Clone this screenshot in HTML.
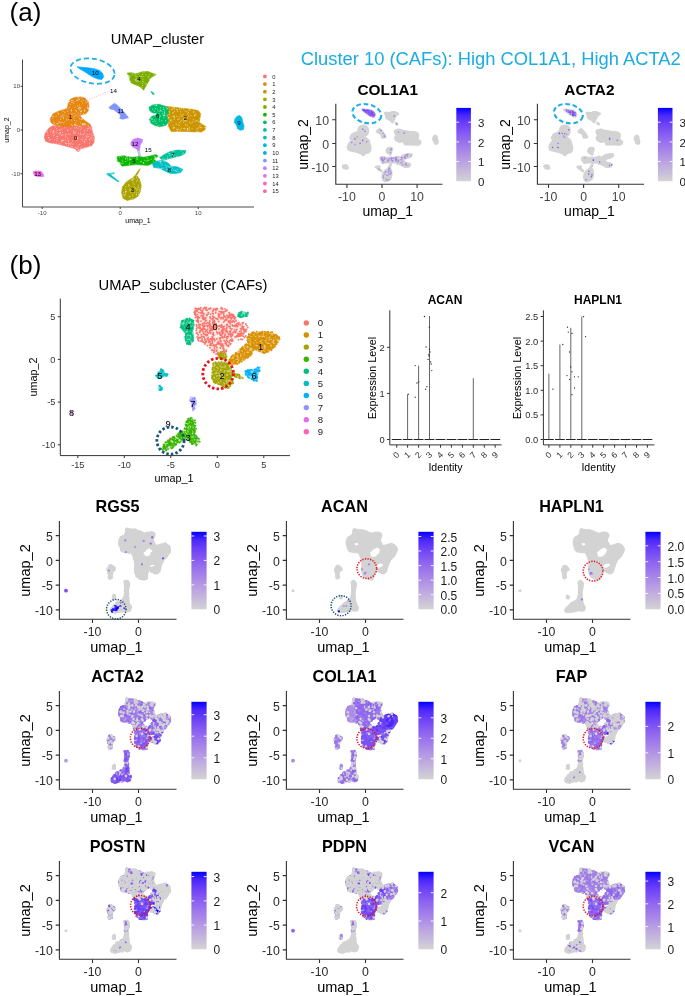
<!DOCTYPE html><html><head><meta charset="utf-8"><style>html,body{margin:0;padding:0;background:#fff;}svg{display:block;}</style></head><body>
<svg width="685" height="996" viewBox="0 0 685 996" style="font-family:'Liberation Sans',Arial,sans-serif">
<rect width="685" height="996" fill="#fff"/>
<defs><linearGradient id="cb" x1="0" y1="1" x2="0" y2="0"><stop offset="0" stop-color="#D3D3D3"/><stop offset="0.1" stop-color="#CAC0D9"/><stop offset="0.2" stop-color="#C1AEDE"/><stop offset="0.3" stop-color="#B69CE3"/><stop offset="0.4" stop-color="#AA89E7"/><stop offset="0.5" stop-color="#9D77EC"/><stop offset="0.6" stop-color="#8E65F0"/><stop offset="0.7" stop-color="#7C51F4"/><stop offset="0.8" stop-color="#673DF8"/><stop offset="0.9" stop-color="#4926FB"/><stop offset="1" stop-color="#0000FF"/></linearGradient></defs>
<text x="9.6" y="21.4" font-size="26">(a)</text>
<text x="9.6" y="274.1" font-size="26">(b)</text>
<text x="0.0" y="0.0" font-size="14.2" text-anchor="middle" transform="translate(157.4 43.6) scale(1.03 1)">UMAP_cluster</text>
<polygon points="77.0,66.7 82.6,67.3 88.4,67.8 94.2,68.7 99.3,70.2 102.6,73.2 103.7,76.9 101.8,79.5 97.9,79.1 93.5,77.3 89.1,74.7 84.3,71.5 79.9,69.0" fill="#00A9FF" stroke="#00A9FF" stroke-width="0.6" stroke-linejoin="round"/>
<polygon points="108.8,107.6 112.5,104.6 114.7,103.2 117.6,105.4 120.5,108.3 123.4,111.2 126.4,114.9 128.5,117.8 125.6,118.5 122.7,119.2 119.8,118.5 120.5,114.9 117.6,112.7 113.9,109.7 110.3,109.0" fill="#8494FF" stroke="#8494FF" stroke-width="0.6" stroke-linejoin="round"/>
<polygon points="46.8,130.9 49.0,128.0 52.6,125.8 59.2,126.2 68.0,125.8 78.2,123.6 85.5,123.6 89.6,123.6 91.3,126.5 92.5,132.4 94.5,136.8 93.9,142.6 91.6,145.8 86.2,147.3 81.1,148.7 78.9,151.6 76.7,150.9 75.3,148.7 68.0,146.7 59.2,144.3 50.4,142.9 45.8,141.4 44.3,137.5 45.0,133.8" fill="#F8766D" stroke="#F8766D" stroke-width="0.6" stroke-linejoin="round"/>
<polygon points="50.7,117.8 53.1,113.7 59.2,110.9 65.0,109.3 67.7,107.3 68.2,102.9 70.6,99.1 75.3,97.3 81.4,96.9 85.2,98.2 88.1,101.4 89.0,106.1 88.1,111.2 85.8,113.7 82.6,114.4 79.9,115.1 81.4,117.8 85.0,120.7 88.7,123.3 90.1,126.5 85.5,125.4 73.8,126.1 63.6,126.8 56.0,125.4 51.6,123.2 50.0,120.0" fill="#E68613" stroke="#E68613" stroke-width="0.6" stroke-linejoin="round"/>
<polygon points="127.0,73.0 131.7,72.8 136.1,73.7 141.9,71.8 148.0,71.4 150.9,72.8 156.2,74.4 153.3,76.3 150.4,78.1 148.2,82.3 146.0,85.9 143.6,90.3 141.6,88.1 138.7,85.9 134.3,84.5 130.5,82.3 129.6,78.4 128.5,75.4" fill="#7CAE00" stroke="#7CAE00" stroke-width="0.6" stroke-linejoin="round"/>
<polygon points="150.7,91.5 152.8,92.2 154.3,94.1 152.8,94.4" fill="#00C19A" stroke="#00C19A" stroke-width="0.6" stroke-linejoin="round"/>
<polygon points="166.0,106.4 172.6,107.1 181.3,108.3 193.0,109.3 198.4,110.8 200.6,113.4 199.9,119.2 199.1,122.2 202.0,124.3 205.8,126.5 205.1,129.7 201.3,131.9 194.5,131.9 185.7,131.4 178.4,131.4 171.1,131.4 168.6,126.5 167.9,120.7 167.2,114.9 166.4,110.5" fill="#CD9600" stroke="#CD9600" stroke-width="0.6" stroke-linejoin="round"/>
<polygon points="148.9,107.3 152.8,104.9 158.7,104.2 163.8,105.7 167.7,107.3 168.5,111.9 167.0,116.3 168.5,122.2 165.5,125.4 159.4,126.8 154.7,125.4 150.9,123.2 149.5,119.2 151.8,116.3 156.2,114.9 156.8,113.0 153.3,113.0 150.1,111.5" fill="#00BE67" stroke="#00BE67" stroke-width="0.6" stroke-linejoin="round"/>
<polygon points="130.9,142.4 133.3,139.2 138.0,138.0 142.6,139.6 141.9,142.4 140.4,144.6 139.7,149.0 139.0,150.7 135.8,148.5 132.6,147.1 130.7,144.6" fill="#C77CFF" stroke="#C77CFF" stroke-width="0.6" stroke-linejoin="round"/>
<polygon points="117.2,156.7 123.4,155.8 132.1,157.3 139.4,156.6 143.8,157.3 151.1,155.8 155.8,154.4 158.1,156.3 154.3,158.5 155.8,161.4 151.4,163.9 148.2,165.3 142.3,165.0 136.5,164.6 129.2,165.3 121.9,166.2 120.1,163.1 117.2,160.9" fill="#0CB702" stroke="#0CB702" stroke-width="0.6" stroke-linejoin="round"/>
<polygon points="159.6,157.7 164.2,154.5 170.1,151.6 177.4,150.1 185.8,150.4 185.1,153.4 180.6,155.8 174.5,157.3 168.6,158.8 162.8,160.4" fill="#00C19A" stroke="#00C19A" stroke-width="0.6" stroke-linejoin="round"/>
<polygon points="152.3,163.6 156.9,161.1 162.8,160.4 167.4,162.6 171.8,166.2 177.7,166.9 182.9,169.4 180.6,172.6 175.9,173.4 170.1,173.4 165.4,171.2 159.6,168.2 153.7,167.5" fill="#00BFC4" stroke="#00BFC4" stroke-width="0.6" stroke-linejoin="round"/>
<polygon points="140.1,168.7 138.7,172.3 136.8,175.3 139.7,179.6 141.2,185.5 140.4,191.3 138.2,196.0 133.9,198.9 127.0,200.4 123.1,198.2 121.6,192.8 122.3,186.9 126.7,181.5 132.6,177.9 135.5,175.0 137.7,171.6" fill="#ABA300" stroke="#ABA300" stroke-width="0.6" stroke-linejoin="round"/>
<polygon points="106.6,173.8 113.9,172.8 114.3,173.5 110.2,174.5 119.0,181.4 118.4,182.0 107.3,174.7" fill="#00BFC4" stroke="#00BFC4" stroke-width="0.6" stroke-linejoin="round"/>
<polygon points="234.9,119.0 237.0,116.2 239.8,115.5 241.9,117.6 242.7,121.8 244.1,126.1 243.4,129.6 240.5,130.3 237.7,128.9 236.3,124.7 234.2,122.6" fill="#00B8E7" stroke="#00B8E7" stroke-width="0.6" stroke-linejoin="round"/>
<polygon points="33.3,171.6 36.5,170.9 40.9,171.2 43.1,173.8 43.8,176.4 39.4,176.7 35.0,176.0 33.6,173.8" fill="#ED68ED" stroke="#ED68ED" stroke-width="0.6" stroke-linejoin="round"/>
<path d="M139.1,149.7L141.2,157.4M138.2,147.2L140.3,157.7" stroke="#C77CFF" stroke-width="0.5" fill="none"/>
<path d="M137.2,149.7L139.7,158.0" stroke="#0CB702" stroke-width="0.5" fill="none"/>
<path d="M56.3,138.9h0M62.9,140.5h0M75.7,125.4h0M57.3,130.2h0M94.3,136.8h0M86.3,137.0h0M76.4,127.8h0M76.2,147.9h0M70.6,144.4h0M78.0,125.4h0M82.4,140.2h0M87.8,136.9h0M80.4,148.2h0M80.2,149.4h0M88.4,126.3h0M51.1,129.7h0M92.8,135.8h0M75.8,132.1h0M69.8,134.4h0M61.9,140.0h0M78.6,149.7h0M78.0,128.2h0M89.7,139.6h0M80.2,129.5h0M86.1,139.7h0M64.9,127.8h0M88.1,124.9h0M75.2,124.9h0M80.4,132.9h0M74.4,124.5h0M54.2,135.0h0M75.0,128.0h0M89.3,134.2h0M67.4,138.2h0M76.6,140.3h0M72.4,141.0h0M91.5,137.8h0M66.0,143.8h0M56.2,132.1h0M93.4,138.2h0M65.2,139.9h0M76.1,125.3h0M75.8,136.7h0M78.4,133.5h0M79.8,144.3h0M78.3,150.6h0M56.9,136.4h0M74.1,132.6h0M62.6,132.4h0M62.8,140.3h0M59.4,134.2h0M83.1,124.4h0M72.9,144.2h0M59.9,129.9h0M84.7,130.3h0M53.7,135.8h0M79.4,126.5h0M60.5,133.0h0M86.2,135.9h0M87.3,128.4h0M61.2,141.8h0M88.7,136.3h0M55.6,127.0h0M70.9,129.0h0M84.8,147.1h0M53.5,131.4h0M84.8,141.6h0M84.8,133.3h0M50.8,131.8h0M84.2,131.2h0M61.7,135.3h0M65.4,135.1h0M90.5,128.0h0M90.9,129.8h0M81.7,147.1h0M77.6,138.2h0M58.8,133.2h0M73.9,131.7h0M85.0,124.9h0M89.7,143.1h0M89.5,139.8h0M52.9,132.0h0M77.6,138.3h0M75.0,133.2h0M68.3,145.5h0M62.0,129.1h0M71.2,146.5h0M85.7,123.8h0M75.9,147.8h0M46.8,131.2h0M57.8,138.4h0M65.5,136.9h0M83.3,123.7h0M48.6,137.7h0M60.2,132.4h0M61.9,141.7h0M73.8,133.7h0M53.9,132.8h0M50.5,139.2h0M80.3,134.3h0M63.1,140.6h0M83.6,134.3h0M84.5,141.1h0M66.0,134.1h0M69.2,143.3h0M65.4,143.1h0M67.4,130.5h0M71.2,143.1h0M47.9,135.5h0M91.3,134.1h0M89.4,145.8h0M57.5,136.6h0M77.6,148.5h0M84.1,142.3h0M81.2,139.4h0M49.5,140.1h0M83.2,124.9h0M88.5,128.6h0M78.1,147.1h0M92.1,139.8h0M84.4,124.6h0M82.8,137.9h0M80.2,126.6h0M47.4,132.7h0M72.6,146.8h0M56.5,128.7h0M56.9,140.9h0M82.1,134.6h0M62.8,134.7h0M61.9,135.3h0M48.5,137.6h0M93.2,135.2h0M81.8,128.1h0M79.0,144.8h0M78.1,138.1h0M68.6,141.6h0M89.4,127.8h0M90.3,138.1h0M66.6,143.8h0M53.7,131.1h0M54.3,140.0h0M60.1,130.1h0M79.0,150.3h0M59.2,143.4h0M73.7,131.1h0M68.4,134.3h0M53.0,133.7h0M68.4,140.4h0M85.6,139.2h0M68.5,143.8h0M87.3,134.8h0M67.8,130.0h0M56.1,143.7h0M78.2,150.5h0M87.2,130.4h0M53.8,130.9h0M53.7,143.4h0M84.5,123.8h0M60.2,122.8h0M79.3,99.5h0M53.7,121.9h0M73.3,117.1h0M67.5,111.4h0M58.4,114.4h0M88.4,108.6h0M71.9,100.5h0M61.0,116.8h0M54.5,123.4h0M86.5,99.8h0M87.8,108.1h0M81.0,119.6h0M61.9,117.1h0M76.3,121.0h0M60.7,119.5h0M71.5,100.3h0M69.8,107.4h0M78.8,117.2h0M72.7,102.3h0M75.9,115.8h0M57.2,123.5h0M76.3,100.6h0M87.4,101.1h0M63.3,118.5h0M74.0,113.5h0M76.0,110.6h0M52.8,118.3h0M80.3,113.2h0M79.7,107.6h0M70.3,104.3h0M80.9,107.5h0M71.7,120.0h0M64.2,122.2h0M81.3,118.7h0M66.7,119.1h0M82.7,119.3h0M73.8,101.3h0M71.2,113.9h0M81.4,97.8h0M82.2,123.6h0M88.1,108.4h0M72.2,114.3h0M77.6,105.9h0M84.5,111.4h0M74.1,118.6h0M50.1,120.0h0M76.6,111.6h0M71.0,110.7h0M57.8,112.7h0M75.9,110.2h0M72.7,125.6h0M85.8,101.0h0M71.6,124.7h0M63.0,122.9h0M77.9,100.9h0M79.7,107.2h0M82.4,124.8h0M84.6,110.0h0M80.4,111.4h0M78.1,113.0h0M66.9,116.3h0M62.2,110.8h0M80.4,108.9h0M57.2,123.8h0M78.9,107.9h0M64.9,112.7h0M73.9,103.6h0M81.4,101.2h0M68.5,102.7h0M68.0,109.1h0M78.2,98.4h0M66.2,108.8h0M69.1,101.8h0M75.0,107.3h0M79.2,105.1h0M81.6,110.8h0M87.5,105.9h0M52.2,116.5h0M86.1,102.9h0M82.3,124.4h0M62.2,115.1h0M61.8,122.3h0M63.4,117.2h0M87.3,102.1h0M79.7,118.9h0M83.5,113.5h0M87.1,107.8h0M81.3,111.3h0M78.9,115.0h0M78.5,108.5h0M69.6,101.5h0M78.5,97.6h0M68.7,119.6h0M77.2,99.8h0M59.5,122.1h0M75.8,123.2h0M85.0,110.4h0M72.8,100.2h0M53.2,116.3h0M56.1,116.2h0M59.2,125.8h0M58.8,113.7h0M66.8,120.3h0M74.3,120.5h0M71.5,102.5h0M83.1,100.3h0M58.0,123.6h0M58.9,121.7h0M74.7,116.1h0M80.6,123.0h0M63.9,114.9h0M82.7,103.1h0M71.6,110.8h0M79.2,99.2h0M63.9,111.4h0M79.5,109.6h0M76.0,115.0h0M74.6,124.8h0M71.5,109.4h0M149.6,79.1h0M132.4,73.2h0M148.1,76.9h0M142.2,83.5h0M135.1,79.6h0M148.8,76.8h0M130.0,77.0h0M139.0,72.8h0M137.9,74.4h0M136.1,80.1h0M142.4,81.6h0M135.3,80.1h0M135.7,76.0h0M130.8,81.4h0M142.7,74.5h0M128.5,75.2h0M139.6,77.8h0M129.7,77.3h0M139.2,76.3h0M145.3,84.2h0M134.2,73.9h0M141.9,87.1h0M143.1,76.7h0M139.1,81.2h0M132.0,74.8h0M143.0,79.1h0M137.3,80.0h0M155.0,74.3h0M136.2,81.3h0M144.9,71.9h0M143.8,81.8h0M141.2,76.7h0M137.8,81.1h0M145.8,75.1h0M153.9,74.8h0M136.2,76.5h0M136.3,78.8h0M135.2,73.8h0M129.3,75.7h0M142.4,85.5h0M129.0,76.4h0M141.1,76.4h0M143.0,72.2h0M146.7,83.6h0M149.2,74.7h0M173.5,127.4h0M181.2,109.1h0M177.2,109.7h0M171.8,109.6h0M180.0,129.8h0M169.1,111.3h0M180.1,130.7h0M185.3,124.4h0M179.7,125.5h0M197.1,120.9h0M184.5,120.1h0M183.6,120.0h0M189.7,130.2h0M204.4,127.8h0M172.7,113.2h0M174.1,107.7h0M197.6,131.7h0M193.3,119.8h0M187.5,117.7h0M171.8,121.7h0M178.9,119.3h0M180.9,114.5h0M180.3,121.7h0M200.3,127.7h0M177.4,131.3h0M176.7,109.5h0M185.9,125.1h0M179.6,122.9h0M177.2,131.1h0M184.0,118.6h0M187.2,128.7h0M183.6,122.2h0M168.7,117.3h0M199.8,126.2h0M180.6,111.9h0M187.9,129.0h0M183.2,128.5h0M194.3,115.6h0M178.0,119.3h0M181.9,115.9h0M192.0,128.7h0M189.3,110.1h0M174.7,115.9h0M190.5,110.0h0M169.2,114.6h0M187.5,129.9h0M187.3,125.2h0M199.0,127.8h0M193.2,109.5h0M184.9,129.1h0M177.4,111.2h0M198.8,121.7h0M169.4,107.1h0M176.9,116.3h0M186.4,117.4h0M191.0,123.2h0M183.4,108.9h0M169.3,117.7h0M196.0,131.7h0M185.1,117.2h0M201.6,127.5h0M179.2,117.1h0M189.2,129.0h0M174.0,116.4h0M169.5,122.8h0M186.9,121.0h0M169.4,112.3h0M184.7,128.3h0M187.5,113.7h0M187.0,111.6h0M177.9,129.4h0M171.3,120.0h0M190.7,115.5h0M196.6,129.6h0M200.2,125.2h0M174.1,107.9h0M183.2,114.4h0M173.7,128.6h0M174.6,127.4h0M174.4,111.2h0M181.3,128.1h0M182.0,116.3h0M173.1,112.8h0M176.5,124.1h0M179.5,109.2h0M174.8,117.7h0M188.5,112.7h0M193.9,111.9h0M192.7,122.0h0M173.0,125.6h0M181.7,120.2h0M189.8,122.4h0M197.3,128.3h0M185.5,121.2h0M176.7,129.3h0M193.3,112.1h0M198.6,131.6h0M185.2,111.0h0M194.6,115.0h0M195.2,121.3h0M170.3,119.9h0M199.9,118.6h0M187.5,128.4h0M183.8,119.0h0M189.2,127.4h0M174.1,108.8h0M196.3,120.5h0M178.1,129.2h0M205.4,127.7h0M195.8,113.8h0M195.3,115.3h0M185.1,120.9h0M175.9,124.2h0M188.4,116.2h0M170.4,120.5h0M178.7,124.9h0M172.9,116.5h0M173.8,116.8h0M189.0,109.1h0M168.2,118.7h0M174.0,119.3h0M172.6,109.0h0M187.4,130.0h0M165.9,115.9h0M156.7,105.7h0M154.3,111.3h0M167.4,115.0h0M157.4,110.1h0M167.7,108.4h0M160.1,115.8h0M152.8,109.2h0M168.2,122.1h0M163.3,124.6h0M150.8,120.1h0M163.6,109.3h0M157.8,126.2h0M155.3,121.4h0M152.1,119.3h0M154.2,115.7h0M156.2,123.9h0M163.5,115.6h0M162.3,113.9h0M164.6,110.0h0M159.5,117.4h0M156.5,105.3h0M152.2,118.7h0M153.0,121.4h0M158.8,125.8h0M165.5,120.7h0M156.2,105.2h0M159.8,121.1h0M166.9,108.8h0M163.4,115.2h0M163.4,107.6h0M159.5,119.3h0M160.7,107.8h0M151.6,118.3h0M166.2,107.3h0M164.3,113.0h0M160.9,110.2h0M154.4,120.0h0M159.0,111.6h0M164.6,113.0h0M164.7,114.3h0M162.0,111.6h0M164.6,112.0h0M150.8,111.3h0M160.1,116.5h0M160.6,110.8h0M155.5,108.6h0M160.0,110.2h0M163.8,117.8h0M161.9,120.8h0M159.1,113.8h0M154.9,105.6h0M164.4,115.5h0M141.0,161.8h0M122.2,160.3h0M136.8,157.3h0M117.7,160.0h0M119.2,162.4h0M129.7,160.0h0M129.5,158.0h0M122.7,161.8h0M147.7,160.7h0M148.7,160.4h0M144.8,160.4h0M120.0,162.4h0M146.3,161.0h0M133.2,159.9h0M129.7,163.1h0M127.8,160.0h0M127.7,158.6h0M143.8,163.2h0M125.5,158.4h0M119.6,157.2h0M141.1,161.6h0M127.1,156.5h0M121.2,156.5h0M137.7,157.4h0M153.3,161.1h0M131.1,159.5h0M147.9,158.7h0M146.9,157.6h0M126.2,157.1h0M125.3,161.5h0M143.5,163.0h0M121.5,163.4h0M136.8,158.9h0M137.8,159.5h0M125.4,159.1h0M143.6,162.8h0M154.6,156.7h0M122.9,163.6h0M154.0,155.8h0M129.2,164.5h0M154.3,159.5h0M123.2,156.9h0M151.1,159.4h0M130.1,159.6h0M155.2,157.4h0M130.2,158.9h0M127.2,157.0h0M155.6,157.1h0M154.1,158.3h0M129.6,156.9h0M173.8,155.9h0M170.0,155.3h0M167.4,158.7h0M181.1,150.9h0M163.6,160.0h0M174.2,151.3h0M183.3,152.9h0M164.8,159.6h0M167.7,156.9h0M162.4,159.3h0M170.0,153.7h0M176.8,156.2h0M182.5,153.7h0M173.8,154.3h0M168.3,153.1h0M171.1,158.0h0M172.2,151.4h0M164.0,158.8h0M172.2,154.1h0M169.4,153.8h0M173.9,155.0h0M172.6,154.8h0M166.7,169.7h0M160.2,161.4h0M168.8,171.3h0M178.2,171.8h0M163.9,161.8h0M175.1,170.7h0M173.9,170.0h0M171.3,170.3h0M158.1,167.3h0M168.3,169.1h0M176.8,171.5h0M160.9,163.4h0M165.7,165.4h0M168.2,169.4h0M162.0,164.7h0M175.8,170.5h0M161.3,161.3h0M180.7,169.8h0M170.5,165.6h0M158.9,161.7h0M163.0,168.2h0M172.2,166.3h0M172.5,168.2h0M171.2,166.8h0M168.3,166.7h0M167.1,166.1h0M160.3,162.1h0M169.5,167.9h0M166.2,167.7h0M161.1,168.9h0M177.2,169.1h0M161.3,168.5h0M170.2,166.8h0M138.4,185.1h0M132.4,180.2h0M132.1,179.7h0M138.3,187.1h0M126.3,191.2h0M136.3,175.9h0M138.5,194.6h0M130.0,190.9h0M135.3,188.3h0M125.1,194.0h0M123.5,192.3h0M129.4,196.5h0M136.5,190.4h0M130.0,189.9h0M138.8,192.1h0M139.8,190.7h0M128.6,184.8h0M136.2,194.5h0M134.3,184.1h0M125.4,186.7h0M130.9,199.2h0M138.9,187.3h0M124.8,194.9h0M136.5,181.1h0M125.6,189.4h0M125.7,192.7h0M132.8,194.8h0M139.3,189.7h0M129.0,186.4h0M130.1,189.1h0M136.4,177.5h0M125.4,191.8h0M137.7,189.4h0M125.8,191.5h0M131.8,180.5h0M133.1,182.9h0M134.3,192.5h0M132.8,198.6h0M134.5,187.0h0M137.1,188.4h0M133.0,178.5h0M130.9,192.6h0M129.1,185.3h0M124.8,195.9h0M136.6,192.8h0M123.2,194.6h0M129.9,196.8h0M133.8,178.6h0M137.5,179.9h0M139.2,181.4h0M132.3,195.9h0M133.1,179.7h0M136.4,194.8h0M132.9,188.5h0M127.9,181.6h0M109.1,174.3h0M112.1,173.6h0M111.0,173.4h0" stroke="#fff" stroke-width="0.9" stroke-linecap="round" fill="none" opacity="0.75"/>
<line x1="86.9" y1="100.3" x2="110.3" y2="90.8" stroke="#FF61CC" stroke-width="0.6" stroke-dasharray="0.8 1.2"/>
<text x="95.3" y="74.8" font-size="6.2" text-anchor="middle">10</text>
<text x="120.8" y="113.2" font-size="6.2" text-anchor="middle">11</text>
<text x="70.4" y="119.0" font-size="6.2" text-anchor="middle">1</text>
<text x="75.5" y="139.5" font-size="6.2" text-anchor="middle">0</text>
<text x="113.5" y="92.8" font-size="6.2" text-anchor="middle">14</text>
<text x="139.0" y="81.1" font-size="6.2" text-anchor="middle">4</text>
<text x="157.7" y="118.0" font-size="6.2" text-anchor="middle">6</text>
<text x="185.3" y="120.1" font-size="6.2" text-anchor="middle">2</text>
<text x="135.0" y="145.9" font-size="6.2" text-anchor="middle">12</text>
<text x="148.2" y="151.7" font-size="6.2" text-anchor="middle">15</text>
<text x="134.0" y="163.4" font-size="6.2" text-anchor="middle">5</text>
<text x="173.0" y="156.5" font-size="6.2" text-anchor="middle">7</text>
<text x="169.3" y="172.4" font-size="6.2" text-anchor="middle">8</text>
<text x="132.4" y="191.9" font-size="6.2" text-anchor="middle">3</text>
<text x="239.1" y="125.3" font-size="6.2" text-anchor="middle">9</text>
<text x="37.6" y="176.1" font-size="6.2" text-anchor="middle">13</text>
<ellipse cx="92.5" cy="71.1" rx="22.3" ry="12.3" transform="rotate(10 92.5 71.1)" fill="none" stroke="#1CAEE4" stroke-width="1.8" stroke-dasharray="5 3"/>
<path d="M22.5,59.5V207.0H254.0" fill="none" stroke="#333" stroke-width="0.9"/>
<path d="M42.2,207.0v2M120.2,207.0v2M198.2,207.0v2M22.5,86.3h-2M22.5,130.0h-2M22.5,173.7h-2" fill="none" stroke="#333" stroke-width="0.9"/>
<text x="20.0" y="88.3" font-size="6" text-anchor="end" fill="#444">10</text>
<text x="20.0" y="132.0" font-size="6" text-anchor="end" fill="#444">0</text>
<text x="20.0" y="175.7" font-size="6" text-anchor="end" fill="#444">-10</text>
<text x="42.2" y="215.0" font-size="6" text-anchor="middle" fill="#444">-10</text>
<text x="120.2" y="215.0" font-size="6" text-anchor="middle" fill="#444">0</text>
<text x="198.2" y="215.0" font-size="6" text-anchor="middle" fill="#444">10</text>
<text x="138.0" y="223.0" font-size="7" text-anchor="middle">umap_1</text>
<text x="9.0" y="130.0" font-size="7" text-anchor="middle" transform="rotate(-90 9.0 130.0)">umap_2</text>
<circle cx="264.9" cy="76.40" r="1.9" fill="#F8766D"/>
<text x="272.2" y="78.5" font-size="5.8" fill="#222">0</text>
<circle cx="264.9" cy="84.05" r="1.9" fill="#E68613"/>
<text x="272.2" y="86.2" font-size="5.8" fill="#222">1</text>
<circle cx="264.9" cy="91.70" r="1.9" fill="#CD9600"/>
<text x="272.2" y="93.8" font-size="5.8" fill="#222">2</text>
<circle cx="264.9" cy="99.35" r="1.9" fill="#ABA300"/>
<text x="272.2" y="101.5" font-size="5.8" fill="#222">3</text>
<circle cx="264.9" cy="107.00" r="1.9" fill="#7CAE00"/>
<text x="272.2" y="109.1" font-size="5.8" fill="#222">4</text>
<circle cx="264.9" cy="114.65" r="1.9" fill="#0CB702"/>
<text x="272.2" y="116.8" font-size="5.8" fill="#222">5</text>
<circle cx="264.9" cy="122.30" r="1.9" fill="#00BE67"/>
<text x="272.2" y="124.4" font-size="5.8" fill="#222">6</text>
<circle cx="264.9" cy="129.95" r="1.9" fill="#00C19A"/>
<text x="272.2" y="132.1" font-size="5.8" fill="#222">7</text>
<circle cx="264.9" cy="137.60" r="1.9" fill="#00BFC4"/>
<text x="272.2" y="139.7" font-size="5.8" fill="#222">8</text>
<circle cx="264.9" cy="145.25" r="1.9" fill="#00B8E7"/>
<text x="272.2" y="147.3" font-size="5.8" fill="#222">9</text>
<circle cx="264.9" cy="152.90" r="1.9" fill="#00A9FF"/>
<text x="272.2" y="155.0" font-size="5.8" fill="#222">10</text>
<circle cx="264.9" cy="160.55" r="1.9" fill="#8494FF"/>
<text x="272.2" y="162.7" font-size="5.8" fill="#222">11</text>
<circle cx="264.9" cy="168.20" r="1.9" fill="#C77CFF"/>
<text x="272.2" y="170.3" font-size="5.8" fill="#222">12</text>
<circle cx="264.9" cy="175.85" r="1.9" fill="#ED68ED"/>
<text x="272.2" y="178.0" font-size="5.8" fill="#222">13</text>
<circle cx="264.9" cy="183.50" r="1.9" fill="#FF61CC"/>
<text x="272.2" y="185.6" font-size="5.8" fill="#222">14</text>
<circle cx="264.9" cy="191.15" r="1.9" fill="#FF68A1"/>
<text x="272.2" y="193.2" font-size="5.8" fill="#222">15</text>
<text x="300.8" y="64.8" font-size="18.35" fill="#1AACE2">Cluster 10 (CAFs): High COL1A1, High ACTA2</text>
<text x="0.0" y="0.0" font-size="14.5" text-anchor="middle" font-weight="bold" transform="translate(387.8 94.6) scale(1.06 1)">COL1A1</text>
<g fill="#D3D3D3" stroke="#D3D3D3" stroke-width="2.4" stroke-linejoin="round"><polygon points="362.6,109.6 365.1,109.9 367.7,110.2 370.3,110.7 372.6,111.5 374.1,113.1 374.6,115.1 373.8,116.5 372.0,116.2 370.0,115.3 368.1,113.9 365.9,112.2 363.9,110.8"/><polygon points="376.9,131.5 378.5,129.9 379.5,129.1 380.8,130.3 382.1,131.9 383.4,133.4 384.8,135.4 385.7,137.0 384.4,137.3 383.1,137.7 381.8,137.3 382.1,135.4 380.8,134.2 379.2,132.7 377.6,132.3"/><polygon points="349.1,144.0 350.0,142.4 351.7,141.3 354.6,141.5 358.6,141.3 363.1,140.1 366.4,140.1 368.3,140.1 369.0,141.6 369.6,144.8 370.5,147.1 370.2,150.2 369.2,152.0 366.7,152.7 364.5,153.5 363.5,155.1 362.5,154.7 361.8,153.5 358.6,152.4 354.6,151.2 350.7,150.4 348.6,149.6 347.9,147.5 348.3,145.6"/><polygon points="350.8,137.0 351.9,134.8 354.6,133.3 357.2,132.4 358.4,131.3 358.7,129.0 359.7,126.9 361.8,126.0 364.6,125.8 366.3,126.5 367.6,128.2 368.0,130.7 367.6,133.4 366.5,134.8 365.1,135.2 363.9,135.5 364.6,137.0 366.2,138.5 367.9,139.9 368.5,141.6 366.4,141.0 361.2,141.4 356.6,141.8 353.2,141.0 351.2,139.8 350.5,138.1"/><polygon points="385.1,113.0 387.2,112.9 389.1,113.3 391.7,112.3 394.5,112.1 395.8,112.9 398.2,113.7 396.8,114.8 395.5,115.7 394.6,118.0 393.6,119.9 392.5,122.3 391.6,121.1 390.3,119.9 388.3,119.1 386.6,118.0 386.2,115.8 385.7,114.3"/><polygon points="395.7,122.9 396.6,123.3 397.3,124.3 396.6,124.4"/><polygon points="402.5,130.9 405.5,131.2 409.4,131.9 414.7,132.4 417.1,133.2 418.1,134.6 417.7,137.7 417.4,139.3 418.7,140.5 420.4,141.6 420.1,143.4 418.4,144.5 415.3,144.5 411.4,144.2 408.1,144.2 404.8,144.2 403.7,141.6 403.4,138.5 403.1,135.4 402.7,133.0"/><polygon points="394.9,131.3 396.6,130.1 399.3,129.7 401.6,130.5 403.3,131.3 403.7,133.8 403.0,136.2 403.7,139.3 402.3,141.0 399.6,141.8 397.5,141.0 395.8,139.8 395.1,137.7 396.2,136.2 398.2,135.4 398.4,134.4 396.8,134.4 395.4,133.6"/><polygon points="386.8,150.1 387.9,148.4 390.0,147.8 392.1,148.7 391.7,150.1 391.1,151.3 390.8,153.7 390.4,154.6 389.0,153.4 387.5,152.6 386.7,151.3"/><polygon points="380.7,157.8 383.4,157.3 387.3,158.1 390.6,157.7 392.6,158.1 395.9,157.3 398.0,156.6 399.0,157.6 397.3,158.7 398.0,160.3 396.0,161.6 394.6,162.4 391.9,162.3 389.3,162.0 386.0,162.4 382.8,162.9 382.0,161.2 380.7,160.1"/><polygon points="399.7,158.4 401.8,156.6 404.4,155.1 407.7,154.3 411.5,154.4 411.1,156.0 409.1,157.3 406.3,158.1 403.7,158.9 401.1,159.8"/><polygon points="396.4,161.5 398.5,160.2 401.1,159.8 403.2,160.9 405.2,162.9 407.8,163.3 410.1,164.6 409.1,166.3 407.0,166.7 404.4,166.7 402.3,165.5 399.7,164.0 397.0,163.6"/><polygon points="390.9,164.2 390.3,166.2 389.4,167.7 390.8,170.1 391.4,173.2 391.1,176.3 390.1,178.8 388.1,180.4 385.1,181.2 383.3,180.0 382.6,177.1 383.0,174.0 384.9,171.1 387.5,169.1 388.9,167.6 389.8,165.8"/><polygon points="375.9,167.0 379.2,166.4 379.4,166.8 377.5,167.3 381.5,171.0 381.2,171.3 376.2,167.4"/><polygon points="433.5,137.6 434.4,136.1 435.7,135.7 436.6,136.9 436.9,139.1 437.6,141.4 437.3,143.3 436.0,143.7 434.7,142.9 434.1,140.6 433.2,139.5"/><polygon points="343.0,165.8 344.4,165.4 346.4,165.5 347.4,167.0 347.7,168.4 345.8,168.5 343.8,168.1 343.1,167.0"/></g>
<polygon points="362.6,109.6 365.1,109.9 367.7,110.2 370.3,110.7 372.6,111.5 374.1,113.1 374.6,115.1 373.8,116.5 372.0,116.2 370.0,115.3 368.1,113.9 365.9,112.2 363.9,110.8" fill="#A480EA" stroke="#A480EA" stroke-width="2" stroke-linejoin="round"/>
<path d="M396.3,160.8h0M391.2,158.3h0M388.0,159.8h0M382.0,159.6h0M392.2,158.2h0M382.6,157.5h0M387.7,161.7h0M396.1,157.4h0M380.9,157.9h0M385.1,162.3h0M387.9,161.5h0M396.3,160.1h0M386.0,159.1h0M390.7,158.8h0M382.5,158.9h0M391.6,159.8h0M386.2,158.8h0M405.3,155.3h0M406.0,155.6h0M405.3,157.1h0M402.2,158.9h0M401.8,158.1h0M405.2,158.0h0M405.3,158.0h0M403.0,161.6h0M405.0,164.6h0M406.2,163.4h0M397.6,162.5h0M408.1,165.5h0M401.6,160.5h0M391.0,172.9h0M385.8,178.7h0M388.6,170.0h0M389.6,174.0h0M386.1,180.2h0M389.3,173.9h0M390.6,174.2h0M379.4,169.6h0" stroke="#BBA5E0" stroke-width="1.6" stroke-linecap="round" fill="none"/>
<path d="M384.3,135.2h0M382.9,133.3h0M354.9,144.6h0M357.3,136.7h0M398.4,132.1h0M390.5,152.5h0M391.4,148.9h0M395.7,160.7h0M384.6,158.0h0M382.4,160.8h0M388.8,160.1h0M389.0,158.7h0M383.9,158.8h0M391.4,159.0h0M396.9,159.6h0M384.3,159.4h0M381.6,158.1h0M392.0,160.3h0M384.5,159.3h0M382.7,162.7h0M383.4,160.4h0M389.0,159.1h0M391.9,160.7h0M396.8,157.7h0M406.2,154.7h0M401.0,159.5h0M405.1,158.3h0M407.5,156.3h0M405.2,158.3h0M405.5,157.6h0M407.3,155.1h0M407.7,154.4h0M411.0,156.0h0M405.0,156.5h0M404.0,157.2h0M400.8,162.7h0M398.6,160.4h0M398.6,161.3h0M406.2,165.1h0M401.5,162.9h0M398.1,161.4h0M402.8,164.7h0M406.4,165.0h0M405.7,164.3h0M383.2,177.7h0M386.7,175.1h0M391.2,172.5h0M384.4,174.3h0M383.3,176.1h0M385.7,171.4h0M390.2,173.9h0M385.5,172.4h0M387.3,180.0h0M388.2,172.3h0M389.0,179.7h0M390.2,170.8h0M388.0,175.6h0M389.0,171.2h0M388.7,169.6h0M378.7,169.2h0" stroke="#AD8EE6" stroke-width="1.6" stroke-linecap="round" fill="none"/>
<path d="M370.8,112.5h0M368.1,111.7h0M372.1,114.4h0M369.6,112.7h0M373.1,115.1h0M366.7,111.4h0M366.6,111.1h0M365.3,111.2h0M374.3,114.1h0M366.9,112.7h0M368.6,113.3h0M365.6,111.5h0M371.9,113.1h0M373.6,112.6h0M384.3,136.6h0M351.7,142.5h0M366.8,141.8h0M365.0,131.2h0M394.2,116.1h0M396.8,124.1h0M390.7,149.7h0M395.8,158.3h0M391.5,158.0h0M381.7,159.5h0M388.0,160.8h0M393.8,158.1h0M392.6,160.9h0M395.8,160.6h0M395.7,159.7h0M395.6,159.5h0M382.9,160.7h0M401.6,157.5h0M389.4,168.4h0" stroke="#9D77EC" stroke-width="1.6" stroke-linecap="round" fill="none"/>
<path d="M369.5,112.3h0M372.4,115.5h0M374.0,114.3h0M368.8,113.8h0M373.4,115.0h0M367.3,112.3h0M363.4,110.1h0M365.1,110.7h0M368.2,112.9h0M365.0,111.0h0M364.1,110.6h0M365.6,111.6h0M367.9,110.9h0M371.3,113.4h0M370.0,113.1h0M368.8,114.4h0M381.0,130.5h0M362.7,140.4h0M360.1,143.3h0M362.8,129.2h0M355.0,138.9h0M404.2,133.0h0" stroke="#8A60F1" stroke-width="1.6" stroke-linecap="round" fill="none"/>
<path d="M366.5,110.6h0M369.0,112.1h0M371.4,111.6h0M371.0,113.7h0M364.6,110.4h0M365.6,112.0h0M367.0,110.4h0M363.6,110.3h0M369.0,110.6h0M372.4,114.7h0M372.7,112.9h0M370.4,115.1h0M373.5,115.0h0M371.6,112.9h0M373.5,115.1h0" stroke="#7248F6" stroke-width="1.6" stroke-linecap="round" fill="none"/>
<path d="M335.8,103.8V184.3H442.5" fill="none" stroke="#333" stroke-width="1.1"/>
<path d="M346.9,184.3v3.6M382.0,184.3v3.6M417.1,184.3v3.6M335.8,119.8h-3.6M335.8,143.5h-3.6M335.8,166.5h-3.6" fill="none" stroke="#333" stroke-width="1.1"/>
<text x="329.0" y="125.3" font-size="12.3" text-anchor="end" fill="#444">10</text>
<text x="329.0" y="149.0" font-size="12.3" text-anchor="end" fill="#444">0</text>
<text x="329.0" y="172.0" font-size="12.3" text-anchor="end" fill="#444">-10</text>
<text x="346.9" y="200.6" font-size="12.3" text-anchor="middle" fill="#444">-10</text>
<text x="382.0" y="200.6" font-size="12.3" text-anchor="middle" fill="#444">0</text>
<text x="417.1" y="200.6" font-size="12.3" text-anchor="middle" fill="#444">10</text>
<text x="387.8" y="216.2" font-size="14" text-anchor="middle">umap_1</text>
<text x="308.0" y="144.5" font-size="14" text-anchor="middle" transform="rotate(-90 308.0 144.5)">umap_2</text>
<rect x="456.3" y="107.9" width="14.6" height="73.3" fill="url(#cb)"/>
<text x="477.9" y="186.0" font-size="11.5" fill="#1a1a1a">0</text>
<text x="477.9" y="166.4" font-size="11.5" fill="#1a1a1a">1</text>
<text x="477.9" y="146.7" font-size="11.5" fill="#1a1a1a">2</text>
<text x="477.9" y="127.1" font-size="11.5" fill="#1a1a1a">3</text>
<path d="M456.3,161.5h2.8M468.1,161.5h2.8M456.3,141.9h2.8M468.1,141.9h2.8M456.3,122.2h2.8M468.1,122.2h2.8" stroke="#fff" stroke-width="0.9"/>
<ellipse cx="366.8" cy="113.7" rx="14.6" ry="9.4" transform="rotate(12 366.8 113.7)" fill="none" stroke="#1CAEE4" stroke-width="2.1" stroke-dasharray="4.6 2.8"/>
<text x="0.0" y="0.0" font-size="14.5" text-anchor="middle" font-weight="bold" transform="translate(589.4 94.6) scale(1.06 1)">ACTA2</text>
<g fill="#D3D3D3" stroke="#D3D3D3" stroke-width="2.4" stroke-linejoin="round"><polygon points="564.2,109.6 566.7,109.9 569.3,110.2 571.9,110.7 574.2,111.5 575.7,113.1 576.2,115.1 575.4,116.5 573.6,116.2 571.6,115.3 569.7,113.9 567.5,112.2 565.5,110.8"/><polygon points="578.5,131.5 580.1,129.9 581.1,129.1 582.4,130.3 583.7,131.9 585.0,133.4 586.4,135.4 587.3,137.0 586.0,137.3 584.7,137.7 583.4,137.3 583.7,135.4 582.4,134.2 580.8,132.7 579.2,132.3"/><polygon points="550.7,144.0 551.6,142.4 553.3,141.3 556.2,141.5 560.2,141.3 564.7,140.1 568.0,140.1 569.9,140.1 570.6,141.6 571.2,144.8 572.1,147.1 571.8,150.2 570.8,152.0 568.3,152.7 566.1,153.5 565.1,155.1 564.1,154.7 563.4,153.5 560.2,152.4 556.2,151.2 552.3,150.4 550.2,149.6 549.5,147.5 549.9,145.6"/><polygon points="552.4,137.0 553.5,134.8 556.2,133.3 558.8,132.4 560.0,131.3 560.3,129.0 561.3,126.9 563.4,126.0 566.2,125.8 567.9,126.5 569.2,128.2 569.6,130.7 569.2,133.4 568.1,134.8 566.7,135.2 565.5,135.5 566.2,137.0 567.8,138.5 569.5,139.9 570.1,141.6 568.0,141.0 562.8,141.4 558.2,141.8 554.8,141.0 552.8,139.8 552.1,138.1"/><polygon points="586.7,113.0 588.8,112.9 590.7,113.3 593.3,112.3 596.1,112.1 597.4,112.9 599.8,113.7 598.4,114.8 597.1,115.7 596.2,118.0 595.2,119.9 594.1,122.3 593.2,121.1 591.9,119.9 589.9,119.1 588.2,118.0 587.8,115.8 587.3,114.3"/><polygon points="597.3,122.9 598.2,123.3 598.9,124.3 598.2,124.4"/><polygon points="604.1,130.9 607.1,131.2 611.0,131.9 616.3,132.4 618.7,133.2 619.7,134.6 619.3,137.7 619.0,139.3 620.3,140.5 622.0,141.6 621.7,143.4 620.0,144.5 616.9,144.5 613.0,144.2 609.7,144.2 606.4,144.2 605.3,141.6 605.0,138.5 604.7,135.4 604.3,133.0"/><polygon points="596.5,131.3 598.2,130.1 600.9,129.7 603.2,130.5 604.9,131.3 605.3,133.8 604.6,136.2 605.3,139.3 603.9,141.0 601.2,141.8 599.1,141.0 597.4,139.8 596.7,137.7 597.8,136.2 599.8,135.4 600.0,134.4 598.4,134.4 597.0,133.6"/><polygon points="588.4,150.1 589.5,148.4 591.6,147.8 593.7,148.7 593.3,150.1 592.7,151.3 592.4,153.7 592.0,154.6 590.6,153.4 589.1,152.6 588.3,151.3"/><polygon points="582.3,157.8 585.0,157.3 588.9,158.1 592.2,157.7 594.2,158.1 597.5,157.3 599.6,156.6 600.6,157.6 598.9,158.7 599.6,160.3 597.6,161.6 596.2,162.4 593.5,162.3 590.9,162.0 587.6,162.4 584.4,162.9 583.6,161.2 582.3,160.1"/><polygon points="601.3,158.4 603.4,156.6 606.0,155.1 609.3,154.3 613.1,154.4 612.7,156.0 610.7,157.3 607.9,158.1 605.3,158.9 602.7,159.8"/><polygon points="598.0,161.5 600.1,160.2 602.7,159.8 604.8,160.9 606.8,162.9 609.4,163.3 611.7,164.6 610.7,166.3 608.6,166.7 606.0,166.7 603.9,165.5 601.3,164.0 598.6,163.6"/><polygon points="592.5,164.2 591.9,166.2 591.0,167.7 592.4,170.1 593.0,173.2 592.7,176.3 591.7,178.8 589.7,180.4 586.7,181.2 584.9,180.0 584.2,177.1 584.6,174.0 586.5,171.1 589.1,169.1 590.5,167.6 591.4,165.8"/><polygon points="577.5,167.0 580.8,166.4 581.0,166.8 579.1,167.3 583.1,171.0 582.8,171.3 577.8,167.4"/><polygon points="635.1,137.6 636.0,136.1 637.3,135.7 638.2,136.9 638.5,139.1 639.2,141.4 638.9,143.3 637.6,143.7 636.3,142.9 635.7,140.6 634.8,139.5"/><polygon points="544.6,165.8 546.0,165.4 548.0,165.5 549.0,167.0 549.3,168.4 547.4,168.5 545.4,168.1 544.7,167.0"/></g>
<path d="M584.9,158.2h0" stroke="#BBA5E0" stroke-width="1.6" stroke-linecap="round" fill="none"/>
<path d="M569.9,112.3h0M572.8,115.1h0M575.3,113.1h0M568.7,111.6h0M575.8,115.1h0M563.3,136.0h0M566.6,134.3h0M609.5,138.2h0" stroke="#AD8EE6" stroke-width="1.6" stroke-linecap="round" fill="none"/>
<path d="M571.5,110.8h0M572.7,112.5h0M566.2,109.9h0M572.8,113.1h0M569.0,111.0h0M572.5,112.6h0M574.7,114.5h0M568.3,112.2h0M566.9,111.5h0M573.0,111.1h0M566.7,111.2h0M572.5,111.5h0M568.6,111.4h0M574.6,112.6h0M568.7,110.4h0M573.3,111.9h0M558.1,143.5h0M562.2,133.4h0M564.5,137.2h0M617.3,140.4h0M609.6,165.6h0M586.2,179.7h0" stroke="#9D77EC" stroke-width="1.6" stroke-linecap="round" fill="none"/>
<path d="M567.1,110.2h0M574.2,112.7h0M572.0,112.5h0M570.3,111.9h0M572.6,113.6h0M573.6,115.5h0M570.4,111.3h0M574.0,112.9h0M569.6,112.1h0M573.3,114.6h0M570.5,114.2h0M575.0,115.4h0M575.3,115.5h0M575.0,112.6h0M568.9,112.2h0M552.6,147.5h0M564.6,133.7h0M568.7,129.8h0M599.7,162.0h0M611.6,164.8h0M591.9,174.9h0M588.7,174.1h0M589.0,171.2h0M591.4,176.7h0" stroke="#8A60F1" stroke-width="1.6" stroke-linecap="round" fill="none"/>
<path d="M570.2,113.0h0M574.0,112.8h0M572.8,111.5h0M572.9,115.5h0M572.7,115.0h0M572.3,114.0h0M558.0,147.5h0M559.4,133.4h0M609.8,139.1h0" stroke="#7248F6" stroke-width="1.6" stroke-linecap="round" fill="none"/>
<path d="M593.3,160.1h0" stroke="#522DFB" stroke-width="1.6" stroke-linecap="round" fill="none"/>
<path d="M537.4,103.8V184.3H644.1" fill="none" stroke="#333" stroke-width="1.1"/>
<path d="M548.5,184.3v3.6M583.6,184.3v3.6M618.7,184.3v3.6M537.4,119.8h-3.6M537.4,143.5h-3.6M537.4,166.5h-3.6" fill="none" stroke="#333" stroke-width="1.1"/>
<text x="530.6" y="125.3" font-size="12.3" text-anchor="end" fill="#444">10</text>
<text x="530.6" y="149.0" font-size="12.3" text-anchor="end" fill="#444">0</text>
<text x="530.6" y="172.0" font-size="12.3" text-anchor="end" fill="#444">-10</text>
<text x="548.5" y="200.6" font-size="12.3" text-anchor="middle" fill="#444">-10</text>
<text x="583.6" y="200.6" font-size="12.3" text-anchor="middle" fill="#444">0</text>
<text x="618.7" y="200.6" font-size="12.3" text-anchor="middle" fill="#444">10</text>
<text x="589.4" y="216.2" font-size="14" text-anchor="middle">umap_1</text>
<text x="509.6" y="144.5" font-size="14" text-anchor="middle" transform="rotate(-90 509.6 144.5)">umap_2</text>
<rect x="657.9" y="107.9" width="14.6" height="73.3" fill="url(#cb)"/>
<text x="679.5" y="186.0" font-size="11.5" fill="#1a1a1a">0</text>
<text x="679.5" y="166.4" font-size="11.5" fill="#1a1a1a">1</text>
<text x="679.5" y="146.7" font-size="11.5" fill="#1a1a1a">2</text>
<text x="679.5" y="127.1" font-size="11.5" fill="#1a1a1a">3</text>
<path d="M657.9,161.5h2.8M669.7,161.5h2.8M657.9,141.9h2.8M669.7,141.9h2.8M657.9,122.2h2.8M669.7,122.2h2.8" stroke="#fff" stroke-width="0.9"/>
<ellipse cx="568.4" cy="113.7" rx="14.6" ry="9.4" transform="rotate(12 568.4 113.7)" fill="none" stroke="#1CAEE4" stroke-width="2.1" stroke-dasharray="4.6 2.8"/>
<text x="0.0" y="0.0" font-size="14.2" text-anchor="middle" transform="translate(182.9 289.9) scale(1.04 1)">UMAP_subcluster (CAFs)</text>
<polygon points="194.0,305.4 198.3,307.9 204.5,307.4 214.4,306.9 224.3,307.9 229.3,311.1 234.2,314.8 239.2,321.0 244.7,327.2 246.7,331.0 242.9,334.7 236.7,338.4 231.8,344.6 228.0,349.6 224.3,354.0 218.1,355.8 211.9,354.0 209.4,348.3 204.5,343.4 198.3,340.9 195.8,334.7 196.5,327.2 195.0,317.3 193.3,309.9" fill="#F8766D" opacity="0.15"/>
<polygon points="180.1,323.0 182.8,319.5 188.0,317.8 193.3,319.5 195.0,324.8 193.3,330.0 194.2,337.0 193.3,342.3 189.8,344.9 186.3,344.1 184.5,338.8 185.4,333.5 181.9,330.0 180.1,327.4" fill="#00BF7D" opacity="0.5"/>
<polygon points="237.1,313.4 242.3,311.1 248.5,312.5 247.6,316.0 242.3,317.8 238.0,316.9" fill="#00BF7D" opacity="0.5"/>
<polygon points="246.7,337.2 251.6,332.2 261.5,331.0 271.5,331.7 278.9,335.9 280.2,339.6 276.4,345.8 271.5,350.8 265.3,353.3 259.1,352.1 252.9,349.6 247.9,344.6" fill="#D89000" opacity="0.5"/>
<polygon points="228.0,362.0 231.8,355.8 239.2,349.6 246.7,343.4 254.1,349.6 251.6,355.0 244.2,360.7 236.7,364.5 230.5,365.7" fill="#D89000" opacity="0.5"/>
<polygon points="213.1,362.5 218.1,361.5 223.1,361.0 228.0,363.7 231.8,367.4 233.0,373.1 231.8,379.4 233.7,383.1 230.5,386.8 227.3,388.8 223.1,387.3 219.4,385.1 213.9,382.6 211.4,376.9 211.9,369.4" fill="#A3A500" opacity="0.5"/>
<polygon points="233.0,373.1 239.2,374.4 244.2,378.1 240.4,379.4 234.2,376.9" fill="#A3A500" opacity="0.5"/>
<polygon points="218.1,352.1 224.3,350.8 228.0,357.0 221.8,360.7 218.1,358.3" fill="#A3A500" opacity="0.5"/>
<polygon points="244.1,370.3 249.3,369.5 254.6,368.6 258.1,366.8 260.7,366.0 259.9,370.3 258.1,375.6 257.2,380.8 254.6,381.7 251.1,379.1 247.6,377.3 245.0,373.8" fill="#00B0F6" opacity="0.5"/>
<polygon points="155.5,375.8 157.7,372.8 160.7,368.5 162.8,369.9 165.0,372.8 169.4,374.3 166.5,376.5 162.1,378.0 158.5,378.7 156.3,378.0" fill="#00BFC4" opacity="0.5"/>
<polygon points="158.5,385.3 160.7,384.5 162.8,388.2 162.1,390.4 159.2,390.4 158.0,388.2" fill="#00BFC4" opacity="0.5"/>
<polygon points="189.9,396.2 194.2,396.9 197.2,401.3 195.7,405.7 194.2,410.1 192.8,412.3 192.0,408.6 191.3,404.2 189.9,399.9" fill="#9590FF" opacity="0.5"/>
<polygon points="187.1,418.2 191.7,416.6 195.4,420.3 196.3,428.9 194.7,433.5 199.3,438.1 200.3,442.7 196.3,445.8 191.7,444.2 188.6,440.6 184.0,439.6 179.4,443.3 173.3,447.9 166.5,451.0 161.0,449.4 163.5,443.6 171.1,437.5 180.3,432.0 184.9,427.4 185.5,421.2" fill="#39B600" opacity="0.3"/>
<polygon points="70.5,411.5 73.0,411.5 73.2,414.5 70.5,414.5" fill="#E76BF3" opacity="0.5"/>
<path d="M217.4,333.6h0M242.6,328.9h0M220.4,335.0h0M203.1,331.2h0M226.9,345.3h0M198.3,320.7h0M228.2,336.4h0M221.5,308.4h0M203.4,317.6h0M216.8,347.8h0M221.0,337.6h0M220.0,338.8h0M217.7,319.4h0M210.1,317.0h0M208.7,308.9h0M234.2,325.6h0M238.5,324.9h0M241.9,329.1h0M197.2,337.1h0M234.8,319.0h0M197.9,322.1h0M199.6,317.8h0M198.7,308.4h0M223.1,327.9h0M203.5,342.3h0M200.3,337.8h0M199.5,326.6h0M204.7,319.0h0M204.5,325.3h0M204.7,318.4h0M234.5,322.0h0M209.1,309.1h0M198.1,334.7h0M206.3,335.7h0M213.1,328.2h0M244.5,329.8h0M224.0,349.0h0M203.0,313.2h0M206.6,315.0h0M240.4,335.8h0M215.8,310.6h0M206.0,340.9h0M225.1,320.2h0M202.7,341.7h0M197.0,316.9h0M223.1,348.3h0M226.1,319.5h0M217.1,308.4h0M202.7,324.0h0M223.8,312.0h0M212.6,350.3h0M230.2,334.8h0M219.0,342.2h0M197.3,332.9h0M232.6,340.8h0M212.1,339.9h0M215.6,345.2h0M239.4,334.2h0M226.6,324.7h0M224.4,336.1h0M197.6,337.6h0M232.2,325.0h0M232.5,334.7h0M216.8,347.6h0M219.0,317.0h0M230.6,330.4h0M226.1,351.8h0M209.4,339.6h0M204.1,313.9h0M216.9,350.3h0M210.7,338.9h0M203.9,327.1h0M240.3,324.8h0M224.4,321.3h0M200.6,330.4h0M208.1,313.9h0M217.3,319.3h0M204.7,326.2h0M226.7,330.3h0M210.1,347.7h0M231.1,334.1h0M209.8,345.3h0M194.3,312.2h0M200.8,307.8h0M226.9,327.9h0M226.9,338.4h0M229.8,315.4h0M218.6,314.4h0M231.4,314.4h0M207.8,322.8h0M230.5,331.6h0M226.1,343.5h0M214.3,345.3h0M200.2,328.2h0M213.4,334.0h0M243.7,328.8h0M228.0,315.7h0M227.5,341.5h0M221.9,345.2h0M239.0,322.9h0M197.7,327.6h0M222.7,344.1h0M211.2,345.1h0M200.8,312.9h0M220.9,341.8h0M243.8,330.2h0M205.1,331.9h0M208.8,342.1h0M227.4,331.7h0M238.3,333.6h0M209.9,324.6h0M245.0,331.8h0M223.9,315.5h0M221.9,330.7h0M245.0,331.4h0M214.7,345.8h0M223.3,330.1h0M222.0,326.2h0M207.7,329.2h0M200.1,327.2h0M218.7,321.4h0M203.5,336.5h0M203.6,316.8h0M230.0,321.6h0M212.3,336.6h0M199.8,331.1h0M206.7,315.4h0M221.6,327.4h0M213.3,326.2h0M221.5,313.4h0M204.2,337.2h0M227.4,332.1h0M238.7,336.2h0M206.1,342.0h0M207.1,310.3h0M237.7,326.6h0M214.8,339.9h0M220.3,343.6h0M220.1,339.9h0M203.4,308.9h0M222.7,331.3h0M223.6,312.8h0M203.1,315.7h0M217.9,343.9h0M210.7,328.9h0M220.8,327.1h0M203.0,328.3h0M232.7,325.8h0M203.7,313.7h0M226.9,325.8h0M225.3,330.8h0M236.8,325.8h0M230.4,344.0h0M234.1,325.8h0M211.5,329.0h0M227.4,336.8h0M228.8,322.4h0M228.5,334.1h0M221.7,325.0h0M230.7,343.8h0M226.1,342.6h0M207.0,325.6h0M196.0,315.2h0M213.3,310.3h0M222.6,331.0h0M225.2,343.6h0M201.8,329.2h0M202.3,330.4h0M243.7,326.6h0M221.4,335.5h0M212.8,319.8h0M228.2,333.6h0M208.4,341.5h0M206.4,307.5h0M214.1,350.6h0M216.2,329.5h0M221.2,352.6h0M231.9,329.0h0M225.5,311.2h0M226.6,328.3h0M204.2,308.0h0M221.5,311.7h0M216.9,339.0h0M217.6,318.6h0M224.4,326.5h0M234.8,332.1h0M232.5,317.4h0M235.1,336.9h0M212.5,319.1h0M229.8,333.9h0M224.9,337.3h0M233.5,315.0h0M195.4,308.5h0M207.7,326.8h0M226.6,310.6h0M222.2,309.0h0M197.9,339.5h0M222.7,337.2h0M213.2,329.5h0M204.5,322.7h0M197.3,311.4h0M236.5,336.8h0M234.3,316.1h0M215.9,318.4h0M236.5,324.0h0M210.7,333.0h0M216.1,324.0h0M197.5,309.6h0M223.4,329.8h0M229.9,320.4h0M204.7,338.7h0M197.7,320.7h0M232.0,340.4h0M208.4,312.6h0M212.4,342.0h0M212.8,311.3h0M231.1,334.1h0M242.0,327.5h0M236.1,320.7h0M210.2,325.5h0M206.5,323.6h0M212.8,323.7h0M214.4,324.9h0M203.7,333.8h0M235.8,332.6h0M237.9,333.7h0M222.3,334.0h0M222.5,345.1h0M197.8,309.5h0M197.8,337.3h0M227.9,317.8h0M205.1,344.0h0M221.1,343.9h0M214.3,322.4h0M219.6,332.5h0M231.8,341.1h0M242.1,326.1h0M221.2,341.2h0M236.1,326.6h0M215.7,312.8h0M213.3,313.8h0M204.2,326.8h0M196.5,320.9h0M199.4,338.0h0M196.6,328.5h0M224.5,351.2h0M195.2,310.9h0M203.1,316.3h0M205.9,341.5h0M225.0,316.7h0M203.2,319.5h0M209.9,333.0h0M236.9,329.5h0M222.5,353.6h0M219.0,316.5h0M236.1,324.8h0M221.4,331.4h0M228.4,317.4h0M213.1,345.5h0M231.4,335.9h0M201.7,313.3h0M210.5,318.5h0M239.7,331.4h0M207.5,332.3h0M197.7,319.0h0M218.9,329.0h0M235.4,326.4h0M222.3,331.9h0M209.9,321.0h0M197.3,320.8h0M218.2,341.4h0M212.5,340.0h0M198.9,325.3h0M217.9,354.1h0M231.2,317.4h0M223.4,328.5h0M226.2,320.0h0M213.4,332.6h0M209.2,322.4h0M214.2,339.0h0M207.0,315.5h0M232.3,322.0h0M243.7,333.7h0M231.9,322.1h0M200.8,310.1h0M229.5,341.1h0M202.9,325.7h0M238.0,335.3h0M198.1,316.8h0M201.7,311.6h0M215.0,309.1h0M242.4,326.9h0M220.6,338.0h0M213.9,322.1h0M214.7,340.7h0M228.5,336.1h0M211.6,338.2h0M199.0,324.4h0M220.5,345.1h0M237.3,336.2h0M241.5,333.0h0M212.1,330.6h0M200.9,341.3h0M245.9,331.4h0M226.8,315.4h0M197.7,317.7h0M224.1,340.5h0M212.6,328.7h0M222.3,333.6h0M223.2,318.7h0M236.9,335.7h0M206.1,334.3h0M222.5,309.2h0M195.0,314.5h0M228.4,320.9h0M229.1,342.6h0M213.7,335.2h0M203.9,329.0h0M200.9,324.9h0M223.7,314.1h0M221.0,318.7h0M223.6,322.1h0M229.1,312.7h0M218.4,326.1h0M226.6,340.1h0M215.1,327.3h0M223.5,351.0h0M221.4,331.8h0M216.4,351.0h0M210.4,308.1h0M232.4,335.5h0M233.4,320.7h0M225.0,308.9h0M199.9,327.9h0M220.1,325.4h0M221.4,317.4h0M209.6,325.3h0M205.9,308.8h0M215.8,346.0h0M205.1,343.0h0M223.5,350.9h0M199.9,332.5h0M206.3,320.5h0M210.6,308.5h0M214.5,323.4h0M209.7,330.5h0M218.5,315.8h0M238.0,323.2h0M218.5,314.0h0M204.1,337.3h0M196.0,310.7h0M232.0,321.2h0M217.0,309.4h0M205.2,320.9h0M231.2,315.3h0M203.0,317.3h0M228.8,345.2h0M213.2,338.7h0M240.5,335.1h0M205.5,320.6h0M208.1,337.6h0M216.8,332.0h0M221.6,307.7h0M225.3,319.7h0M197.9,319.8h0M233.6,317.8h0M208.2,333.0h0M217.9,343.2h0M213.8,352.2h0M220.0,314.5h0M223.0,337.9h0M212.5,338.6h0M235.1,331.4h0M220.3,348.0h0M229.8,331.6h0M225.7,317.2h0M216.8,344.3h0M205.9,330.0h0M205.1,334.6h0M225.1,341.4h0M223.8,349.4h0M202.9,313.0h0M216.5,327.6h0M207.3,345.6h0M223.6,332.8h0M235.5,317.4h0M201.1,321.1h0M226.4,331.9h0M207.4,335.0h0M202.4,318.2h0M201.8,340.2h0M196.6,326.1h0M212.7,316.3h0M219.4,343.7h0M217.6,342.9h0M195.4,317.5h0M214.3,320.4h0M215.9,309.2h0M205.6,318.1h0M222.7,317.6h0M217.9,352.4h0M212.7,322.4h0M211.6,340.4h0M239.4,335.1h0M240.6,328.7h0M214.3,347.9h0M213.6,344.8h0M204.8,322.9h0M203.1,333.1h0M202.0,315.6h0M204.7,329.0h0M209.8,327.9h0M213.7,309.1h0M230.2,323.7h0M203.0,318.6h0M214.3,351.9h0M231.5,318.9h0M212.6,313.1h0M210.5,324.8h0M210.6,344.2h0M221.0,308.2h0M214.3,317.4h0M195.5,313.0h0M210.0,326.8h0M222.3,312.2h0M231.0,318.5h0M232.0,339.0h0M201.1,315.7h0M208.3,341.3h0M214.9,324.9h0M208.9,322.8h0M204.8,307.4h0M223.5,346.1h0M204.8,340.1h0M227.0,309.9h0M216.1,325.2h0M196.5,324.7h0M210.8,330.4h0M208.2,313.4h0M214.8,329.3h0M202.2,338.9h0M206.1,310.1h0M211.5,326.7h0M201.3,334.7h0M230.7,333.3h0M214.2,323.7h0M196.6,325.8h0M196.2,330.4h0M224.6,329.0h0M210.7,318.2h0M240.9,333.9h0M207.3,339.0h0M203.2,329.0h0M212.6,334.4h0M226.8,336.7h0M215.2,326.3h0M240.2,324.6h0M200.5,330.9h0M209.8,323.5h0M203.6,316.9h0M229.6,317.2h0M214.3,317.4h0M219.6,338.1h0M222.5,336.8h0M223.2,347.3h0M211.8,350.0h0M210.0,341.5h0M230.4,340.0h0M201.8,336.7h0M219.5,333.8h0M213.0,319.8h0M233.3,332.3h0M205.9,317.9h0M210.6,314.3h0M220.7,311.7h0M196.7,308.8h0M198.7,340.9h0M199.3,328.1h0M234.5,329.6h0M206.8,331.0h0M235.8,325.2h0M231.5,318.1h0M231.5,321.9h0M211.1,343.6h0M223.6,326.6h0M231.0,336.8h0M200.0,324.4h0M229.0,317.0h0M224.5,352.8h0M230.0,326.5h0M227.0,325.4h0M208.6,342.2h0M222.2,329.7h0M213.2,321.0h0M208.4,325.1h0M226.3,344.0h0M230.3,332.9h0M202.6,310.8h0M219.3,311.5h0M223.5,312.6h0M226.7,319.2h0M205.4,329.7h0M212.8,318.5h0M196.0,308.6h0M197.5,314.6h0M219.1,326.3h0M236.4,325.3h0M196.4,333.1h0M228.3,336.8h0M216.9,347.4h0M232.0,314.2h0M194.7,313.9h0M199.6,309.2h0M212.4,343.4h0M209.8,331.3h0M221.4,346.2h0M214.6,345.9h0M230.9,318.0h0M224.1,316.8h0M214.0,324.0h0M228.3,346.2h0M212.8,337.5h0M212.2,319.5h0M198.3,322.3h0M232.9,316.0h0M233.0,332.9h0M229.6,314.3h0M198.9,312.6h0M212.0,327.1h0M214.8,321.6h0M222.0,353.4h0M210.4,343.4h0M216.2,353.9h0M205.0,326.0h0M231.0,314.3h0M207.9,339.5h0M203.1,323.4h0M227.2,324.4h0M227.7,316.1h0M226.2,350.1h0M220.2,334.0h0M230.1,328.2h0M228.8,326.5h0M213.8,317.0h0M225.3,334.2h0M226.8,327.9h0M225.0,335.3h0M218.3,355.4h0M232.7,321.2h0M214.7,349.1h0M219.5,317.2h0M235.9,331.2h0M217.5,332.4h0M208.2,337.8h0M245.8,335.9h0M240.9,339.2h0M240.5,335.0h0M242.7,333.7h0M248.7,334.0h0M242.5,323.7h0M244.2,331.7h0M247.8,327.5h0M245.5,329.6h0M241.3,330.9h0M243.1,336.1h0M246.5,329.5h0M243.3,322.6h0M244.5,337.3h0M242.3,323.3h0M246.7,325.6h0M240.0,336.0h0M242.5,327.4h0M245.7,324.0h0M244.2,331.6h0M240.4,333.5h0M238.4,339.6h0M242.4,323.5h0M242.5,339.5h0M241.7,335.6h0" stroke="#F8766D" stroke-width="1.9" stroke-linecap="round" fill="none"/>
<path d="M254.1,332.7h0M257.0,347.9h0M277.6,342.2h0M252.0,338.3h0M265.7,337.5h0M262.1,344.4h0M275.0,341.3h0M272.2,339.9h0M252.5,347.4h0M254.0,348.8h0M263.4,345.5h0M262.2,335.0h0M247.2,337.8h0M248.0,336.8h0M267.4,339.2h0M262.5,344.9h0M257.3,338.9h0M276.3,343.9h0M260.6,343.0h0M262.1,338.4h0M277.3,336.2h0M276.2,334.6h0M263.7,352.9h0M256.3,334.8h0M270.9,336.2h0M266.2,334.5h0M278.4,337.3h0M249.9,346.3h0M258.3,343.4h0M263.3,351.6h0M263.9,339.4h0M255.7,343.8h0M267.8,341.3h0M249.7,342.1h0M262.8,345.3h0M279.2,337.2h0M261.5,332.8h0M273.5,336.2h0M263.5,340.5h0M265.3,352.1h0M263.1,341.7h0M256.4,349.7h0M263.5,338.6h0M253.2,335.8h0M269.6,348.8h0M270.5,349.0h0M273.5,334.9h0M274.0,337.7h0M258.2,348.6h0M267.1,351.3h0M275.9,337.9h0M252.9,346.5h0M267.5,333.8h0M271.0,332.3h0M265.7,352.0h0M268.1,341.9h0M259.5,338.8h0M273.3,336.1h0M268.6,348.3h0M269.9,342.5h0M257.2,337.0h0M252.9,345.4h0M277.2,337.4h0M257.8,337.2h0M264.2,341.9h0M264.6,341.5h0M271.6,336.5h0M253.3,343.9h0M254.7,338.3h0M258.6,342.7h0M260.5,340.0h0M254.5,341.5h0M261.2,346.3h0M272.2,343.4h0M268.1,351.9h0M276.9,336.6h0M264.3,335.2h0M272.3,332.2h0M251.7,343.3h0M255.8,347.0h0M271.0,338.1h0M272.4,345.4h0M270.3,341.2h0M261.1,333.3h0M262.6,352.3h0M249.0,337.0h0M269.9,340.7h0M250.9,340.5h0M265.9,347.6h0M260.2,345.5h0M269.5,344.7h0M262.5,331.3h0M249.1,339.7h0M262.4,333.3h0M263.0,344.1h0M250.7,337.7h0M263.7,340.1h0M260.0,350.8h0M255.3,348.6h0M270.4,341.0h0M258.9,340.7h0M261.8,338.0h0M267.6,340.1h0M256.8,348.2h0M261.9,341.5h0M276.1,341.1h0M259.3,351.0h0M260.1,345.9h0M271.5,337.6h0M268.6,345.9h0M261.2,345.5h0M254.2,348.2h0M264.7,352.8h0M258.1,346.9h0M247.2,340.2h0M272.3,336.7h0M267.2,335.9h0M248.7,344.0h0M259.8,344.1h0M270.5,348.0h0M271.7,343.9h0M255.1,346.7h0M265.5,343.1h0M272.8,338.2h0M255.8,343.6h0M264.4,342.0h0M252.3,344.9h0M256.3,349.0h0M260.7,334.2h0M267.0,341.2h0M264.4,353.1h0M265.7,352.3h0M258.5,347.9h0M249.2,337.7h0M269.8,346.4h0M274.4,339.4h0M255.8,339.0h0M264.7,331.5h0M259.2,345.6h0M251.6,337.9h0M255.0,334.9h0M273.3,347.5h0M255.5,341.9h0M253.7,346.7h0M270.1,338.5h0M276.1,335.8h0M262.5,338.0h0M261.5,349.1h0M265.8,344.6h0M254.1,344.8h0M258.1,340.8h0M261.1,349.4h0M252.4,338.9h0M270.3,335.8h0M254.2,339.1h0M254.3,347.0h0M264.9,344.0h0M266.8,350.2h0M252.6,337.0h0M269.0,346.5h0M257.5,341.4h0M256.3,343.5h0M258.6,339.0h0M255.0,337.5h0M257.1,344.2h0M255.7,333.5h0M275.0,341.4h0M263.8,337.9h0M267.5,345.7h0M269.9,342.1h0M260.5,339.7h0M263.5,341.4h0M264.4,342.9h0M256.7,331.7h0M273.3,344.8h0M256.2,335.2h0M269.6,346.4h0M271.6,341.1h0M260.0,343.3h0M249.1,336.5h0M263.9,337.9h0M275.5,342.5h0M251.6,339.7h0M268.1,333.4h0M265.5,351.9h0M261.2,348.0h0M266.5,344.0h0M252.5,341.3h0M253.9,340.9h0M264.9,338.5h0M266.0,345.1h0M268.7,335.7h0M265.4,333.2h0M268.0,336.8h0M273.9,347.1h0M272.1,332.2h0M251.4,335.5h0M262.5,352.4h0M257.4,336.7h0M274.4,335.1h0M267.9,344.7h0M265.5,339.5h0M274.3,336.6h0M270.6,335.1h0M263.2,352.6h0M254.7,337.2h0M248.9,335.1h0M254.6,337.4h0M275.0,346.6h0M267.7,339.5h0M270.7,342.0h0M248.6,341.9h0M259.5,342.8h0M279.6,339.2h0M257.7,334.3h0M266.5,351.4h0M252.7,342.1h0M263.4,348.1h0M265.6,336.3h0M253.0,347.1h0M262.3,349.8h0M267.4,347.6h0M272.2,347.1h0M251.6,334.6h0M276.0,339.5h0M275.0,344.4h0M250.4,337.4h0M253.1,333.5h0M253.4,345.3h0M252.3,334.7h0M264.6,339.3h0M251.7,343.6h0M263.7,339.6h0M262.5,331.8h0M267.3,335.3h0M276.4,344.1h0M259.8,343.1h0M259.5,346.8h0M259.1,346.7h0M256.2,337.5h0M271.8,348.5h0M252.9,339.7h0M271.5,350.3h0M258.8,344.5h0M266.0,350.8h0M251.5,340.0h0M265.6,333.9h0M267.7,337.2h0M257.5,344.5h0M253.1,340.9h0M255.5,339.1h0M269.9,335.2h0M275.1,335.4h0M265.3,338.5h0M268.0,332.4h0M270.6,336.1h0M262.8,347.1h0M260.8,338.1h0M260.0,337.9h0M271.5,341.3h0M269.6,334.3h0M253.5,344.7h0M260.5,335.0h0M271.1,343.7h0M247.9,341.2h0M274.3,346.2h0M265.0,350.1h0M259.1,333.5h0M268.2,331.5h0M252.1,332.4h0M264.5,333.8h0M266.9,349.4h0M258.2,333.6h0M269.1,347.2h0M276.3,343.3h0M266.2,350.2h0M256.3,348.3h0M267.9,341.4h0M255.5,344.4h0M263.7,342.4h0M267.0,346.2h0M256.4,341.1h0M263.6,348.9h0M259.9,351.5h0M262.9,339.8h0M262.7,338.9h0M260.0,332.7h0M269.4,334.3h0M251.7,340.4h0M266.8,348.0h0M261.5,337.5h0M259.0,350.8h0M276.3,341.7h0M251.1,334.0h0M253.8,340.9h0M266.9,332.1h0M278.0,338.4h0M268.5,341.5h0M253.6,332.0h0M266.9,341.5h0M253.6,345.3h0M257.4,347.1h0M248.0,342.2h0M251.3,343.2h0M255.0,343.3h0M257.3,334.7h0M271.6,347.9h0M257.9,340.3h0M270.0,347.2h0M262.2,333.6h0M249.9,334.7h0M274.3,342.0h0M268.2,339.1h0M259.0,334.9h0M251.0,346.6h0M266.7,344.7h0M272.5,344.5h0M260.3,345.4h0M259.2,340.1h0M258.9,345.4h0M258.5,338.8h0M269.3,349.8h0M259.6,345.3h0M255.1,338.0h0M277.5,337.7h0M259.3,333.6h0M251.4,345.2h0M255.2,347.9h0M258.5,341.5h0M253.4,337.4h0M260.9,337.2h0M268.1,348.9h0M248.7,356.8h0M243.6,350.5h0M237.4,364.0h0M231.3,361.4h0M247.8,357.8h0M240.4,360.7h0M245.5,346.9h0M241.9,352.6h0M241.5,359.3h0M246.0,356.1h0M253.0,350.3h0M239.5,353.8h0M242.7,349.6h0M248.3,350.8h0M230.5,363.1h0M248.1,356.6h0M245.4,352.6h0M241.6,347.9h0M240.1,349.1h0M245.6,345.7h0M241.9,356.4h0M249.8,351.8h0M232.2,361.8h0M234.1,363.5h0M251.8,353.9h0M234.3,357.8h0M239.4,353.6h0M240.2,351.6h0M239.9,358.7h0M246.6,350.7h0M242.8,346.6h0M231.6,356.6h0M249.9,351.9h0M234.1,359.5h0M248.6,345.2h0M235.9,353.5h0M237.3,353.9h0M248.7,349.2h0M249.0,346.1h0M235.9,353.2h0M233.4,363.4h0M250.6,354.8h0M235.7,352.7h0M234.4,359.7h0M238.8,355.6h0M238.5,356.0h0M245.6,350.9h0M240.8,351.8h0M250.9,351.4h0M239.6,355.1h0M248.5,355.8h0M240.9,351.0h0M247.6,354.6h0M245.6,353.7h0M241.9,356.3h0M241.7,361.7h0M247.6,357.1h0M232.3,355.9h0M231.8,360.2h0M240.8,359.8h0M236.0,363.1h0M248.3,349.5h0M230.1,359.2h0M247.1,344.7h0M235.2,358.4h0M238.7,353.9h0M239.4,356.7h0M240.0,357.7h0M243.8,351.2h0M233.5,359.7h0M246.7,353.9h0M241.3,349.4h0M241.7,358.2h0M236.5,357.6h0M231.9,365.0h0M229.6,359.7h0M245.6,358.2h0M246.1,351.6h0M249.0,353.7h0M245.8,355.6h0M238.9,358.9h0M228.6,362.7h0M243.9,359.7h0M244.0,351.3h0M245.3,344.6h0M245.4,356.9h0M244.0,357.6h0M251.4,352.2h0M246.0,345.5h0M231.3,356.7h0M239.1,361.3h0M233.1,355.2h0M235.9,363.4h0M235.6,354.3h0M241.7,349.3h0M246.3,356.7h0M232.2,356.0h0M244.3,356.9h0M231.5,365.0h0M241.3,349.4h0M235.9,356.9h0M236.4,358.2h0M234.6,361.8h0M246.7,355.1h0M229.6,363.2h0M249.4,354.4h0M246.3,344.2h0M245.7,346.0h0M236.6,360.6h0M243.1,352.6h0M241.7,349.5h0M235.5,363.2h0M237.1,360.6h0M244.0,357.3h0M252.9,350.0h0M240.9,352.7h0M236.2,361.8h0M246.3,348.6h0M247.0,348.8h0M232.1,365.0h0M237.7,363.7h0M229.1,363.0h0M239.3,357.1h0M245.2,345.5h0M239.5,361.4h0M234.9,361.7h0M242.5,355.3h0M246.1,348.4h0M235.4,355.7h0M230.4,358.9h0M231.2,364.3h0M232.5,359.6h0M230.2,361.3h0M243.8,354.0h0M231.0,357.7h0M243.5,357.7h0M228.8,362.7h0M249.0,348.2h0M248.0,353.9h0M253.7,349.8h0M239.3,362.7h0M235.1,357.1h0M231.8,356.1h0M250.3,353.6h0M248.6,356.1h0M250.6,355.7h0M244.9,357.5h0M239.3,362.2h0M242.6,352.5h0M228.8,361.4h0M250.7,346.8h0M234.5,357.1h0M235.3,356.9h0M235.6,360.3h0M234.8,362.8h0M243.2,349.1h0M244.9,350.3h0M243.9,348.8h0M230.6,360.7h0M231.7,360.2h0M244.3,356.4h0M242.9,348.9h0M246.8,348.4h0M239.4,362.3h0M242.3,354.9h0M243.8,355.7h0M245.7,355.8h0M242.4,348.6h0M235.7,356.2h0M241.5,353.5h0M232.7,361.0h0" stroke="#D89000" stroke-width="1.7" stroke-linecap="round" fill="none"/>
<path d="M213.3,367.3h0M217.6,366.6h0M215.7,363.2h0M223.1,365.8h0M225.8,377.7h0M225.4,374.3h0M225.1,369.2h0M221.8,380.1h0M216.2,381.4h0M225.2,376.2h0M228.6,369.0h0M219.7,373.0h0M227.8,381.0h0M220.0,363.4h0M211.8,377.4h0M227.5,378.1h0M228.9,373.1h0M228.0,377.8h0M225.6,376.2h0M226.3,376.6h0M213.4,379.7h0M227.1,372.9h0M215.1,375.2h0M219.4,365.6h0M227.3,365.7h0M231.7,373.4h0M225.7,373.8h0M215.1,370.9h0M221.3,385.2h0M214.0,376.0h0M221.9,376.4h0M229.1,377.6h0M224.8,368.5h0M223.6,385.1h0M212.4,379.0h0M222.3,369.0h0M215.0,367.4h0M221.2,372.7h0M224.8,368.5h0M225.3,374.1h0M229.2,383.3h0M223.6,370.3h0M217.1,380.8h0M221.2,380.0h0M221.2,372.1h0M224.3,375.5h0M223.6,376.6h0M232.6,381.6h0M229.7,368.6h0M222.5,384.4h0M218.4,374.6h0M230.5,377.4h0M231.7,379.7h0M216.8,371.3h0M222.1,364.0h0M232.1,374.4h0M215.9,374.7h0M229.4,368.6h0M224.5,363.5h0M216.8,366.2h0M222.7,380.1h0M216.5,380.1h0M224.5,381.9h0M222.8,365.9h0M213.3,378.9h0M213.3,376.1h0M215.8,368.3h0M228.5,373.4h0M214.7,379.9h0M221.4,375.9h0M227.1,384.3h0M229.0,367.9h0M214.3,375.1h0M215.5,376.6h0M221.1,383.7h0M232.5,373.6h0M228.6,374.7h0M220.3,364.4h0M226.1,386.6h0M226.8,369.8h0M223.1,370.9h0M220.2,382.5h0M222.8,365.1h0M227.8,368.0h0M220.4,367.9h0M224.8,373.0h0M226.7,372.8h0M228.9,376.3h0M213.8,374.7h0M217.1,369.3h0M232.6,374.3h0M227.9,365.3h0M225.5,364.3h0M216.4,364.5h0M216.6,382.6h0M228.5,367.5h0M222.8,383.2h0M224.9,375.6h0M215.5,362.9h0M215.6,375.6h0M224.7,373.8h0M225.6,376.7h0M225.8,372.4h0M230.2,375.8h0M229.9,382.4h0M226.8,376.3h0M216.9,363.8h0M226.2,367.9h0M225.1,376.3h0M225.0,372.9h0M216.8,369.4h0M227.0,385.6h0M218.5,369.7h0M221.4,372.9h0M225.5,382.0h0M228.6,383.5h0M227.6,388.0h0M221.4,373.4h0M226.0,369.7h0M229.9,372.6h0M223.8,375.4h0M217.6,374.2h0M229.1,368.8h0M212.9,369.3h0M229.8,384.2h0M215.4,375.0h0M213.5,371.5h0M222.5,383.7h0M217.9,379.5h0M214.6,368.1h0M212.7,377.1h0M224.5,380.8h0M227.5,376.8h0M217.9,376.3h0M224.8,387.5h0M232.5,374.0h0M216.0,382.2h0M225.4,384.7h0M223.7,368.1h0M221.9,373.9h0M219.3,377.1h0M214.7,368.0h0M223.1,381.5h0M225.0,379.3h0M219.2,384.5h0M226.7,365.9h0M227.8,365.3h0M220.0,371.5h0M218.9,371.0h0M215.0,372.1h0M219.3,380.8h0M231.1,380.6h0M230.2,386.4h0M232.2,372.5h0M224.7,362.9h0M219.5,370.1h0M220.9,374.5h0M230.2,378.6h0M214.7,379.5h0M216.7,378.1h0M221.4,368.5h0M219.2,367.7h0M223.4,379.6h0M218.8,381.1h0M222.5,380.2h0M226.5,363.6h0M218.2,366.1h0M217.8,364.2h0M212.0,375.6h0M228.3,365.4h0M213.5,381.2h0M213.2,364.9h0M222.4,369.2h0M228.9,375.1h0M223.1,371.4h0M220.1,384.0h0M213.8,373.0h0M223.5,365.3h0M223.6,381.4h0M224.8,374.3h0M215.2,378.8h0M221.3,379.9h0M212.3,369.2h0M213.9,382.2h0M222.1,368.9h0M228.9,375.5h0M217.9,371.9h0M231.0,376.1h0M232.4,376.0h0M226.6,363.9h0M221.2,378.0h0M220.5,379.1h0M219.1,379.2h0M216.1,374.6h0M221.0,375.6h0M212.6,367.7h0M227.4,365.6h0M225.0,381.4h0M228.6,387.9h0M220.1,372.0h0M221.9,368.5h0M223.8,381.4h0M230.6,375.1h0M226.9,363.2h0M226.1,386.8h0M225.2,374.6h0M222.8,372.4h0M215.4,366.5h0M229.2,375.3h0M212.3,378.1h0M230.0,379.1h0M215.5,375.1h0M221.7,365.6h0M217.4,366.2h0M215.2,362.1h0M225.8,379.5h0M220.9,373.7h0M221.8,381.8h0M227.9,369.6h0M228.1,377.7h0M214.0,381.7h0M215.3,383.2h0M225.3,378.7h0M213.1,371.1h0M227.8,364.1h0M212.3,372.5h0M230.5,378.5h0M216.5,363.3h0M230.1,384.4h0M227.1,366.7h0M215.3,369.9h0M215.0,381.4h0M228.4,368.4h0M224.1,363.3h0M227.9,379.0h0M230.0,382.1h0M221.7,373.4h0M225.6,382.9h0M224.5,387.1h0M231.0,370.6h0M212.0,377.7h0M225.3,387.7h0M223.9,381.1h0M228.4,365.7h0M226.3,373.2h0M216.2,368.6h0M219.5,381.4h0M223.7,369.9h0M228.2,384.2h0M217.7,373.8h0M218.0,383.9h0M221.5,362.4h0M212.0,377.8h0M224.9,376.1h0M213.0,376.6h0M223.1,369.4h0M216.4,365.3h0M222.2,371.2h0M224.5,379.7h0M217.6,377.9h0M217.2,381.7h0M216.0,377.5h0M227.9,383.2h0M223.3,386.3h0M233.4,383.0h0M219.4,368.4h0M225.4,364.6h0M215.4,363.6h0M225.9,371.7h0M232.0,383.4h0M223.3,370.5h0M218.6,362.4h0M228.7,373.6h0M222.0,379.0h0M219.0,379.8h0M213.2,363.2h0M223.3,363.5h0M228.8,375.1h0M228.9,378.6h0M224.1,365.7h0M234.6,373.7h0M237.8,374.9h0M235.5,376.8h0M239.5,375.6h0M236.9,374.0h0M239.7,378.2h0M234.5,376.3h0M239.0,374.5h0M239.5,375.1h0M234.9,375.0h0M235.1,374.3h0M239.1,377.1h0M234.6,374.5h0M242.7,378.1h0M236.5,376.9h0M239.9,377.0h0M239.2,374.6h0M237.0,375.1h0M233.8,374.7h0M238.4,374.6h0M223.1,358.8h0M221.6,358.3h0M225.8,354.3h0M225.5,354.3h0M219.8,355.0h0M219.2,357.9h0M220.6,355.7h0M226.1,356.7h0M225.0,358.2h0M224.0,357.4h0M223.6,356.1h0M220.0,355.8h0M221.2,357.9h0M220.2,357.0h0M222.0,357.6h0M222.8,351.9h0M219.0,356.9h0M224.2,356.9h0M223.1,355.8h0M222.4,358.9h0M224.7,358.8h0M220.2,353.1h0M220.4,355.6h0M224.2,358.3h0M221.0,353.9h0M224.3,358.2h0M220.9,351.8h0M219.8,353.4h0M223.8,354.0h0M219.3,355.9h0M223.4,358.9h0M225.8,358.1h0M221.5,355.7h0M218.9,357.2h0M220.0,355.4h0M225.9,356.4h0M220.1,356.6h0M219.0,353.9h0M222.2,354.1h0M219.4,356.9h0" stroke="#A3A500" stroke-width="1.7" stroke-linecap="round" fill="none"/>
<path d="M176.3,440.6h0M193.9,433.6h0M194.7,442.7h0M177.2,441.0h0M196.3,445.6h0M191.5,418.0h0M182.6,431.5h0M190.8,439.2h0M177.7,434.0h0M184.3,436.8h0M190.0,442.0h0M183.4,434.9h0M192.0,427.2h0M196.4,438.3h0M188.1,436.4h0M171.0,443.1h0M186.5,421.3h0M182.6,434.0h0M177.0,436.1h0M196.8,437.2h0M190.3,432.6h0M195.7,443.0h0M181.4,431.3h0M193.5,425.6h0M195.8,435.4h0M182.4,431.6h0M164.7,447.7h0M189.4,427.1h0M163.2,446.9h0M188.0,425.7h0M186.2,429.0h0M182.2,438.9h0M194.2,425.4h0M183.4,436.1h0M184.7,434.4h0M186.8,425.6h0M190.7,420.3h0M165.2,446.8h0M192.3,421.7h0M169.2,441.8h0M194.7,435.0h0M195.8,441.3h0M171.4,439.0h0M191.0,435.8h0M189.7,420.9h0M186.5,428.6h0M192.0,429.2h0M187.9,421.1h0M187.0,432.7h0M167.0,445.6h0M190.0,430.4h0M186.7,431.4h0M191.8,426.7h0M164.7,445.1h0M185.0,428.9h0M191.2,428.4h0M192.9,435.0h0M174.7,441.4h0M186.6,429.7h0M194.4,441.4h0M188.9,432.9h0M190.4,418.2h0M177.0,442.1h0M188.3,433.9h0M191.2,433.3h0M190.6,422.3h0M188.4,436.3h0M188.3,440.2h0M166.7,445.6h0M185.5,424.4h0M182.7,432.7h0M175.1,445.1h0M168.0,448.9h0M195.1,430.5h0M187.7,420.7h0M190.0,428.9h0M171.0,447.1h0M191.4,443.1h0M189.9,431.4h0M191.2,441.5h0M180.9,441.5h0M183.0,435.5h0M168.2,440.9h0M165.6,447.9h0M199.8,441.5h0M168.0,442.2h0M197.6,438.2h0M182.1,434.6h0M188.1,429.3h0M193.1,439.8h0M194.4,429.0h0M172.9,438.4h0M180.7,433.7h0M194.1,431.6h0M193.5,425.8h0M192.2,429.7h0M183.1,440.1h0M189.2,423.8h0M187.4,422.3h0M170.6,443.4h0M190.1,439.0h0M172.0,439.5h0M163.8,446.1h0M175.0,438.3h0M169.6,445.2h0M166.2,442.6h0M193.8,438.6h0M171.6,448.5h0M192.9,420.3h0M162.8,449.8h0M169.3,440.1h0M183.0,433.7h0M190.9,435.9h0M192.4,438.2h0M179.2,442.1h0M185.8,425.5h0M171.7,443.2h0M194.8,432.4h0M183.2,439.1h0M187.9,420.3h0M186.9,436.0h0M188.1,439.2h0M188.4,425.1h0M198.0,441.3h0M169.3,443.5h0M173.4,440.4h0M193.8,442.8h0M193.8,433.0h0M175.7,443.8h0M182.3,438.1h0M166.9,444.9h0M191.4,438.9h0M193.6,441.2h0M188.4,422.3h0M179.2,433.8h0M173.4,443.6h0M169.6,444.2h0M191.1,438.2h0M170.4,439.5h0M175.1,440.6h0M168.5,443.5h0M188.4,419.5h0M169.6,440.9h0M195.5,425.8h0M190.7,423.0h0M176.7,435.8h0M174.0,443.6h0M167.3,446.5h0M193.3,428.9h0M178.9,435.6h0M166.3,449.9h0M179.0,432.8h0M163.7,447.9h0M166.2,450.4h0M180.1,432.3h0M188.7,436.2h0M188.6,418.9h0M185.0,433.6h0M172.1,444.2h0M189.6,433.5h0M179.8,434.8h0M172.6,445.7h0M163.4,444.5h0M168.3,445.4h0M188.4,435.3h0M182.2,431.4h0M173.5,439.4h0M187.1,438.0h0M181.5,439.7h0M193.0,424.4h0M196.1,428.7h0M176.7,439.3h0M161.5,448.9h0M188.0,429.0h0M194.9,435.0h0M170.0,442.1h0M170.2,444.3h0M179.9,436.0h0M165.4,442.1h0M192.9,443.6h0M180.7,435.5h0M190.4,436.9h0M173.7,436.6h0M186.9,427.1h0M196.0,435.8h0M169.7,438.9h0M187.3,436.0h0M163.9,448.9h0M182.5,436.9h0M176.3,444.4h0M191.1,440.4h0M167.4,440.8h0M195.8,440.2h0M187.1,435.3h0M189.7,435.4h0M192.4,422.0h0M179.5,438.2h0M189.8,441.3h0M186.0,437.2h0M184.6,428.2h0M192.4,435.4h0M178.1,434.3h0M193.0,441.0h0M179.6,442.6h0M186.9,425.1h0M186.5,424.6h0M191.4,430.4h0M164.4,447.2h0M188.5,421.1h0M184.8,431.9h0M165.8,449.4h0M188.2,418.6h0M196.3,438.8h0M193.3,443.1h0M167.8,444.5h0M181.5,431.8h0M180.3,433.3h0M188.9,430.9h0M184.9,436.9h0M193.8,434.8h0M191.2,431.9h0M177.9,441.9h0M188.6,435.9h0M193.0,439.7h0M167.2,446.7h0M193.3,423.5h0M196.8,444.6h0M192.6,422.6h0M174.7,443.7h0M193.6,430.4h0M177.2,440.5h0M189.3,424.3h0M190.2,437.4h0M183.5,434.7h0M182.1,439.4h0M186.4,422.2h0M194.7,430.9h0M180.3,438.1h0M173.8,437.0h0M189.8,424.5h0M195.6,441.1h0M183.9,434.9h0M190.6,419.7h0M191.7,426.9h0M186.1,435.2h0M180.4,437.1h0M191.0,438.8h0M192.4,420.4h0M180.8,433.7h0M174.3,437.3h0M180.4,432.1h0M186.0,435.2h0M190.7,430.4h0M163.5,448.4h0M194.4,427.3h0M196.2,444.8h0M189.2,423.8h0M192.9,423.1h0M179.3,436.6h0M163.9,447.6h0M190.6,425.1h0M194.0,422.1h0M192.0,432.0h0M181.1,439.3h0M177.0,442.4h0M189.7,432.4h0M198.2,438.6h0M192.6,429.3h0M171.7,443.6h0M190.9,438.0h0M172.7,447.7h0M194.3,436.7h0M179.4,434.8h0M173.6,445.9h0M166.0,450.6h0M195.1,420.3h0M191.9,442.4h0M191.9,423.9h0M195.5,422.8h0M190.7,423.3h0M194.8,431.6h0M164.3,444.7h0M179.1,433.7h0M177.7,441.5h0M196.1,437.0h0M190.1,424.2h0M170.1,438.4h0M164.4,445.8h0M164.4,445.1h0M174.0,442.2h0M170.0,442.6h0M192.0,443.9h0M187.6,436.6h0M181.6,432.4h0M167.0,446.9h0M183.1,437.0h0M181.3,435.5h0M199.0,438.8h0M189.3,420.1h0M194.2,430.8h0M169.3,443.2h0M178.1,436.9h0M194.9,438.3h0M173.5,446.3h0M181.2,435.9h0M182.2,432.7h0M191.6,425.3h0M178.1,439.8h0M194.2,429.7h0M171.0,445.1h0M191.1,434.2h0M172.5,437.2h0M174.2,439.6h0M192.2,444.2h0M191.4,420.9h0M171.6,439.6h0" stroke="#39B600" stroke-width="1.7" stroke-linecap="round" fill="none"/>
<path d="M191.9,331.1h0M192.9,338.7h0M188.3,342.4h0M192.0,321.9h0M185.6,320.5h0M180.7,327.2h0M193.0,340.4h0M181.9,322.7h0M185.9,340.8h0M189.3,342.3h0M193.2,337.5h0M185.2,326.3h0M189.5,325.3h0M189.1,336.6h0M182.8,321.3h0M190.5,330.4h0M182.1,320.9h0M185.5,323.1h0M191.1,327.6h0M184.8,328.9h0M186.5,340.0h0M186.2,330.2h0M187.7,343.3h0M185.3,336.9h0M190.2,330.1h0M191.2,334.1h0M186.8,319.5h0M186.4,325.4h0M186.7,343.7h0M190.2,324.4h0M186.3,321.4h0M193.5,324.6h0M186.4,327.1h0M192.4,340.9h0M188.9,332.6h0M181.5,327.6h0M185.7,337.4h0M190.1,327.1h0M187.1,327.6h0M187.1,326.4h0M190.1,334.2h0M192.5,335.4h0M186.1,335.6h0M183.3,327.8h0M182.3,328.5h0M191.2,320.0h0M189.4,337.9h0M191.0,338.8h0M180.5,327.3h0M188.1,332.3h0M184.6,331.6h0M187.8,325.8h0M191.7,324.5h0M186.3,319.2h0M183.4,330.0h0M188.5,330.2h0M192.8,320.6h0M192.8,322.0h0M186.2,334.4h0M191.1,337.1h0M189.7,340.8h0M181.3,324.9h0M185.0,331.1h0M189.9,341.9h0M187.6,342.3h0M186.0,325.9h0M191.2,324.8h0M185.6,329.4h0M187.2,327.5h0M186.6,330.0h0M188.3,328.6h0M183.5,320.5h0M185.7,326.3h0M187.4,324.0h0M191.3,331.0h0M189.0,343.9h0M185.6,334.0h0M185.6,326.0h0M189.2,333.8h0M184.8,331.3h0M187.8,338.2h0M183.9,325.1h0M192.0,329.3h0M193.0,328.7h0M192.5,326.7h0M191.9,335.2h0M188.4,343.0h0M189.7,318.4h0M191.1,329.1h0M190.3,344.5h0M191.8,329.7h0M191.3,328.0h0M186.8,329.6h0M181.9,326.5h0M191.1,319.7h0M190.1,332.7h0M181.8,321.0h0M188.5,342.8h0M183.3,329.0h0M188.1,340.6h0M187.2,318.6h0M186.6,328.0h0M190.2,343.0h0M187.5,336.5h0M185.9,338.9h0M183.2,327.2h0M182.6,327.3h0M189.0,331.9h0M185.9,333.4h0M192.7,327.5h0M188.8,330.8h0M190.5,324.1h0M188.7,324.8h0M185.8,337.2h0M186.6,334.5h0M188.5,344.3h0M187.4,324.1h0M191.4,320.6h0M188.6,332.8h0M185.1,321.9h0M192.1,320.4h0M191.8,323.7h0M189.2,321.1h0M191.5,333.6h0M190.4,327.7h0M191.0,325.0h0M188.1,324.7h0M184.5,324.6h0M184.2,325.5h0M184.3,331.6h0M193.2,322.1h0M192.9,341.0h0M189.2,332.5h0M191.1,332.3h0M190.0,342.7h0M191.7,324.8h0M185.5,339.2h0M183.6,330.1h0M185.7,337.6h0M188.6,327.2h0M189.9,319.7h0M193.6,320.5h0M188.6,321.0h0M190.1,319.6h0M192.9,339.1h0M187.9,319.9h0M188.0,322.8h0M188.0,327.4h0M187.6,323.1h0M190.6,329.1h0M187.4,319.9h0M187.4,332.9h0M182.2,325.9h0M185.1,336.8h0M188.9,336.4h0M189.3,334.4h0M187.9,343.8h0M192.5,336.5h0M187.9,333.5h0M191.4,339.7h0M192.6,328.8h0M185.1,327.2h0M188.0,326.9h0M190.2,330.1h0M239.8,317.0h0M240.0,314.3h0M246.0,313.3h0M239.8,315.5h0M240.0,314.6h0M240.0,317.0h0M239.2,312.7h0M240.5,313.3h0M245.4,315.6h0M246.1,314.7h0M238.0,316.2h0M239.9,312.6h0M241.3,313.5h0M241.5,312.0h0M246.1,316.3h0M240.9,316.4h0M241.4,313.0h0M243.8,316.1h0M242.5,316.6h0M241.4,311.6h0M239.4,317.0h0M241.0,317.3h0M238.7,315.9h0M247.9,312.4h0M238.6,315.6h0M247.1,316.0h0M247.9,314.1h0M241.3,311.9h0M240.6,312.3h0M238.5,314.6h0M243.2,314.9h0M245.8,314.6h0" stroke="#00BF7D" stroke-width="1.7" stroke-linecap="round" fill="none"/>
<path d="M166.6,375.1h0M159.5,372.6h0M166.5,376.0h0M162.9,376.0h0M166.9,373.8h0M156.0,375.7h0M164.7,374.8h0M157.8,377.7h0M158.5,377.0h0M165.3,374.1h0M161.3,370.8h0M160.0,374.5h0M161.3,369.1h0M160.9,377.1h0M166.2,375.2h0M161.4,373.2h0M163.2,375.5h0M161.1,373.8h0M167.0,375.4h0M159.3,378.2h0M160.9,377.5h0M160.7,376.1h0M162.5,375.0h0M165.0,374.9h0M158.0,374.3h0M161.5,375.4h0M160.7,371.1h0M162.5,369.8h0M160.7,369.3h0M161.1,373.1h0M162.9,370.2h0M158.0,375.4h0M162.7,372.7h0M162.4,372.7h0M164.9,374.5h0M159.0,374.4h0M162.0,376.2h0M164.1,373.7h0M157.1,375.9h0M158.3,372.3h0M163.6,371.2h0M167.5,374.0h0M162.0,371.8h0M160.8,388.3h0M160.9,390.0h0M160.2,386.7h0M161.6,387.8h0M159.3,389.9h0M160.6,389.8h0M162.1,389.3h0M161.0,387.5h0M159.4,385.5h0M160.2,389.4h0M160.7,390.3h0M161.9,387.7h0" stroke="#00BFC4" stroke-width="1.7" stroke-linecap="round" fill="none"/>
<path d="M254.1,375.6h0M246.4,372.9h0M247.8,377.0h0M258.9,367.9h0M248.6,374.2h0M248.8,373.1h0M253.2,376.3h0M259.5,371.2h0M256.4,371.7h0M251.4,378.8h0M251.9,375.1h0M248.3,372.4h0M251.6,369.9h0M248.9,371.3h0M247.4,375.0h0M258.9,368.0h0M247.2,370.9h0M252.6,379.1h0M249.7,372.7h0M247.6,371.0h0M246.0,372.9h0M247.8,369.8h0M256.3,371.6h0M254.7,369.5h0M252.2,379.6h0M257.3,377.6h0M259.7,370.7h0M256.9,374.5h0M252.2,374.3h0M247.0,371.5h0M251.2,375.1h0M246.2,371.9h0M253.4,377.7h0M257.2,377.3h0M253.5,372.1h0M257.1,380.9h0M255.8,369.4h0M257.1,377.2h0M249.6,372.9h0M257.6,367.4h0M256.1,377.1h0M254.6,379.9h0M247.3,372.4h0M249.0,373.8h0M250.9,373.7h0M250.3,369.8h0M245.5,374.4h0M254.6,372.7h0M255.5,375.6h0M252.3,373.9h0M257.3,370.9h0M249.6,372.8h0M249.0,377.9h0M245.7,374.7h0M256.0,371.4h0M256.2,371.6h0M249.4,374.8h0M254.3,373.3h0M258.5,370.2h0M247.6,375.7h0M253.9,379.7h0M258.2,370.2h0M254.6,371.4h0M245.6,371.1h0M247.9,375.9h0M255.0,375.9h0M251.9,378.6h0M247.1,371.5h0M257.4,370.6h0M256.2,375.4h0M250.3,370.3h0M255.7,373.6h0M254.5,372.1h0M248.7,370.5h0M247.9,376.9h0M257.1,376.5h0M256.4,369.2h0M249.8,373.4h0M258.1,371.0h0M256.3,380.7h0M256.8,378.4h0M255.8,372.6h0M253.6,380.6h0M255.9,373.6h0M247.8,377.0h0M249.4,370.7h0M247.7,376.3h0" stroke="#00B0F6" stroke-width="1.7" stroke-linecap="round" fill="none"/>
<path d="M194.2,402.9h0M194.8,402.0h0M195.3,403.0h0M194.9,404.3h0M192.7,407.7h0M194.7,397.7h0M193.6,400.7h0M194.6,398.9h0M192.0,400.3h0M191.9,405.3h0M194.6,408.4h0M192.7,403.1h0M194.6,399.5h0M192.4,399.1h0M194.3,404.8h0M193.8,404.4h0M194.4,408.7h0M195.9,403.8h0M194.5,398.0h0M194.8,400.0h0M193.4,403.7h0M191.7,406.4h0M192.5,401.7h0M193.1,405.5h0M193.1,409.7h0M190.1,400.0h0M190.1,400.4h0M192.5,404.7h0M192.6,401.1h0M193.3,403.7h0M194.1,405.4h0M195.3,403.5h0M190.7,401.1h0M192.9,402.8h0M192.1,405.0h0M194.3,398.3h0M193.0,398.3h0M193.8,407.9h0M194.7,402.2h0" stroke="#9590FF" stroke-width="1.7" stroke-linecap="round" fill="none"/>
<path d="M72.2,414.2h0M71.7,411.7h0M70.7,411.6h0M72.0,412.5h0" stroke="#E76BF3" stroke-width="1.7" stroke-linecap="round" fill="none"/>
<path d="M167.5,421.5h0M169.0,424.5h0M166.0,426.0h0M168.5,427.5h0M169.5,439.0h0M168.0,440.0h0" stroke="#FF62BC" stroke-width="1.6" stroke-linecap="round" fill="none"/>
<text x="215.2" y="329.8" font-size="9.3" text-anchor="middle">0</text>
<text x="188.0" y="330.4" font-size="9.3" text-anchor="middle">4</text>
<text x="260.7" y="350.3" font-size="9.3" text-anchor="middle">1</text>
<text x="222.2" y="379.2" font-size="9.3" text-anchor="middle">2</text>
<text x="254.1" y="378.9" font-size="9.3" text-anchor="middle">6</text>
<text x="159.9" y="379.1" font-size="9.3" text-anchor="middle">5</text>
<text x="192.8" y="406.8" font-size="9.3" text-anchor="middle">7</text>
<text x="188.1" y="440.8" font-size="9.3" text-anchor="middle">3</text>
<text x="168.2" y="427.2" font-size="9.3" text-anchor="middle">9</text>
<text x="71.7" y="416.3" font-size="9.3" text-anchor="middle">8</text>
<path d="M60.3,298.6V455.6H289.9" fill="none" stroke="#333" stroke-width="1"/>
<path d="M77.8,455.6v2.5M124.3,455.6v2.5M170.8,455.6v2.5M217.3,455.6v2.5M263.8,455.6v2.5M60.3,316.7h-2.5M60.3,359.4h-2.5M60.3,402.1h-2.5M60.3,444.8h-2.5" fill="none" stroke="#333" stroke-width="1"/>
<text x="55.3" y="320.0" font-size="9.2" text-anchor="end" fill="#333">5</text>
<text x="55.3" y="362.7" font-size="9.2" text-anchor="end" fill="#333">0</text>
<text x="55.3" y="405.4" font-size="9.2" text-anchor="end" fill="#333">-5</text>
<text x="55.3" y="448.1" font-size="9.2" text-anchor="end" fill="#333">-10</text>
<text x="77.8" y="467.9" font-size="9.2" text-anchor="middle" fill="#333">-15</text>
<text x="124.3" y="467.9" font-size="9.2" text-anchor="middle" fill="#333">-10</text>
<text x="170.8" y="467.9" font-size="9.2" text-anchor="middle" fill="#333">-5</text>
<text x="217.3" y="467.9" font-size="9.2" text-anchor="middle" fill="#333">0</text>
<text x="263.8" y="467.9" font-size="9.2" text-anchor="middle" fill="#333">5</text>
<text x="174.0" y="481.5" font-size="10.8" text-anchor="middle">umap_1</text>
<text x="37.2" y="377.0" font-size="10.8" text-anchor="middle" transform="rotate(-90 37.2 377.0)">umap_2</text>
<circle cx="306.3" cy="322.9" r="2.7" fill="#F8766D"/>
<text x="317.8" y="326.3" font-size="9.5" fill="#1a1a1a">0</text>
<circle cx="306.3" cy="335.0" r="2.7" fill="#D89000"/>
<text x="317.8" y="338.4" font-size="9.5" fill="#1a1a1a">1</text>
<circle cx="306.3" cy="347.1" r="2.7" fill="#A3A500"/>
<text x="317.8" y="350.5" font-size="9.5" fill="#1a1a1a">2</text>
<circle cx="306.3" cy="359.2" r="2.7" fill="#39B600"/>
<text x="317.8" y="362.6" font-size="9.5" fill="#1a1a1a">3</text>
<circle cx="306.3" cy="371.3" r="2.7" fill="#00BF7D"/>
<text x="317.8" y="374.7" font-size="9.5" fill="#1a1a1a">4</text>
<circle cx="306.3" cy="383.4" r="2.7" fill="#00BFC4"/>
<text x="317.8" y="386.8" font-size="9.5" fill="#1a1a1a">5</text>
<circle cx="306.3" cy="395.5" r="2.7" fill="#00B0F6"/>
<text x="317.8" y="398.9" font-size="9.5" fill="#1a1a1a">6</text>
<circle cx="306.3" cy="407.6" r="2.7" fill="#9590FF"/>
<text x="317.8" y="411.0" font-size="9.5" fill="#1a1a1a">7</text>
<circle cx="306.3" cy="419.7" r="2.7" fill="#E76BF3"/>
<text x="317.8" y="423.1" font-size="9.5" fill="#1a1a1a">8</text>
<circle cx="306.3" cy="431.8" r="2.7" fill="#FF62BC"/>
<text x="317.8" y="435.2" font-size="9.5" fill="#1a1a1a">9</text>
<circle cx="218.1" cy="373.6" r="15.3" fill="none" stroke="#E8101A" stroke-width="2.8" stroke-dasharray="2.5 2.1"/>
<circle cx="170.5" cy="440.6" r="13.6" fill="none" stroke="#1A5578" stroke-width="2.8" stroke-dasharray="2.5 2.1"/>
<text x="445.0" y="303.6" font-size="12" text-anchor="middle" font-weight="bold">ACAN</text>
<path d="M389.8,310.3V444.9H501.6" fill="none" stroke="#333" stroke-width="1"/>
<path d="M396.7,444.9v2.8M407.6,444.9v2.8M418.6,444.9v2.8M429.5,444.9v2.8M440.5,444.9v2.8M451.4,444.9v2.8M462.4,444.9v2.8M473.3,444.9v2.8M484.3,444.9v2.8M495.2,444.9v2.8M389.8,439.5h-2.8M389.8,393.4h-2.8M389.8,347.3h-2.8" fill="none" stroke="#333" stroke-width="1"/>
<text x="0.0" y="0.0" font-size="8.7" text-anchor="end" fill="#2a2a2a" transform="translate(384.6 443.0) scale(1.07 1)">0</text>
<text x="0.0" y="0.0" font-size="8.7" text-anchor="end" fill="#2a2a2a" transform="translate(384.6 396.9) scale(1.07 1)">1</text>
<text x="0.0" y="0.0" font-size="8.7" text-anchor="end" fill="#2a2a2a" transform="translate(384.6 350.8) scale(1.07 1)">2</text>
<path d="M391.8,439.5h9.8M402.8,439.5h9.8M413.7,439.5h9.8M424.6,439.5h9.8M435.6,439.5h9.8M446.6,439.5h9.8M457.5,439.5h9.8M468.4,439.5h9.8M479.4,439.5h9.8M490.4,439.5h9.8" stroke="#222" stroke-width="1"/>
<path d="M407.6,439.5V394.3M418.6,439.5V365.7M429.5,439.5V316.0M473.3,439.5V378.2" stroke="#555" stroke-width="0.9"/>
<path d="M424.4,316.5h0M426.1,347.0h0M429.4,327.2h0M429.4,349.5h0M428.9,354.5h0M428.1,359.4h0M430.6,361.9h0M431.8,370.6h0M426.9,386.7h0M425.6,389.2h0M415.2,365.6h0M417.0,383.0h0M418.9,381.8h0M415.2,397.2h0M408.3,394.2h0M429.0,356.0h0M430.0,352.0h0M431.2,364.0h0" stroke="#222" stroke-width="1.3" stroke-linecap="round" fill="none"/>
<text x="0.0" y="0.0" font-size="8.4" text-anchor="end" fill="#2a2a2a" transform="translate(400.0 455.3) rotate(-45) scale(1.05 1)">0</text>
<text x="0.0" y="0.0" font-size="8.4" text-anchor="end" fill="#2a2a2a" transform="translate(410.9 455.3) rotate(-45) scale(1.05 1)">1</text>
<text x="0.0" y="0.0" font-size="8.4" text-anchor="end" fill="#2a2a2a" transform="translate(421.9 455.3) rotate(-45) scale(1.05 1)">2</text>
<text x="0.0" y="0.0" font-size="8.4" text-anchor="end" fill="#2a2a2a" transform="translate(432.8 455.3) rotate(-45) scale(1.05 1)">3</text>
<text x="0.0" y="0.0" font-size="8.4" text-anchor="end" fill="#2a2a2a" transform="translate(443.8 455.3) rotate(-45) scale(1.05 1)">4</text>
<text x="0.0" y="0.0" font-size="8.4" text-anchor="end" fill="#2a2a2a" transform="translate(454.8 455.3) rotate(-45) scale(1.05 1)">5</text>
<text x="0.0" y="0.0" font-size="8.4" text-anchor="end" fill="#2a2a2a" transform="translate(465.7 455.3) rotate(-45) scale(1.05 1)">6</text>
<text x="0.0" y="0.0" font-size="8.4" text-anchor="end" fill="#2a2a2a" transform="translate(476.6 455.3) rotate(-45) scale(1.05 1)">7</text>
<text x="0.0" y="0.0" font-size="8.4" text-anchor="end" fill="#2a2a2a" transform="translate(487.6 455.3) rotate(-45) scale(1.05 1)">8</text>
<text x="0.0" y="0.0" font-size="8.4" text-anchor="end" fill="#2a2a2a" transform="translate(498.6 455.3) rotate(-45) scale(1.05 1)">9</text>
<text x="445.5" y="470.9" font-size="10.6" text-anchor="middle">Identity</text>
<text x="376.0" y="378.0" font-size="10.8" text-anchor="middle" transform="rotate(-90 376.0 378.0)">Expression Level</text>
<text x="598.0" y="303.6" font-size="12" text-anchor="middle" font-weight="bold">HAPLN1</text>
<path d="M543.4,310.3V444.9H654.4" fill="none" stroke="#333" stroke-width="1"/>
<path d="M548.9,444.9v2.8M559.9,444.9v2.8M570.8,444.9v2.8M581.8,444.9v2.8M592.7,444.9v2.8M603.6,444.9v2.8M614.6,444.9v2.8M625.5,444.9v2.8M636.5,444.9v2.8M647.4,444.9v2.8M543.4,439.5h-2.8M543.4,414.9h-2.8M543.4,390.3h-2.8M543.4,365.7h-2.8M543.4,341.1h-2.8M543.4,316.5h-2.8" fill="none" stroke="#333" stroke-width="1"/>
<text x="0.0" y="0.0" font-size="8.7" text-anchor="end" fill="#2a2a2a" transform="translate(538.2 443.0) scale(1.07 1)">0.0</text>
<text x="0.0" y="0.0" font-size="8.7" text-anchor="end" fill="#2a2a2a" transform="translate(538.2 418.4) scale(1.07 1)">0.5</text>
<text x="0.0" y="0.0" font-size="8.7" text-anchor="end" fill="#2a2a2a" transform="translate(538.2 393.8) scale(1.07 1)">1.0</text>
<text x="0.0" y="0.0" font-size="8.7" text-anchor="end" fill="#2a2a2a" transform="translate(538.2 369.2) scale(1.07 1)">1.5</text>
<text x="0.0" y="0.0" font-size="8.7" text-anchor="end" fill="#2a2a2a" transform="translate(538.2 344.6) scale(1.07 1)">2.0</text>
<text x="0.0" y="0.0" font-size="8.7" text-anchor="end" fill="#2a2a2a" transform="translate(538.2 320.0) scale(1.07 1)">2.5</text>
<path d="M544.0,439.5h9.8M555.0,439.5h9.8M565.9,439.5h9.8M576.9,439.5h9.8M587.8,439.5h9.8M598.8,439.5h9.8M609.7,439.5h9.8M620.6,439.5h9.8M631.6,439.5h9.8M642.5,439.5h9.8" stroke="#222" stroke-width="1"/>
<path d="M548.9,439.5V373.6M559.9,439.5V344.5M570.8,439.5V327.8M581.8,439.5V316.5" stroke="#555" stroke-width="0.9"/>
<path d="M552.9,389.2h0M562.8,344.5h0M567.5,327.2h0M568.3,332.1h0M572.0,333.4h0M569.5,352.0h0M570.7,366.9h0M567.0,375.6h0M569.5,379.3h0M572.0,371.8h0M574.5,376.8h0M578.2,376.8h0M574.5,388.0h0M572.0,394.7h0M583.6,316.7h0M585.6,336.6h0" stroke="#222" stroke-width="1.3" stroke-linecap="round" fill="none"/>
<text x="0.0" y="0.0" font-size="8.4" text-anchor="end" fill="#2a2a2a" transform="translate(552.2 455.3) rotate(-45) scale(1.05 1)">0</text>
<text x="0.0" y="0.0" font-size="8.4" text-anchor="end" fill="#2a2a2a" transform="translate(563.1 455.3) rotate(-45) scale(1.05 1)">1</text>
<text x="0.0" y="0.0" font-size="8.4" text-anchor="end" fill="#2a2a2a" transform="translate(574.1 455.3) rotate(-45) scale(1.05 1)">2</text>
<text x="0.0" y="0.0" font-size="8.4" text-anchor="end" fill="#2a2a2a" transform="translate(585.0 455.3) rotate(-45) scale(1.05 1)">3</text>
<text x="0.0" y="0.0" font-size="8.4" text-anchor="end" fill="#2a2a2a" transform="translate(596.0 455.3) rotate(-45) scale(1.05 1)">4</text>
<text x="0.0" y="0.0" font-size="8.4" text-anchor="end" fill="#2a2a2a" transform="translate(606.9 455.3) rotate(-45) scale(1.05 1)">5</text>
<text x="0.0" y="0.0" font-size="8.4" text-anchor="end" fill="#2a2a2a" transform="translate(617.9 455.3) rotate(-45) scale(1.05 1)">6</text>
<text x="0.0" y="0.0" font-size="8.4" text-anchor="end" fill="#2a2a2a" transform="translate(628.8 455.3) rotate(-45) scale(1.05 1)">7</text>
<text x="0.0" y="0.0" font-size="8.4" text-anchor="end" fill="#2a2a2a" transform="translate(639.8 455.3) rotate(-45) scale(1.05 1)">8</text>
<text x="0.0" y="0.0" font-size="8.4" text-anchor="end" fill="#2a2a2a" transform="translate(650.7 455.3) rotate(-45) scale(1.05 1)">9</text>
<text x="598.5" y="470.9" font-size="10.6" text-anchor="middle">Identity</text>
<text x="521.0" y="378.0" font-size="10.8" text-anchor="middle" transform="rotate(-90 521.0 378.0)">Expression Level</text>
<text x="0.0" y="0.0" font-size="15.8" text-anchor="middle" font-weight="bold" transform="translate(117.5 511.8) scale(1.025 1)">RGS5</text>
<g transform="translate(0,0)">
<g fill="#D3D3D3" stroke="#D3D3D3" stroke-width="1" stroke-linejoin="round"><polygon points="126.6,528.5 129.2,529.2 132.5,529.5 136.5,529.9 140.4,531.2 142.4,532.5 145.7,533.1 148.3,532.1 151.6,532.1 154.2,533.1 155.1,535.8 153.8,538.4 153.2,541.0 154.9,543.0 155.5,545.6 158.8,545.0 162.8,543.6 165.4,543.4 168.0,545.0 170.0,547.6 170.6,550.2 169.3,552.8 168.0,555.5 166.7,557.4 164.1,559.4 162.8,562.0 161.4,565.3 160.4,568.6 159.1,572.6 156.2,574.1 153.6,573.2 151.6,571.9 149.6,570.6 148.3,571.9 147.6,574.5 147.0,577.8 145.7,580.0 143.0,580.0 139.8,578.7 136.5,576.8 134.9,572.6 134.5,568.6 134.9,564.7 134.5,560.7 133.6,558.1 132.5,554.8 131.2,552.8 127.3,552.6 124.6,552.2 122.0,551.5 120.7,549.6 119.8,546.3 119.1,543.0 119.4,539.7 120.7,537.1 124.0,535.5 125.7,533.1 125.7,530.5"/><polygon points="107.6,568.6 109.5,565.3 112.2,565.3 114.8,568.0 115.5,569.9 113.5,571.2 112.2,571.9 112.2,575.2 112.8,577.8 110.9,579.1 108.9,578.5 108.6,575.2 108.2,572.6 107.3,570.6"/><polygon points="124.4,581.1 126.6,580.2 128.9,581.8 129.6,584.4 128.9,588.3 128.2,592.3 128.2,596.2 128.6,600.1 129.6,604.1 131.5,607.4 130.6,610.7 127.9,611.3 125.3,610.7 122.7,611.3 119.4,612.0 115.5,612.6 111.5,612.6 110.5,610.7 111.5,608.0 114.1,605.4 116.8,602.8 119.4,601.5 122.0,600.1 123.6,597.5 124.4,593.6 124.6,589.6 124.4,585.7 124.0,583.1"/><polygon points="112.2,595.5 114.1,594.9 115.7,597.1 114.8,599.1 112.8,598.8"/></g>
<g fill="#fff"><polygon points="143.0,552.8 146.3,549.6 150.3,547.6 152.9,549.6 152.2,552.8 148.3,556.8 144.4,556.8"/><polygon points="148.3,566.0 151.6,564.0 154.9,563.4 156.2,565.3 153.6,567.3 150.3,568.0"/><polygon points="127.3,543.4 130.6,543.0 131.5,545.0 128.6,545.6"/></g>
<circle cx="66" cy="590.7" r="1.9" fill="#784EF5"/>
<path d="M118.1,607.3h0M115.2,611.2h0M118.9,607.6h0" stroke="#4926FB" stroke-width="2.6" stroke-linecap="round" fill="none"/>
<path d="M117.0,608.2h0M115.3,610.8h0M111.9,610.0h0M117.1,607.3h0M113.0,608.4h0M117.3,609.8h0" stroke="#0000FF" stroke-width="2.6" stroke-linecap="round" fill="none"/>
<path d="M143.3,541.2h0M146.9,563.5h0M136.5,544.5h0M136.9,546.8h0M135.4,537.7h0M151.6,569.1h0M143.8,543.5h0M159.0,564.3h0M152.6,558.4h0M137.2,572.0h0M141.8,562.0h0M150.6,558.9h0M161.0,561.6h0M138.5,550.8h0M142.0,543.6h0M134.4,555.8h0M164.9,556.6h0M154.9,550.8h0M124.7,548.1h0M147.7,560.5h0M164.3,553.3h0M150.7,546.5h0M149.7,558.1h0M143.1,533.7h0M138.1,576.8h0M139.8,578.7h0M145.9,546.6h0M134.9,531.2h0M135.0,551.7h0M141.2,558.3h0M158.3,558.1h0M133.8,531.8h0M146.4,537.4h0M146.6,578.5h0M133.4,538.9h0M162.0,553.8h0M145.5,558.8h0M154.8,563.1h0M123.6,546.9h0M139.2,537.7h0M156.6,550.0h0M149.8,561.8h0M157.1,570.6h0M147.1,547.9h0M143.8,546.8h0M162.8,555.3h0M158.6,547.1h0M139.4,568.6h0M143.3,543.3h0M150.0,535.6h0M143.9,564.9h0M138.2,555.8h0M126.2,546.6h0M139.1,560.9h0M161.6,554.0h0M158.2,555.1h0M141.0,560.6h0M153.2,550.2h0M162.6,558.5h0M165.3,554.6h0M146.8,532.9h0M166.5,545.3h0M132.3,552.8h0M132.1,546.9h0M152.9,567.5h0M159.9,568.3h0M157.4,554.5h0M122.3,542.0h0M163.0,560.3h0M139.9,551.8h0M153.1,562.4h0M137.8,536.0h0M160.5,551.8h0M135.6,572.7h0M123.8,544.1h0M142.5,573.4h0M162.7,557.9h0M150.2,559.0h0M138.2,568.9h0M167.1,549.2h0M145.1,574.9h0M135.2,541.3h0M156.7,566.2h0M131.9,547.5h0M149.2,540.3h0M144.2,573.4h0M134.7,557.4h0M142.1,557.4h0M137.2,564.3h0M143.7,556.2h0M156.3,568.0h0M136.3,568.2h0M143.7,545.5h0M146.1,542.4h0M119.3,541.9h0M141.1,555.4h0M124.5,540.8h0M144.5,539.3h0M129.9,540.6h0M122.9,542.9h0M124.0,538.6h0M144.5,537.3h0M151.2,558.9h0M132.3,529.9h0M152.9,542.0h0M146.2,567.1h0M159.8,558.8h0M154.3,548.5h0M137.2,567.2h0M153.4,561.6h0M132.4,554.0h0M158.5,565.1h0M156.7,548.5h0M128.6,550.8h0M126.5,534.4h0M147.0,541.9h0M144.7,576.9h0M161.7,557.3h0M162.1,562.0h0M132.0,548.0h0M138.9,557.4h0M151.6,557.0h0M132.5,553.8h0M156.0,551.2h0M156.5,550.7h0M136.9,574.3h0M165.2,553.9h0M138.1,563.1h0M140.6,540.9h0M150.3,544.0h0M155.3,567.3h0M142.5,561.8h0M129.5,535.7h0M162.5,553.8h0M157.8,555.9h0M156.5,565.6h0M159.4,557.5h0M157.5,557.3h0M136.2,535.0h0M128.3,549.5h0M143.8,560.2h0M145.4,547.5h0M155.5,546.5h0M149.7,564.8h0M157.6,571.5h0M146.5,538.7h0M141.7,546.1h0M141.2,554.6h0M127.0,534.4h0M142.4,555.9h0M122.3,549.3h0M134.4,532.5h0M169.0,549.5h0M164.2,556.0h0M122.7,544.0h0M154.3,571.7h0M164.3,544.8h0M151.2,557.8h0M140.4,536.1h0M155.8,546.1h0M136.7,540.9h0M122.4,545.2h0M164.2,554.5h0M160.0,551.4h0M159.6,557.0h0M126.8,539.8h0M169.6,549.3h0M166.8,552.2h0M154.8,569.2h0M153.1,553.0h0M120.6,538.6h0M123.6,538.3h0M123.0,543.8h0M154.4,560.6h0M127.3,530.5h0M142.1,577.6h0M126.1,538.9h0M148.6,539.6h0M128.3,546.9h0M141.9,573.8h0M152.2,536.6h0M140.5,534.5h0M128.1,534.1h0M126.3,536.0h0M146.7,540.5h0M136.2,557.1h0M131.5,551.1h0M136.6,564.5h0M142.7,577.8h0M169.9,551.2h0M140.3,550.1h0M131.4,534.3h0M129.2,547.7h0M162.2,546.3h0M151.3,547.9h0M147.2,559.7h0M127.3,532.8h0M129.0,532.5h0M130.0,550.1h0M167.3,555.0h0M123.9,542.6h0M167.4,549.1h0M135.3,539.1h0M155.9,564.0h0M164.9,549.5h0M137.3,564.2h0M135.5,572.6h0M125.5,544.5h0M144.7,567.9h0M133.7,530.0h0M141.1,543.3h0M140.3,565.5h0M145.5,534.3h0M142.4,540.6h0M128.2,543.3h0M149.4,537.0h0M143.8,569.7h0M144.4,539.0h0M167.1,554.6h0M163.8,544.6h0M154.0,563.3h0M127.7,530.2h0M151.8,537.5h0M120.0,541.3h0M136.5,563.1h0M140.2,535.7h0M141.2,536.5h0M142.8,552.3h0M162.2,558.6h0M153.0,541.2h0M126.6,535.8h0M129.4,539.1h0M143.1,578.0h0M134.9,556.5h0M162.4,552.6h0M127.6,543.2h0M140.6,539.2h0M155.6,566.0h0M136.9,559.1h0M144.7,549.7h0M142.7,561.4h0M151.8,559.5h0M145.4,543.7h0M155.0,572.9h0M165.0,550.1h0M157.3,571.7h0M142.6,562.3h0M153.0,569.1h0M156.6,554.1h0M130.7,547.0h0M141.8,537.4h0M162.6,554.0h0M131.0,545.9h0M144.2,546.4h0M110.2,574.6h0M109.1,578.2h0M113.4,567.3h0M111.4,568.9h0M111.8,572.5h0M108.3,571.7h0M112.0,569.5h0M112.7,568.9h0M109.7,567.7h0M108.8,577.0h0M111.9,569.7h0M110.0,578.1h0M128.5,602.9h0M122.4,602.1h0M125.9,590.8h0M123.0,600.8h0M120.7,606.4h0M119.9,605.2h0M121.2,606.1h0M127.0,592.5h0M126.5,596.9h0M119.2,603.8h0M115.3,605.2h0M128.5,609.1h0M126.2,610.3h0M113.8,612.1h0M127.0,589.1h0M120.2,604.4h0M114.8,605.7h0M115.9,605.3h0M121.6,601.2h0M113.5,606.5h0M118.5,610.4h0M127.8,593.4h0M127.8,599.4h0M126.9,602.3h0M116.5,603.1h0M120.6,609.2h0M126.1,589.6h0M129.3,607.7h0M124.7,590.4h0M124.8,581.6h0M122.4,609.2h0M125.7,582.9h0M122.9,606.9h0M126.6,602.6h0M127.4,601.0h0M121.7,601.1h0M124.0,605.6h0M125.8,587.2h0M125.4,610.2h0M117.5,605.1h0M114.3,597.9h0" stroke="#D3D3D3" stroke-width="2.6" stroke-linecap="round" fill="none"/>
<path d="M117.1,606.1h0M112.0,610.0h0M119.3,606.8h0M113.5,611.4h0M119.2,607.3h0" stroke="#4926FB" stroke-width="2.6" stroke-linecap="round" fill="none"/>
<path d="M116.3,610.3h0M114.4,610.3h0" stroke="#0000FF" stroke-width="2.6" stroke-linecap="round" fill="none"/>
<path d="M147.1,558.1h0M165.2,543.9h0M161.3,553.3h0M146.2,568.5h0M123.2,536.2h0M124.6,550.9h0M139.9,536.1h0M153.3,567.7h0M143.0,570.6h0M167.4,553.1h0M143.4,540.2h0M133.5,549.7h0M138.2,535.9h0M169.2,548.1h0M159.4,571.1h0M143.0,547.1h0M141.2,558.2h0M143.8,556.8h0M148.8,566.8h0M145.8,535.4h0M135.8,569.6h0M139.0,535.6h0M157.3,548.9h0M127.1,536.7h0M154.6,563.2h0M137.9,544.6h0M165.4,553.8h0M139.9,555.9h0M125.1,544.6h0M131.8,531.7h0M141.9,570.6h0M158.5,557.2h0M155.7,551.5h0M149.8,533.9h0M148.1,546.9h0M121.1,537.3h0M128.6,548.6h0M146.8,569.7h0M149.0,567.7h0M139.0,534.1h0M141.0,555.8h0M135.5,572.3h0M160.5,565.3h0M138.4,563.8h0M138.8,543.5h0M121.7,550.2h0M120.0,541.5h0M141.5,559.1h0M153.5,534.9h0M128.6,550.6h0M140.7,554.5h0M134.7,537.1h0M144.6,557.7h0M131.8,542.1h0M149.5,534.6h0M165.6,552.5h0M152.6,537.5h0M134.3,534.1h0M138.9,561.3h0M124.5,550.0h0M141.7,542.6h0M160.9,555.8h0M158.2,559.7h0M136.5,559.0h0M140.8,571.7h0M125.3,539.0h0M141.5,544.3h0M142.7,551.1h0M122.5,546.0h0M142.6,568.1h0M142.0,538.4h0M126.8,550.4h0M146.8,537.3h0M154.0,534.9h0M124.1,546.3h0M122.1,540.3h0M142.4,562.4h0M128.2,551.5h0M139.2,572.7h0M141.7,560.1h0M136.6,560.0h0M127.8,542.4h0M166.1,557.2h0M168.4,553.6h0M119.4,544.1h0M123.2,538.2h0M150.3,562.3h0M129.2,533.8h0M130.9,543.0h0M145.1,562.6h0M143.2,576.9h0M146.5,562.9h0M132.5,547.3h0M124.6,551.2h0M157.1,570.3h0M142.5,544.5h0M146.1,563.2h0M163.0,553.4h0M128.5,551.5h0M137.0,546.3h0M157.2,567.3h0M137.6,543.9h0M159.8,565.2h0M137.6,551.0h0M149.1,559.4h0M147.3,558.9h0M156.8,551.0h0M121.1,537.3h0M154.1,550.5h0M139.2,535.0h0M153.9,544.9h0M143.4,542.5h0M143.5,563.8h0M127.7,541.4h0M141.7,532.4h0M158.1,547.5h0M147.5,559.4h0M132.4,533.7h0M140.9,548.1h0M142.8,550.2h0M147.7,537.6h0M134.5,552.8h0M142.4,540.9h0M126.8,534.0h0M144.4,548.9h0M151.3,548.1h0M136.0,556.5h0M138.5,568.8h0M131.7,544.3h0M153.6,542.7h0M136.8,536.4h0M145.5,547.1h0M157.6,570.5h0M144.8,577.8h0M130.4,545.3h0M132.9,539.1h0M132.9,549.5h0M147.3,546.3h0M140.8,534.8h0M125.2,541.3h0M145.3,570.3h0M142.7,564.5h0M152.0,538.6h0M146.4,557.1h0M156.9,564.3h0M161.9,552.9h0M129.1,548.1h0M139.7,538.3h0M140.4,570.8h0M134.0,556.3h0M161.6,548.5h0M121.9,546.3h0M122.7,546.1h0M144.6,540.9h0M147.0,540.3h0M152.5,570.0h0M143.7,538.9h0M140.7,574.8h0M168.2,552.1h0M148.0,538.2h0M135.2,566.5h0M161.4,551.5h0M126.1,545.8h0M126.3,546.6h0M146.8,541.8h0M129.2,534.0h0M148.7,545.5h0M149.1,559.6h0M126.4,545.7h0M144.8,538.9h0M154.6,549.9h0M159.5,548.3h0M145.7,569.9h0M134.4,533.2h0M169.4,547.1h0M125.3,543.8h0M141.0,560.3h0M162.3,553.6h0M145.6,562.5h0M157.1,547.8h0M135.4,555.5h0M151.4,559.4h0M144.4,557.5h0M124.5,548.6h0M147.0,542.1h0M144.6,536.5h0M147.0,538.6h0M167.2,551.2h0M159.4,546.4h0M157.6,557.1h0M155.1,561.4h0M143.3,564.6h0M146.0,542.5h0M150.5,533.5h0M125.1,544.0h0M167.6,551.1h0M143.2,565.3h0M135.3,537.3h0M142.9,551.7h0M154.1,562.6h0M143.9,534.2h0M145.5,539.9h0M151.7,532.4h0M139.2,546.5h0M142.4,573.8h0M160.3,559.1h0M141.6,541.2h0M147.0,569.3h0M122.9,538.3h0M142.3,540.4h0M131.5,535.0h0M159.3,561.3h0M158.5,559.0h0M138.7,537.1h0M135.1,544.6h0M138.4,541.2h0M165.4,555.7h0M143.1,551.1h0M139.3,557.2h0M145.4,544.3h0M126.4,529.6h0M121.7,550.3h0M145.3,559.8h0M135.3,530.0h0M131.4,535.3h0M149.3,542.1h0M152.0,571.5h0M136.2,538.7h0M158.2,566.8h0M165.4,550.1h0M134.5,541.9h0M137.2,572.5h0M133.7,548.8h0M146.6,558.7h0M157.4,566.8h0M139.2,547.8h0M137.5,574.2h0M158.9,565.2h0M134.1,533.9h0M135.4,569.7h0M129.0,543.0h0M150.3,569.6h0M148.2,544.4h0M151.9,553.8h0M139.4,543.2h0M137.4,567.9h0M134.7,540.6h0M140.0,541.3h0M133.0,549.0h0M138.6,543.8h0M135.8,541.4h0M122.1,546.5h0M137.9,564.7h0M167.4,548.4h0M113.3,568.0h0M113.6,570.0h0M111.3,577.1h0M112.4,566.4h0M111.9,567.9h0M107.8,570.1h0M109.7,565.9h0M107.6,569.0h0M111.8,576.6h0M114.0,570.4h0M113.9,569.7h0M127.5,594.2h0M127.5,611.2h0M124.7,607.0h0M119.3,610.7h0M118.2,610.6h0M127.8,603.5h0M122.4,610.5h0M122.4,608.1h0M123.4,607.2h0M125.5,594.9h0M126.1,586.5h0M128.1,608.2h0M117.1,611.4h0M126.6,605.1h0M124.9,609.3h0M127.6,596.7h0M125.3,607.4h0M129.7,609.9h0M122.4,603.1h0M126.4,594.9h0M121.9,606.7h0M124.1,600.7h0M127.8,586.4h0M123.9,606.7h0M117.9,611.6h0M122.0,601.4h0M121.6,603.4h0M118.6,610.8h0M125.4,588.6h0M117.1,603.9h0M127.1,590.0h0M128.2,603.5h0M116.6,612.3h0M117.5,602.8h0M128.5,600.5h0M118.4,603.5h0M127.4,601.0h0M123.7,598.4h0M125.1,586.8h0M120.4,603.0h0M122.4,610.1h0M128.2,598.6h0M112.9,598.4h0M113.1,598.3h0" stroke="#D3D3D3" stroke-width="2.6" stroke-linecap="round" fill="none"/>
<path d="M113.9,610.9h0M120.5,606.2h0" stroke="#4926FB" stroke-width="2.6" stroke-linecap="round" fill="none"/>
<path d="M114.9,606.8h0M112.5,610.2h0M116.9,607.3h0M114.4,611.7h0M112.3,611.4h0M117.3,609.7h0" stroke="#0000FF" stroke-width="2.6" stroke-linecap="round" fill="none"/>
<path d="M119.8,539.7h0M137.7,537.1h0M135.4,553.3h0M123.8,546.1h0M127.5,531.0h0M134.3,551.9h0M144.8,546.0h0M137.8,564.8h0M152.5,569.6h0M159.3,558.5h0M135.5,537.9h0M150.7,533.4h0M149.8,557.6h0M149.8,541.9h0M132.9,536.5h0M157.5,559.0h0M155.6,561.1h0M144.8,545.6h0M141.4,544.7h0M131.2,547.7h0M130.6,534.5h0M161.9,561.9h0M129.6,530.6h0M138.4,548.4h0M143.4,577.2h0M143.2,543.1h0M131.7,531.1h0M123.5,544.7h0M161.3,544.7h0M138.4,533.6h0M156.6,564.7h0M125.8,546.9h0M125.2,544.9h0M161.1,550.1h0M137.2,541.3h0M160.2,545.2h0M135.5,529.9h0M137.8,559.1h0M157.9,563.0h0M154.6,557.0h0M165.7,544.1h0M162.4,553.1h0M122.5,539.2h0M144.7,578.1h0M144.8,564.4h0M122.9,542.5h0M142.7,548.3h0M140.4,573.6h0M127.8,552.1h0M138.3,568.5h0M150.6,569.4h0M142.2,566.5h0M129.8,551.9h0M164.3,551.1h0M156.3,560.0h0M127.1,539.7h0M154.5,551.6h0M132.5,547.0h0M140.2,545.5h0M130.8,529.9h0M141.2,539.3h0M126.3,531.3h0M126.0,539.0h0M152.0,553.7h0M153.9,546.0h0M152.7,548.4h0M157.0,547.7h0M160.5,553.1h0M124.3,547.6h0M154.8,572.8h0M136.0,541.4h0M162.1,545.3h0M141.1,551.2h0M142.0,536.3h0M136.8,539.3h0M133.8,542.2h0M141.1,535.3h0M127.5,545.6h0M157.6,566.0h0M142.5,543.3h0M133.2,555.6h0M122.5,537.6h0M138.9,558.1h0M149.6,545.1h0M130.9,539.1h0M143.1,556.6h0M135.2,542.9h0M144.8,543.7h0M165.2,551.3h0M136.2,563.8h0M141.9,557.7h0M153.0,557.5h0M126.8,544.7h0M158.6,556.5h0M119.5,544.3h0M167.9,553.0h0M153.8,555.4h0M165.0,558.3h0M144.5,568.9h0M127.9,540.1h0M156.3,550.6h0M134.7,559.8h0M129.1,550.0h0M149.0,561.7h0M144.7,550.3h0M148.8,534.4h0M149.0,544.1h0M137.6,563.9h0M146.8,572.7h0M144.8,567.4h0M159.8,558.2h0M137.9,576.7h0M129.6,539.9h0M136.4,537.1h0M146.0,541.7h0M133.0,550.0h0M135.0,562.8h0M132.0,535.1h0M139.3,575.5h0M133.5,546.3h0M129.3,551.3h0M140.1,560.8h0M157.2,547.7h0M154.3,550.6h0M143.1,545.3h0M143.2,556.8h0M147.3,543.2h0M139.1,571.0h0M144.8,535.3h0M158.3,546.0h0M121.0,543.1h0M124.2,539.0h0M134.7,548.4h0M125.6,540.2h0M166.8,555.7h0M155.7,546.8h0M148.1,564.0h0M143.4,543.5h0M141.2,554.7h0M163.7,546.3h0M145.2,538.5h0M145.0,549.4h0M142.8,568.0h0M145.7,569.6h0M136.3,565.9h0M157.4,571.9h0M150.9,568.3h0M132.8,541.5h0M134.9,542.1h0M124.0,547.7h0M143.1,537.2h0M164.8,554.8h0M138.0,531.5h0M144.4,550.7h0M135.1,539.7h0M134.1,557.5h0M125.6,536.9h0M154.2,570.3h0M132.0,531.0h0M139.6,567.1h0M143.3,566.9h0M155.0,567.2h0M152.3,570.8h0M158.3,561.6h0M129.1,552.6h0M162.0,558.4h0M142.0,557.9h0M128.1,546.6h0M150.8,544.8h0M121.9,550.2h0M142.4,572.1h0M146.8,542.3h0M128.9,548.1h0M146.6,570.4h0M158.1,550.3h0M162.2,558.7h0M164.3,545.6h0M143.7,537.0h0M148.5,559.1h0M152.0,539.6h0M143.5,549.8h0M144.0,578.5h0M157.0,550.5h0M150.4,539.3h0M136.2,562.7h0M128.5,537.3h0M134.0,548.9h0M143.4,555.2h0M133.9,537.6h0M162.8,556.3h0M137.3,540.3h0M159.8,569.7h0M123.4,543.3h0M167.4,550.6h0M143.6,573.2h0M130.0,540.6h0M155.7,572.4h0M148.3,547.4h0M136.8,560.9h0M158.6,562.0h0M141.8,552.6h0M134.9,538.4h0M148.8,544.4h0M164.7,554.3h0M137.8,546.0h0M157.9,564.2h0M144.9,549.0h0M138.4,574.2h0M122.4,550.1h0M141.4,539.9h0M158.1,557.1h0M138.2,562.8h0M156.9,553.0h0M153.2,563.5h0M154.4,548.0h0M145.2,574.3h0M145.6,545.3h0M152.8,548.0h0M156.6,549.2h0M155.3,571.2h0M157.6,551.5h0M156.5,558.1h0M135.2,536.4h0M151.7,546.1h0M165.2,548.9h0M130.2,539.4h0M127.8,551.2h0M158.3,552.6h0M133.8,544.3h0M166.4,553.0h0M137.2,567.1h0M165.6,552.1h0M121.2,541.4h0M128.1,542.0h0M145.6,559.9h0M149.7,556.6h0M128.8,540.4h0M141.0,575.0h0M152.6,553.1h0M168.8,547.4h0M131.8,551.0h0M148.2,563.0h0M142.4,573.5h0M130.9,542.7h0M139.2,531.4h0M144.0,543.3h0M153.0,546.0h0M128.0,534.6h0M150.3,556.3h0M153.9,545.9h0M155.1,559.8h0M137.8,534.2h0M140.7,576.7h0M109.5,578.0h0M108.4,568.0h0M111.7,577.4h0M108.9,571.1h0M108.4,573.1h0M109.3,566.1h0M109.6,574.0h0M111.7,569.6h0M114.6,567.9h0M108.9,573.1h0M109.4,571.9h0M113.1,570.7h0M129.2,610.4h0M122.7,605.5h0M122.1,611.0h0M122.0,602.5h0M121.7,608.9h0M127.6,609.2h0M124.9,605.2h0M125.4,590.5h0M130.3,606.4h0M128.1,593.7h0M126.7,590.9h0M127.5,602.9h0M126.8,587.2h0M126.7,601.3h0M120.5,600.9h0M122.2,611.4h0M127.5,589.6h0M129.0,608.4h0M127.6,605.0h0M111.9,608.3h0M120.4,609.0h0M123.0,607.5h0M121.3,600.9h0M122.3,605.0h0M129.8,607.2h0M114.5,605.1h0M126.4,609.8h0M126.5,608.5h0M122.5,608.3h0M125.8,597.9h0M123.2,601.3h0M125.7,601.6h0M127.0,585.8h0M125.3,590.6h0M125.0,603.8h0M126.5,590.0h0M118.7,611.4h0M130.7,606.7h0M126.6,610.5h0M125.6,586.1h0M124.8,581.3h0M114.1,598.5h0M114.4,595.4h0" stroke="#D3D3D3" stroke-width="2.6" stroke-linecap="round" fill="none"/>
<path d="M113.4,608.9h0M115.1,610.5h0M114.0,607.0h0M112.2,610.4h0M117.9,609.6h0" stroke="#4926FB" stroke-width="2.6" stroke-linecap="round" fill="none"/>
<path d="M115.0,606.4h0M116.0,608.8h0M113.5,609.4h0M114.8,609.4h0M118.1,606.4h0" stroke="#0000FF" stroke-width="2.6" stroke-linecap="round" fill="none"/>
<path d="M150.9,535.1h0M126.6,531.9h0M157.7,572.1h0M136.6,576.1h0M140.0,540.8h0M169.4,551.9h0M123.7,542.6h0M133.6,553.6h0M137.0,561.7h0M153.4,550.2h0M129.1,530.4h0M147.2,546.0h0M150.5,546.6h0M140.5,545.0h0M152.3,559.6h0M121.0,541.5h0M144.0,575.5h0M159.9,562.7h0M167.5,547.8h0M155.9,562.3h0M151.3,546.8h0M160.6,550.9h0M164.9,553.3h0M132.2,542.8h0M129.5,529.8h0M156.9,565.5h0M139.6,531.6h0M144.2,558.0h0M125.8,532.8h0M140.8,544.7h0M138.8,535.2h0M150.7,540.4h0M166.3,552.3h0M144.0,574.0h0M162.9,560.4h0M154.3,573.0h0M135.2,548.3h0M154.1,555.4h0M154.5,571.7h0M156.0,547.8h0M148.1,559.6h0M124.3,538.5h0M138.4,552.2h0M158.3,565.7h0M159.8,558.2h0M139.0,576.6h0M141.9,552.8h0M140.9,578.6h0M122.9,548.2h0M152.3,547.9h0M121.1,548.4h0M146.4,548.6h0M136.8,535.9h0M126.2,531.2h0M150.7,539.9h0M129.7,533.1h0M126.6,542.3h0M151.5,561.5h0M156.1,549.7h0M148.2,543.5h0M145.6,575.8h0M167.5,552.5h0M126.0,537.2h0M133.7,545.7h0M156.8,554.6h0M152.3,540.3h0M149.9,567.6h0M160.1,568.1h0M123.7,539.9h0M154.3,567.8h0M154.3,568.2h0M126.9,528.9h0M149.7,533.4h0M133.5,551.7h0M154.2,552.3h0M161.5,554.4h0M141.7,573.8h0M154.9,554.8h0M142.7,542.9h0M153.1,541.1h0M121.5,540.1h0M156.2,553.8h0M133.7,530.4h0M139.4,544.9h0M153.4,558.6h0M137.0,553.0h0M143.4,559.5h0M120.7,542.4h0M132.4,553.3h0M138.1,560.3h0M152.7,556.3h0M135.5,554.3h0M137.4,541.4h0M164.1,544.9h0M143.1,575.4h0M135.0,568.6h0M138.0,536.1h0M121.7,550.5h0M163.7,553.4h0M145.7,547.7h0M129.1,539.8h0M154.2,552.9h0M127.2,529.6h0M132.8,545.6h0M143.4,547.7h0M137.1,535.2h0M152.7,560.9h0M152.9,553.8h0M160.7,556.0h0M136.9,541.0h0M152.0,557.6h0M143.0,539.4h0M136.8,534.0h0M154.1,555.5h0M167.0,552.8h0M138.2,558.6h0M144.3,577.1h0M129.1,537.1h0M141.6,569.7h0M145.3,536.8h0M162.2,561.6h0M164.4,547.7h0M155.5,549.0h0M143.0,540.5h0M143.3,578.1h0M160.2,548.7h0M146.6,578.3h0M134.4,537.4h0M130.0,549.0h0M163.9,550.4h0M135.1,551.2h0M159.5,554.7h0M131.8,538.8h0M163.2,558.9h0M151.6,560.2h0M150.0,536.9h0M141.1,548.8h0M122.8,551.0h0M119.5,543.9h0M151.1,538.7h0M153.7,542.5h0M149.0,542.7h0M129.2,536.3h0M136.2,530.7h0M152.1,539.8h0M145.9,558.7h0M141.2,538.1h0M154.5,561.8h0M132.7,530.0h0M155.4,557.7h0M155.8,550.0h0M140.1,535.2h0M130.8,539.3h0M146.5,564.6h0M139.7,571.9h0M145.5,537.6h0M148.3,569.8h0M142.2,558.8h0M152.2,544.8h0M148.9,565.1h0M123.9,548.3h0M159.8,555.4h0M137.1,567.5h0M138.8,567.0h0M132.5,553.4h0M131.3,536.2h0M146.7,548.6h0M139.7,548.2h0M166.3,549.9h0M150.8,561.6h0M139.0,566.0h0M142.0,561.5h0M148.7,559.0h0M134.8,530.7h0M145.5,541.5h0M137.8,540.9h0M150.4,545.6h0M153.5,548.8h0M127.8,529.4h0M166.1,556.2h0M152.4,546.8h0M138.0,555.5h0M145.8,547.6h0M123.3,545.9h0M134.0,537.2h0M165.6,552.9h0M153.2,535.0h0M155.8,553.0h0M125.4,534.4h0M138.9,570.5h0M159.6,561.2h0M154.3,533.7h0M140.5,568.4h0M142.7,540.0h0M150.2,560.7h0M144.0,550.3h0M167.9,550.2h0M147.0,542.3h0M142.2,579.0h0M151.7,546.3h0M122.9,536.8h0M157.2,573.2h0M153.5,534.0h0M136.0,536.8h0M136.7,559.2h0M130.3,546.2h0M153.5,533.1h0M144.7,577.8h0M147.0,575.3h0M137.7,560.0h0M123.9,546.2h0M148.5,534.0h0M151.0,569.5h0M151.1,569.1h0M141.3,534.6h0M149.5,567.4h0M135.4,550.0h0M140.1,572.6h0M135.0,532.3h0M159.8,551.7h0M138.1,544.0h0M165.2,556.3h0M159.5,545.6h0M127.2,536.5h0M157.2,571.0h0M131.3,535.7h0M141.7,578.1h0M143.4,550.5h0M134.0,556.5h0M120.1,540.1h0M137.9,566.9h0M137.3,545.4h0M135.6,542.2h0M127.8,532.9h0M149.8,541.9h0M132.2,542.2h0M154.4,567.5h0M153.6,553.4h0M143.7,546.9h0M140.8,563.7h0M135.3,543.9h0M137.4,548.1h0M120.5,545.6h0M148.2,544.1h0M137.7,559.3h0M167.8,550.5h0M120.4,543.5h0M159.5,556.9h0M151.5,534.1h0M139.7,569.0h0M140.5,537.6h0M152.0,544.1h0M149.1,563.3h0M112.3,571.5h0M113.6,568.3h0M110.8,570.0h0M113.0,570.2h0M112.0,566.4h0M113.7,569.0h0M113.7,567.4h0M110.5,578.1h0M109.2,577.9h0M111.6,573.8h0M111.6,571.4h0M108.3,572.5h0M123.3,610.2h0M128.3,597.9h0M128.5,605.4h0M114.4,612.5h0M120.2,607.7h0M117.2,602.9h0M122.5,604.6h0M122.8,609.0h0M127.1,609.1h0M128.7,585.7h0M129.5,604.8h0M127.7,593.9h0M125.9,590.1h0M127.0,592.3h0M127.7,606.4h0M121.9,608.5h0M116.6,603.1h0M126.1,600.1h0M127.2,608.3h0M128.3,609.7h0M124.6,601.5h0M125.8,583.0h0M113.3,607.2h0M125.2,603.3h0M115.3,612.6h0M127.7,603.2h0M126.0,600.0h0M114.1,612.0h0M126.6,610.5h0M127.6,595.2h0M122.4,608.1h0M117.3,603.4h0M126.5,582.4h0M121.2,609.2h0M126.1,584.9h0M128.7,586.2h0M125.7,584.4h0M118.6,610.5h0M119.1,604.2h0M114.7,598.4h0M114.5,596.1h0" stroke="#D3D3D3" stroke-width="2.6" stroke-linecap="round" fill="none"/>
<path d="M114.7,609.1h0M115.7,606.3h0M114.7,607.9h0" stroke="#4926FB" stroke-width="2.6" stroke-linecap="round" fill="none"/>
<path d="M116.8,609.5h0" stroke="#0000FF" stroke-width="2.6" stroke-linecap="round" fill="none"/>
<path d="M129.9,539.6h0M134.7,559.6h0M138.0,558.3h0M147.2,544.6h0M142.6,550.3h0M144.3,566.1h0M137.7,569.0h0M158.8,564.1h0M157.1,571.2h0M151.3,568.4h0M143.1,548.1h0M161.3,550.1h0M150.8,535.8h0M133.9,553.1h0M146.6,545.9h0M142.6,575.7h0M139.0,548.7h0M140.5,536.8h0M145.2,575.4h0M149.7,540.8h0M131.2,545.7h0M163.0,555.2h0M143.3,574.4h0M127.5,543.3h0M131.0,532.6h0M127.5,540.9h0M132.3,549.5h0M138.5,560.7h0M131.7,532.9h0M157.9,557.2h0M122.5,537.3h0M141.2,547.2h0M141.5,551.3h0M139.4,539.6h0M139.8,535.9h0M151.2,569.8h0M143.7,564.8h0M133.8,532.5h0M157.2,560.0h0M134.9,542.3h0M128.6,538.3h0M127.2,533.3h0M123.4,549.3h0M134.4,534.6h0M134.4,545.9h0M123.9,546.9h0M123.5,542.9h0M140.8,542.5h0M129.3,529.5h0M138.1,553.1h0M134.5,551.7h0M147.5,571.3h0M161.8,560.8h0M157.2,557.4h0M142.8,562.0h0M137.3,532.6h0M165.5,557.1h0M158.8,545.9h0M134.7,537.8h0M143.1,533.8h0M138.8,561.2h0M142.0,575.8h0M123.8,551.5h0M140.8,549.9h0M155.8,560.2h0M153.0,558.5h0M142.0,563.9h0M151.2,571.5h0M139.2,537.1h0M160.0,550.0h0M162.4,547.4h0M158.1,553.1h0M156.7,549.5h0M131.7,543.5h0M136.0,563.9h0M137.0,554.6h0M134.9,547.4h0M135.6,560.7h0M128.1,549.7h0M144.8,558.5h0M130.5,552.0h0M119.7,544.2h0M132.5,552.1h0M126.8,529.0h0M155.4,566.3h0M146.0,571.7h0M152.3,535.4h0M127.4,549.2h0M144.1,536.2h0M150.8,563.0h0M141.1,575.6h0M121.3,538.3h0M143.8,534.6h0M165.2,550.4h0M134.8,532.8h0M131.7,550.3h0M153.9,545.9h0M162.2,559.1h0M164.8,543.9h0M132.9,549.8h0M137.1,549.8h0M167.9,551.1h0M154.5,545.5h0M143.4,557.5h0M158.3,558.2h0M158.5,548.5h0M140.1,542.3h0M161.2,545.4h0M167.3,545.4h0M126.8,539.0h0M138.5,534.4h0M128.2,538.7h0M137.8,571.6h0M134.1,541.7h0M164.7,552.4h0M159.8,552.2h0M122.9,546.0h0M151.1,535.3h0M151.6,532.8h0M139.3,531.9h0M136.1,540.8h0M146.8,557.5h0M125.9,551.3h0M158.4,568.8h0M153.7,570.8h0M148.9,540.2h0M154.3,560.2h0M136.1,535.0h0M125.3,536.0h0M154.8,567.2h0M136.6,566.0h0M157.7,567.3h0M141.7,537.3h0M158.9,560.0h0M144.3,575.1h0M153.0,568.8h0M152.2,546.2h0M131.4,537.6h0M155.8,572.0h0M143.9,545.3h0M130.1,548.6h0M154.3,550.4h0M129.9,540.7h0M151.9,553.3h0M163.9,552.9h0M143.0,540.8h0M139.0,557.8h0M144.0,574.1h0M132.3,546.0h0M133.6,549.0h0M139.0,568.4h0M134.0,558.8h0M144.4,535.4h0M136.6,560.2h0M147.2,545.8h0M151.4,560.6h0M136.1,547.5h0M135.1,572.0h0M128.4,551.1h0M142.0,549.1h0M158.8,567.8h0M145.2,574.5h0M135.4,560.3h0M153.5,558.3h0M150.9,538.7h0M151.6,543.7h0M132.4,551.9h0M156.1,564.6h0M168.8,546.1h0M156.8,560.9h0M143.2,558.8h0M150.2,559.7h0M155.0,554.6h0M128.8,534.2h0M149.0,557.8h0M141.3,534.8h0M136.6,566.8h0M155.8,548.1h0M139.6,559.5h0M132.5,535.4h0M124.9,547.5h0M129.1,538.2h0M146.8,577.6h0M142.7,573.8h0M126.1,545.0h0M125.3,537.5h0M124.4,545.7h0M151.2,564.0h0M146.8,572.8h0M148.1,539.8h0M141.1,577.8h0M148.7,562.9h0M145.5,560.4h0M140.4,555.5h0M158.7,559.2h0M133.0,551.2h0M151.2,541.9h0M145.0,577.8h0M138.1,554.6h0M130.0,547.0h0M145.7,576.5h0M141.8,545.6h0M127.7,545.3h0M142.0,546.0h0M141.1,565.5h0M154.1,560.7h0M134.2,533.3h0M136.4,545.2h0M141.0,567.0h0M157.2,553.4h0M164.1,554.3h0M133.1,536.1h0M155.2,567.1h0M160.2,561.0h0M121.1,546.1h0M144.5,550.0h0M134.8,529.9h0M151.6,548.5h0M130.0,547.1h0M121.3,537.1h0M155.7,549.0h0M145.7,564.3h0M133.8,538.6h0M149.1,533.1h0M147.6,559.3h0M153.4,563.4h0M143.9,566.5h0M151.7,543.0h0M130.4,541.5h0M149.9,568.9h0M138.4,556.7h0M137.7,557.6h0M151.8,534.8h0M139.9,578.1h0M137.2,560.6h0M135.7,554.3h0M156.5,551.6h0M161.6,546.2h0M138.0,558.4h0M144.7,568.8h0M135.4,533.5h0M157.5,556.4h0M119.6,545.4h0M151.2,539.4h0M157.8,551.4h0M167.1,548.8h0M150.0,537.5h0M137.7,543.0h0M145.5,573.5h0M144.7,549.7h0M157.5,549.3h0M121.2,538.6h0M156.0,547.2h0M110.2,570.1h0M111.6,572.0h0M111.6,576.6h0M111.3,565.4h0M110.7,571.3h0M109.3,576.5h0M108.7,572.6h0M110.2,574.3h0M111.5,573.7h0M109.8,575.3h0M111.8,576.6h0M112.1,573.3h0M125.6,590.2h0M122.2,600.7h0M127.6,593.4h0M118.3,603.4h0M128.6,607.0h0M125.6,585.3h0M126.1,600.3h0M128.8,582.9h0M126.4,588.0h0M125.3,605.6h0M127.3,588.9h0M128.0,600.7h0M113.4,606.8h0M127.7,606.0h0M126.4,590.5h0M128.3,587.1h0M117.8,605.2h0M127.4,593.1h0M127.6,581.1h0M125.1,590.7h0M123.3,606.5h0M119.9,609.8h0M124.6,605.5h0M130.7,606.4h0M125.8,589.0h0M118.8,610.2h0M122.4,609.0h0M117.7,602.5h0M127.4,605.9h0M126.0,584.4h0M120.3,610.0h0M120.2,602.5h0M127.0,601.3h0M124.0,602.5h0M126.1,606.1h0M128.0,610.0h0M127.0,605.9h0M126.8,589.8h0M126.6,598.7h0M123.0,605.6h0M126.0,602.0h0M126.4,586.3h0M126.6,606.1h0M126.8,587.6h0M126.0,582.0h0M114.6,595.9h0M114.1,595.1h0" stroke="#D3D3D3" stroke-width="2.6" stroke-linecap="round" fill="none"/>
<path d="M135.2,546.9h0M108.9,570.6h0" stroke="#B093E5" stroke-width="2.3" stroke-linecap="round" fill="none"/>
<path d="M143.7,541.0h0M126.0,552.2h0M120.7,602.8h0" stroke="#AA89E7" stroke-width="2.3" stroke-linecap="round" fill="none"/>
<path d="M125.3,540.4h0" stroke="#A480EA" stroke-width="2.3" stroke-linecap="round" fill="none"/>
<path d="M142.0,564.3h0" stroke="#9D77EC" stroke-width="2.3" stroke-linecap="round" fill="none"/>
<path d="M150.7,543.6h0" stroke="#8E65F0" stroke-width="2.3" stroke-linecap="round" fill="none"/>
<path d="M152.2,537.3h0M163.0,558.4h0" stroke="#7C51F4" stroke-width="2.3" stroke-linecap="round" fill="none"/>
<path d="M124.4,608.3h0" stroke="#673DF8" stroke-width="2.3" stroke-linecap="round" fill="none"/>
<circle cx="116.3" cy="609.2" r="9.7" fill="none" stroke="#1A5578" stroke-width="1.5" stroke-dasharray="1.3 1.3"/>
</g>
<path d="M59.4,521.0V619.2H176.5" fill="none" stroke="#333" stroke-width="1.1"/>
<path d="M92.5,619.2v3.7M138.5,619.2v3.7M59.4,535.6h-3.7M59.4,560.4h-3.7M59.4,585.1h-3.7M59.4,609.9h-3.7" fill="none" stroke="#333" stroke-width="1.1"/>
<text x="0.0" y="0.0" font-size="13" text-anchor="end" fill="#2a2a2a" transform="translate(52.8 540.9) scale(0.95 1)">5</text>
<text x="0.0" y="0.0" font-size="13" text-anchor="end" fill="#2a2a2a" transform="translate(52.8 565.7) scale(0.95 1)">0</text>
<text x="0.0" y="0.0" font-size="13" text-anchor="end" fill="#2a2a2a" transform="translate(52.8 590.4) scale(0.95 1)">-5</text>
<text x="0.0" y="0.0" font-size="13" text-anchor="end" fill="#2a2a2a" transform="translate(52.8 615.2) scale(0.95 1)">-10</text>
<text x="0.0" y="0.0" font-size="13" text-anchor="middle" fill="#2a2a2a" transform="translate(92.5 636.4) scale(0.95 1)">-10</text>
<text x="0.0" y="0.0" font-size="13" text-anchor="middle" fill="#2a2a2a" transform="translate(138.5 636.4) scale(0.95 1)">0</text>
<text x="116.4" y="652.3" font-size="14.5" text-anchor="middle">umap_1</text>
<text x="30.3" y="570.5" font-size="14.5" text-anchor="middle" transform="rotate(-90 30.3 570.5)">umap_2</text>
<rect x="191.4" y="531.8" width="15.2" height="77.5" fill="url(#cb)"/>
<text x="213.6" y="614.3" font-size="12" fill="#1a1a1a">0</text>
<text x="213.6" y="589.9" font-size="12" fill="#1a1a1a">1</text>
<text x="213.6" y="565.4" font-size="12" fill="#1a1a1a">2</text>
<text x="213.6" y="541.0" font-size="12" fill="#1a1a1a">3</text>
<path d="M191.4,584.9h2.8M203.8,584.9h2.8M191.4,560.4h2.8M203.8,560.4h2.8M191.4,536.0h2.8M203.8,536.0h2.8" stroke="#fff" stroke-width="0.9"/>
<text x="0.0" y="0.0" font-size="15.8" text-anchor="middle" font-weight="bold" transform="translate(344.5 511.8) scale(1.025 1)">ACAN</text>
<g transform="translate(227,0)">
<g fill="#D3D3D3" stroke="#D3D3D3" stroke-width="1" stroke-linejoin="round"><polygon points="126.6,528.5 129.2,529.2 132.5,529.5 136.5,529.9 140.4,531.2 142.4,532.5 145.7,533.1 148.3,532.1 151.6,532.1 154.2,533.1 155.1,535.8 153.8,538.4 153.2,541.0 154.9,543.0 155.5,545.6 158.8,545.0 162.8,543.6 165.4,543.4 168.0,545.0 170.0,547.6 170.6,550.2 169.3,552.8 168.0,555.5 166.7,557.4 164.1,559.4 162.8,562.0 161.4,565.3 160.4,568.6 159.1,572.6 156.2,574.1 153.6,573.2 151.6,571.9 149.6,570.6 148.3,571.9 147.6,574.5 147.0,577.8 145.7,580.0 143.0,580.0 139.8,578.7 136.5,576.8 134.9,572.6 134.5,568.6 134.9,564.7 134.5,560.7 133.6,558.1 132.5,554.8 131.2,552.8 127.3,552.6 124.6,552.2 122.0,551.5 120.7,549.6 119.8,546.3 119.1,543.0 119.4,539.7 120.7,537.1 124.0,535.5 125.7,533.1 125.7,530.5"/><polygon points="107.6,568.6 109.5,565.3 112.2,565.3 114.8,568.0 115.5,569.9 113.5,571.2 112.2,571.9 112.2,575.2 112.8,577.8 110.9,579.1 108.9,578.5 108.6,575.2 108.2,572.6 107.3,570.6"/><polygon points="124.4,581.1 126.6,580.2 128.9,581.8 129.6,584.4 128.9,588.3 128.2,592.3 128.2,596.2 128.6,600.1 129.6,604.1 131.5,607.4 130.6,610.7 127.9,611.3 125.3,610.7 122.7,611.3 119.4,612.0 115.5,612.6 111.5,612.6 110.5,610.7 111.5,608.0 114.1,605.4 116.8,602.8 119.4,601.5 122.0,600.1 123.6,597.5 124.4,593.6 124.6,589.6 124.4,585.7 124.0,583.1"/><polygon points="112.2,595.5 114.1,594.9 115.7,597.1 114.8,599.1 112.8,598.8"/></g>
<g fill="#fff"><polygon points="143.0,552.8 146.3,549.6 150.3,547.6 152.9,549.6 152.2,552.8 148.3,556.8 144.4,556.8"/><polygon points="148.3,566.0 151.6,564.0 154.9,563.4 156.2,565.3 153.6,567.3 150.3,568.0"/><polygon points="127.3,543.4 130.6,543.0 131.5,545.0 128.6,545.6"/></g>
<circle cx="66" cy="590.7" r="1.5" fill="#D3D3D3"/>
<path d="M116.8,606.1h0M119.4,606.1h0M121.4,600.8h0" stroke="#B69CE3" stroke-width="2.3" stroke-linecap="round" fill="none"/>
<path d="M138.1,573.2h0M138.6,572.6h0M137.7,573.7h0M134.9,569.3h0M142.0,564.4h0" stroke="#AA89E7" stroke-width="2.3" stroke-linecap="round" fill="none"/>
<path d="M111.8,611.3h0" stroke="#0000FF" stroke-width="2.3" stroke-linecap="round" fill="none"/>
<circle cx="139.8" cy="568.6" r="9.85" fill="none" stroke="#E8101A" stroke-width="1.5" stroke-dasharray="1.3 1.3"/>
<circle cx="114.1" cy="605.7" r="10" fill="none" stroke="#1A5578" stroke-width="1.5" stroke-dasharray="1.3 1.3"/>
</g>
<path d="M286.4,521.0V619.2H403.5" fill="none" stroke="#333" stroke-width="1.1"/>
<path d="M319.5,619.2v3.7M365.5,619.2v3.7M286.4,535.6h-3.7M286.4,560.4h-3.7M286.4,585.1h-3.7M286.4,609.9h-3.7" fill="none" stroke="#333" stroke-width="1.1"/>
<text x="0.0" y="0.0" font-size="13" text-anchor="end" fill="#2a2a2a" transform="translate(279.8 540.9) scale(0.95 1)">5</text>
<text x="0.0" y="0.0" font-size="13" text-anchor="end" fill="#2a2a2a" transform="translate(279.8 565.7) scale(0.95 1)">0</text>
<text x="0.0" y="0.0" font-size="13" text-anchor="end" fill="#2a2a2a" transform="translate(279.8 590.4) scale(0.95 1)">-5</text>
<text x="0.0" y="0.0" font-size="13" text-anchor="end" fill="#2a2a2a" transform="translate(279.8 615.2) scale(0.95 1)">-10</text>
<text x="0.0" y="0.0" font-size="13" text-anchor="middle" fill="#2a2a2a" transform="translate(319.5 636.4) scale(0.95 1)">-10</text>
<text x="0.0" y="0.0" font-size="13" text-anchor="middle" fill="#2a2a2a" transform="translate(365.5 636.4) scale(0.95 1)">0</text>
<text x="343.4" y="652.3" font-size="14.5" text-anchor="middle">umap_1</text>
<text x="257.3" y="570.5" font-size="14.5" text-anchor="middle" transform="rotate(-90 257.3 570.5)">umap_2</text>
<rect x="418.4" y="531.8" width="15.2" height="77.5" fill="url(#cb)"/>
<text x="440.6" y="614.3" font-size="12" fill="#1a1a1a">0.0</text>
<text x="440.6" y="599.8" font-size="12" fill="#1a1a1a">0.5</text>
<text x="440.6" y="585.2" font-size="12" fill="#1a1a1a">1.0</text>
<text x="440.6" y="570.6" font-size="12" fill="#1a1a1a">1.5</text>
<text x="440.6" y="556.0" font-size="12" fill="#1a1a1a">2.0</text>
<text x="440.6" y="541.5" font-size="12" fill="#1a1a1a">2.5</text>
<path d="M418.4,594.7h2.8M430.8,594.7h2.8M418.4,580.2h2.8M430.8,580.2h2.8M418.4,565.6h2.8M430.8,565.6h2.8M418.4,551.0h2.8M430.8,551.0h2.8M418.4,536.5h2.8M430.8,536.5h2.8" stroke="#fff" stroke-width="0.9"/>
<text x="0.0" y="0.0" font-size="15.8" text-anchor="middle" font-weight="bold" transform="translate(571.5 511.8) scale(1.025 1)">HAPLN1</text>
<g transform="translate(454,0)">
<g fill="#D3D3D3" stroke="#D3D3D3" stroke-width="1" stroke-linejoin="round"><polygon points="126.6,528.5 129.2,529.2 132.5,529.5 136.5,529.9 140.4,531.2 142.4,532.5 145.7,533.1 148.3,532.1 151.6,532.1 154.2,533.1 155.1,535.8 153.8,538.4 153.2,541.0 154.9,543.0 155.5,545.6 158.8,545.0 162.8,543.6 165.4,543.4 168.0,545.0 170.0,547.6 170.6,550.2 169.3,552.8 168.0,555.5 166.7,557.4 164.1,559.4 162.8,562.0 161.4,565.3 160.4,568.6 159.1,572.6 156.2,574.1 153.6,573.2 151.6,571.9 149.6,570.6 148.3,571.9 147.6,574.5 147.0,577.8 145.7,580.0 143.0,580.0 139.8,578.7 136.5,576.8 134.9,572.6 134.5,568.6 134.9,564.7 134.5,560.7 133.6,558.1 132.5,554.8 131.2,552.8 127.3,552.6 124.6,552.2 122.0,551.5 120.7,549.6 119.8,546.3 119.1,543.0 119.4,539.7 120.7,537.1 124.0,535.5 125.7,533.1 125.7,530.5"/><polygon points="107.6,568.6 109.5,565.3 112.2,565.3 114.8,568.0 115.5,569.9 113.5,571.2 112.2,571.9 112.2,575.2 112.8,577.8 110.9,579.1 108.9,578.5 108.6,575.2 108.2,572.6 107.3,570.6"/><polygon points="124.4,581.1 126.6,580.2 128.9,581.8 129.6,584.4 128.9,588.3 128.2,592.3 128.2,596.2 128.6,600.1 129.6,604.1 131.5,607.4 130.6,610.7 127.9,611.3 125.3,610.7 122.7,611.3 119.4,612.0 115.5,612.6 111.5,612.6 110.5,610.7 111.5,608.0 114.1,605.4 116.8,602.8 119.4,601.5 122.0,600.1 123.6,597.5 124.4,593.6 124.6,589.6 124.4,585.7 124.0,583.1"/><polygon points="112.2,595.5 114.1,594.9 115.7,597.1 114.8,599.1 112.8,598.8"/></g>
<g fill="#fff"><polygon points="143.0,552.8 146.3,549.6 150.3,547.6 152.9,549.6 152.2,552.8 148.3,556.8 144.4,556.8"/><polygon points="148.3,566.0 151.6,564.0 154.9,563.4 156.2,565.3 153.6,567.3 150.3,568.0"/><polygon points="127.3,543.4 130.6,543.0 131.5,545.0 128.6,545.6"/></g>
<circle cx="66" cy="590.7" r="1.5" fill="#D3D3D3"/>
<path d="M134.9,569.3h0" stroke="#B69CE3" stroke-width="2.3" stroke-linecap="round" fill="none"/>
<path d="M136.7,572.8h0M137.7,573.5h0M136.5,573.9h0" stroke="#A480EA" stroke-width="2.3" stroke-linecap="round" fill="none"/>
<path d="M127.9,599.5h0" stroke="#9D77EC" stroke-width="2.3" stroke-linecap="round" fill="none"/>
<circle cx="139.1" cy="571.2" r="9.85" fill="none" stroke="#E8101A" stroke-width="1.5" stroke-dasharray="1.3 1.3"/>
</g>
<path d="M513.4,521.0V619.2H630.5" fill="none" stroke="#333" stroke-width="1.1"/>
<path d="M546.5,619.2v3.7M592.5,619.2v3.7M513.4,535.6h-3.7M513.4,560.4h-3.7M513.4,585.1h-3.7M513.4,609.9h-3.7" fill="none" stroke="#333" stroke-width="1.1"/>
<text x="0.0" y="0.0" font-size="13" text-anchor="end" fill="#2a2a2a" transform="translate(506.8 540.9) scale(0.95 1)">5</text>
<text x="0.0" y="0.0" font-size="13" text-anchor="end" fill="#2a2a2a" transform="translate(506.8 565.7) scale(0.95 1)">0</text>
<text x="0.0" y="0.0" font-size="13" text-anchor="end" fill="#2a2a2a" transform="translate(506.8 590.4) scale(0.95 1)">-5</text>
<text x="0.0" y="0.0" font-size="13" text-anchor="end" fill="#2a2a2a" transform="translate(506.8 615.2) scale(0.95 1)">-10</text>
<text x="0.0" y="0.0" font-size="13" text-anchor="middle" fill="#2a2a2a" transform="translate(546.5 636.4) scale(0.95 1)">-10</text>
<text x="0.0" y="0.0" font-size="13" text-anchor="middle" fill="#2a2a2a" transform="translate(592.5 636.4) scale(0.95 1)">0</text>
<text x="570.4" y="652.3" font-size="14.5" text-anchor="middle">umap_1</text>
<text x="484.3" y="570.5" font-size="14.5" text-anchor="middle" transform="rotate(-90 484.3 570.5)">umap_2</text>
<rect x="645.4" y="531.8" width="15.2" height="77.5" fill="url(#cb)"/>
<text x="667.6" y="614.3" font-size="12" fill="#1a1a1a">0.0</text>
<text x="667.6" y="598.4" font-size="12" fill="#1a1a1a">0.5</text>
<text x="667.6" y="582.6" font-size="12" fill="#1a1a1a">1.0</text>
<text x="667.6" y="566.7" font-size="12" fill="#1a1a1a">1.5</text>
<text x="667.6" y="550.8" font-size="12" fill="#1a1a1a">2.0</text>
<path d="M645.4,593.4h2.8M657.8,593.4h2.8M645.4,577.5h2.8M657.8,577.5h2.8M645.4,561.7h2.8M657.8,561.7h2.8M645.4,545.8h2.8M657.8,545.8h2.8" stroke="#fff" stroke-width="0.9"/>
<text x="0.0" y="0.0" font-size="15.8" text-anchor="middle" font-weight="bold" transform="translate(117.5 681.8) scale(1.025 1)">ACTA2</text>
<g transform="translate(0,170)">
<g fill="#D3D3D3" stroke="#D3D3D3" stroke-width="1" stroke-linejoin="round"><polygon points="126.6,528.5 129.2,529.2 132.5,529.5 136.5,529.9 140.4,531.2 142.4,532.5 145.7,533.1 148.3,532.1 151.6,532.1 154.2,533.1 155.1,535.8 153.8,538.4 153.2,541.0 154.9,543.0 155.5,545.6 158.8,545.0 162.8,543.6 165.4,543.4 168.0,545.0 170.0,547.6 170.6,550.2 169.3,552.8 168.0,555.5 166.7,557.4 164.1,559.4 162.8,562.0 161.4,565.3 160.4,568.6 159.1,572.6 156.2,574.1 153.6,573.2 151.6,571.9 149.6,570.6 148.3,571.9 147.6,574.5 147.0,577.8 145.7,580.0 143.0,580.0 139.8,578.7 136.5,576.8 134.9,572.6 134.5,568.6 134.9,564.7 134.5,560.7 133.6,558.1 132.5,554.8 131.2,552.8 127.3,552.6 124.6,552.2 122.0,551.5 120.7,549.6 119.8,546.3 119.1,543.0 119.4,539.7 120.7,537.1 124.0,535.5 125.7,533.1 125.7,530.5"/><polygon points="107.6,568.6 109.5,565.3 112.2,565.3 114.8,568.0 115.5,569.9 113.5,571.2 112.2,571.9 112.2,575.2 112.8,577.8 110.9,579.1 108.9,578.5 108.6,575.2 108.2,572.6 107.3,570.6"/><polygon points="124.4,581.1 126.6,580.2 128.9,581.8 129.6,584.4 128.9,588.3 128.2,592.3 128.2,596.2 128.6,600.1 129.6,604.1 131.5,607.4 130.6,610.7 127.9,611.3 125.3,610.7 122.7,611.3 119.4,612.0 115.5,612.6 111.5,612.6 110.5,610.7 111.5,608.0 114.1,605.4 116.8,602.8 119.4,601.5 122.0,600.1 123.6,597.5 124.4,593.6 124.6,589.6 124.4,585.7 124.0,583.1"/><polygon points="112.2,595.5 114.1,594.9 115.7,597.1 114.8,599.1 112.8,598.8"/></g>
<g fill="#fff"><polygon points="143.0,552.8 146.3,549.6 150.3,547.6 152.9,549.6 152.2,552.8 148.3,556.8 144.4,556.8"/><polygon points="148.3,566.0 151.6,564.0 154.9,563.4 156.2,565.3 153.6,567.3 150.3,568.0"/><polygon points="127.3,543.4 130.6,543.0 131.5,545.0 128.6,545.6"/></g>
<circle cx="66" cy="590.7" r="1.9" fill="#B69CE3"/>
<path d="M164.9,556.6h0M161.6,554.0h0M167.1,549.2h0M169.0,549.5h0M162.4,552.6h0M165.0,550.1h0M113.4,567.3h0" stroke="#B69CE3" stroke-width="2.6" stroke-linecap="round" fill="none"/>
<path d="M143.3,541.2h0M136.9,546.8h0M142.0,543.6h0M150.7,546.5h0M133.8,531.8h0M133.4,538.9h0M123.6,546.9h0M147.1,547.9h0M143.8,546.8h0M143.3,543.3h0M165.3,554.6h0M137.8,536.0h0M149.2,540.3h0M134.7,557.4h0M151.2,558.9h0M152.9,542.0h0M156.7,548.5h0M128.6,550.8h0M161.7,557.3h0M156.0,551.2h0M165.2,553.9h0M150.3,544.0h0M129.5,535.7h0M162.5,553.8h0M128.3,549.5h0M122.4,545.2h0M164.2,554.5h0M123.6,538.3h0M123.0,543.8h0M154.4,560.6h0M127.3,530.5h0M126.1,538.9h0M148.6,539.6h0M140.5,534.5h0M151.3,547.9h0M127.3,532.8h0M129.0,532.5h0M130.0,550.1h0M123.9,542.6h0M141.1,543.3h0M142.4,540.6h0M128.2,543.3h0M144.4,539.0h0M127.7,530.2h0M142.8,552.3h0M134.9,556.5h0M131.0,545.9h0M108.8,577.0h0" stroke="#AA89E7" stroke-width="2.6" stroke-linecap="round" fill="none"/>
<path d="M146.9,563.5h0M136.5,544.5h0M138.5,550.8h0M134.4,555.8h0M138.1,576.8h0M134.9,531.2h0M135.0,551.7h0M141.2,558.3h0M158.3,558.1h0M145.5,558.8h0M139.2,537.7h0M162.8,555.3h0M138.2,555.8h0M126.2,546.6h0M141.0,560.6h0M132.1,546.9h0M139.9,551.8h0M123.8,544.1h0M142.5,573.4h0M138.2,568.9h0M145.1,574.9h0M131.9,547.5h0M137.2,564.3h0M136.3,568.2h0M144.5,539.3h0M132.3,529.9h0M146.2,567.1h0M153.4,561.6h0M147.0,541.9h0M144.7,576.9h0M132.5,553.8h0M136.9,574.3h0M138.1,563.1h0M143.8,560.2h0M164.2,556.0h0M164.3,544.8h0M140.4,536.1h0M160.0,551.4h0M159.6,557.0h0M126.8,539.8h0M169.6,549.3h0M166.8,552.2h0M120.6,538.6h0M128.3,546.9h0M147.2,559.7h0M135.3,539.1h0M135.5,572.6h0M133.7,530.0h0M143.8,569.7h0M120.0,541.3h0M141.2,536.5h0M127.6,543.2h0M142.7,561.4h0M151.8,559.5h0M142.6,562.3h0M162.6,554.0h0M144.2,546.4h0M110.2,574.6h0M109.1,578.2h0M112.0,569.5h0M109.7,567.7h0M110.0,578.1h0M118.1,607.3h0M128.5,609.1h0M126.2,610.3h0M114.8,605.7h0M113.5,606.5h0M127.8,599.4h0M122.9,606.9h0M125.8,587.2h0" stroke="#9D77EC" stroke-width="2.6" stroke-linecap="round" fill="none"/>
<path d="M135.4,537.7h0M137.2,572.0h0M150.6,558.9h0M154.9,550.8h0M145.9,546.6h0M146.4,537.4h0M149.8,561.8h0M157.1,570.6h0M150.0,535.6h0M158.2,555.1h0M132.3,552.8h0M152.9,567.5h0M157.4,554.5h0M122.3,542.0h0M135.6,572.7h0M144.2,573.4h0M119.3,541.9h0M141.1,555.4h0M124.5,540.8h0M122.9,542.9h0M137.2,567.2h0M132.4,554.0h0M162.1,562.0h0M151.6,557.0h0M140.6,540.9h0M142.5,561.8h0M122.3,549.3h0M151.2,557.8h0M142.1,577.6h0M141.9,573.8h0M136.2,557.1h0M136.6,564.5h0M169.9,551.2h0M131.4,534.3h0M137.3,564.2h0M144.7,567.9h0M140.3,565.5h0M154.0,563.3h0M126.6,535.8h0M143.1,578.0h0M140.6,539.2h0M155.6,566.0h0M153.0,569.1h0M141.8,537.4h0M125.9,590.8h0M120.7,606.4h0M126.5,596.9h0M115.3,605.2h0M113.8,612.1h0M127.0,589.1h0M120.2,604.4h0M115.9,605.3h0M121.6,601.2h0M126.9,602.3h0M116.5,603.1h0M120.6,609.2h0M126.1,589.6h0M129.3,607.7h0M124.7,590.4h0M124.8,581.6h0M125.7,582.9h0M126.6,602.6h0M121.7,601.1h0M118.9,607.6h0M125.4,610.2h0" stroke="#8E65F0" stroke-width="2.6" stroke-linecap="round" fill="none"/>
<path d="M159.0,564.3h0M141.8,562.0h0M149.7,558.1h0M139.8,578.7h0M146.6,578.5h0M139.4,568.6h0M143.9,564.9h0M153.2,550.2h0M150.2,559.0h0M156.7,566.2h0M156.3,568.0h0M156.5,550.7h0M155.3,567.3h0M154.8,569.2h0M142.7,577.8h0M136.9,559.1h0M155.0,572.9h0M157.3,571.7h0M128.5,602.9h0M122.4,602.1h0M117.0,608.2h0M123.0,600.8h0M119.9,605.2h0M127.0,592.5h0M119.2,603.8h0M115.2,611.2h0M111.9,610.0h0M127.8,593.4h0M127.4,601.0h0M124.0,605.6h0M117.3,609.8h0" stroke="#7C51F4" stroke-width="2.6" stroke-linecap="round" fill="none"/>
<path d="M159.9,568.3h0M157.6,571.5h0M155.9,564.0h0M115.3,610.8h0M121.2,606.1h0M117.1,607.3h0M122.4,609.2h0M113.0,608.4h0M117.5,605.1h0" stroke="#673DF8" stroke-width="2.6" stroke-linecap="round" fill="none"/>
<path d="M151.6,569.1h0M143.8,543.5h0M152.6,558.4h0M161.0,561.6h0M124.7,548.1h0M147.7,560.5h0M164.3,553.3h0M143.1,533.7h0M162.0,553.8h0M154.8,563.1h0M156.6,550.0h0M158.6,547.1h0M139.1,560.9h0M162.6,558.5h0M146.8,532.9h0M166.5,545.3h0M163.0,560.3h0M153.1,562.4h0M160.5,551.8h0M162.7,557.9h0M135.2,541.3h0M142.1,557.4h0M143.7,556.2h0M143.7,545.5h0M146.1,542.4h0M129.9,540.6h0M124.0,538.6h0M144.5,537.3h0M159.8,558.8h0M154.3,548.5h0M158.5,565.1h0M126.5,534.4h0M132.0,548.0h0M138.9,557.4h0M157.8,555.9h0M156.5,565.6h0M159.4,557.5h0M157.5,557.3h0M136.2,535.0h0M145.4,547.5h0M155.5,546.5h0M149.7,564.8h0M146.5,538.7h0M141.7,546.1h0M141.2,554.6h0M127.0,534.4h0M142.4,555.9h0M134.4,532.5h0M122.7,544.0h0M154.3,571.7h0M155.8,546.1h0M136.7,540.9h0M153.1,553.0h0M152.2,536.6h0M128.1,534.1h0M126.3,536.0h0M146.7,540.5h0M131.5,551.1h0M140.3,550.1h0M129.2,547.7h0M162.2,546.3h0M167.3,555.0h0M167.4,549.1h0M164.9,549.5h0M125.5,544.5h0M145.5,534.3h0M149.4,537.0h0M167.1,554.6h0M163.8,544.6h0M151.8,537.5h0M136.5,563.1h0M140.2,535.7h0M162.2,558.6h0M153.0,541.2h0M129.4,539.1h0M144.7,549.7h0M145.4,543.7h0M156.6,554.1h0M130.7,547.0h0M111.4,568.9h0M111.8,572.5h0M108.3,571.7h0M112.7,568.9h0M111.9,569.7h0M118.5,610.4h0M114.3,597.9h0" stroke="#D3D3D3" stroke-width="2.6" stroke-linecap="round" fill="none"/>
<path d="M165.4,553.8h0M157.1,547.8h0" stroke="#B69CE3" stroke-width="2.6" stroke-linecap="round" fill="none"/>
<path d="M139.9,536.1h0M167.4,553.1h0M139.9,555.9h0M125.1,544.6h0M131.8,531.7h0M121.7,550.2h0M153.5,534.9h0M131.8,542.1h0M124.5,550.0h0M142.7,551.1h0M122.1,540.3h0M127.8,542.4h0M119.4,544.1h0M130.9,543.0h0M132.5,547.3h0M128.5,551.5h0M137.0,546.3h0M153.9,544.9h0M140.9,548.1h0M131.7,544.3h0M136.8,536.4h0M152.0,538.6h0M161.9,552.9h0M139.7,538.3h0M134.0,556.3h0M147.0,540.3h0M126.3,546.6h0M146.8,541.8h0M129.2,534.0h0M148.7,545.5h0M144.8,538.9h0M151.4,559.4h0M124.5,548.6h0M125.1,544.0h0M143.9,534.2h0M142.3,540.4h0M158.5,559.0h0M135.1,544.6h0M136.2,538.7h0M134.5,541.9h0M139.2,547.8h0M134.1,533.9h0M122.1,546.5h0M113.3,568.0h0M113.6,570.0h0M107.8,570.1h0M111.8,576.6h0" stroke="#AA89E7" stroke-width="2.6" stroke-linecap="round" fill="none"/>
<path d="M147.1,558.1h0M161.3,553.3h0M123.2,536.2h0M138.2,535.9h0M169.2,548.1h0M143.0,547.1h0M148.8,566.8h0M145.8,535.4h0M157.3,548.9h0M121.1,537.3h0M128.6,548.6h0M144.6,557.7h0M149.5,534.6h0M152.6,537.5h0M134.3,534.1h0M126.8,550.4h0M124.1,546.3h0M128.2,551.5h0M168.4,553.6h0M123.2,538.2h0M129.2,533.8h0M145.1,562.6h0M124.6,551.2h0M137.6,543.9h0M147.3,558.9h0M156.8,551.0h0M139.2,535.0h0M143.5,563.8h0M132.4,533.7h0M134.5,552.8h0M138.5,568.8h0M145.5,547.1h0M144.8,577.8h0M132.9,549.5h0M147.3,546.3h0M125.2,541.3h0M145.3,570.3h0M142.7,564.5h0M146.4,557.1h0M144.6,540.9h0M143.7,538.9h0M126.1,545.8h0M145.7,569.9h0M125.3,543.8h0M141.0,560.3h0M145.6,562.5h0M147.0,542.1h0M167.2,551.2h0M157.6,557.1h0M143.3,564.6h0M135.3,537.3h0M154.1,562.6h0M139.2,546.5h0M141.6,541.2h0M131.5,535.0h0M138.4,541.2h0M143.1,551.1h0M139.3,557.2h0M131.4,535.3h0M129.0,543.0h0M151.9,553.8h0M137.4,567.9h0M111.9,567.9h0M109.7,565.9h0M113.9,569.7h0M125.5,594.9h0M126.1,586.5h0M126.6,605.1h0M112.0,610.0h0M119.3,606.8h0M123.7,598.4h0M125.1,586.8h0" stroke="#9D77EC" stroke-width="2.6" stroke-linecap="round" fill="none"/>
<path d="M146.2,568.5h0M143.0,570.6h0M141.2,558.2h0M135.8,569.6h0M127.1,536.7h0M141.9,570.6h0M155.7,551.5h0M149.0,567.7h0M141.0,555.8h0M135.5,572.3h0M138.4,563.8h0M138.8,543.5h0M140.7,554.5h0M138.9,561.3h0M136.5,559.0h0M140.8,571.7h0M142.6,568.1h0M154.0,534.9h0M139.2,572.7h0M141.7,560.1h0M143.2,576.9h0M146.5,562.9h0M142.5,544.5h0M159.8,565.2h0M149.1,559.4h0M121.1,537.3h0M143.4,542.5h0M141.7,532.4h0M157.6,570.5h0M132.9,539.1h0M140.8,534.8h0M135.2,566.5h0M161.4,551.5h0M126.4,545.7h0M134.4,533.2h0M169.4,547.1h0M143.2,565.3h0M142.4,573.8h0M160.3,559.1h0M138.7,537.1h0M165.4,555.7h0M121.7,550.3h0M145.3,559.8h0M135.3,530.0h0M137.2,572.5h0M146.6,558.7h0M137.5,574.2h0M139.4,543.2h0M135.8,541.4h0M137.9,564.7h0M127.5,594.2h0M127.5,611.2h0M118.2,610.6h0M117.1,606.1h0M127.8,603.5h0M122.4,608.1h0M128.1,608.2h0M124.9,609.3h0M127.6,596.7h0M125.3,607.4h0M113.5,611.4h0M129.7,609.9h0M118.6,610.8h0M125.4,588.6h0M117.1,603.9h0M127.1,590.0h0M128.2,603.5h0M117.5,602.8h0M128.5,600.5h0M119.2,607.3h0M128.2,598.6h0" stroke="#8E65F0" stroke-width="2.6" stroke-linecap="round" fill="none"/>
<path d="M159.4,571.1h0M146.8,569.7h0M160.5,565.3h0M142.4,562.4h0M136.6,560.0h0M150.3,562.3h0M157.1,570.3h0M154.1,550.5h0M156.9,564.3h0M140.4,570.8h0M157.4,566.8h0M158.9,565.2h0M124.7,607.0h0M119.3,610.7h0M122.4,610.5h0M123.4,607.2h0M117.1,611.4h0M122.4,603.1h0M126.4,594.9h0M121.9,606.7h0M124.1,600.7h0M123.9,606.7h0M116.3,610.3h0M122.0,601.4h0M121.6,603.4h0M116.6,612.3h0M118.4,603.5h0M114.4,610.3h0M127.4,601.0h0M120.4,603.0h0M122.4,610.1h0" stroke="#7C51F4" stroke-width="2.6" stroke-linecap="round" fill="none"/>
<path d="M157.2,567.3h0M152.0,571.5h0M117.9,611.6h0" stroke="#673DF8" stroke-width="2.6" stroke-linecap="round" fill="none"/>
<path d="M165.2,543.9h0M124.6,550.9h0M153.3,567.7h0M143.4,540.2h0M133.5,549.7h0M143.8,556.8h0M139.0,535.6h0M154.6,563.2h0M137.9,544.6h0M158.5,557.2h0M149.8,533.9h0M148.1,546.9h0M139.0,534.1h0M120.0,541.5h0M141.5,559.1h0M128.6,550.6h0M134.7,537.1h0M165.6,552.5h0M141.7,542.6h0M160.9,555.8h0M158.2,559.7h0M125.3,539.0h0M141.5,544.3h0M122.5,546.0h0M142.0,538.4h0M146.8,537.3h0M166.1,557.2h0M146.1,563.2h0M163.0,553.4h0M137.6,551.0h0M127.7,541.4h0M158.1,547.5h0M147.5,559.4h0M142.8,550.2h0M147.7,537.6h0M142.4,540.9h0M126.8,534.0h0M144.4,548.9h0M151.3,548.1h0M136.0,556.5h0M153.6,542.7h0M130.4,545.3h0M129.1,548.1h0M161.6,548.5h0M121.9,546.3h0M122.7,546.1h0M152.5,570.0h0M140.7,574.8h0M168.2,552.1h0M148.0,538.2h0M149.1,559.6h0M154.6,549.9h0M159.5,548.3h0M162.3,553.6h0M135.4,555.5h0M144.4,557.5h0M144.6,536.5h0M147.0,538.6h0M159.4,546.4h0M155.1,561.4h0M146.0,542.5h0M150.5,533.5h0M167.6,551.1h0M142.9,551.7h0M145.5,539.9h0M151.7,532.4h0M147.0,569.3h0M122.9,538.3h0M159.3,561.3h0M145.4,544.3h0M126.4,529.6h0M149.3,542.1h0M158.2,566.8h0M165.4,550.1h0M133.7,548.8h0M135.4,569.7h0M150.3,569.6h0M148.2,544.4h0M134.7,540.6h0M140.0,541.3h0M133.0,549.0h0M138.6,543.8h0M167.4,548.4h0M111.3,577.1h0M112.4,566.4h0M107.6,569.0h0M114.0,570.4h0M127.8,586.4h0M112.9,598.4h0M113.1,598.3h0" stroke="#D3D3D3" stroke-width="2.6" stroke-linecap="round" fill="none"/>
<path d="M162.1,545.3h0M162.0,558.4h0M167.4,550.6h0M111.7,577.4h0M108.9,573.1h0M109.4,571.9h0" stroke="#B69CE3" stroke-width="2.6" stroke-linecap="round" fill="none"/>
<path d="M150.7,533.4h0M132.9,536.5h0M157.5,559.0h0M155.6,561.1h0M130.6,534.5h0M161.3,544.7h0M165.7,544.1h0M122.9,542.5h0M132.5,547.0h0M157.0,547.7h0M160.5,553.1h0M136.8,539.3h0M130.9,539.1h0M144.8,543.7h0M129.1,550.0h0M129.6,539.9h0M136.4,537.1h0M132.0,535.1h0M133.5,546.3h0M158.3,546.0h0M121.0,543.1h0M132.8,541.5h0M125.6,536.9h0M146.8,542.3h0M143.7,537.0h0M148.5,559.1h0M152.0,539.6h0M143.5,549.8h0M134.0,548.9h0M143.4,555.2h0M133.9,537.6h0M123.4,543.3h0M141.4,539.9h0M156.9,553.0h0M145.6,545.3h0M121.2,541.4h0M128.1,542.0h0M131.8,551.0h0M108.4,573.1h0M111.7,569.6h0" stroke="#AA89E7" stroke-width="2.6" stroke-linecap="round" fill="none"/>
<path d="M127.5,531.0h0M149.8,557.6h0M149.8,541.9h0M123.5,544.7h0M138.4,533.6h0M125.8,546.9h0M161.1,550.1h0M144.7,578.1h0M142.7,548.3h0M138.3,568.5h0M150.6,569.4h0M142.2,566.5h0M154.5,551.6h0M140.2,545.5h0M126.0,539.0h0M153.9,546.0h0M152.7,548.4h0M136.0,541.4h0M149.6,545.1h0M165.2,551.3h0M153.0,557.5h0M165.0,558.3h0M134.7,559.8h0M148.8,534.4h0M144.8,567.4h0M137.9,576.7h0M135.0,562.8h0M139.3,575.5h0M157.2,547.7h0M147.3,543.2h0M125.6,540.2h0M143.4,543.5h0M141.2,554.7h0M145.2,538.5h0M145.7,569.6h0M144.4,550.7h0M158.3,561.6h0M128.1,546.6h0M142.4,572.1h0M162.2,558.7h0M137.3,540.3h0M130.0,540.6h0M141.8,552.6h0M164.7,554.3h0M122.4,550.1h0M158.1,557.1h0M138.2,562.8h0M154.4,548.0h0M145.2,574.3h0M157.6,551.5h0M165.2,548.9h0M130.2,539.4h0M127.8,551.2h0M149.7,556.6h0M128.8,540.4h0M141.0,575.0h0M148.2,563.0h0M130.9,542.7h0M153.0,546.0h0M108.9,571.1h0M109.3,566.1h0M127.6,609.2h0M128.1,593.7h0M127.5,602.9h0M129.0,608.4h0M123.0,607.5h0M122.3,605.0h0M126.5,608.5h0M122.5,608.3h0M125.8,597.9h0M113.9,610.9h0M125.0,603.8h0M125.6,586.1h0" stroke="#9D77EC" stroke-width="2.6" stroke-linecap="round" fill="none"/>
<path d="M119.8,539.7h0M135.4,553.3h0M134.3,551.9h0M144.8,546.0h0M137.8,564.8h0M152.5,569.6h0M135.5,537.9h0M161.9,561.9h0M138.4,548.4h0M143.4,577.2h0M125.2,544.9h0M137.2,541.3h0M160.2,545.2h0M154.6,557.0h0M122.5,539.2h0M140.4,573.6h0M164.3,551.1h0M127.1,539.7h0M130.8,529.9h0M152.0,553.7h0M127.5,545.6h0M122.5,537.6h0M135.2,542.9h0M158.6,556.5h0M156.3,550.6h0M149.0,561.7h0M144.7,550.3h0M149.0,544.1h0M137.6,563.9h0M159.8,558.2h0M133.0,550.0h0M140.1,560.8h0M148.1,564.0h0M163.7,546.3h0M157.4,571.9h0M134.9,542.1h0M143.1,537.2h0M138.0,531.5h0M154.2,570.3h0M139.6,567.1h0M129.1,552.6h0M128.9,548.1h0M146.6,570.4h0M158.1,550.3h0M144.0,578.5h0M136.2,562.7h0M143.6,573.2h0M148.3,547.4h0M137.8,546.0h0M138.4,574.2h0M155.3,571.2h0M135.2,536.4h0M151.7,546.1h0M158.3,552.6h0M133.8,544.3h0M137.2,567.1h0M152.6,553.1h0M142.4,573.5h0M150.3,556.3h0M153.9,545.9h0M137.8,534.2h0M124.9,605.2h0M125.4,590.5h0M130.3,606.4h0M126.7,590.9h0M126.8,587.2h0M126.7,601.3h0M120.5,600.9h0M122.2,611.4h0M127.5,589.6h0M127.6,605.0h0M120.4,609.0h0M129.8,607.2h0M123.2,601.3h0M125.7,601.6h0M127.0,585.8h0M118.7,611.4h0M130.7,606.7h0M124.8,581.3h0" stroke="#8E65F0" stroke-width="2.6" stroke-linecap="round" fill="none"/>
<path d="M137.8,559.1h0M144.8,564.4h0M153.8,555.4h0M144.5,568.9h0M142.8,568.0h0M136.3,565.9h0M150.9,568.3h0M143.3,566.9h0M159.8,569.7h0M136.8,560.9h0M158.6,562.0h0M145.6,559.9h0M140.7,576.7h0M129.2,610.4h0M122.7,605.5h0M122.0,602.5h0M121.7,608.9h0M116.9,607.3h0M114.4,611.7h0M111.9,608.3h0M114.5,605.1h0M126.4,609.8h0M125.3,590.6h0M126.5,590.0h0M117.3,609.7h0M120.5,606.2h0M126.6,610.5h0" stroke="#7C51F4" stroke-width="2.6" stroke-linecap="round" fill="none"/>
<path d="M154.8,572.8h0M157.9,564.2h0M153.2,563.5h0M114.9,606.8h0M112.5,610.2h0M112.3,611.4h0M121.3,600.9h0" stroke="#673DF8" stroke-width="2.6" stroke-linecap="round" fill="none"/>
<path d="M137.7,537.1h0M123.8,546.1h0M159.3,558.5h0M144.8,545.6h0M141.4,544.7h0M131.2,547.7h0M129.6,530.6h0M143.2,543.1h0M131.7,531.1h0M156.6,564.7h0M135.5,529.9h0M157.9,563.0h0M162.4,553.1h0M127.8,552.1h0M129.8,551.9h0M156.3,560.0h0M141.2,539.3h0M126.3,531.3h0M124.3,547.6h0M141.1,551.2h0M142.0,536.3h0M133.8,542.2h0M141.1,535.3h0M157.6,566.0h0M142.5,543.3h0M133.2,555.6h0M138.9,558.1h0M143.1,556.6h0M136.2,563.8h0M141.9,557.7h0M126.8,544.7h0M119.5,544.3h0M167.9,553.0h0M127.9,540.1h0M146.8,572.7h0M146.0,541.7h0M129.3,551.3h0M154.3,550.6h0M143.1,545.3h0M143.2,556.8h0M139.1,571.0h0M144.8,535.3h0M124.2,539.0h0M134.7,548.4h0M166.8,555.7h0M155.7,546.8h0M145.0,549.4h0M124.0,547.7h0M164.8,554.8h0M135.1,539.7h0M134.1,557.5h0M132.0,531.0h0M155.0,567.2h0M152.3,570.8h0M142.0,557.9h0M150.8,544.8h0M121.9,550.2h0M164.3,545.6h0M157.0,550.5h0M150.4,539.3h0M128.5,537.3h0M162.8,556.3h0M155.7,572.4h0M134.9,538.4h0M148.8,544.4h0M144.9,549.0h0M152.8,548.0h0M156.6,549.2h0M156.5,558.1h0M166.4,553.0h0M165.6,552.1h0M168.8,547.4h0M139.2,531.4h0M144.0,543.3h0M128.0,534.6h0M155.1,559.8h0M109.5,578.0h0M108.4,568.0h0M109.6,574.0h0M114.6,567.9h0M113.1,570.7h0M122.1,611.0h0M114.1,598.5h0M114.4,595.4h0" stroke="#D3D3D3" stroke-width="2.6" stroke-linecap="round" fill="none"/>
<path d="M169.4,551.9h0" stroke="#B69CE3" stroke-width="2.6" stroke-linecap="round" fill="none"/>
<path d="M123.7,542.6h0M133.6,553.6h0M129.1,530.4h0M164.9,553.3h0M132.2,542.8h0M139.6,531.6h0M138.8,535.2h0M138.4,552.2h0M146.4,548.6h0M136.8,535.9h0M167.5,552.5h0M133.7,545.7h0M152.3,540.3h0M126.9,528.9h0M153.1,541.1h0M129.1,539.8h0M154.2,552.9h0M143.4,547.7h0M152.0,557.6h0M143.0,539.4h0M155.5,549.0h0M151.1,538.7h0M149.0,542.7h0M130.8,539.3h0M152.2,544.8h0M132.5,553.4h0M150.8,561.6h0M137.8,540.9h0M138.0,555.5h0M123.3,545.9h0M134.0,537.2h0M142.7,540.0h0M151.7,546.3h0M153.5,534.0h0M130.3,546.2h0M123.9,546.2h0M141.3,534.6h0M135.0,532.3h0M159.5,545.6h0M127.2,536.5h0M131.3,535.7h0M135.6,542.2h0M127.8,532.9h0M132.2,542.2h0M143.7,546.9h0M120.5,545.6h0M167.8,550.5h0M159.5,556.9h0M140.5,537.6h0M152.0,544.1h0M113.7,567.4h0M110.5,578.1h0" stroke="#AA89E7" stroke-width="2.6" stroke-linecap="round" fill="none"/>
<path d="M150.9,535.1h0M136.6,576.1h0M153.4,550.2h0M147.2,546.0h0M152.3,559.6h0M167.5,547.8h0M160.6,550.9h0M129.5,529.8h0M140.8,544.7h0M135.2,548.3h0M159.8,558.2h0M121.1,548.4h0M150.7,539.9h0M126.6,542.3h0M156.8,554.6h0M149.9,567.6h0M123.7,539.9h0M142.7,542.9h0M156.2,553.8h0M133.7,530.4h0M139.4,544.9h0M153.4,558.6h0M143.4,559.5h0M138.1,560.3h0M121.7,550.5h0M132.8,545.6h0M137.1,535.2h0M152.7,560.9h0M154.1,555.5h0M129.1,537.1h0M141.6,569.7h0M143.3,578.1h0M146.6,578.3h0M152.1,539.8h0M154.5,561.8h0M132.7,530.0h0M139.7,571.9h0M145.5,537.6h0M159.8,555.4h0M139.7,548.2h0M145.5,541.5h0M166.1,556.2h0M145.8,547.6h0M153.2,535.0h0M155.8,553.0h0M154.3,533.7h0M142.2,579.0h0M136.0,536.8h0M137.7,560.0h0M148.5,534.0h0M165.2,556.3h0M141.7,578.1h0M143.4,550.5h0M137.3,545.4h0M140.8,563.7h0M135.3,543.9h0M148.2,544.1h0M112.3,571.5h0M110.8,570.0h0M113.0,570.2h0M113.7,569.0h0M108.3,572.5h0M128.5,605.4h0M114.4,612.5h0M117.2,602.9h0M115.1,610.5h0M127.7,603.2h0M127.6,595.2h0M114.0,607.0h0M126.5,582.4h0M128.7,586.2h0M125.7,584.4h0M118.6,610.5h0" stroke="#9D77EC" stroke-width="2.6" stroke-linecap="round" fill="none"/>
<path d="M157.7,572.1h0M140.0,540.8h0M137.0,561.7h0M151.3,546.8h0M144.0,574.0h0M154.5,571.7h0M156.0,547.8h0M148.1,559.6h0M158.3,565.7h0M141.9,552.8h0M122.9,548.2h0M151.5,561.5h0M148.2,543.5h0M121.5,540.1h0M137.0,553.0h0M152.7,556.3h0M137.4,541.4h0M163.7,553.4h0M145.7,547.7h0M152.9,553.8h0M160.7,556.0h0M136.8,534.0h0M138.2,558.6h0M144.3,577.1h0M160.2,548.7h0M130.0,549.0h0M122.8,551.0h0M119.5,543.9h0M145.9,558.7h0M146.5,564.6h0M123.9,548.3h0M137.1,567.5h0M138.8,567.0h0M139.0,566.0h0M142.0,561.5h0M153.5,548.8h0M138.9,570.5h0M140.5,568.4h0M167.9,550.2h0M122.9,536.8h0M136.7,559.2h0M151.0,569.5h0M149.5,567.4h0M135.4,550.0h0M140.1,572.6h0M157.2,571.0h0M120.1,540.1h0M120.4,543.5h0M139.7,569.0h0M128.7,585.7h0M113.4,608.9h0M125.9,590.1h0M127.0,592.3h0M121.9,608.5h0M116.6,603.1h0M124.6,601.5h0M114.1,612.0h0M126.6,610.5h0M122.4,608.1h0M112.2,610.4h0M117.9,609.6h0" stroke="#8E65F0" stroke-width="2.6" stroke-linecap="round" fill="none"/>
<path d="M144.0,575.5h0M156.9,565.5h0M145.6,575.8h0M154.3,568.2h0M154.2,552.3h0M135.0,568.6h0M148.3,569.8h0M142.2,558.8h0M159.6,561.2h0M144.7,577.8h0M147.0,575.3h0M151.1,569.1h0M137.9,566.9h0M137.7,559.3h0M123.3,610.2h0M128.3,597.9h0M115.0,606.4h0M120.2,607.7h0M122.8,609.0h0M116.0,608.8h0M127.1,609.1h0M113.5,609.4h0M114.8,609.4h0M127.7,593.9h0M127.2,608.3h0M128.3,609.7h0M125.8,583.0h0M125.2,603.3h0M115.3,612.6h0M126.0,600.0h0M118.1,606.4h0M121.2,609.2h0" stroke="#7C51F4" stroke-width="2.6" stroke-linecap="round" fill="none"/>
<path d="M154.3,567.8h0M162.2,561.6h0M157.2,573.2h0M127.7,606.4h0M113.3,607.2h0" stroke="#673DF8" stroke-width="2.6" stroke-linecap="round" fill="none"/>
<path d="M126.6,531.9h0M150.5,546.6h0M140.5,545.0h0M121.0,541.5h0M159.9,562.7h0M155.9,562.3h0M144.2,558.0h0M125.8,532.8h0M150.7,540.4h0M166.3,552.3h0M162.9,560.4h0M154.3,573.0h0M154.1,555.4h0M124.3,538.5h0M139.0,576.6h0M140.9,578.6h0M152.3,547.9h0M126.2,531.2h0M129.7,533.1h0M156.1,549.7h0M126.0,537.2h0M160.1,568.1h0M149.7,533.4h0M133.5,551.7h0M161.5,554.4h0M141.7,573.8h0M154.9,554.8h0M120.7,542.4h0M132.4,553.3h0M135.5,554.3h0M164.1,544.9h0M143.1,575.4h0M138.0,536.1h0M127.2,529.6h0M136.9,541.0h0M167.0,552.8h0M145.3,536.8h0M164.4,547.7h0M143.0,540.5h0M134.4,537.4h0M163.9,550.4h0M135.1,551.2h0M159.5,554.7h0M131.8,538.8h0M163.2,558.9h0M151.6,560.2h0M150.0,536.9h0M141.1,548.8h0M153.7,542.5h0M129.2,536.3h0M136.2,530.7h0M141.2,538.1h0M155.4,557.7h0M155.8,550.0h0M140.1,535.2h0M148.9,565.1h0M131.3,536.2h0M146.7,548.6h0M166.3,549.9h0M148.7,559.0h0M134.8,530.7h0M150.4,545.6h0M127.8,529.4h0M152.4,546.8h0M165.6,552.9h0M125.4,534.4h0M150.2,560.7h0M144.0,550.3h0M147.0,542.3h0M153.5,533.1h0M159.8,551.7h0M138.1,544.0h0M134.0,556.5h0M149.8,541.9h0M154.4,567.5h0M153.6,553.4h0M137.4,548.1h0M151.5,534.1h0M149.1,563.3h0M113.6,568.3h0M112.0,566.4h0M109.2,577.9h0M111.6,573.8h0M111.6,571.4h0M122.5,604.6h0M129.5,604.8h0M126.1,600.1h0M117.3,603.4h0M126.1,584.9h0M119.1,604.2h0M114.7,598.4h0M114.5,596.1h0" stroke="#D3D3D3" stroke-width="2.6" stroke-linecap="round" fill="none"/>
<path d="M165.5,557.1h0M158.5,548.5h0M167.1,548.8h0M111.6,576.6h0M110.2,574.3h0" stroke="#B69CE3" stroke-width="2.6" stroke-linecap="round" fill="none"/>
<path d="M147.2,544.6h0M146.6,545.9h0M149.7,540.8h0M131.2,545.7h0M131.7,532.9h0M139.8,535.9h0M133.8,532.5h0M123.4,549.3h0M134.4,545.9h0M123.9,546.9h0M129.3,529.5h0M134.7,537.8h0M123.8,551.5h0M140.8,549.9h0M155.8,560.2h0M128.1,549.7h0M121.3,538.3h0M131.7,550.3h0M162.2,559.1h0M132.9,549.8h0M139.3,531.9h0M148.9,540.2h0M125.3,536.0h0M129.9,540.7h0M144.4,535.4h0M136.1,547.5h0M153.5,558.3h0M151.6,543.7h0M156.8,560.9h0M124.9,547.5h0M140.4,555.5h0M133.0,551.2h0M151.2,541.9h0M127.7,545.3h0M144.5,550.0h0M151.6,548.5h0M155.7,549.0h0M149.1,533.1h0M151.7,543.0h0M138.4,556.7h0M135.7,554.3h0M135.4,533.5h0M151.2,539.4h0M137.7,543.0h0M110.2,570.1h0M111.6,572.0h0" stroke="#AA89E7" stroke-width="2.6" stroke-linecap="round" fill="none"/>
<path d="M129.9,539.6h0M138.0,558.3h0M144.3,566.1h0M143.1,548.1h0M161.3,550.1h0M150.8,535.8h0M140.5,536.8h0M145.2,575.4h0M131.0,532.6h0M132.3,549.5h0M141.5,551.3h0M143.7,564.8h0M127.2,533.3h0M134.4,534.6h0M140.8,542.5h0M142.8,562.0h0M143.1,533.8h0M142.0,575.8h0M153.0,558.5h0M160.0,550.0h0M158.1,553.1h0M136.0,563.9h0M134.9,547.4h0M135.6,560.7h0M119.7,544.2h0M127.4,549.2h0M153.9,545.9h0M138.5,534.4h0M136.1,540.8h0M125.9,551.3h0M144.3,575.1h0M131.4,537.6h0M130.1,548.6h0M151.9,553.3h0M144.0,574.1h0M151.4,560.6h0M150.9,538.7h0M132.4,551.9h0M155.0,554.6h0M146.8,572.8h0M141.1,577.8h0M130.0,547.0h0M141.8,545.6h0M154.1,560.7h0M134.2,533.3h0M136.4,545.2h0M141.0,567.0h0M133.1,536.1h0M130.0,547.1h0M133.8,538.6h0M143.9,566.5h0M151.8,534.8h0M139.9,578.1h0M138.0,558.4h0M119.6,545.4h0M121.2,538.6h0M111.5,573.7h0M109.8,575.3h0M122.2,600.7h0M128.8,582.9h0M125.3,605.6h0M117.8,605.2h0M124.6,605.5h0M124.0,602.5h0M114.7,607.9h0M126.4,586.3h0" stroke="#9D77EC" stroke-width="2.6" stroke-linecap="round" fill="none"/>
<path d="M137.7,569.0h0M158.8,564.1h0M142.6,575.7h0M139.0,548.7h0M138.5,560.7h0M122.5,537.3h0M141.2,547.2h0M134.9,542.3h0M134.5,551.7h0M147.5,571.3h0M157.2,557.4h0M138.8,561.2h0M131.7,543.5h0M144.8,558.5h0M130.5,552.0h0M150.8,563.0h0M158.3,558.2h0M140.1,542.3h0M167.3,545.4h0M126.8,539.0h0M128.2,538.7h0M164.7,552.4h0M143.9,545.3h0M163.9,552.9h0M134.0,558.8h0M136.6,560.2h0M135.1,572.0h0M128.4,551.1h0M158.8,567.8h0M145.2,574.5h0M135.4,560.3h0M156.1,564.6h0M141.3,534.8h0M136.6,566.8h0M142.7,573.8h0M126.1,545.0h0M125.3,537.5h0M124.4,545.7h0M151.2,564.0h0M148.7,562.9h0M145.0,577.8h0M138.1,554.6h0M145.7,576.5h0M141.1,565.5h0M157.2,553.4h0M155.2,567.1h0M121.3,537.1h0M149.9,568.9h0M137.7,557.6h0M137.2,560.6h0M144.7,568.8h0M150.0,537.5h0M144.7,549.7h0M125.6,590.2h0M118.3,603.4h0M128.6,607.0h0M125.6,585.3h0M126.4,588.0h0M127.3,588.9h0M113.4,606.8h0M126.4,590.5h0M128.3,587.1h0M127.6,581.1h0M125.1,590.7h0M122.4,609.0h0M117.7,602.5h0M127.4,605.9h0M127.0,605.9h0M126.8,589.8h0M123.0,605.6h0M126.8,587.6h0M126.0,582.0h0" stroke="#8E65F0" stroke-width="2.6" stroke-linecap="round" fill="none"/>
<path d="M151.3,568.4h0M143.3,574.4h0M151.2,569.8h0M156.7,549.5h0M155.4,566.3h0M146.0,571.7h0M141.1,575.6h0M137.8,571.6h0M154.3,550.4h0M139.0,568.4h0M143.2,558.8h0M149.0,557.8h0M145.5,560.4h0M145.7,564.3h0M147.6,559.3h0M153.4,563.4h0M156.5,551.6h0M157.5,556.4h0M145.5,573.5h0M127.6,593.4h0M126.1,600.3h0M128.0,600.7h0M123.3,606.5h0M115.7,606.3h0M130.7,606.4h0M125.8,589.0h0M118.8,610.2h0M126.0,584.4h0M120.3,610.0h0M127.0,601.3h0M128.0,610.0h0M126.0,602.0h0M126.6,606.1h0" stroke="#7C51F4" stroke-width="2.6" stroke-linecap="round" fill="none"/>
<path d="M157.1,571.2h0M154.8,567.2h0M157.7,567.3h0M127.7,606.0h0M116.8,609.5h0M119.9,609.8h0M126.6,598.7h0" stroke="#673DF8" stroke-width="2.6" stroke-linecap="round" fill="none"/>
<path d="M134.7,559.6h0M142.6,550.3h0M133.9,553.1h0M163.0,555.2h0M127.5,543.3h0M127.5,540.9h0M157.9,557.2h0M139.4,539.6h0M157.2,560.0h0M128.6,538.3h0M123.5,542.9h0M138.1,553.1h0M161.8,560.8h0M137.3,532.6h0M158.8,545.9h0M142.0,563.9h0M151.2,571.5h0M139.2,537.1h0M162.4,547.4h0M137.0,554.6h0M132.5,552.1h0M126.8,529.0h0M152.3,535.4h0M144.1,536.2h0M143.8,534.6h0M165.2,550.4h0M134.8,532.8h0M164.8,543.9h0M137.1,549.8h0M167.9,551.1h0M154.5,545.5h0M143.4,557.5h0M161.2,545.4h0M134.1,541.7h0M159.8,552.2h0M122.9,546.0h0M151.1,535.3h0M151.6,532.8h0M146.8,557.5h0M158.4,568.8h0M153.7,570.8h0M154.3,560.2h0M136.1,535.0h0M136.6,566.0h0M141.7,537.3h0M158.9,560.0h0M153.0,568.8h0M152.2,546.2h0M155.8,572.0h0M143.0,540.8h0M139.0,557.8h0M132.3,546.0h0M133.6,549.0h0M147.2,545.8h0M142.0,549.1h0M168.8,546.1h0M150.2,559.7h0M128.8,534.2h0M155.8,548.1h0M139.6,559.5h0M132.5,535.4h0M129.1,538.2h0M146.8,577.6h0M148.1,539.8h0M158.7,559.2h0M142.0,546.0h0M164.1,554.3h0M160.2,561.0h0M121.1,546.1h0M134.8,529.9h0M130.4,541.5h0M161.6,546.2h0M157.8,551.4h0M157.5,549.3h0M156.0,547.2h0M111.3,565.4h0M110.7,571.3h0M109.3,576.5h0M108.7,572.6h0M111.8,576.6h0M112.1,573.3h0M114.7,609.1h0M127.4,593.1h0M120.2,602.5h0M126.1,606.1h0M114.6,595.9h0M114.1,595.1h0" stroke="#D3D3D3" stroke-width="2.6" stroke-linecap="round" fill="none"/>
<circle cx="140.2" cy="568.0" r="9.85" fill="none" stroke="#E8101A" stroke-width="1.5" stroke-dasharray="1.3 1.3"/>
</g>
<path d="M59.4,691.0V789.2H176.5" fill="none" stroke="#333" stroke-width="1.1"/>
<path d="M92.5,789.2v3.7M138.5,789.2v3.7M59.4,705.6h-3.7M59.4,730.4h-3.7M59.4,755.1h-3.7M59.4,779.9h-3.7" fill="none" stroke="#333" stroke-width="1.1"/>
<text x="0.0" y="0.0" font-size="13" text-anchor="end" fill="#2a2a2a" transform="translate(52.8 710.9) scale(0.95 1)">5</text>
<text x="0.0" y="0.0" font-size="13" text-anchor="end" fill="#2a2a2a" transform="translate(52.8 735.7) scale(0.95 1)">0</text>
<text x="0.0" y="0.0" font-size="13" text-anchor="end" fill="#2a2a2a" transform="translate(52.8 760.4) scale(0.95 1)">-5</text>
<text x="0.0" y="0.0" font-size="13" text-anchor="end" fill="#2a2a2a" transform="translate(52.8 785.2) scale(0.95 1)">-10</text>
<text x="0.0" y="0.0" font-size="13" text-anchor="middle" fill="#2a2a2a" transform="translate(92.5 806.4) scale(0.95 1)">-10</text>
<text x="0.0" y="0.0" font-size="13" text-anchor="middle" fill="#2a2a2a" transform="translate(138.5 806.4) scale(0.95 1)">0</text>
<text x="116.4" y="822.3" font-size="14.5" text-anchor="middle">umap_1</text>
<text x="30.3" y="740.5" font-size="14.5" text-anchor="middle" transform="rotate(-90 30.3 740.5)">umap_2</text>
<rect x="191.4" y="701.8" width="15.2" height="77.5" fill="url(#cb)"/>
<text x="213.6" y="784.3" font-size="12" fill="#1a1a1a">0</text>
<text x="213.6" y="762.8" font-size="12" fill="#1a1a1a">1</text>
<text x="213.6" y="741.3" font-size="12" fill="#1a1a1a">2</text>
<text x="213.6" y="719.7" font-size="12" fill="#1a1a1a">3</text>
<path d="M191.4,757.8h2.8M203.8,757.8h2.8M191.4,736.2h2.8M203.8,736.2h2.8M191.4,714.7h2.8M203.8,714.7h2.8" stroke="#fff" stroke-width="0.9"/>
<text x="0.0" y="0.0" font-size="15.8" text-anchor="middle" font-weight="bold" transform="translate(344.5 681.8) scale(1.025 1)">COL1A1</text>
<g transform="translate(227,170)">
<g fill="#D3D3D3" stroke="#D3D3D3" stroke-width="1" stroke-linejoin="round"><polygon points="126.6,528.5 129.2,529.2 132.5,529.5 136.5,529.9 140.4,531.2 142.4,532.5 145.7,533.1 148.3,532.1 151.6,532.1 154.2,533.1 155.1,535.8 153.8,538.4 153.2,541.0 154.9,543.0 155.5,545.6 158.8,545.0 162.8,543.6 165.4,543.4 168.0,545.0 170.0,547.6 170.6,550.2 169.3,552.8 168.0,555.5 166.7,557.4 164.1,559.4 162.8,562.0 161.4,565.3 160.4,568.6 159.1,572.6 156.2,574.1 153.6,573.2 151.6,571.9 149.6,570.6 148.3,571.9 147.6,574.5 147.0,577.8 145.7,580.0 143.0,580.0 139.8,578.7 136.5,576.8 134.9,572.6 134.5,568.6 134.9,564.7 134.5,560.7 133.6,558.1 132.5,554.8 131.2,552.8 127.3,552.6 124.6,552.2 122.0,551.5 120.7,549.6 119.8,546.3 119.1,543.0 119.4,539.7 120.7,537.1 124.0,535.5 125.7,533.1 125.7,530.5"/><polygon points="107.6,568.6 109.5,565.3 112.2,565.3 114.8,568.0 115.5,569.9 113.5,571.2 112.2,571.9 112.2,575.2 112.8,577.8 110.9,579.1 108.9,578.5 108.6,575.2 108.2,572.6 107.3,570.6"/><polygon points="124.4,581.1 126.6,580.2 128.9,581.8 129.6,584.4 128.9,588.3 128.2,592.3 128.2,596.2 128.6,600.1 129.6,604.1 131.5,607.4 130.6,610.7 127.9,611.3 125.3,610.7 122.7,611.3 119.4,612.0 115.5,612.6 111.5,612.6 110.5,610.7 111.5,608.0 114.1,605.4 116.8,602.8 119.4,601.5 122.0,600.1 123.6,597.5 124.4,593.6 124.6,589.6 124.4,585.7 124.0,583.1"/><polygon points="112.2,595.5 114.1,594.9 115.7,597.1 114.8,599.1 112.8,598.8"/></g>
<g fill="#fff"><polygon points="143.0,552.8 146.3,549.6 150.3,547.6 152.9,549.6 152.2,552.8 148.3,556.8 144.4,556.8"/><polygon points="148.3,566.0 151.6,564.0 154.9,563.4 156.2,565.3 153.6,567.3 150.3,568.0"/><polygon points="127.3,543.4 130.6,543.0 131.5,545.0 128.6,545.6"/></g>
<circle cx="66" cy="590.7" r="1.9" fill="#AA89E7"/>
<path d="M123.6,546.9h0M128.6,550.8h0M128.3,549.5h0M122.4,545.2h0M123.6,538.3h0M123.0,543.8h0M126.1,538.9h0M123.9,542.6h0M128.2,543.3h0" stroke="#B69CE3" stroke-width="2.6" stroke-linecap="round" fill="none"/>
<path d="M126.2,546.6h0M122.3,542.0h0M123.8,544.1h0M119.3,541.9h0M124.5,540.8h0M122.9,542.9h0M122.3,549.3h0M122.7,544.0h0M126.8,539.8h0M120.6,538.6h0M128.3,546.9h0M120.0,541.3h0M126.6,535.8h0M127.6,543.2h0M113.4,567.3h0M108.8,577.0h0" stroke="#AA89E7" stroke-width="2.6" stroke-linecap="round" fill="none"/>
<path d="M143.3,541.2h0M136.9,546.8h0M138.5,550.8h0M142.0,543.6h0M150.7,546.5h0M133.8,531.8h0M133.4,538.9h0M147.1,547.9h0M143.8,546.8h0M143.3,543.3h0M138.2,555.8h0M132.1,546.9h0M137.8,536.0h0M135.2,541.3h0M149.2,540.3h0M134.7,557.4h0M144.5,537.3h0M152.9,542.0h0M147.0,541.9h0M138.9,557.4h0M132.5,553.8h0M150.3,544.0h0M129.5,535.7h0M141.2,554.6h0M134.4,532.5h0M127.3,530.5h0M148.6,539.6h0M152.2,536.6h0M140.5,534.5h0M151.3,547.9h0M127.3,532.8h0M129.0,532.5h0M130.0,550.1h0M141.1,543.3h0M142.4,540.6h0M144.4,539.0h0M127.7,530.2h0M141.2,536.5h0M142.8,552.3h0M129.4,539.1h0M134.9,556.5h0M144.7,549.7h0M131.0,545.9h0M110.2,574.6h0M109.1,578.2h0M111.8,572.5h0M112.0,569.5h0M109.7,567.7h0M111.9,569.7h0M110.0,578.1h0M125.9,590.8h0M118.1,607.3h0M120.7,606.4h0M126.5,596.9h0M115.3,605.2h0M128.5,609.1h0M126.2,610.3h0M127.0,589.1h0M114.8,605.7h0M121.6,601.2h0M126.9,602.3h0M116.5,603.1h0M126.1,589.6h0M129.3,607.7h0M124.7,590.4h0M124.8,581.6h0M125.7,582.9h0M126.6,602.6h0M121.7,601.1h0M118.9,607.6h0M125.4,610.2h0M114.3,597.9h0" stroke="#9D77EC" stroke-width="2.6" stroke-linecap="round" fill="none"/>
<path d="M146.9,563.5h0M136.5,544.5h0M135.4,537.7h0M143.8,543.5h0M134.4,555.8h0M147.7,560.5h0M143.1,533.7h0M138.1,576.8h0M145.9,546.6h0M134.9,531.2h0M135.0,551.7h0M141.2,558.3h0M146.4,537.4h0M145.5,558.8h0M139.2,537.7h0M150.0,535.6h0M141.0,560.6h0M132.3,552.8h0M139.9,551.8h0M142.5,573.4h0M138.2,568.9h0M145.1,574.9h0M131.9,547.5h0M137.2,564.3h0M136.3,568.2h0M146.1,542.4h0M141.1,555.4h0M144.5,539.3h0M132.3,529.9h0M146.2,567.1h0M132.4,554.0h0M144.7,576.9h0M132.0,548.0h0M136.9,574.3h0M138.1,563.1h0M140.6,540.9h0M143.8,560.2h0M140.4,536.1h0M128.1,534.1h0M136.2,557.1h0M140.3,550.1h0M131.4,534.3h0M147.2,559.7h0M135.3,539.1h0M135.5,572.6h0M133.7,530.0h0M145.5,534.3h0M149.4,537.0h0M154.0,563.3h0M140.6,539.2h0M155.6,566.0h0M142.7,561.4h0M142.6,562.3h0M130.7,547.0h0M141.8,537.4h0M144.2,546.4h0M122.4,602.1h0M117.0,608.2h0M115.3,610.8h0M119.9,605.2h0M121.2,606.1h0M119.2,603.8h0M120.2,604.4h0M127.8,593.4h0M117.1,607.3h0M122.4,609.2h0M127.4,601.0h0M117.5,605.1h0" stroke="#8E65F0" stroke-width="2.6" stroke-linecap="round" fill="none"/>
<path d="M159.0,564.3h0M137.2,572.0h0M141.8,562.0h0M164.9,556.6h0M139.8,578.7h0M158.3,558.1h0M146.6,578.5h0M149.8,561.8h0M139.4,568.6h0M143.9,564.9h0M161.6,554.0h0M166.5,545.3h0M152.9,567.5h0M160.5,551.8h0M135.6,572.7h0M167.1,549.2h0M156.7,566.2h0M144.2,573.4h0M156.3,568.0h0M151.2,558.9h0M159.8,558.8h0M137.2,567.2h0M153.4,561.6h0M156.7,548.5h0M161.7,557.3h0M162.1,562.0h0M156.0,551.2h0M165.2,553.9h0M155.3,567.3h0M142.5,561.8h0M162.5,553.8h0M159.4,557.5h0M157.5,557.3h0M169.0,549.5h0M164.2,554.5h0M159.6,557.0h0M154.8,569.2h0M153.1,553.0h0M154.4,560.6h0M142.1,577.6h0M141.9,573.8h0M136.6,564.5h0M142.7,577.8h0M137.3,564.2h0M144.7,567.9h0M140.3,565.5h0M143.8,569.7h0M167.1,554.6h0M136.5,563.1h0M162.2,558.6h0M143.1,578.0h0M162.4,552.6h0M136.9,559.1h0M151.8,559.5h0M155.0,572.9h0M165.0,550.1h0M157.3,571.7h0M156.6,554.1h0" stroke="#7C51F4" stroke-width="2.6" stroke-linecap="round" fill="none"/>
<path d="M152.6,558.4h0M150.6,558.9h0M154.9,550.8h0M164.3,553.3h0M149.7,558.1h0M162.0,553.8h0M156.6,550.0h0M162.8,555.3h0M158.2,555.1h0M153.2,550.2h0M165.3,554.6h0M157.4,554.5h0M153.1,562.4h0M150.2,559.0h0M154.3,548.5h0M151.6,557.0h0M156.5,550.7h0M157.8,555.9h0M157.6,571.5h0M151.2,557.8h0M160.0,551.4h0M169.6,549.3h0M166.8,552.2h0M167.3,555.0h0M155.9,564.0h0M164.9,549.5h0M162.6,554.0h0" stroke="#673DF8" stroke-width="2.6" stroke-linecap="round" fill="none"/>
<path d="M158.6,547.1h0M162.6,558.5h0M164.2,556.0h0M164.3,544.8h0M169.9,551.2h0M162.2,546.3h0" stroke="#4926FB" stroke-width="2.6" stroke-linecap="round" fill="none"/>
<path d="M151.6,569.1h0M161.0,561.6h0M124.7,548.1h0M154.8,563.1h0M157.1,570.6h0M139.1,560.9h0M146.8,532.9h0M159.9,568.3h0M163.0,560.3h0M162.7,557.9h0M142.1,557.4h0M143.7,556.2h0M143.7,545.5h0M129.9,540.6h0M124.0,538.6h0M158.5,565.1h0M126.5,534.4h0M156.5,565.6h0M136.2,535.0h0M145.4,547.5h0M155.5,546.5h0M149.7,564.8h0M146.5,538.7h0M141.7,546.1h0M127.0,534.4h0M142.4,555.9h0M154.3,571.7h0M155.8,546.1h0M136.7,540.9h0M126.3,536.0h0M146.7,540.5h0M131.5,551.1h0M129.2,547.7h0M167.4,549.1h0M125.5,544.5h0M163.8,544.6h0M151.8,537.5h0M140.2,535.7h0M153.0,541.2h0M145.4,543.7h0M153.0,569.1h0M111.4,568.9h0M108.3,571.7h0M112.7,568.9h0M128.5,602.9h0M123.0,600.8h0M127.0,592.5h0M113.8,612.1h0M115.2,611.2h0M115.9,605.3h0M111.9,610.0h0M113.5,606.5h0M118.5,610.4h0M127.8,599.4h0M120.6,609.2h0M122.9,606.9h0M113.0,608.4h0M124.0,605.6h0M125.8,587.2h0M117.3,609.8h0" stroke="#D3D3D3" stroke-width="2.6" stroke-linecap="round" fill="none"/>
<path d="M125.1,544.6h0M121.7,550.2h0M120.0,541.5h0M124.5,550.0h0M122.1,540.3h0M127.8,542.4h0M119.4,544.1h0M128.5,551.5h0M121.9,546.3h0M126.3,546.6h0M124.5,548.6h0M125.1,544.0h0M122.1,546.5h0" stroke="#B69CE3" stroke-width="2.6" stroke-linecap="round" fill="none"/>
<path d="M123.2,536.2h0M127.1,536.7h0M121.1,537.3h0M128.6,548.6h0M122.5,546.0h0M126.8,550.4h0M124.1,546.3h0M128.2,551.5h0M123.2,538.2h0M124.6,551.2h0M121.1,537.3h0M125.2,541.3h0M126.1,545.8h0M126.4,545.7h0M125.3,543.8h0M122.9,538.3h0M121.7,550.3h0M113.3,568.0h0M111.3,577.1h0M112.4,566.4h0M107.8,570.1h0M111.8,576.6h0M126.1,586.5h0M125.1,586.8h0" stroke="#AA89E7" stroke-width="2.6" stroke-linecap="round" fill="none"/>
<path d="M139.9,536.1h0M133.5,549.7h0M138.2,535.9h0M139.0,535.6h0M139.9,555.9h0M131.8,531.7h0M153.5,534.9h0M134.7,537.1h0M131.8,542.1h0M149.5,534.6h0M142.7,551.1h0M146.8,537.3h0M130.9,543.0h0M132.5,547.3h0M137.0,546.3h0M137.6,551.0h0M153.9,544.9h0M140.9,548.1h0M144.4,548.9h0M131.7,544.3h0M136.8,536.4h0M132.9,549.5h0M147.3,546.3h0M152.0,538.6h0M139.7,538.3h0M134.0,556.3h0M147.0,540.3h0M146.8,541.8h0M129.2,534.0h0M148.7,545.5h0M144.8,538.9h0M143.9,534.2h0M142.3,540.4h0M135.1,544.6h0M139.3,557.2h0M131.4,535.3h0M149.3,542.1h0M136.2,538.7h0M134.5,541.9h0M139.2,547.8h0M134.1,533.9h0M113.6,570.0h0M111.9,567.9h0M109.7,565.9h0M113.9,569.7h0M127.5,611.2h0M117.1,606.1h0M126.6,605.1h0M124.9,609.3h0M119.3,606.8h0M113.5,611.4h0M129.7,609.9h0M118.6,610.8h0M125.4,588.6h0M117.1,603.9h0M127.1,590.0h0M128.2,603.5h0M117.5,602.8h0M119.2,607.3h0M123.7,598.4h0M113.1,598.3h0" stroke="#9D77EC" stroke-width="2.6" stroke-linecap="round" fill="none"/>
<path d="M143.4,540.2h0M143.0,547.1h0M148.8,566.8h0M145.8,535.4h0M139.0,534.1h0M141.0,555.8h0M138.8,543.5h0M140.7,554.5h0M152.6,537.5h0M134.3,534.1h0M141.5,544.3h0M154.0,534.9h0M129.2,533.8h0M145.1,562.6h0M142.5,544.5h0M137.6,543.9h0M159.8,565.2h0M139.2,535.0h0M143.4,542.5h0M143.5,563.8h0M141.7,532.4h0M132.4,533.7h0M134.5,552.8h0M151.3,548.1h0M138.5,568.8h0M145.5,547.1h0M157.6,570.5h0M144.8,577.8h0M132.9,539.1h0M140.8,534.8h0M145.3,570.3h0M142.7,564.5h0M129.1,548.1h0M144.6,540.9h0M143.7,538.9h0M134.4,533.2h0M141.0,560.3h0M145.6,562.5h0M147.0,542.1h0M143.3,564.6h0M135.3,537.3h0M139.2,546.5h0M141.6,541.2h0M131.5,535.0h0M138.7,537.1h0M138.4,541.2h0M143.1,551.1h0M135.3,530.0h0M129.0,543.0h0M150.3,569.6h0M139.4,543.2h0M137.4,567.9h0M140.0,541.3h0M133.0,549.0h0M135.8,541.4h0M127.5,594.2h0M119.3,610.7h0M122.4,610.5h0M122.4,608.1h0M117.1,611.4h0M127.6,596.7h0M122.4,603.1h0M126.4,594.9h0M121.9,606.7h0M123.9,606.7h0M116.3,610.3h0M122.0,601.4h0M121.6,603.4h0M116.6,612.3h0M118.4,603.5h0M114.4,610.3h0M127.4,601.0h0M120.4,603.0h0M122.4,610.1h0" stroke="#8E65F0" stroke-width="2.6" stroke-linecap="round" fill="none"/>
<path d="M147.1,558.1h0M146.2,568.5h0M143.0,570.6h0M167.4,553.1h0M159.4,571.1h0M141.2,558.2h0M135.8,569.6h0M165.4,553.8h0M141.9,570.6h0M146.8,569.7h0M149.0,567.7h0M135.5,572.3h0M160.5,565.3h0M138.4,563.8h0M144.6,557.7h0M138.9,561.3h0M158.2,559.7h0M136.5,559.0h0M140.8,571.7h0M142.6,568.1h0M142.4,562.4h0M139.2,572.7h0M141.7,560.1h0M136.6,560.0h0M166.1,557.2h0M150.3,562.3h0M143.2,576.9h0M146.5,562.9h0M157.1,570.3h0M146.1,563.2h0M157.2,567.3h0M147.3,558.9h0M156.8,551.0h0M147.5,559.4h0M146.4,557.1h0M156.9,564.3h0M161.9,552.9h0M140.4,570.8h0M135.2,566.5h0M145.7,569.9h0M157.1,547.8h0M151.4,559.4h0M159.4,546.4h0M157.6,557.1h0M143.2,565.3h0M154.1,562.6h0M142.4,573.8h0M158.5,559.0h0M145.3,559.8h0M137.2,572.5h0M157.4,566.8h0M137.5,574.2h0M158.9,565.2h0M151.9,553.8h0M137.9,564.7h0" stroke="#7C51F4" stroke-width="2.6" stroke-linecap="round" fill="none"/>
<path d="M169.2,548.1h0M157.3,548.9h0M155.7,551.5h0M165.6,552.5h0M168.4,553.6h0M163.0,553.4h0M149.1,559.4h0M154.1,550.5h0M168.2,552.1h0M154.6,549.9h0M159.5,548.3h0M162.3,553.6h0M167.2,551.2h0M155.1,561.4h0M167.6,551.1h0M160.3,559.1h0M165.4,550.1h0M146.6,558.7h0" stroke="#673DF8" stroke-width="2.6" stroke-linecap="round" fill="none"/>
<path d="M161.3,553.3h0M160.9,555.8h0M158.1,547.5h0M161.6,548.5h0M161.4,551.5h0M169.4,547.1h0M165.4,555.7h0M167.4,548.4h0" stroke="#4926FB" stroke-width="2.6" stroke-linecap="round" fill="none"/>
<path d="M165.2,543.9h0M124.6,550.9h0M153.3,567.7h0M143.8,556.8h0M154.6,563.2h0M137.9,544.6h0M158.5,557.2h0M149.8,533.9h0M148.1,546.9h0M141.5,559.1h0M128.6,550.6h0M141.7,542.6h0M125.3,539.0h0M142.0,538.4h0M127.7,541.4h0M142.8,550.2h0M147.7,537.6h0M142.4,540.9h0M126.8,534.0h0M136.0,556.5h0M153.6,542.7h0M130.4,545.3h0M122.7,546.1h0M152.5,570.0h0M140.7,574.8h0M148.0,538.2h0M149.1,559.6h0M135.4,555.5h0M144.4,557.5h0M144.6,536.5h0M147.0,538.6h0M146.0,542.5h0M150.5,533.5h0M142.9,551.7h0M145.5,539.9h0M151.7,532.4h0M147.0,569.3h0M159.3,561.3h0M145.4,544.3h0M126.4,529.6h0M152.0,571.5h0M158.2,566.8h0M133.7,548.8h0M135.4,569.7h0M148.2,544.4h0M134.7,540.6h0M138.6,543.8h0M107.6,569.0h0M114.0,570.4h0M124.7,607.0h0M118.2,610.6h0M127.8,603.5h0M123.4,607.2h0M125.5,594.9h0M128.1,608.2h0M112.0,610.0h0M125.3,607.4h0M124.1,600.7h0M127.8,586.4h0M117.9,611.6h0M128.5,600.5h0M128.2,598.6h0M112.9,598.4h0" stroke="#D3D3D3" stroke-width="2.6" stroke-linecap="round" fill="none"/>
<path d="M122.9,542.5h0M119.5,544.3h0M129.1,550.0h0M121.0,543.1h0M125.6,536.9h0M123.4,543.3h0M121.2,541.4h0M128.1,542.0h0" stroke="#B69CE3" stroke-width="2.6" stroke-linecap="round" fill="none"/>
<path d="M119.8,539.7h0M123.8,546.1h0M123.5,544.7h0M125.8,546.9h0M125.2,544.9h0M122.5,539.2h0M127.1,539.7h0M126.0,539.0h0M127.5,545.6h0M122.5,537.6h0M129.3,551.3h0M125.6,540.2h0M124.0,547.7h0M129.1,552.6h0M128.1,546.6h0M122.4,550.1h0M127.8,551.2h0M128.8,540.4h0M108.4,568.0h0M111.7,577.4h0M108.4,573.1h0M111.7,569.6h0M108.9,573.1h0M109.4,571.9h0M125.6,586.1h0" stroke="#AA89E7" stroke-width="2.6" stroke-linecap="round" fill="none"/>
<path d="M127.5,531.0h0M150.7,533.4h0M132.9,536.5h0M131.2,547.7h0M130.6,534.5h0M129.6,530.6h0M132.5,547.0h0M136.0,541.4h0M141.1,551.2h0M136.8,539.3h0M141.1,535.3h0M138.9,558.1h0M149.6,545.1h0M130.9,539.1h0M144.8,543.7h0M129.6,539.9h0M136.4,537.1h0M146.0,541.7h0M132.0,535.1h0M133.5,546.3h0M143.1,545.3h0M132.8,541.5h0M135.1,539.7h0M146.8,542.3h0M143.7,537.0h0M152.0,539.6h0M143.5,549.8h0M134.0,548.9h0M143.4,555.2h0M133.9,537.6h0M141.4,539.9h0M145.6,545.3h0M130.2,539.4h0M131.8,551.0h0M139.2,531.4h0M144.0,543.3h0M108.9,571.1h0M109.3,566.1h0M109.6,574.0h0M114.6,567.9h0M125.4,590.5h0M130.3,606.4h0M126.7,590.9h0M127.5,602.9h0M126.7,601.3h0M120.5,600.9h0M122.2,611.4h0M127.5,589.6h0M127.6,605.0h0M120.4,609.0h0M123.0,607.5h0M129.8,607.2h0M126.5,608.5h0M113.9,610.9h0M125.7,601.6h0M127.0,585.8h0M125.0,603.8h0M124.8,581.3h0M114.4,595.4h0" stroke="#9D77EC" stroke-width="2.6" stroke-linecap="round" fill="none"/>
<path d="M135.4,553.3h0M134.3,551.9h0M144.8,546.0h0M152.5,569.6h0M135.5,537.9h0M149.8,541.9h0M144.8,545.6h0M141.4,544.7h0M138.4,548.4h0M143.2,543.1h0M131.7,531.1h0M138.4,533.6h0M137.2,541.3h0M135.5,529.9h0M144.7,578.1h0M142.7,548.3h0M138.3,568.5h0M150.6,569.4h0M140.2,545.5h0M130.8,529.9h0M153.9,546.0h0M133.8,542.2h0M135.2,542.9h0M144.7,550.3h0M148.8,534.4h0M149.0,544.1h0M144.8,567.4h0M137.9,576.7h0M133.0,550.0h0M135.0,562.8h0M139.3,575.5h0M147.3,543.2h0M143.4,543.5h0M141.2,554.7h0M145.2,538.5h0M145.7,569.6h0M157.4,571.9h0M134.9,542.1h0M143.1,537.2h0M138.0,531.5h0M144.4,550.7h0M154.2,570.3h0M128.9,548.1h0M150.4,539.3h0M128.5,537.3h0M137.3,540.3h0M130.0,540.6h0M148.3,547.4h0M141.8,552.6h0M134.9,538.4h0M137.8,546.0h0M138.2,562.8h0M145.2,574.3h0M155.3,571.2h0M135.2,536.4h0M151.7,546.1h0M133.8,544.3h0M141.0,575.0h0M148.2,563.0h0M130.9,542.7h0M153.0,546.0h0M153.9,545.9h0M137.8,534.2h0M129.2,610.4h0M121.7,608.9h0M112.5,610.2h0M116.9,607.3h0M112.3,611.4h0M111.9,608.3h0M121.3,600.9h0M114.5,605.1h0M126.4,609.8h0M125.3,590.6h0M126.5,590.0h0M117.3,609.7h0M114.1,598.5h0" stroke="#8E65F0" stroke-width="2.6" stroke-linecap="round" fill="none"/>
<path d="M137.8,564.8h0M149.8,557.6h0M157.5,559.0h0M155.6,561.1h0M161.9,561.9h0M143.4,577.2h0M137.8,559.1h0M144.8,564.4h0M140.4,573.6h0M142.2,566.5h0M154.5,551.6h0M152.7,548.4h0M160.5,553.1h0M162.1,545.3h0M136.2,563.8h0M153.0,557.5h0M144.5,568.9h0M134.7,559.8h0M149.0,561.7h0M137.6,563.9h0M146.8,572.7h0M140.1,560.8h0M158.3,546.0h0M166.8,555.7h0M155.7,546.8h0M148.1,564.0h0M142.8,568.0h0M136.3,565.9h0M150.9,568.3h0M139.6,567.1h0M143.3,566.9h0M158.3,561.6h0M162.0,558.4h0M142.4,572.1h0M146.6,570.4h0M164.3,545.6h0M148.5,559.1h0M144.0,578.5h0M136.2,562.7h0M167.4,550.6h0M143.6,573.2h0M136.8,560.9h0M158.6,562.0h0M138.4,574.2h0M158.1,557.1h0M156.9,553.0h0M154.4,548.0h0M157.6,551.5h0M156.5,558.1h0M166.4,553.0h0M137.2,567.1h0M145.6,559.9h0M149.7,556.6h0M142.4,573.5h0M155.1,559.8h0M140.7,576.7h0" stroke="#7C51F4" stroke-width="2.6" stroke-linecap="round" fill="none"/>
<path d="M159.3,558.5h0M161.3,544.7h0M161.1,550.1h0M154.6,557.0h0M165.7,544.1h0M162.4,553.1h0M156.3,560.0h0M152.0,553.7h0M157.0,547.7h0M154.8,572.8h0M165.2,551.3h0M158.6,556.5h0M167.9,553.0h0M153.8,555.4h0M165.0,558.3h0M156.3,550.6h0M159.8,558.2h0M164.8,554.8h0M162.2,558.7h0M157.0,550.5h0M164.7,554.3h0M156.6,549.2h0M165.2,548.9h0M158.3,552.6h0M152.6,553.1h0M168.8,547.4h0M150.3,556.3h0" stroke="#673DF8" stroke-width="2.6" stroke-linecap="round" fill="none"/>
<path d="M160.2,545.2h0M164.3,551.1h0M157.2,547.7h0M163.7,546.3h0M158.1,550.3h0M162.8,556.3h0M165.6,552.1h0" stroke="#4926FB" stroke-width="2.6" stroke-linecap="round" fill="none"/>
<path d="M137.7,537.1h0M156.6,564.7h0M157.9,563.0h0M127.8,552.1h0M129.8,551.9h0M141.2,539.3h0M126.3,531.3h0M124.3,547.6h0M142.0,536.3h0M157.6,566.0h0M142.5,543.3h0M133.2,555.6h0M143.1,556.6h0M141.9,557.7h0M126.8,544.7h0M127.9,540.1h0M154.3,550.6h0M143.2,556.8h0M139.1,571.0h0M144.8,535.3h0M124.2,539.0h0M134.7,548.4h0M145.0,549.4h0M134.1,557.5h0M132.0,531.0h0M155.0,567.2h0M152.3,570.8h0M142.0,557.9h0M150.8,544.8h0M121.9,550.2h0M159.8,569.7h0M155.7,572.4h0M148.8,544.4h0M157.9,564.2h0M144.9,549.0h0M153.2,563.5h0M152.8,548.0h0M128.0,534.6h0M109.5,578.0h0M113.1,570.7h0M122.7,605.5h0M122.1,611.0h0M122.0,602.5h0M127.6,609.2h0M124.9,605.2h0M128.1,593.7h0M114.9,606.8h0M114.4,611.7h0M126.8,587.2h0M129.0,608.4h0M122.3,605.0h0M122.5,608.3h0M125.8,597.9h0M123.2,601.3h0M118.7,611.4h0M130.7,606.7h0M120.5,606.2h0M126.6,610.5h0" stroke="#D3D3D3" stroke-width="2.6" stroke-linecap="round" fill="none"/>
<path d="M123.7,542.6h0M124.3,538.5h0M123.3,545.9h0M123.9,546.2h0M127.2,536.5h0M120.5,545.6h0" stroke="#B69CE3" stroke-width="2.6" stroke-linecap="round" fill="none"/>
<path d="M121.0,541.5h0M122.9,548.2h0M121.1,548.4h0M126.6,542.3h0M123.7,539.9h0M121.5,540.1h0M121.7,550.5h0M122.8,551.0h0M119.5,543.9h0M123.9,548.3h0M122.9,536.8h0M120.1,540.1h0M120.4,543.5h0M113.7,567.4h0M110.5,578.1h0M128.7,586.2h0M114.5,596.1h0" stroke="#AA89E7" stroke-width="2.6" stroke-linecap="round" fill="none"/>
<path d="M133.6,553.6h0M129.1,530.4h0M140.5,545.0h0M132.2,542.8h0M139.6,531.6h0M138.8,535.2h0M135.2,548.3h0M138.4,552.2h0M146.4,548.6h0M136.8,535.9h0M129.7,533.1h0M133.7,545.7h0M152.3,540.3h0M126.9,528.9h0M153.1,541.1h0M139.4,544.9h0M132.4,553.3h0M129.1,539.8h0M143.4,547.7h0M143.0,539.4h0M129.1,537.1h0M131.8,538.8h0M151.1,538.7h0M149.0,542.7h0M152.1,539.8h0M141.2,538.1h0M140.1,535.2h0M130.8,539.3h0M152.2,544.8h0M132.5,553.4h0M139.7,548.2h0M137.8,540.9h0M127.8,529.4h0M152.4,546.8h0M138.0,555.5h0M145.8,547.6h0M134.0,537.2h0M142.7,540.0h0M144.0,550.3h0M151.7,546.3h0M153.5,534.0h0M130.3,546.2h0M148.5,534.0h0M141.3,534.6h0M135.0,532.3h0M138.1,544.0h0M131.3,535.7h0M135.6,542.2h0M127.8,532.9h0M149.8,541.9h0M132.2,542.2h0M143.7,546.9h0M137.4,548.1h0M140.5,537.6h0M152.0,544.1h0M112.3,571.5h0M110.8,570.0h0M113.0,570.2h0M113.7,569.0h0M111.6,571.4h0M108.3,572.5h0M114.4,612.5h0M117.2,602.9h0M128.7,585.7h0M125.9,590.1h0M127.0,592.3h0M115.1,610.5h0M121.9,608.5h0M116.6,603.1h0M114.1,612.0h0M126.6,610.5h0M127.6,595.2h0M114.0,607.0h0M118.6,610.5h0" stroke="#9D77EC" stroke-width="2.6" stroke-linecap="round" fill="none"/>
<path d="M150.9,535.1h0M136.6,576.1h0M140.0,540.8h0M147.2,546.0h0M151.3,546.8h0M129.5,529.8h0M140.8,544.7h0M154.5,571.7h0M141.9,552.8h0M152.3,547.9h0M150.7,539.9h0M148.2,543.5h0M149.9,567.6h0M133.5,551.7h0M142.7,542.9h0M133.7,530.4h0M137.0,553.0h0M143.4,559.5h0M138.1,560.3h0M137.4,541.4h0M145.7,547.7h0M127.2,529.6h0M132.8,545.6h0M137.1,535.2h0M136.9,541.0h0M136.8,534.0h0M143.3,578.1h0M146.6,578.3h0M134.4,537.4h0M130.0,549.0h0M150.0,536.9h0M129.2,536.3h0M132.7,530.0h0M139.7,571.9h0M145.5,537.6h0M148.9,565.1h0M131.3,536.2h0M146.7,548.6h0M145.5,541.5h0M153.2,535.0h0M154.3,533.7h0M142.2,579.0h0M136.0,536.8h0M137.7,560.0h0M135.4,550.0h0M141.7,578.1h0M143.4,550.5h0M137.3,545.4h0M140.8,563.7h0M135.3,543.9h0M148.2,544.1h0M151.5,534.1h0M115.0,606.4h0M120.2,607.7h0M122.8,609.0h0M116.0,608.8h0M127.1,609.1h0M113.5,609.4h0M114.8,609.4h0M127.7,606.4h0M127.2,608.3h0M128.3,609.7h0M113.3,607.2h0M125.2,603.3h0M115.3,612.6h0M121.2,609.2h0M117.9,609.6h0" stroke="#8E65F0" stroke-width="2.6" stroke-linecap="round" fill="none"/>
<path d="M157.7,572.1h0M169.4,551.9h0M137.0,561.7h0M153.4,550.2h0M152.3,559.6h0M144.0,575.5h0M155.9,562.3h0M156.9,565.5h0M144.0,574.0h0M154.1,555.4h0M148.1,559.6h0M158.3,565.7h0M159.8,558.2h0M140.9,578.6h0M145.6,575.8h0M156.8,554.6h0M154.3,568.2h0M141.7,573.8h0M156.2,553.8h0M153.4,558.6h0M135.0,568.6h0M154.2,552.9h0M152.7,560.9h0M152.0,557.6h0M154.1,555.5h0M167.0,552.8h0M138.2,558.6h0M144.3,577.1h0M141.6,569.7h0M155.5,549.0h0M163.9,550.4h0M145.9,558.7h0M154.5,561.8h0M146.5,564.6h0M148.3,569.8h0M142.2,558.8h0M137.1,567.5h0M138.8,567.0h0M150.8,561.6h0M139.0,566.0h0M142.0,561.5h0M148.7,559.0h0M155.8,553.0h0M138.9,570.5h0M159.6,561.2h0M140.5,568.4h0M157.2,573.2h0M136.7,559.2h0M144.7,577.8h0M147.0,575.3h0M151.0,569.5h0M151.1,569.1h0M149.5,567.4h0M140.1,572.6h0M159.8,551.7h0M157.2,571.0h0M137.9,566.9h0M137.7,559.3h0M159.5,556.9h0M139.7,569.0h0M149.1,563.3h0" stroke="#7C51F4" stroke-width="2.6" stroke-linecap="round" fill="none"/>
<path d="M167.5,547.8h0M160.6,550.9h0M164.9,553.3h0M166.3,552.3h0M156.0,547.8h0M151.5,561.5h0M156.1,549.7h0M167.5,552.5h0M154.3,567.8h0M154.2,552.3h0M161.5,554.4h0M154.9,554.8h0M152.7,556.3h0M164.1,544.9h0M152.9,553.8h0M162.2,561.6h0M159.5,554.7h0M151.6,560.2h0M155.4,557.7h0M159.8,555.4h0M153.5,548.8h0M166.1,556.2h0M150.2,560.7h0M159.5,545.6h0M167.8,550.5h0" stroke="#673DF8" stroke-width="2.6" stroke-linecap="round" fill="none"/>
<path d="M163.7,553.4h0M160.7,556.0h0M164.4,547.7h0M160.2,548.7h0M163.2,558.9h0M166.3,549.9h0M165.6,552.9h0M167.9,550.2h0M165.2,556.3h0" stroke="#4926FB" stroke-width="2.6" stroke-linecap="round" fill="none"/>
<path d="M126.6,531.9h0M150.5,546.6h0M159.9,562.7h0M144.2,558.0h0M125.8,532.8h0M150.7,540.4h0M162.9,560.4h0M154.3,573.0h0M139.0,576.6h0M126.2,531.2h0M126.0,537.2h0M160.1,568.1h0M149.7,533.4h0M120.7,542.4h0M135.5,554.3h0M143.1,575.4h0M138.0,536.1h0M145.3,536.8h0M143.0,540.5h0M135.1,551.2h0M141.1,548.8h0M153.7,542.5h0M136.2,530.7h0M155.8,550.0h0M134.8,530.7h0M150.4,545.6h0M125.4,534.4h0M147.0,542.3h0M153.5,533.1h0M134.0,556.5h0M154.4,567.5h0M153.6,553.4h0M113.6,568.3h0M112.0,566.4h0M109.2,577.9h0M111.6,573.8h0M123.3,610.2h0M128.3,597.9h0M128.5,605.4h0M122.5,604.6h0M129.5,604.8h0M127.7,593.9h0M113.4,608.9h0M126.1,600.1h0M124.6,601.5h0M125.8,583.0h0M127.7,603.2h0M126.0,600.0h0M122.4,608.1h0M118.1,606.4h0M117.3,603.4h0M126.5,582.4h0M112.2,610.4h0M126.1,584.9h0M125.7,584.4h0M119.1,604.2h0M114.7,598.4h0" stroke="#D3D3D3" stroke-width="2.6" stroke-linecap="round" fill="none"/>
<path d="M127.5,543.3h0M127.5,540.9h0M123.4,549.3h0M123.9,546.9h0M123.8,551.5h0M128.1,549.7h0M121.3,538.3h0M122.9,546.0h0M125.3,536.0h0M124.9,547.5h0M127.7,545.3h0" stroke="#B69CE3" stroke-width="2.6" stroke-linecap="round" fill="none"/>
<path d="M122.5,537.3h0M123.5,542.9h0M119.7,544.2h0M127.4,549.2h0M126.8,539.0h0M128.2,538.7h0M125.9,551.3h0M128.4,551.1h0M126.1,545.0h0M125.3,537.5h0M124.4,545.7h0M121.3,537.1h0M119.6,545.4h0M121.2,538.6h0M110.2,570.1h0M111.6,572.0h0M111.6,576.6h0M110.2,574.3h0M111.8,576.6h0M126.4,586.3h0M114.6,595.9h0M114.1,595.1h0" stroke="#AA89E7" stroke-width="2.6" stroke-linecap="round" fill="none"/>
<path d="M147.2,544.6h0M146.6,545.9h0M149.7,540.8h0M131.2,545.7h0M131.7,532.9h0M139.8,535.9h0M133.8,532.5h0M134.4,545.9h0M129.3,529.5h0M134.7,537.8h0M140.8,549.9h0M139.2,537.1h0M134.9,547.4h0M144.1,536.2h0M131.7,550.3h0M132.9,549.8h0M137.1,549.8h0M139.3,531.9h0M148.9,540.2h0M130.1,548.6h0M129.9,540.7h0M132.3,546.0h0M144.4,535.4h0M136.1,547.5h0M151.6,543.7h0M132.4,551.9h0M128.8,534.2h0M132.5,535.4h0M140.4,555.5h0M133.0,551.2h0M151.2,541.9h0M134.2,533.3h0M144.5,550.0h0M151.6,548.5h0M149.1,533.1h0M151.7,543.0h0M138.4,556.7h0M135.7,554.3h0M135.4,533.5h0M151.2,539.4h0M137.7,543.0h0M110.7,571.3h0M109.3,576.5h0M108.7,572.6h0M111.5,573.7h0M109.8,575.3h0M125.6,590.2h0M122.2,600.7h0M118.3,603.4h0M125.6,585.3h0M126.4,588.0h0M125.3,605.6h0M126.4,590.5h0M117.8,605.2h0M127.6,581.1h0M125.1,590.7h0M124.6,605.5h0M122.4,609.0h0M117.7,602.5h0M127.4,605.9h0M124.0,602.5h0M127.0,605.9h0M126.8,589.8h0M123.0,605.6h0M126.8,587.6h0M126.0,582.0h0" stroke="#9D77EC" stroke-width="2.6" stroke-linecap="round" fill="none"/>
<path d="M129.9,539.6h0M138.0,558.3h0M144.3,566.1h0M143.1,548.1h0M150.8,535.8h0M139.0,548.7h0M140.5,536.8h0M131.0,532.6h0M132.3,549.5h0M141.2,547.2h0M141.5,551.3h0M143.7,564.8h0M134.9,542.3h0M128.6,538.3h0M127.2,533.3h0M134.4,534.6h0M140.8,542.5h0M138.1,553.1h0M134.5,551.7h0M142.8,562.0h0M143.1,533.8h0M142.0,575.8h0M131.7,543.5h0M136.0,563.9h0M137.0,554.6h0M135.6,560.7h0M130.5,552.0h0M143.8,534.6h0M153.9,545.9h0M140.1,542.3h0M138.5,534.4h0M134.1,541.7h0M151.1,535.3h0M136.1,540.8h0M136.1,535.0h0M144.3,575.1h0M131.4,537.6h0M143.9,545.3h0M139.0,557.8h0M158.8,567.8h0M150.9,538.7h0M156.1,564.6h0M141.3,534.8h0M148.1,539.8h0M141.1,577.8h0M138.1,554.6h0M130.0,547.0h0M141.8,545.6h0M136.4,545.2h0M141.0,567.0h0M133.1,536.1h0M130.0,547.1h0M133.8,538.6h0M143.9,566.5h0M130.4,541.5h0M137.7,557.6h0M151.8,534.8h0M139.9,578.1h0M150.0,537.5h0M144.7,549.7h0M127.6,593.4h0M126.1,600.3h0M128.0,600.7h0M127.7,606.0h0M116.8,609.5h0M123.3,606.5h0M115.7,606.3h0M125.8,589.0h0M118.8,610.2h0M126.0,584.4h0M120.3,610.0h0M127.0,601.3h0M128.0,610.0h0M126.0,602.0h0M126.6,606.1h0" stroke="#8E65F0" stroke-width="2.6" stroke-linecap="round" fill="none"/>
<path d="M134.7,559.6h0M137.7,569.0h0M158.8,564.1h0M151.3,568.4h0M142.6,575.7h0M145.2,575.4h0M143.3,574.4h0M138.5,560.7h0M157.9,557.2h0M151.2,569.8h0M157.2,560.0h0M147.5,571.3h0M165.5,557.1h0M138.8,561.2h0M155.8,560.2h0M153.0,558.5h0M158.1,553.1h0M144.8,558.5h0M155.4,566.3h0M146.0,571.7h0M150.8,563.0h0M141.1,575.6h0M162.2,559.1h0M158.5,548.5h0M137.8,571.6h0M154.3,560.2h0M136.6,566.0h0M157.7,567.3h0M158.9,560.0h0M151.9,553.3h0M144.0,574.1h0M139.0,568.4h0M134.0,558.8h0M136.6,560.2h0M151.4,560.6h0M135.1,572.0h0M145.2,574.5h0M135.4,560.3h0M153.5,558.3h0M156.8,560.9h0M143.2,558.8h0M155.0,554.6h0M136.6,566.8h0M155.8,548.1h0M142.7,573.8h0M151.2,564.0h0M146.8,572.8h0M148.7,562.9h0M145.5,560.4h0M158.7,559.2h0M145.0,577.8h0M145.7,576.5h0M141.1,565.5h0M154.1,560.7h0M155.2,567.1h0M155.7,549.0h0M145.7,564.3h0M147.6,559.3h0M153.4,563.4h0M149.9,568.9h0M137.2,560.6h0M138.0,558.4h0M144.7,568.8h0M167.1,548.8h0M145.5,573.5h0" stroke="#7C51F4" stroke-width="2.6" stroke-linecap="round" fill="none"/>
<path d="M157.1,571.2h0M161.3,550.1h0M157.2,557.4h0M158.8,545.9h0M156.7,549.5h0M167.9,551.1h0M158.3,558.2h0M159.8,552.2h0M146.8,557.5h0M154.8,567.2h0M154.3,550.4h0M168.8,546.1h0M150.2,559.7h0M149.0,557.8h0M157.2,553.4h0M156.5,551.6h0M157.5,556.4h0M157.8,551.4h0M157.5,549.3h0" stroke="#673DF8" stroke-width="2.6" stroke-linecap="round" fill="none"/>
<path d="M163.0,555.2h0M160.0,550.0h0M162.4,547.4h0M165.2,550.4h0M161.2,545.4h0M167.3,545.4h0M164.7,552.4h0M163.9,552.9h0M164.1,554.3h0" stroke="#4926FB" stroke-width="2.6" stroke-linecap="round" fill="none"/>
<path d="M142.6,550.3h0M133.9,553.1h0M139.4,539.6h0M161.8,560.8h0M137.3,532.6h0M142.0,563.9h0M151.2,571.5h0M132.5,552.1h0M126.8,529.0h0M152.3,535.4h0M134.8,532.8h0M164.8,543.9h0M154.5,545.5h0M143.4,557.5h0M151.6,532.8h0M158.4,568.8h0M153.7,570.8h0M141.7,537.3h0M153.0,568.8h0M152.2,546.2h0M155.8,572.0h0M143.0,540.8h0M133.6,549.0h0M147.2,545.8h0M142.0,549.1h0M139.6,559.5h0M129.1,538.2h0M146.8,577.6h0M142.0,546.0h0M160.2,561.0h0M121.1,546.1h0M134.8,529.9h0M161.6,546.2h0M156.0,547.2h0M111.3,565.4h0M112.1,573.3h0M128.6,607.0h0M128.8,582.9h0M127.3,588.9h0M113.4,606.8h0M128.3,587.1h0M114.7,609.1h0M127.4,593.1h0M119.9,609.8h0M130.7,606.4h0M120.2,602.5h0M126.1,606.1h0M114.7,607.9h0M126.6,598.7h0" stroke="#D3D3D3" stroke-width="2.6" stroke-linecap="round" fill="none"/>
<circle cx="139.8" cy="568.4" r="9.85" fill="none" stroke="#E8101A" stroke-width="1.5" stroke-dasharray="1.3 1.3"/>
</g>
<path d="M286.4,691.0V789.2H403.5" fill="none" stroke="#333" stroke-width="1.1"/>
<path d="M319.5,789.2v3.7M365.5,789.2v3.7M286.4,705.6h-3.7M286.4,730.4h-3.7M286.4,755.1h-3.7M286.4,779.9h-3.7" fill="none" stroke="#333" stroke-width="1.1"/>
<text x="0.0" y="0.0" font-size="13" text-anchor="end" fill="#2a2a2a" transform="translate(279.8 710.9) scale(0.95 1)">5</text>
<text x="0.0" y="0.0" font-size="13" text-anchor="end" fill="#2a2a2a" transform="translate(279.8 735.7) scale(0.95 1)">0</text>
<text x="0.0" y="0.0" font-size="13" text-anchor="end" fill="#2a2a2a" transform="translate(279.8 760.4) scale(0.95 1)">-5</text>
<text x="0.0" y="0.0" font-size="13" text-anchor="end" fill="#2a2a2a" transform="translate(279.8 785.2) scale(0.95 1)">-10</text>
<text x="0.0" y="0.0" font-size="13" text-anchor="middle" fill="#2a2a2a" transform="translate(319.5 806.4) scale(0.95 1)">-10</text>
<text x="0.0" y="0.0" font-size="13" text-anchor="middle" fill="#2a2a2a" transform="translate(365.5 806.4) scale(0.95 1)">0</text>
<text x="343.4" y="822.3" font-size="14.5" text-anchor="middle">umap_1</text>
<text x="257.3" y="740.5" font-size="14.5" text-anchor="middle" transform="rotate(-90 257.3 740.5)">umap_2</text>
<rect x="418.4" y="701.8" width="15.2" height="77.5" fill="url(#cb)"/>
<text x="440.6" y="784.3" font-size="12" fill="#1a1a1a">0</text>
<text x="440.6" y="763.8" font-size="12" fill="#1a1a1a">1</text>
<text x="440.6" y="743.3" font-size="12" fill="#1a1a1a">2</text>
<text x="440.6" y="722.8" font-size="12" fill="#1a1a1a">3</text>
<path d="M418.4,758.8h2.8M430.8,758.8h2.8M418.4,738.3h2.8M430.8,738.3h2.8M418.4,717.8h2.8M430.8,717.8h2.8" stroke="#fff" stroke-width="0.9"/>
<text x="0.0" y="0.0" font-size="15.8" text-anchor="middle" font-weight="bold" transform="translate(571.5 681.8) scale(1.025 1)">FAP</text>
<g transform="translate(454,170)">
<g fill="#D3D3D3" stroke="#D3D3D3" stroke-width="1" stroke-linejoin="round"><polygon points="126.6,528.5 129.2,529.2 132.5,529.5 136.5,529.9 140.4,531.2 142.4,532.5 145.7,533.1 148.3,532.1 151.6,532.1 154.2,533.1 155.1,535.8 153.8,538.4 153.2,541.0 154.9,543.0 155.5,545.6 158.8,545.0 162.8,543.6 165.4,543.4 168.0,545.0 170.0,547.6 170.6,550.2 169.3,552.8 168.0,555.5 166.7,557.4 164.1,559.4 162.8,562.0 161.4,565.3 160.4,568.6 159.1,572.6 156.2,574.1 153.6,573.2 151.6,571.9 149.6,570.6 148.3,571.9 147.6,574.5 147.0,577.8 145.7,580.0 143.0,580.0 139.8,578.7 136.5,576.8 134.9,572.6 134.5,568.6 134.9,564.7 134.5,560.7 133.6,558.1 132.5,554.8 131.2,552.8 127.3,552.6 124.6,552.2 122.0,551.5 120.7,549.6 119.8,546.3 119.1,543.0 119.4,539.7 120.7,537.1 124.0,535.5 125.7,533.1 125.7,530.5"/><polygon points="107.6,568.6 109.5,565.3 112.2,565.3 114.8,568.0 115.5,569.9 113.5,571.2 112.2,571.9 112.2,575.2 112.8,577.8 110.9,579.1 108.9,578.5 108.6,575.2 108.2,572.6 107.3,570.6"/><polygon points="124.4,581.1 126.6,580.2 128.9,581.8 129.6,584.4 128.9,588.3 128.2,592.3 128.2,596.2 128.6,600.1 129.6,604.1 131.5,607.4 130.6,610.7 127.9,611.3 125.3,610.7 122.7,611.3 119.4,612.0 115.5,612.6 111.5,612.6 110.5,610.7 111.5,608.0 114.1,605.4 116.8,602.8 119.4,601.5 122.0,600.1 123.6,597.5 124.4,593.6 124.6,589.6 124.4,585.7 124.0,583.1"/><polygon points="112.2,595.5 114.1,594.9 115.7,597.1 114.8,599.1 112.8,598.8"/></g>
<g fill="#fff"><polygon points="143.0,552.8 146.3,549.6 150.3,547.6 152.9,549.6 152.2,552.8 148.3,556.8 144.4,556.8"/><polygon points="148.3,566.0 151.6,564.0 154.9,563.4 156.2,565.3 153.6,567.3 150.3,568.0"/><polygon points="127.3,543.4 130.6,543.0 131.5,545.0 128.6,545.6"/></g>
<circle cx="66" cy="590.7" r="1.5" fill="#D3D3D3"/>
<path d="M161.6,554.0h0M161.7,557.3h0M165.2,553.9h0M162.5,553.8h0M164.2,554.5h0M162.4,552.6h0M165.0,550.1h0" stroke="#B69CE3" stroke-width="2.6" stroke-linecap="round" fill="none"/>
<path d="M143.3,541.2h0M136.9,546.8h0M138.5,550.8h0M142.0,543.6h0M138.1,576.8h0M141.2,558.3h0M133.4,538.9h0M145.5,558.8h0M123.6,546.9h0M147.1,547.9h0M143.8,546.8h0M162.8,555.3h0M138.2,555.8h0M126.2,546.6h0M165.3,554.6h0M132.1,546.9h0M137.8,536.0h0M138.2,568.9h0M149.2,540.3h0M134.7,557.4h0M137.2,564.3h0M136.3,568.2h0M151.2,558.9h0M152.9,542.0h0M146.2,567.1h0M153.4,561.6h0M156.7,548.5h0M128.6,550.8h0M147.0,541.9h0M132.5,553.8h0M156.0,551.2h0M129.5,535.7h0M128.3,549.5h0M143.8,560.2h0M122.4,545.2h0M160.0,551.4h0M166.8,552.2h0M123.6,538.3h0M123.0,543.8h0M154.4,560.6h0M127.3,530.5h0M126.1,538.9h0M148.6,539.6h0M128.3,546.9h0M127.3,532.8h0M129.0,532.5h0M130.0,550.1h0M123.9,542.6h0M135.5,572.6h0M141.1,543.3h0M142.4,540.6h0M128.2,543.3h0M127.7,530.2h0M120.0,541.3h0M142.8,552.3h0M134.9,556.5h0M142.6,562.3h0M162.6,554.0h0M113.4,567.3h0M112.0,569.5h0M109.7,567.7h0M108.8,577.0h0M125.9,590.8h0M124.7,590.4h0M124.8,581.6h0" stroke="#AA89E7" stroke-width="2.6" stroke-linecap="round" fill="none"/>
<path d="M146.9,563.5h0M136.5,544.5h0M135.4,537.7h0M134.4,555.8h0M145.9,546.6h0M158.3,558.1h0M139.2,537.7h0M150.0,535.6h0M141.0,560.6h0M122.3,542.0h0M139.9,551.8h0M123.8,544.1h0M142.5,573.4h0M145.1,574.9h0M131.9,547.5h0M119.3,541.9h0M124.5,540.8h0M144.5,539.3h0M122.9,542.9h0M132.3,529.9h0M137.2,567.2h0M144.7,576.9h0M136.9,574.3h0M138.1,563.1h0M140.6,540.9h0M142.5,561.8h0M164.2,556.0h0M164.3,544.8h0M140.4,536.1h0M159.6,557.0h0M126.8,539.8h0M120.6,538.6h0M142.1,577.6h0M141.9,573.8h0M169.9,551.2h0M147.2,559.7h0M144.7,567.9h0M133.7,530.0h0M140.3,565.5h0M143.8,569.7h0M126.6,535.8h0M143.1,578.0h0M127.6,543.2h0M140.6,539.2h0M142.7,561.4h0M151.8,559.5h0M141.8,537.4h0M144.2,546.4h0M110.2,574.6h0M109.1,578.2h0M111.8,572.5h0M111.9,569.7h0M110.0,578.1h0M121.6,601.2h0" stroke="#9D77EC" stroke-width="2.6" stroke-linecap="round" fill="none"/>
<path d="M137.2,572.0h0M141.8,562.0h0M154.9,550.8h0M149.7,558.1h0M139.8,578.7h0M146.6,578.5h0M149.8,561.8h0M139.4,568.6h0M143.9,564.9h0M153.2,550.2h0M157.4,554.5h0M135.6,572.7h0M150.2,559.0h0M144.2,573.4h0M151.6,557.0h0M156.5,550.7h0M151.2,557.8h0M136.6,564.5h0M142.7,577.8h0M137.3,564.2h0M136.9,559.1h0" stroke="#8E65F0" stroke-width="2.6" stroke-linecap="round" fill="none"/>
<path d="M151.6,569.1h0M143.8,543.5h0M159.0,564.3h0M152.6,558.4h0M150.6,558.9h0M161.0,561.6h0M164.9,556.6h0M124.7,548.1h0M147.7,560.5h0M164.3,553.3h0M150.7,546.5h0M143.1,533.7h0M134.9,531.2h0M135.0,551.7h0M133.8,531.8h0M146.4,537.4h0M162.0,553.8h0M154.8,563.1h0M156.6,550.0h0M157.1,570.6h0M158.6,547.1h0M143.3,543.3h0M139.1,560.9h0M158.2,555.1h0M162.6,558.5h0M146.8,532.9h0M166.5,545.3h0M132.3,552.8h0M152.9,567.5h0M159.9,568.3h0M163.0,560.3h0M153.1,562.4h0M160.5,551.8h0M162.7,557.9h0M167.1,549.2h0M135.2,541.3h0M156.7,566.2h0M142.1,557.4h0M143.7,556.2h0M156.3,568.0h0M143.7,545.5h0M146.1,542.4h0M141.1,555.4h0M129.9,540.6h0M124.0,538.6h0M144.5,537.3h0M159.8,558.8h0M154.3,548.5h0M132.4,554.0h0M158.5,565.1h0M126.5,534.4h0M162.1,562.0h0M132.0,548.0h0M138.9,557.4h0M150.3,544.0h0M155.3,567.3h0M157.8,555.9h0M156.5,565.6h0M159.4,557.5h0M157.5,557.3h0M136.2,535.0h0M145.4,547.5h0M155.5,546.5h0M149.7,564.8h0M157.6,571.5h0M146.5,538.7h0M141.7,546.1h0M141.2,554.6h0M127.0,534.4h0M142.4,555.9h0M122.3,549.3h0M134.4,532.5h0M169.0,549.5h0M122.7,544.0h0M154.3,571.7h0M155.8,546.1h0M136.7,540.9h0M169.6,549.3h0M154.8,569.2h0M153.1,553.0h0M152.2,536.6h0M140.5,534.5h0M128.1,534.1h0M126.3,536.0h0M146.7,540.5h0M136.2,557.1h0M131.5,551.1h0M140.3,550.1h0M131.4,534.3h0M129.2,547.7h0M162.2,546.3h0M151.3,547.9h0M167.3,555.0h0M167.4,549.1h0M135.3,539.1h0M155.9,564.0h0M164.9,549.5h0M125.5,544.5h0M145.5,534.3h0M149.4,537.0h0M144.4,539.0h0M167.1,554.6h0M163.8,544.6h0M154.0,563.3h0M151.8,537.5h0M136.5,563.1h0M140.2,535.7h0M141.2,536.5h0M162.2,558.6h0M153.0,541.2h0M129.4,539.1h0M155.6,566.0h0M144.7,549.7h0M145.4,543.7h0M155.0,572.9h0M157.3,571.7h0M153.0,569.1h0M156.6,554.1h0M130.7,547.0h0M131.0,545.9h0M111.4,568.9h0M108.3,571.7h0M112.7,568.9h0M128.5,602.9h0M122.4,602.1h0M117.0,608.2h0M115.3,610.8h0M123.0,600.8h0M118.1,607.3h0M120.7,606.4h0M119.9,605.2h0M121.2,606.1h0M127.0,592.5h0M126.5,596.9h0M119.2,603.8h0M115.3,605.2h0M128.5,609.1h0M126.2,610.3h0M113.8,612.1h0M115.2,611.2h0M127.0,589.1h0M120.2,604.4h0M114.8,605.7h0M115.9,605.3h0M111.9,610.0h0M113.5,606.5h0M118.5,610.4h0M127.8,593.4h0M127.8,599.4h0M126.9,602.3h0M116.5,603.1h0M117.1,607.3h0M120.6,609.2h0M126.1,589.6h0M129.3,607.7h0M122.4,609.2h0M125.7,582.9h0M122.9,606.9h0M113.0,608.4h0M126.6,602.6h0M127.4,601.0h0M121.7,601.1h0M124.0,605.6h0M125.8,587.2h0M118.9,607.6h0M117.3,609.8h0M125.4,610.2h0M117.5,605.1h0M114.3,597.9h0" stroke="#D3D3D3" stroke-width="2.6" stroke-linecap="round" fill="none"/>
<path d="M167.4,553.1h0M165.4,553.8h0M157.1,547.8h0M125.1,586.8h0" stroke="#B69CE3" stroke-width="2.6" stroke-linecap="round" fill="none"/>
<path d="M139.9,536.1h0M138.2,535.9h0M169.2,548.1h0M148.8,566.8h0M139.9,555.9h0M125.1,544.6h0M131.8,531.7h0M121.7,550.2h0M144.6,557.7h0M131.8,542.1h0M124.5,550.0h0M142.7,551.1h0M126.8,550.4h0M124.1,546.3h0M122.1,540.3h0M127.8,542.4h0M119.4,544.1h0M123.2,538.2h0M124.6,551.2h0M128.5,551.5h0M137.0,546.3h0M153.9,544.9h0M140.9,548.1h0M138.5,568.8h0M131.7,544.3h0M136.8,536.4h0M144.8,577.8h0M132.9,549.5h0M147.3,546.3h0M152.0,538.6h0M134.0,556.3h0M147.0,540.3h0M126.3,546.6h0M146.8,541.8h0M129.2,534.0h0M148.7,545.5h0M144.8,538.9h0M151.4,559.4h0M124.5,548.6h0M157.6,557.1h0M143.3,564.6h0M125.1,544.0h0M143.9,534.2h0M158.5,559.0h0M135.1,544.6h0M139.3,557.2h0M131.4,535.3h0M134.5,541.9h0M139.2,547.8h0M134.1,533.9h0M137.4,567.9h0M122.1,546.5h0M113.3,568.0h0M113.6,570.0h0M111.3,577.1h0M107.8,570.1h0M111.8,576.6h0M119.3,606.8h0" stroke="#AA89E7" stroke-width="2.6" stroke-linecap="round" fill="none"/>
<path d="M147.1,558.1h0M161.3,553.3h0M146.2,568.5h0M123.2,536.2h0M143.0,547.1h0M141.2,558.2h0M145.8,535.4h0M135.8,569.6h0M127.1,536.7h0M141.9,570.6h0M121.1,537.3h0M128.6,548.6h0M138.8,543.5h0M140.7,554.5h0M152.6,537.5h0M134.3,534.1h0M138.9,561.3h0M140.8,571.7h0M154.0,534.9h0M139.2,572.7h0M141.7,560.1h0M129.2,533.8h0M145.1,562.6h0M142.5,544.5h0M137.6,543.9h0M147.3,558.9h0M156.8,551.0h0M121.1,537.3h0M139.2,535.0h0M143.4,542.5h0M143.5,563.8h0M141.7,532.4h0M132.4,533.7h0M145.5,547.1h0M132.9,539.1h0M140.8,534.8h0M125.2,541.3h0M145.3,570.3h0M142.7,564.5h0M146.4,557.1h0M143.7,538.9h0M135.2,566.5h0M126.1,545.8h0M126.4,545.7h0M145.7,569.9h0M134.4,533.2h0M169.4,547.1h0M125.3,543.8h0M141.0,560.3h0M145.6,562.5h0M143.2,565.3h0M135.3,537.3h0M154.1,562.6h0M139.2,546.5h0M142.4,573.8h0M141.6,541.2h0M131.5,535.0h0M138.7,537.1h0M138.4,541.2h0M165.4,555.7h0M143.1,551.1h0M121.7,550.3h0M145.3,559.8h0M135.3,530.0h0M137.2,572.5h0M146.6,558.7h0M137.5,574.2h0M129.0,543.0h0M151.9,553.8h0M135.8,541.4h0M111.9,567.9h0M109.7,565.9h0M113.9,569.7h0" stroke="#9D77EC" stroke-width="2.6" stroke-linecap="round" fill="none"/>
<path d="M143.0,570.6h0M155.7,551.5h0M146.8,569.7h0M149.0,567.7h0M135.5,572.3h0M138.4,563.8h0M136.5,559.0h0M142.6,568.1h0M142.4,562.4h0M136.6,560.0h0M150.3,562.3h0M143.2,576.9h0M146.5,562.9h0M154.1,550.5h0M140.4,570.8h0M160.3,559.1h0M137.9,564.7h0" stroke="#8E65F0" stroke-width="2.6" stroke-linecap="round" fill="none"/>
<path d="M157.6,570.5h0" stroke="#673DF8" stroke-width="2.6" stroke-linecap="round" fill="none"/>
<path d="M159.4,571.1h0M158.9,565.2h0" stroke="#4926FB" stroke-width="2.6" stroke-linecap="round" fill="none"/>
<path d="M165.2,543.9h0M124.6,550.9h0M153.3,567.7h0M143.4,540.2h0M133.5,549.7h0M143.8,556.8h0M139.0,535.6h0M157.3,548.9h0M154.6,563.2h0M137.9,544.6h0M158.5,557.2h0M149.8,533.9h0M148.1,546.9h0M139.0,534.1h0M141.0,555.8h0M160.5,565.3h0M120.0,541.5h0M141.5,559.1h0M153.5,534.9h0M128.6,550.6h0M134.7,537.1h0M149.5,534.6h0M165.6,552.5h0M141.7,542.6h0M160.9,555.8h0M158.2,559.7h0M125.3,539.0h0M141.5,544.3h0M122.5,546.0h0M142.0,538.4h0M146.8,537.3h0M128.2,551.5h0M166.1,557.2h0M168.4,553.6h0M130.9,543.0h0M132.5,547.3h0M157.1,570.3h0M146.1,563.2h0M163.0,553.4h0M157.2,567.3h0M159.8,565.2h0M137.6,551.0h0M149.1,559.4h0M127.7,541.4h0M158.1,547.5h0M147.5,559.4h0M142.8,550.2h0M147.7,537.6h0M134.5,552.8h0M142.4,540.9h0M126.8,534.0h0M144.4,548.9h0M151.3,548.1h0M136.0,556.5h0M153.6,542.7h0M130.4,545.3h0M156.9,564.3h0M161.9,552.9h0M129.1,548.1h0M139.7,538.3h0M161.6,548.5h0M121.9,546.3h0M122.7,546.1h0M144.6,540.9h0M152.5,570.0h0M140.7,574.8h0M168.2,552.1h0M148.0,538.2h0M161.4,551.5h0M149.1,559.6h0M154.6,549.9h0M159.5,548.3h0M162.3,553.6h0M135.4,555.5h0M144.4,557.5h0M147.0,542.1h0M144.6,536.5h0M147.0,538.6h0M167.2,551.2h0M159.4,546.4h0M155.1,561.4h0M146.0,542.5h0M150.5,533.5h0M167.6,551.1h0M142.9,551.7h0M145.5,539.9h0M151.7,532.4h0M147.0,569.3h0M122.9,538.3h0M142.3,540.4h0M159.3,561.3h0M145.4,544.3h0M126.4,529.6h0M149.3,542.1h0M152.0,571.5h0M136.2,538.7h0M158.2,566.8h0M165.4,550.1h0M133.7,548.8h0M157.4,566.8h0M135.4,569.7h0M150.3,569.6h0M148.2,544.4h0M139.4,543.2h0M134.7,540.6h0M140.0,541.3h0M133.0,549.0h0M138.6,543.8h0M167.4,548.4h0M112.4,566.4h0M107.6,569.0h0M114.0,570.4h0M127.5,594.2h0M127.5,611.2h0M124.7,607.0h0M119.3,610.7h0M118.2,610.6h0M117.1,606.1h0M127.8,603.5h0M122.4,610.5h0M122.4,608.1h0M123.4,607.2h0M125.5,594.9h0M126.1,586.5h0M128.1,608.2h0M117.1,611.4h0M126.6,605.1h0M112.0,610.0h0M124.9,609.3h0M127.6,596.7h0M125.3,607.4h0M113.5,611.4h0M129.7,609.9h0M122.4,603.1h0M126.4,594.9h0M121.9,606.7h0M124.1,600.7h0M127.8,586.4h0M123.9,606.7h0M116.3,610.3h0M117.9,611.6h0M122.0,601.4h0M121.6,603.4h0M118.6,610.8h0M125.4,588.6h0M117.1,603.9h0M127.1,590.0h0M128.2,603.5h0M116.6,612.3h0M117.5,602.8h0M128.5,600.5h0M118.4,603.5h0M114.4,610.3h0M127.4,601.0h0M119.2,607.3h0M123.7,598.4h0M120.4,603.0h0M122.4,610.1h0M128.2,598.6h0M112.9,598.4h0M113.1,598.3h0" stroke="#D3D3D3" stroke-width="2.6" stroke-linecap="round" fill="none"/>
<path d="M162.0,558.4h0M167.4,550.6h0" stroke="#B69CE3" stroke-width="2.6" stroke-linecap="round" fill="none"/>
<path d="M127.5,531.0h0M150.7,533.4h0M157.5,559.0h0M123.5,544.7h0M161.3,544.7h0M161.1,550.1h0M165.7,544.1h0M144.7,578.1h0M138.3,568.5h0M150.6,569.4h0M132.5,547.0h0M126.0,539.0h0M136.0,541.4h0M136.8,539.3h0M149.6,545.1h0M130.9,539.1h0M165.0,558.3h0M129.1,550.0h0M144.8,567.4h0M137.9,576.7h0M129.6,539.9h0M136.4,537.1h0M135.0,562.8h0M132.0,535.1h0M139.3,575.5h0M133.5,546.3h0M121.0,543.1h0M125.6,540.2h0M145.7,569.6h0M132.8,541.5h0M125.6,536.9h0M146.8,542.3h0M162.2,558.7h0M143.7,537.0h0M148.5,559.1h0M152.0,539.6h0M143.5,549.8h0M134.0,548.9h0M133.9,537.6h0M123.4,543.3h0M164.7,554.3h0M122.4,550.1h0M141.4,539.9h0M138.2,562.8h0M156.9,553.0h0M165.2,548.9h0M130.2,539.4h0M121.2,541.4h0M128.1,542.0h0M149.7,556.6h0M128.8,540.4h0M131.8,551.0h0M111.7,577.4h0M108.4,573.1h0M111.7,569.6h0M108.9,573.1h0M109.4,571.9h0M126.7,590.9h0M127.0,585.8h0M124.8,581.3h0" stroke="#AA89E7" stroke-width="2.6" stroke-linecap="round" fill="none"/>
<path d="M119.8,539.7h0M135.4,553.3h0M134.3,551.9h0M144.8,546.0h0M135.5,537.9h0M149.8,557.6h0M149.8,541.9h0M138.4,548.4h0M138.4,533.6h0M125.8,546.9h0M142.7,548.3h0M142.2,566.5h0M154.5,551.6h0M140.2,545.5h0M130.8,529.9h0M152.0,553.7h0M153.9,546.0h0M152.7,548.4h0M127.5,545.6h0M122.5,537.6h0M135.2,542.9h0M153.0,557.5h0M158.6,556.5h0M134.7,559.8h0M144.7,550.3h0M148.8,534.4h0M140.1,560.8h0M157.2,547.7h0M147.3,543.2h0M148.1,564.0h0M143.4,543.5h0M141.2,554.7h0M163.7,546.3h0M134.9,542.1h0M143.1,537.2h0M144.4,550.7h0M158.3,561.6h0M129.1,552.6h0M128.1,546.6h0M142.4,572.1h0M128.9,548.1h0M158.1,550.3h0M136.2,562.7h0M137.3,540.3h0M148.3,547.4h0M141.8,552.6h0M137.8,546.0h0M138.4,574.2h0M158.1,557.1h0M154.4,548.0h0M145.2,574.3h0M151.7,546.1h0M127.8,551.2h0M137.2,567.1h0M141.0,575.0h0M148.2,563.0h0M142.4,573.5h0M153.0,546.0h0M153.9,545.9h0M137.8,534.2h0M108.9,571.1h0M109.3,566.1h0M109.6,574.0h0M114.6,567.9h0M125.3,590.6h0" stroke="#9D77EC" stroke-width="2.6" stroke-linecap="round" fill="none"/>
<path d="M137.8,564.8h0M143.4,577.2h0M137.8,559.1h0M154.6,557.0h0M144.8,564.4h0M140.4,573.6h0M153.8,555.4h0M144.5,568.9h0M149.0,561.7h0M137.6,563.9h0M159.8,558.2h0M142.8,568.0h0M136.3,565.9h0M139.6,567.1h0M143.3,566.9h0M146.6,570.4h0M144.0,578.5h0M143.6,573.2h0M136.8,560.9h0M158.3,552.6h0M145.6,559.9h0M152.6,553.1h0M150.3,556.3h0M140.7,576.7h0M121.3,600.9h0" stroke="#8E65F0" stroke-width="2.6" stroke-linecap="round" fill="none"/>
<path d="M137.7,537.1h0M123.8,546.1h0M152.5,569.6h0M159.3,558.5h0M132.9,536.5h0M155.6,561.1h0M144.8,545.6h0M141.4,544.7h0M131.2,547.7h0M130.6,534.5h0M161.9,561.9h0M129.6,530.6h0M143.2,543.1h0M131.7,531.1h0M156.6,564.7h0M125.2,544.9h0M137.2,541.3h0M160.2,545.2h0M135.5,529.9h0M157.9,563.0h0M162.4,553.1h0M122.5,539.2h0M122.9,542.5h0M127.8,552.1h0M129.8,551.9h0M164.3,551.1h0M156.3,560.0h0M127.1,539.7h0M141.2,539.3h0M126.3,531.3h0M157.0,547.7h0M160.5,553.1h0M124.3,547.6h0M154.8,572.8h0M162.1,545.3h0M141.1,551.2h0M142.0,536.3h0M133.8,542.2h0M141.1,535.3h0M157.6,566.0h0M142.5,543.3h0M133.2,555.6h0M138.9,558.1h0M143.1,556.6h0M144.8,543.7h0M165.2,551.3h0M136.2,563.8h0M141.9,557.7h0M126.8,544.7h0M119.5,544.3h0M167.9,553.0h0M127.9,540.1h0M156.3,550.6h0M149.0,544.1h0M146.8,572.7h0M146.0,541.7h0M133.0,550.0h0M129.3,551.3h0M154.3,550.6h0M143.1,545.3h0M143.2,556.8h0M139.1,571.0h0M144.8,535.3h0M158.3,546.0h0M124.2,539.0h0M134.7,548.4h0M166.8,555.7h0M155.7,546.8h0M145.2,538.5h0M145.0,549.4h0M157.4,571.9h0M150.9,568.3h0M124.0,547.7h0M164.8,554.8h0M138.0,531.5h0M135.1,539.7h0M134.1,557.5h0M154.2,570.3h0M132.0,531.0h0M155.0,567.2h0M152.3,570.8h0M142.0,557.9h0M150.8,544.8h0M121.9,550.2h0M164.3,545.6h0M157.0,550.5h0M150.4,539.3h0M128.5,537.3h0M143.4,555.2h0M162.8,556.3h0M159.8,569.7h0M130.0,540.6h0M155.7,572.4h0M158.6,562.0h0M134.9,538.4h0M148.8,544.4h0M157.9,564.2h0M144.9,549.0h0M153.2,563.5h0M145.6,545.3h0M152.8,548.0h0M156.6,549.2h0M155.3,571.2h0M157.6,551.5h0M156.5,558.1h0M135.2,536.4h0M133.8,544.3h0M166.4,553.0h0M165.6,552.1h0M168.8,547.4h0M130.9,542.7h0M139.2,531.4h0M144.0,543.3h0M128.0,534.6h0M155.1,559.8h0M109.5,578.0h0M108.4,568.0h0M113.1,570.7h0M129.2,610.4h0M122.7,605.5h0M122.1,611.0h0M122.0,602.5h0M121.7,608.9h0M127.6,609.2h0M124.9,605.2h0M125.4,590.5h0M130.3,606.4h0M128.1,593.7h0M114.9,606.8h0M112.5,610.2h0M116.9,607.3h0M127.5,602.9h0M114.4,611.7h0M126.8,587.2h0M126.7,601.3h0M120.5,600.9h0M122.2,611.4h0M127.5,589.6h0M112.3,611.4h0M129.0,608.4h0M127.6,605.0h0M111.9,608.3h0M120.4,609.0h0M123.0,607.5h0M122.3,605.0h0M129.8,607.2h0M114.5,605.1h0M126.4,609.8h0M126.5,608.5h0M122.5,608.3h0M125.8,597.9h0M113.9,610.9h0M123.2,601.3h0M125.7,601.6h0M125.0,603.8h0M126.5,590.0h0M117.3,609.7h0M118.7,611.4h0M130.7,606.7h0M120.5,606.2h0M126.6,610.5h0M125.6,586.1h0M114.1,598.5h0M114.4,595.4h0" stroke="#D3D3D3" stroke-width="2.6" stroke-linecap="round" fill="none"/>
<path d="M128.7,586.2h0" stroke="#B69CE3" stroke-width="2.6" stroke-linecap="round" fill="none"/>
<path d="M136.6,576.1h0M123.7,542.6h0M129.1,530.4h0M167.5,547.8h0M160.6,550.9h0M132.2,542.8h0M139.6,531.6h0M138.8,535.2h0M135.2,548.3h0M138.4,552.2h0M159.8,558.2h0M121.1,548.4h0M146.4,548.6h0M133.7,545.7h0M152.3,540.3h0M126.9,528.9h0M153.1,541.1h0M139.4,544.9h0M143.4,559.5h0M138.1,560.3h0M121.7,550.5h0M154.2,552.9h0M143.4,547.7h0M152.0,557.6h0M143.0,539.4h0M129.1,537.1h0M143.3,578.1h0M146.6,578.3h0M151.1,538.7h0M149.0,542.7h0M152.1,539.8h0M139.7,571.9h0M152.2,544.8h0M159.8,555.4h0M139.7,548.2h0M150.8,561.6h0M166.1,556.2h0M138.0,555.5h0M145.8,547.6h0M123.3,545.9h0M134.0,537.2h0M155.8,553.0h0M142.7,540.0h0M142.2,579.0h0M151.7,546.3h0M153.5,534.0h0M123.9,546.2h0M141.3,534.6h0M135.0,532.3h0M159.5,545.6h0M127.2,536.5h0M131.3,535.7h0M135.6,542.2h0M127.8,532.9h0M132.2,542.2h0M120.5,545.6h0M159.5,556.9h0M140.5,537.6h0M152.0,544.1h0M113.7,567.4h0M110.5,578.1h0M125.9,590.1h0M115.1,610.5h0" stroke="#AA89E7" stroke-width="2.6" stroke-linecap="round" fill="none"/>
<path d="M150.9,535.1h0M140.0,540.8h0M137.0,561.7h0M153.4,550.2h0M152.3,559.6h0M151.3,546.8h0M148.1,559.6h0M122.9,548.2h0M126.6,542.3h0M156.8,554.6h0M149.9,567.6h0M123.7,539.9h0M142.7,542.9h0M121.5,540.1h0M156.2,553.8h0M153.4,558.6h0M137.0,553.0h0M152.7,556.3h0M145.7,547.7h0M152.7,560.9h0M152.9,553.8h0M136.8,534.0h0M154.1,555.5h0M141.6,569.7h0M130.0,549.0h0M119.5,543.9h0M154.5,561.8h0M132.7,530.0h0M145.5,537.6h0M123.9,548.3h0M137.1,567.5h0M139.0,566.0h0M142.0,561.5h0M145.5,541.5h0M153.2,535.0h0M138.9,570.5h0M167.9,550.2h0M122.9,536.8h0M136.0,536.8h0M136.7,559.2h0M137.7,560.0h0M135.4,550.0h0M140.1,572.6h0M165.2,556.3h0M141.7,578.1h0M143.4,550.5h0M120.1,540.1h0M137.3,545.4h0M140.8,563.7h0M135.3,543.9h0M148.2,544.1h0M120.4,543.5h0M112.3,571.5h0M110.8,570.0h0M113.0,570.2h0M113.7,569.0h0M108.3,572.5h0M120.2,607.7h0M113.5,609.4h0" stroke="#9D77EC" stroke-width="2.6" stroke-linecap="round" fill="none"/>
<path d="M144.0,575.5h0M144.0,574.0h0M156.0,547.8h0M151.5,561.5h0M145.6,575.8h0M154.2,552.3h0M135.0,568.6h0M138.2,558.6h0M144.3,577.1h0M145.9,558.7h0M146.5,564.6h0M148.3,569.8h0M142.2,558.8h0M138.8,567.0h0M153.5,548.8h0M140.5,568.4h0M144.7,577.8h0M147.0,575.3h0M149.5,567.4h0M137.9,566.9h0M137.7,559.3h0M139.7,569.0h0" stroke="#8E65F0" stroke-width="2.6" stroke-linecap="round" fill="none"/>
<path d="M157.2,573.2h0M151.1,569.1h0" stroke="#4926FB" stroke-width="2.6" stroke-linecap="round" fill="none"/>
<path d="M126.6,531.9h0M157.7,572.1h0M169.4,551.9h0M133.6,553.6h0M147.2,546.0h0M150.5,546.6h0M140.5,545.0h0M121.0,541.5h0M159.9,562.7h0M155.9,562.3h0M164.9,553.3h0M129.5,529.8h0M156.9,565.5h0M144.2,558.0h0M125.8,532.8h0M140.8,544.7h0M150.7,540.4h0M166.3,552.3h0M162.9,560.4h0M154.3,573.0h0M154.1,555.4h0M154.5,571.7h0M124.3,538.5h0M158.3,565.7h0M139.0,576.6h0M141.9,552.8h0M140.9,578.6h0M152.3,547.9h0M136.8,535.9h0M126.2,531.2h0M150.7,539.9h0M129.7,533.1h0M156.1,549.7h0M148.2,543.5h0M167.5,552.5h0M126.0,537.2h0M160.1,568.1h0M154.3,567.8h0M154.3,568.2h0M149.7,533.4h0M133.5,551.7h0M161.5,554.4h0M141.7,573.8h0M154.9,554.8h0M133.7,530.4h0M120.7,542.4h0M132.4,553.3h0M135.5,554.3h0M137.4,541.4h0M164.1,544.9h0M143.1,575.4h0M138.0,536.1h0M163.7,553.4h0M129.1,539.8h0M127.2,529.6h0M132.8,545.6h0M137.1,535.2h0M160.7,556.0h0M136.9,541.0h0M167.0,552.8h0M145.3,536.8h0M162.2,561.6h0M164.4,547.7h0M155.5,549.0h0M143.0,540.5h0M160.2,548.7h0M134.4,537.4h0M163.9,550.4h0M135.1,551.2h0M159.5,554.7h0M131.8,538.8h0M163.2,558.9h0M151.6,560.2h0M150.0,536.9h0M141.1,548.8h0M122.8,551.0h0M153.7,542.5h0M129.2,536.3h0M136.2,530.7h0M141.2,538.1h0M155.4,557.7h0M155.8,550.0h0M140.1,535.2h0M130.8,539.3h0M148.9,565.1h0M132.5,553.4h0M131.3,536.2h0M146.7,548.6h0M166.3,549.9h0M148.7,559.0h0M134.8,530.7h0M137.8,540.9h0M150.4,545.6h0M127.8,529.4h0M152.4,546.8h0M165.6,552.9h0M125.4,534.4h0M159.6,561.2h0M154.3,533.7h0M150.2,560.7h0M144.0,550.3h0M147.0,542.3h0M130.3,546.2h0M153.5,533.1h0M148.5,534.0h0M151.0,569.5h0M159.8,551.7h0M138.1,544.0h0M157.2,571.0h0M134.0,556.5h0M149.8,541.9h0M154.4,567.5h0M153.6,553.4h0M143.7,546.9h0M137.4,548.1h0M167.8,550.5h0M151.5,534.1h0M149.1,563.3h0M113.6,568.3h0M112.0,566.4h0M109.2,577.9h0M111.6,573.8h0M111.6,571.4h0M123.3,610.2h0M128.3,597.9h0M115.0,606.4h0M128.5,605.4h0M114.4,612.5h0M117.2,602.9h0M122.5,604.6h0M122.8,609.0h0M116.0,608.8h0M127.1,609.1h0M128.7,585.7h0M129.5,604.8h0M114.8,609.4h0M127.7,593.9h0M113.4,608.9h0M127.0,592.3h0M127.7,606.4h0M121.9,608.5h0M116.6,603.1h0M126.1,600.1h0M127.2,608.3h0M128.3,609.7h0M124.6,601.5h0M125.8,583.0h0M113.3,607.2h0M125.2,603.3h0M115.3,612.6h0M127.7,603.2h0M126.0,600.0h0M114.1,612.0h0M126.6,610.5h0M127.6,595.2h0M122.4,608.1h0M118.1,606.4h0M117.3,603.4h0M114.0,607.0h0M126.5,582.4h0M121.2,609.2h0M112.2,610.4h0M126.1,584.9h0M117.9,609.6h0M125.7,584.4h0M118.6,610.5h0M119.1,604.2h0M114.7,598.4h0M114.5,596.1h0" stroke="#D3D3D3" stroke-width="2.6" stroke-linecap="round" fill="none"/>
<path d="M165.5,557.1h0M162.2,559.1h0M158.5,548.5h0M167.1,548.8h0" stroke="#B69CE3" stroke-width="2.6" stroke-linecap="round" fill="none"/>
<path d="M138.0,558.3h0M147.2,544.6h0M146.6,545.9h0M149.7,540.8h0M131.2,545.7h0M131.7,532.9h0M133.8,532.5h0M123.9,546.9h0M129.3,529.5h0M142.8,562.0h0M142.0,575.8h0M123.8,551.5h0M140.8,549.9h0M136.0,563.9h0M134.9,547.4h0M135.6,560.7h0M128.1,549.7h0M119.7,544.2h0M121.3,538.3h0M131.7,550.3h0M132.9,549.8h0M139.3,531.9h0M148.9,540.2h0M144.3,575.1h0M130.1,548.6h0M129.9,540.7h0M144.4,535.4h0M136.1,547.5h0M153.5,558.3h0M132.4,551.9h0M156.8,560.9h0M124.9,547.5h0M141.1,577.8h0M133.0,551.2h0M151.2,541.9h0M127.7,545.3h0M134.2,533.3h0M141.0,567.0h0M144.5,550.0h0M151.6,548.5h0M155.7,549.0h0M149.1,533.1h0M143.9,566.5h0M151.7,543.0h0M138.4,556.7h0M139.9,578.1h0M151.2,539.4h0M137.7,543.0h0M110.2,570.1h0M111.6,572.0h0M111.6,576.6h0M108.7,572.6h0M110.2,574.3h0M111.5,573.7h0M125.6,590.2h0M125.6,585.3h0M126.4,588.0h0M126.4,590.5h0M127.6,581.1h0M125.1,590.7h0M126.8,589.8h0M126.8,587.6h0M126.0,582.0h0" stroke="#AA89E7" stroke-width="2.6" stroke-linecap="round" fill="none"/>
<path d="M144.3,566.1h0M137.7,569.0h0M150.8,535.8h0M140.5,536.8h0M145.2,575.4h0M131.0,532.6h0M132.3,549.5h0M122.5,537.3h0M141.2,547.2h0M141.5,551.3h0M143.7,564.8h0M134.9,542.3h0M134.4,534.6h0M134.5,551.7h0M143.1,533.8h0M158.1,553.1h0M131.7,543.5h0M130.5,552.0h0M127.4,549.2h0M153.9,545.9h0M140.1,542.3h0M167.3,545.4h0M126.8,539.0h0M164.7,552.4h0M136.1,540.8h0M125.9,551.3h0M131.4,537.6h0M143.9,545.3h0M163.9,552.9h0M144.0,574.1h0M134.0,558.8h0M151.4,560.6h0M128.4,551.1h0M135.4,560.3h0M150.9,538.7h0M155.0,554.6h0M141.3,534.8h0M136.6,566.8h0M126.1,545.0h0M125.3,537.5h0M124.4,545.7h0M151.2,564.0h0M146.8,572.8h0M148.7,562.9h0M138.1,554.6h0M130.0,547.0h0M141.8,545.6h0M133.1,536.1h0M130.0,547.1h0M121.3,537.1h0M133.8,538.6h0M137.7,557.6h0M151.8,534.8h0M138.0,558.4h0M144.7,568.8h0M119.6,545.4h0M150.0,537.5h0M144.7,549.7h0M109.3,576.5h0M109.8,575.3h0M126.0,584.4h0" stroke="#9D77EC" stroke-width="2.6" stroke-linecap="round" fill="none"/>
<path d="M142.6,575.7h0M143.3,574.4h0M138.5,560.7h0M147.5,571.3h0M157.2,557.4h0M138.8,561.2h0M156.7,549.5h0M144.8,558.5h0M146.0,571.7h0M150.8,563.0h0M141.1,575.6h0M137.8,571.6h0M154.3,550.4h0M139.0,568.4h0M136.6,560.2h0M135.1,572.0h0M145.2,574.5h0M143.2,558.8h0M149.0,557.8h0M142.7,573.8h0M145.5,560.4h0M145.0,577.8h0M145.7,576.5h0M141.1,565.5h0M145.7,564.3h0M147.6,559.3h0M149.9,568.9h0M137.2,560.6h0M156.5,551.6h0M157.5,556.4h0M145.5,573.5h0M126.0,602.0h0" stroke="#8E65F0" stroke-width="2.6" stroke-linecap="round" fill="none"/>
<path d="M153.4,563.4h0" stroke="#4926FB" stroke-width="2.6" stroke-linecap="round" fill="none"/>
<path d="M129.9,539.6h0M134.7,559.6h0M142.6,550.3h0M158.8,564.1h0M157.1,571.2h0M151.3,568.4h0M143.1,548.1h0M161.3,550.1h0M133.9,553.1h0M139.0,548.7h0M163.0,555.2h0M127.5,543.3h0M127.5,540.9h0M157.9,557.2h0M139.4,539.6h0M139.8,535.9h0M151.2,569.8h0M157.2,560.0h0M128.6,538.3h0M127.2,533.3h0M123.4,549.3h0M134.4,545.9h0M123.5,542.9h0M140.8,542.5h0M138.1,553.1h0M161.8,560.8h0M137.3,532.6h0M158.8,545.9h0M134.7,537.8h0M155.8,560.2h0M153.0,558.5h0M142.0,563.9h0M151.2,571.5h0M139.2,537.1h0M160.0,550.0h0M162.4,547.4h0M137.0,554.6h0M132.5,552.1h0M126.8,529.0h0M155.4,566.3h0M152.3,535.4h0M144.1,536.2h0M143.8,534.6h0M165.2,550.4h0M134.8,532.8h0M164.8,543.9h0M137.1,549.8h0M167.9,551.1h0M154.5,545.5h0M143.4,557.5h0M158.3,558.2h0M161.2,545.4h0M138.5,534.4h0M128.2,538.7h0M134.1,541.7h0M159.8,552.2h0M122.9,546.0h0M151.1,535.3h0M151.6,532.8h0M146.8,557.5h0M158.4,568.8h0M153.7,570.8h0M154.3,560.2h0M136.1,535.0h0M125.3,536.0h0M154.8,567.2h0M136.6,566.0h0M157.7,567.3h0M141.7,537.3h0M158.9,560.0h0M153.0,568.8h0M152.2,546.2h0M155.8,572.0h0M151.9,553.3h0M143.0,540.8h0M139.0,557.8h0M132.3,546.0h0M133.6,549.0h0M147.2,545.8h0M142.0,549.1h0M158.8,567.8h0M151.6,543.7h0M156.1,564.6h0M168.8,546.1h0M150.2,559.7h0M128.8,534.2h0M155.8,548.1h0M139.6,559.5h0M132.5,535.4h0M129.1,538.2h0M146.8,577.6h0M148.1,539.8h0M140.4,555.5h0M158.7,559.2h0M142.0,546.0h0M154.1,560.7h0M136.4,545.2h0M157.2,553.4h0M164.1,554.3h0M155.2,567.1h0M160.2,561.0h0M121.1,546.1h0M134.8,529.9h0M130.4,541.5h0M135.7,554.3h0M161.6,546.2h0M135.4,533.5h0M157.8,551.4h0M157.5,549.3h0M121.2,538.6h0M156.0,547.2h0M111.3,565.4h0M110.7,571.3h0M111.8,576.6h0M112.1,573.3h0M122.2,600.7h0M127.6,593.4h0M118.3,603.4h0M128.6,607.0h0M126.1,600.3h0M128.8,582.9h0M125.3,605.6h0M127.3,588.9h0M128.0,600.7h0M113.4,606.8h0M127.7,606.0h0M128.3,587.1h0M114.7,609.1h0M117.8,605.2h0M127.4,593.1h0M116.8,609.5h0M123.3,606.5h0M119.9,609.8h0M124.6,605.5h0M115.7,606.3h0M130.7,606.4h0M125.8,589.0h0M118.8,610.2h0M122.4,609.0h0M117.7,602.5h0M127.4,605.9h0M120.3,610.0h0M120.2,602.5h0M127.0,601.3h0M124.0,602.5h0M126.1,606.1h0M128.0,610.0h0M127.0,605.9h0M114.7,607.9h0M126.6,598.7h0M123.0,605.6h0M126.4,586.3h0M126.6,606.1h0M114.6,595.9h0M114.1,595.1h0" stroke="#D3D3D3" stroke-width="2.6" stroke-linecap="round" fill="none"/>
<circle cx="139.1" cy="568.4" r="9.85" fill="none" stroke="#E8101A" stroke-width="1.5" stroke-dasharray="1.3 1.3"/>
</g>
<path d="M513.4,691.0V789.2H630.5" fill="none" stroke="#333" stroke-width="1.1"/>
<path d="M546.5,789.2v3.7M592.5,789.2v3.7M513.4,705.6h-3.7M513.4,730.4h-3.7M513.4,755.1h-3.7M513.4,779.9h-3.7" fill="none" stroke="#333" stroke-width="1.1"/>
<text x="0.0" y="0.0" font-size="13" text-anchor="end" fill="#2a2a2a" transform="translate(506.8 710.9) scale(0.95 1)">5</text>
<text x="0.0" y="0.0" font-size="13" text-anchor="end" fill="#2a2a2a" transform="translate(506.8 735.7) scale(0.95 1)">0</text>
<text x="0.0" y="0.0" font-size="13" text-anchor="end" fill="#2a2a2a" transform="translate(506.8 760.4) scale(0.95 1)">-5</text>
<text x="0.0" y="0.0" font-size="13" text-anchor="end" fill="#2a2a2a" transform="translate(506.8 785.2) scale(0.95 1)">-10</text>
<text x="0.0" y="0.0" font-size="13" text-anchor="middle" fill="#2a2a2a" transform="translate(546.5 806.4) scale(0.95 1)">-10</text>
<text x="0.0" y="0.0" font-size="13" text-anchor="middle" fill="#2a2a2a" transform="translate(592.5 806.4) scale(0.95 1)">0</text>
<text x="570.4" y="822.3" font-size="14.5" text-anchor="middle">umap_1</text>
<text x="484.3" y="740.5" font-size="14.5" text-anchor="middle" transform="rotate(-90 484.3 740.5)">umap_2</text>
<rect x="645.4" y="701.8" width="15.2" height="77.5" fill="url(#cb)"/>
<text x="667.6" y="784.3" font-size="12" fill="#1a1a1a">0</text>
<text x="667.6" y="757.9" font-size="12" fill="#1a1a1a">1</text>
<text x="667.6" y="731.4" font-size="12" fill="#1a1a1a">2</text>
<path d="M645.4,752.8h2.8M657.8,752.8h2.8M645.4,726.4h2.8M657.8,726.4h2.8" stroke="#fff" stroke-width="0.9"/>
<text x="0.0" y="0.0" font-size="15.8" text-anchor="middle" font-weight="bold" transform="translate(117.5 851.8) scale(1.025 1)">POSTN</text>
<g transform="translate(0,340)">
<g fill="#D3D3D3" stroke="#D3D3D3" stroke-width="1" stroke-linejoin="round"><polygon points="126.6,528.5 129.2,529.2 132.5,529.5 136.5,529.9 140.4,531.2 142.4,532.5 145.7,533.1 148.3,532.1 151.6,532.1 154.2,533.1 155.1,535.8 153.8,538.4 153.2,541.0 154.9,543.0 155.5,545.6 158.8,545.0 162.8,543.6 165.4,543.4 168.0,545.0 170.0,547.6 170.6,550.2 169.3,552.8 168.0,555.5 166.7,557.4 164.1,559.4 162.8,562.0 161.4,565.3 160.4,568.6 159.1,572.6 156.2,574.1 153.6,573.2 151.6,571.9 149.6,570.6 148.3,571.9 147.6,574.5 147.0,577.8 145.7,580.0 143.0,580.0 139.8,578.7 136.5,576.8 134.9,572.6 134.5,568.6 134.9,564.7 134.5,560.7 133.6,558.1 132.5,554.8 131.2,552.8 127.3,552.6 124.6,552.2 122.0,551.5 120.7,549.6 119.8,546.3 119.1,543.0 119.4,539.7 120.7,537.1 124.0,535.5 125.7,533.1 125.7,530.5"/><polygon points="107.6,568.6 109.5,565.3 112.2,565.3 114.8,568.0 115.5,569.9 113.5,571.2 112.2,571.9 112.2,575.2 112.8,577.8 110.9,579.1 108.9,578.5 108.6,575.2 108.2,572.6 107.3,570.6"/><polygon points="124.4,581.1 126.6,580.2 128.9,581.8 129.6,584.4 128.9,588.3 128.2,592.3 128.2,596.2 128.6,600.1 129.6,604.1 131.5,607.4 130.6,610.7 127.9,611.3 125.3,610.7 122.7,611.3 119.4,612.0 115.5,612.6 111.5,612.6 110.5,610.7 111.5,608.0 114.1,605.4 116.8,602.8 119.4,601.5 122.0,600.1 123.6,597.5 124.4,593.6 124.6,589.6 124.4,585.7 124.0,583.1"/><polygon points="112.2,595.5 114.1,594.9 115.7,597.1 114.8,599.1 112.8,598.8"/></g>
<g fill="#fff"><polygon points="143.0,552.8 146.3,549.6 150.3,547.6 152.9,549.6 152.2,552.8 148.3,556.8 144.4,556.8"/><polygon points="148.3,566.0 151.6,564.0 154.9,563.4 156.2,565.3 153.6,567.3 150.3,568.0"/><polygon points="127.3,543.4 130.6,543.0 131.5,545.0 128.6,545.6"/></g>
<circle cx="66" cy="590.7" r="1.5" fill="#D3D3D3"/>
<path d="M164.2,554.5h0M123.0,543.8h0" stroke="#AA89E7" stroke-width="2.6" stroke-linecap="round" fill="none"/>
<path d="M143.3,541.2h0M133.4,538.9h0M137.8,536.0h0M123.8,544.1h0M151.2,558.9h0M152.9,542.0h0M156.7,548.5h0M156.0,551.2h0M154.4,560.6h0M148.6,539.6h0M142.4,540.6h0M128.2,543.3h0M134.9,556.5h0M125.9,590.8h0M124.8,581.6h0" stroke="#9D77EC" stroke-width="2.6" stroke-linecap="round" fill="none"/>
<path d="M147.7,560.5h0M138.1,576.8h0M141.2,558.3h0M158.3,558.1h0M145.5,558.8h0M138.2,555.8h0M132.1,546.9h0M122.3,542.0h0M138.2,568.9h0M134.7,557.4h0M137.2,564.3h0M136.3,568.2h0M119.3,541.9h0M144.5,539.3h0M122.9,542.9h0M146.2,567.1h0M153.4,561.6h0M132.5,553.8h0M143.8,560.2h0M164.2,556.0h0M159.6,557.0h0M135.5,572.6h0M133.7,530.0h0M141.1,543.3h0M151.8,559.5h0M142.6,562.3h0M112.0,569.5h0M108.8,577.0h0M121.6,601.2h0" stroke="#8E65F0" stroke-width="2.6" stroke-linecap="round" fill="none"/>
<path d="M146.9,563.5h0M150.6,558.9h0M154.9,550.8h0M158.2,555.1h0M141.0,560.6h0M157.4,554.5h0M142.5,573.4h0M145.1,574.9h0M131.9,547.5h0M137.2,567.2h0M144.7,576.9h0M151.6,557.0h0M136.9,574.3h0M138.1,563.1h0M140.6,540.9h0M142.5,561.8h0M151.2,557.8h0M142.1,577.6h0M141.9,573.8h0M147.2,559.7h0M144.7,567.9h0M140.3,565.5h0M143.8,569.7h0M143.1,578.0h0M140.6,539.2h0M142.7,561.4h0M141.8,537.4h0M144.2,546.4h0M110.2,574.6h0M109.1,578.2h0M110.0,578.1h0" stroke="#7C51F4" stroke-width="2.6" stroke-linecap="round" fill="none"/>
<path d="M137.2,572.0h0M141.8,562.0h0M149.7,558.1h0M139.8,578.7h0M146.6,578.5h0M149.8,561.8h0M139.4,568.6h0M143.9,564.9h0M153.2,550.2h0M135.6,572.7h0M150.2,559.0h0M144.2,573.4h0M156.5,550.7h0M136.6,564.5h0M142.7,577.8h0M137.3,564.2h0M154.0,563.3h0M136.5,563.1h0M136.9,559.1h0" stroke="#673DF8" stroke-width="2.6" stroke-linecap="round" fill="none"/>
<path d="M152.9,567.5h0M156.3,568.0h0M157.3,571.7h0" stroke="#4926FB" stroke-width="2.6" stroke-linecap="round" fill="none"/>
<path d="M155.9,564.0h0" stroke="#0000FF" stroke-width="2.6" stroke-linecap="round" fill="none"/>
<path d="M136.5,544.5h0M136.9,546.8h0M135.4,537.7h0M151.6,569.1h0M143.8,543.5h0M159.0,564.3h0M152.6,558.4h0M161.0,561.6h0M138.5,550.8h0M142.0,543.6h0M134.4,555.8h0M164.9,556.6h0M124.7,548.1h0M164.3,553.3h0M150.7,546.5h0M143.1,533.7h0M145.9,546.6h0M134.9,531.2h0M135.0,551.7h0M133.8,531.8h0M146.4,537.4h0M162.0,553.8h0M154.8,563.1h0M123.6,546.9h0M139.2,537.7h0M156.6,550.0h0M157.1,570.6h0M147.1,547.9h0M143.8,546.8h0M162.8,555.3h0M158.6,547.1h0M143.3,543.3h0M150.0,535.6h0M126.2,546.6h0M139.1,560.9h0M161.6,554.0h0M162.6,558.5h0M165.3,554.6h0M146.8,532.9h0M166.5,545.3h0M132.3,552.8h0M159.9,568.3h0M163.0,560.3h0M139.9,551.8h0M153.1,562.4h0M160.5,551.8h0M162.7,557.9h0M167.1,549.2h0M135.2,541.3h0M156.7,566.2h0M149.2,540.3h0M142.1,557.4h0M143.7,556.2h0M143.7,545.5h0M146.1,542.4h0M141.1,555.4h0M124.5,540.8h0M129.9,540.6h0M124.0,538.6h0M144.5,537.3h0M132.3,529.9h0M159.8,558.8h0M154.3,548.5h0M132.4,554.0h0M158.5,565.1h0M128.6,550.8h0M126.5,534.4h0M147.0,541.9h0M161.7,557.3h0M162.1,562.0h0M132.0,548.0h0M138.9,557.4h0M165.2,553.9h0M150.3,544.0h0M155.3,567.3h0M129.5,535.7h0M162.5,553.8h0M157.8,555.9h0M156.5,565.6h0M159.4,557.5h0M157.5,557.3h0M136.2,535.0h0M128.3,549.5h0M145.4,547.5h0M155.5,546.5h0M149.7,564.8h0M157.6,571.5h0M146.5,538.7h0M141.7,546.1h0M141.2,554.6h0M127.0,534.4h0M142.4,555.9h0M122.3,549.3h0M134.4,532.5h0M169.0,549.5h0M122.7,544.0h0M154.3,571.7h0M164.3,544.8h0M140.4,536.1h0M155.8,546.1h0M136.7,540.9h0M122.4,545.2h0M160.0,551.4h0M126.8,539.8h0M169.6,549.3h0M166.8,552.2h0M154.8,569.2h0M153.1,553.0h0M120.6,538.6h0M123.6,538.3h0M127.3,530.5h0M126.1,538.9h0M128.3,546.9h0M152.2,536.6h0M140.5,534.5h0M128.1,534.1h0M126.3,536.0h0M146.7,540.5h0M136.2,557.1h0M131.5,551.1h0M169.9,551.2h0M140.3,550.1h0M131.4,534.3h0M129.2,547.7h0M162.2,546.3h0M151.3,547.9h0M127.3,532.8h0M129.0,532.5h0M130.0,550.1h0M167.3,555.0h0M123.9,542.6h0M167.4,549.1h0M135.3,539.1h0M164.9,549.5h0M125.5,544.5h0M145.5,534.3h0M149.4,537.0h0M144.4,539.0h0M167.1,554.6h0M163.8,544.6h0M127.7,530.2h0M151.8,537.5h0M120.0,541.3h0M140.2,535.7h0M141.2,536.5h0M142.8,552.3h0M162.2,558.6h0M153.0,541.2h0M126.6,535.8h0M129.4,539.1h0M162.4,552.6h0M127.6,543.2h0M155.6,566.0h0M144.7,549.7h0M145.4,543.7h0M155.0,572.9h0M165.0,550.1h0M153.0,569.1h0M156.6,554.1h0M130.7,547.0h0M162.6,554.0h0M131.0,545.9h0M113.4,567.3h0M111.4,568.9h0M111.8,572.5h0M108.3,571.7h0M112.7,568.9h0M109.7,567.7h0M111.9,569.7h0M128.5,602.9h0M122.4,602.1h0M117.0,608.2h0M115.3,610.8h0M123.0,600.8h0M118.1,607.3h0M120.7,606.4h0M119.9,605.2h0M121.2,606.1h0M127.0,592.5h0M126.5,596.9h0M119.2,603.8h0M115.3,605.2h0M128.5,609.1h0M126.2,610.3h0M113.8,612.1h0M115.2,611.2h0M127.0,589.1h0M120.2,604.4h0M114.8,605.7h0M115.9,605.3h0M111.9,610.0h0M113.5,606.5h0M118.5,610.4h0M127.8,593.4h0M127.8,599.4h0M126.9,602.3h0M116.5,603.1h0M117.1,607.3h0M120.6,609.2h0M126.1,589.6h0M129.3,607.7h0M124.7,590.4h0M122.4,609.2h0M125.7,582.9h0M122.9,606.9h0M113.0,608.4h0M126.6,602.6h0M127.4,601.0h0M121.7,601.1h0M124.0,605.6h0M125.8,587.2h0M118.9,607.6h0M117.3,609.8h0M125.4,610.2h0M117.5,605.1h0M114.3,597.9h0" stroke="#D3D3D3" stroke-width="2.6" stroke-linecap="round" fill="none"/>
<path d="M125.1,544.6h0M122.1,540.3h0M127.8,542.4h0M128.5,551.5h0" stroke="#AA89E7" stroke-width="2.6" stroke-linecap="round" fill="none"/>
<path d="M123.2,536.2h0M142.7,551.1h0M126.8,550.4h0M140.9,548.1h0M136.8,536.4h0M125.2,541.3h0M144.8,538.9h0M125.3,543.8h0M151.4,559.4h0M125.1,544.0h0M158.5,559.0h0M139.2,547.8h0M107.8,570.1h0M119.3,606.8h0" stroke="#9D77EC" stroke-width="2.6" stroke-linecap="round" fill="none"/>
<path d="M147.1,558.1h0M148.8,566.8h0M127.1,536.7h0M131.8,531.7h0M144.6,557.7h0M152.6,537.5h0M137.6,543.9h0M147.3,558.9h0M156.8,551.0h0M121.1,537.3h0M138.5,568.8h0M131.7,544.3h0M144.8,577.8h0M132.9,549.5h0M147.3,546.3h0M146.4,557.1h0M134.0,556.3h0M157.6,557.1h0M143.3,564.6h0M154.1,562.6h0M139.3,557.2h0M121.7,550.3h0M131.4,535.3h0M134.1,533.9h0M151.9,553.8h0M137.4,567.9h0M113.3,568.0h0M113.6,570.0h0M109.7,565.9h0" stroke="#8E65F0" stroke-width="2.6" stroke-linecap="round" fill="none"/>
<path d="M146.2,568.5h0M141.2,558.2h0M145.8,535.4h0M135.8,569.6h0M141.9,570.6h0M155.7,551.5h0M138.8,543.5h0M138.9,561.3h0M140.8,571.7h0M139.2,572.7h0M141.7,560.1h0M129.2,533.8h0M145.1,562.6h0M143.5,563.8h0M132.9,539.1h0M145.3,570.3h0M142.7,564.5h0M143.7,538.9h0M135.2,566.5h0M145.7,569.9h0M134.4,533.2h0M141.0,560.3h0M145.6,562.5h0M143.2,565.3h0M139.2,546.5h0M142.4,573.8h0M160.3,559.1h0M143.1,551.1h0M145.3,559.8h0M135.3,530.0h0M137.2,572.5h0M146.6,558.7h0M137.5,574.2h0M150.3,569.6h0M135.8,541.4h0M113.9,569.7h0" stroke="#7C51F4" stroke-width="2.6" stroke-linecap="round" fill="none"/>
<path d="M143.0,570.6h0M146.8,569.7h0M149.0,567.7h0M135.5,572.3h0M138.4,563.8h0M136.5,559.0h0M142.6,568.1h0M142.4,562.4h0M136.6,560.0h0M150.3,562.3h0M143.2,576.9h0M146.5,562.9h0M146.1,563.2h0M159.8,565.2h0M154.1,550.5h0M147.5,559.4h0M157.6,570.5h0M140.4,570.8h0M137.9,564.7h0" stroke="#673DF8" stroke-width="2.6" stroke-linecap="round" fill="none"/>
<path d="M159.4,571.1h0M157.1,570.3h0M157.4,566.8h0M158.9,565.2h0" stroke="#4926FB" stroke-width="2.6" stroke-linecap="round" fill="none"/>
<path d="M165.2,543.9h0M161.3,553.3h0M124.6,550.9h0M139.9,536.1h0M153.3,567.7h0M167.4,553.1h0M143.4,540.2h0M133.5,549.7h0M138.2,535.9h0M169.2,548.1h0M143.0,547.1h0M143.8,556.8h0M139.0,535.6h0M157.3,548.9h0M154.6,563.2h0M137.9,544.6h0M165.4,553.8h0M139.9,555.9h0M158.5,557.2h0M149.8,533.9h0M148.1,546.9h0M121.1,537.3h0M128.6,548.6h0M139.0,534.1h0M141.0,555.8h0M160.5,565.3h0M121.7,550.2h0M120.0,541.5h0M141.5,559.1h0M153.5,534.9h0M128.6,550.6h0M140.7,554.5h0M134.7,537.1h0M131.8,542.1h0M149.5,534.6h0M165.6,552.5h0M134.3,534.1h0M124.5,550.0h0M141.7,542.6h0M160.9,555.8h0M158.2,559.7h0M125.3,539.0h0M141.5,544.3h0M122.5,546.0h0M142.0,538.4h0M146.8,537.3h0M154.0,534.9h0M124.1,546.3h0M128.2,551.5h0M166.1,557.2h0M168.4,553.6h0M119.4,544.1h0M123.2,538.2h0M130.9,543.0h0M132.5,547.3h0M124.6,551.2h0M142.5,544.5h0M163.0,553.4h0M137.0,546.3h0M157.2,567.3h0M137.6,551.0h0M149.1,559.4h0M139.2,535.0h0M153.9,544.9h0M143.4,542.5h0M127.7,541.4h0M141.7,532.4h0M158.1,547.5h0M132.4,533.7h0M142.8,550.2h0M147.7,537.6h0M134.5,552.8h0M142.4,540.9h0M126.8,534.0h0M144.4,548.9h0M151.3,548.1h0M136.0,556.5h0M153.6,542.7h0M145.5,547.1h0M130.4,545.3h0M140.8,534.8h0M152.0,538.6h0M156.9,564.3h0M161.9,552.9h0M129.1,548.1h0M139.7,538.3h0M161.6,548.5h0M121.9,546.3h0M122.7,546.1h0M144.6,540.9h0M147.0,540.3h0M152.5,570.0h0M140.7,574.8h0M168.2,552.1h0M148.0,538.2h0M161.4,551.5h0M126.1,545.8h0M126.3,546.6h0M146.8,541.8h0M129.2,534.0h0M148.7,545.5h0M149.1,559.6h0M126.4,545.7h0M154.6,549.9h0M159.5,548.3h0M169.4,547.1h0M162.3,553.6h0M157.1,547.8h0M135.4,555.5h0M144.4,557.5h0M124.5,548.6h0M147.0,542.1h0M144.6,536.5h0M147.0,538.6h0M167.2,551.2h0M159.4,546.4h0M155.1,561.4h0M146.0,542.5h0M150.5,533.5h0M167.6,551.1h0M135.3,537.3h0M142.9,551.7h0M143.9,534.2h0M145.5,539.9h0M151.7,532.4h0M141.6,541.2h0M147.0,569.3h0M122.9,538.3h0M142.3,540.4h0M131.5,535.0h0M159.3,561.3h0M138.7,537.1h0M135.1,544.6h0M138.4,541.2h0M165.4,555.7h0M145.4,544.3h0M126.4,529.6h0M149.3,542.1h0M152.0,571.5h0M136.2,538.7h0M158.2,566.8h0M165.4,550.1h0M134.5,541.9h0M133.7,548.8h0M135.4,569.7h0M129.0,543.0h0M148.2,544.4h0M139.4,543.2h0M134.7,540.6h0M140.0,541.3h0M133.0,549.0h0M138.6,543.8h0M122.1,546.5h0M167.4,548.4h0M111.3,577.1h0M112.4,566.4h0M111.9,567.9h0M107.6,569.0h0M111.8,576.6h0M114.0,570.4h0M127.5,594.2h0M127.5,611.2h0M124.7,607.0h0M119.3,610.7h0M118.2,610.6h0M117.1,606.1h0M127.8,603.5h0M122.4,610.5h0M122.4,608.1h0M123.4,607.2h0M125.5,594.9h0M126.1,586.5h0M128.1,608.2h0M117.1,611.4h0M126.6,605.1h0M112.0,610.0h0M124.9,609.3h0M127.6,596.7h0M125.3,607.4h0M113.5,611.4h0M129.7,609.9h0M122.4,603.1h0M126.4,594.9h0M121.9,606.7h0M124.1,600.7h0M127.8,586.4h0M123.9,606.7h0M116.3,610.3h0M117.9,611.6h0M122.0,601.4h0M121.6,603.4h0M118.6,610.8h0M125.4,588.6h0M117.1,603.9h0M127.1,590.0h0M128.2,603.5h0M116.6,612.3h0M117.5,602.8h0M128.5,600.5h0M118.4,603.5h0M114.4,610.3h0M127.4,601.0h0M119.2,607.3h0M123.7,598.4h0M125.1,586.8h0M120.4,603.0h0M122.4,610.1h0M128.2,598.6h0M112.9,598.4h0M113.1,598.3h0" stroke="#D3D3D3" stroke-width="2.6" stroke-linecap="round" fill="none"/>
<path d="M129.1,550.0h0M125.6,536.9h0M123.4,543.3h0" stroke="#AA89E7" stroke-width="2.6" stroke-linecap="round" fill="none"/>
<path d="M157.5,559.0h0M132.5,547.0h0M127.5,545.6h0M132.8,541.5h0M129.1,552.6h0M143.7,537.0h0M148.5,559.1h0M134.0,548.9h0M141.4,539.9h0M156.9,553.0h0M111.7,577.4h0M126.7,590.9h0M127.0,585.8h0" stroke="#9D77EC" stroke-width="2.6" stroke-linecap="round" fill="none"/>
<path d="M150.7,533.4h0M149.8,557.6h0M144.7,578.1h0M138.3,568.5h0M150.6,569.4h0M154.5,551.6h0M152.7,548.4h0M136.0,541.4h0M153.0,557.5h0M144.8,567.4h0M137.9,576.7h0M136.4,537.1h0M135.0,562.8h0M139.3,575.5h0M145.7,569.6h0M158.3,561.6h0M158.1,550.3h0M152.0,539.6h0M158.1,557.1h0M138.2,562.8h0M154.4,548.0h0M157.6,551.5h0M149.7,556.6h0M153.0,546.0h0M111.7,569.6h0" stroke="#8E65F0" stroke-width="2.6" stroke-linecap="round" fill="none"/>
<path d="M135.4,553.3h0M134.3,551.9h0M144.8,546.0h0M135.5,537.9h0M138.4,548.4h0M154.6,557.0h0M142.2,566.5h0M140.2,545.5h0M152.0,553.7h0M158.6,556.5h0M156.3,550.6h0M134.7,559.8h0M148.8,534.4h0M159.8,558.2h0M140.1,560.8h0M147.3,543.2h0M148.1,564.0h0M143.4,543.5h0M134.9,542.1h0M143.1,537.2h0M142.4,572.1h0M136.2,562.7h0M148.3,547.4h0M138.4,574.2h0M145.2,574.3h0M151.7,546.1h0M158.3,552.6h0M137.2,567.1h0M141.0,575.0h0M152.6,553.1h0M148.2,563.0h0M142.4,573.5h0M150.3,556.3h0M108.9,571.1h0M109.3,566.1h0M121.3,600.9h0" stroke="#7C51F4" stroke-width="2.6" stroke-linecap="round" fill="none"/>
<path d="M137.8,564.8h0M152.5,569.6h0M143.4,577.2h0M137.8,559.1h0M144.8,564.4h0M140.4,573.6h0M136.2,563.8h0M153.8,555.4h0M144.5,568.9h0M149.0,561.7h0M137.6,563.9h0M146.8,572.7h0M142.8,568.0h0M136.3,565.9h0M157.4,571.9h0M139.6,567.1h0M143.3,566.9h0M146.6,570.4h0M144.0,578.5h0M143.6,573.2h0M136.8,560.9h0M155.3,571.2h0M145.6,559.9h0M140.7,576.7h0" stroke="#673DF8" stroke-width="2.6" stroke-linecap="round" fill="none"/>
<path d="M150.9,568.3h0" stroke="#4926FB" stroke-width="2.6" stroke-linecap="round" fill="none"/>
<path d="M119.8,539.7h0M137.7,537.1h0M123.8,546.1h0M127.5,531.0h0M159.3,558.5h0M149.8,541.9h0M132.9,536.5h0M155.6,561.1h0M144.8,545.6h0M141.4,544.7h0M131.2,547.7h0M130.6,534.5h0M161.9,561.9h0M129.6,530.6h0M143.2,543.1h0M131.7,531.1h0M123.5,544.7h0M161.3,544.7h0M138.4,533.6h0M156.6,564.7h0M125.8,546.9h0M125.2,544.9h0M161.1,550.1h0M137.2,541.3h0M160.2,545.2h0M135.5,529.9h0M157.9,563.0h0M165.7,544.1h0M162.4,553.1h0M122.5,539.2h0M122.9,542.5h0M142.7,548.3h0M127.8,552.1h0M129.8,551.9h0M164.3,551.1h0M156.3,560.0h0M127.1,539.7h0M130.8,529.9h0M141.2,539.3h0M126.3,531.3h0M126.0,539.0h0M153.9,546.0h0M157.0,547.7h0M160.5,553.1h0M124.3,547.6h0M154.8,572.8h0M162.1,545.3h0M141.1,551.2h0M142.0,536.3h0M136.8,539.3h0M133.8,542.2h0M141.1,535.3h0M157.6,566.0h0M142.5,543.3h0M133.2,555.6h0M122.5,537.6h0M138.9,558.1h0M149.6,545.1h0M130.9,539.1h0M143.1,556.6h0M135.2,542.9h0M144.8,543.7h0M165.2,551.3h0M141.9,557.7h0M126.8,544.7h0M119.5,544.3h0M167.9,553.0h0M165.0,558.3h0M127.9,540.1h0M144.7,550.3h0M149.0,544.1h0M129.6,539.9h0M146.0,541.7h0M133.0,550.0h0M132.0,535.1h0M133.5,546.3h0M129.3,551.3h0M157.2,547.7h0M154.3,550.6h0M143.1,545.3h0M143.2,556.8h0M139.1,571.0h0M144.8,535.3h0M158.3,546.0h0M121.0,543.1h0M124.2,539.0h0M134.7,548.4h0M125.6,540.2h0M166.8,555.7h0M155.7,546.8h0M141.2,554.7h0M163.7,546.3h0M145.2,538.5h0M145.0,549.4h0M124.0,547.7h0M164.8,554.8h0M138.0,531.5h0M144.4,550.7h0M135.1,539.7h0M134.1,557.5h0M154.2,570.3h0M132.0,531.0h0M155.0,567.2h0M152.3,570.8h0M162.0,558.4h0M142.0,557.9h0M128.1,546.6h0M150.8,544.8h0M121.9,550.2h0M146.8,542.3h0M128.9,548.1h0M162.2,558.7h0M164.3,545.6h0M143.5,549.8h0M157.0,550.5h0M150.4,539.3h0M128.5,537.3h0M143.4,555.2h0M133.9,537.6h0M162.8,556.3h0M137.3,540.3h0M159.8,569.7h0M167.4,550.6h0M130.0,540.6h0M155.7,572.4h0M158.6,562.0h0M141.8,552.6h0M134.9,538.4h0M148.8,544.4h0M164.7,554.3h0M137.8,546.0h0M157.9,564.2h0M144.9,549.0h0M122.4,550.1h0M153.2,563.5h0M145.6,545.3h0M152.8,548.0h0M156.6,549.2h0M156.5,558.1h0M135.2,536.4h0M165.2,548.9h0M130.2,539.4h0M127.8,551.2h0M133.8,544.3h0M166.4,553.0h0M165.6,552.1h0M121.2,541.4h0M128.1,542.0h0M128.8,540.4h0M168.8,547.4h0M131.8,551.0h0M130.9,542.7h0M139.2,531.4h0M144.0,543.3h0M128.0,534.6h0M153.9,545.9h0M155.1,559.8h0M137.8,534.2h0M109.5,578.0h0M108.4,568.0h0M108.4,573.1h0M109.6,574.0h0M114.6,567.9h0M108.9,573.1h0M109.4,571.9h0M113.1,570.7h0M129.2,610.4h0M122.7,605.5h0M122.1,611.0h0M122.0,602.5h0M121.7,608.9h0M127.6,609.2h0M124.9,605.2h0M125.4,590.5h0M130.3,606.4h0M128.1,593.7h0M114.9,606.8h0M112.5,610.2h0M116.9,607.3h0M127.5,602.9h0M114.4,611.7h0M126.8,587.2h0M126.7,601.3h0M120.5,600.9h0M122.2,611.4h0M127.5,589.6h0M112.3,611.4h0M129.0,608.4h0M127.6,605.0h0M111.9,608.3h0M120.4,609.0h0M123.0,607.5h0M122.3,605.0h0M129.8,607.2h0M114.5,605.1h0M126.4,609.8h0M126.5,608.5h0M122.5,608.3h0M125.8,597.9h0M113.9,610.9h0M123.2,601.3h0M125.7,601.6h0M125.3,590.6h0M125.0,603.8h0M126.5,590.0h0M117.3,609.7h0M118.7,611.4h0M130.7,606.7h0M120.5,606.2h0M126.6,610.5h0M125.6,586.1h0M124.8,581.3h0M114.1,598.5h0M114.4,595.4h0" stroke="#D3D3D3" stroke-width="2.6" stroke-linecap="round" fill="none"/>
<path d="M123.9,546.2h0M127.2,536.5h0M120.5,545.6h0M128.7,586.2h0" stroke="#AA89E7" stroke-width="2.6" stroke-linecap="round" fill="none"/>
<path d="M160.6,550.9h0M139.6,531.6h0M138.8,535.2h0M121.1,548.4h0M133.7,545.7h0M152.3,540.3h0M121.5,540.1h0M154.2,552.9h0M152.0,557.6h0M149.0,542.7h0M150.8,561.6h0M134.0,537.2h0M151.7,546.3h0M159.5,556.9h0M125.9,590.1h0M115.1,610.5h0" stroke="#9D77EC" stroke-width="2.6" stroke-linecap="round" fill="none"/>
<path d="M136.6,576.1h0M153.4,550.2h0M129.1,530.4h0M152.3,559.6h0M138.4,552.2h0M159.8,558.2h0M156.8,554.6h0M126.9,528.9h0M142.7,542.9h0M156.2,553.8h0M153.4,558.6h0M143.4,559.5h0M138.1,560.3h0M152.7,560.9h0M154.1,555.5h0M143.3,578.1h0M146.6,578.3h0M154.5,561.8h0M139.7,571.9h0M148.9,565.1h0M155.8,553.0h0M142.2,579.0h0M141.3,534.6h0M127.8,532.9h0M113.7,567.4h0M108.3,572.5h0M120.2,607.7h0M113.5,609.4h0" stroke="#8E65F0" stroke-width="2.6" stroke-linecap="round" fill="none"/>
<path d="M140.0,540.8h0M137.0,561.7h0M151.3,546.8h0M156.0,547.8h0M148.1,559.6h0M151.5,561.5h0M149.9,567.6h0M152.7,556.3h0M152.9,553.8h0M136.8,534.0h0M141.6,569.7h0M137.1,567.5h0M139.0,566.0h0M142.0,561.5h0M145.5,541.5h0M153.5,548.8h0M138.9,570.5h0M136.7,559.2h0M137.7,560.0h0M135.4,550.0h0M140.1,572.6h0M141.7,578.1h0M143.4,550.5h0M140.8,563.7h0M113.0,570.2h0" stroke="#7C51F4" stroke-width="2.6" stroke-linecap="round" fill="none"/>
<path d="M144.0,575.5h0M144.0,574.0h0M154.5,571.7h0M140.9,578.6h0M145.6,575.8h0M154.2,552.3h0M141.7,573.8h0M135.0,568.6h0M138.2,558.6h0M144.3,577.1h0M145.9,558.7h0M146.5,564.6h0M148.3,569.8h0M142.2,558.8h0M138.8,567.0h0M140.5,568.4h0M144.7,577.8h0M147.0,575.3h0M149.5,567.4h0M137.9,566.9h0M137.7,559.3h0M139.7,569.0h0M149.1,563.3h0" stroke="#673DF8" stroke-width="2.6" stroke-linecap="round" fill="none"/>
<path d="M159.6,561.2h0M157.2,573.2h0M151.1,569.1h0M157.2,571.0h0" stroke="#4926FB" stroke-width="2.6" stroke-linecap="round" fill="none"/>
<path d="M154.3,567.8h0" stroke="#0000FF" stroke-width="2.6" stroke-linecap="round" fill="none"/>
<path d="M150.9,535.1h0M126.6,531.9h0M157.7,572.1h0M169.4,551.9h0M123.7,542.6h0M133.6,553.6h0M147.2,546.0h0M150.5,546.6h0M140.5,545.0h0M121.0,541.5h0M159.9,562.7h0M167.5,547.8h0M155.9,562.3h0M164.9,553.3h0M132.2,542.8h0M129.5,529.8h0M156.9,565.5h0M144.2,558.0h0M125.8,532.8h0M140.8,544.7h0M150.7,540.4h0M166.3,552.3h0M162.9,560.4h0M154.3,573.0h0M135.2,548.3h0M154.1,555.4h0M124.3,538.5h0M158.3,565.7h0M139.0,576.6h0M141.9,552.8h0M122.9,548.2h0M152.3,547.9h0M146.4,548.6h0M136.8,535.9h0M126.2,531.2h0M150.7,539.9h0M129.7,533.1h0M126.6,542.3h0M156.1,549.7h0M148.2,543.5h0M167.5,552.5h0M126.0,537.2h0M160.1,568.1h0M123.7,539.9h0M154.3,568.2h0M149.7,533.4h0M133.5,551.7h0M161.5,554.4h0M154.9,554.8h0M153.1,541.1h0M133.7,530.4h0M139.4,544.9h0M137.0,553.0h0M120.7,542.4h0M132.4,553.3h0M135.5,554.3h0M137.4,541.4h0M164.1,544.9h0M143.1,575.4h0M138.0,536.1h0M121.7,550.5h0M163.7,553.4h0M145.7,547.7h0M129.1,539.8h0M127.2,529.6h0M132.8,545.6h0M143.4,547.7h0M137.1,535.2h0M160.7,556.0h0M136.9,541.0h0M143.0,539.4h0M167.0,552.8h0M129.1,537.1h0M145.3,536.8h0M162.2,561.6h0M164.4,547.7h0M155.5,549.0h0M143.0,540.5h0M160.2,548.7h0M134.4,537.4h0M130.0,549.0h0M163.9,550.4h0M135.1,551.2h0M159.5,554.7h0M131.8,538.8h0M163.2,558.9h0M151.6,560.2h0M150.0,536.9h0M141.1,548.8h0M122.8,551.0h0M119.5,543.9h0M151.1,538.7h0M153.7,542.5h0M129.2,536.3h0M136.2,530.7h0M152.1,539.8h0M141.2,538.1h0M132.7,530.0h0M155.4,557.7h0M155.8,550.0h0M140.1,535.2h0M130.8,539.3h0M145.5,537.6h0M152.2,544.8h0M123.9,548.3h0M159.8,555.4h0M132.5,553.4h0M131.3,536.2h0M146.7,548.6h0M139.7,548.2h0M166.3,549.9h0M148.7,559.0h0M134.8,530.7h0M137.8,540.9h0M150.4,545.6h0M127.8,529.4h0M166.1,556.2h0M152.4,546.8h0M138.0,555.5h0M145.8,547.6h0M123.3,545.9h0M165.6,552.9h0M153.2,535.0h0M125.4,534.4h0M154.3,533.7h0M142.7,540.0h0M150.2,560.7h0M144.0,550.3h0M167.9,550.2h0M147.0,542.3h0M122.9,536.8h0M153.5,534.0h0M136.0,536.8h0M130.3,546.2h0M153.5,533.1h0M148.5,534.0h0M151.0,569.5h0M135.0,532.3h0M159.8,551.7h0M138.1,544.0h0M165.2,556.3h0M159.5,545.6h0M131.3,535.7h0M134.0,556.5h0M120.1,540.1h0M137.3,545.4h0M135.6,542.2h0M149.8,541.9h0M132.2,542.2h0M154.4,567.5h0M153.6,553.4h0M143.7,546.9h0M135.3,543.9h0M137.4,548.1h0M148.2,544.1h0M167.8,550.5h0M120.4,543.5h0M151.5,534.1h0M140.5,537.6h0M152.0,544.1h0M112.3,571.5h0M113.6,568.3h0M110.8,570.0h0M112.0,566.4h0M113.7,569.0h0M110.5,578.1h0M109.2,577.9h0M111.6,573.8h0M111.6,571.4h0M123.3,610.2h0M128.3,597.9h0M115.0,606.4h0M128.5,605.4h0M114.4,612.5h0M117.2,602.9h0M122.5,604.6h0M122.8,609.0h0M116.0,608.8h0M127.1,609.1h0M128.7,585.7h0M129.5,604.8h0M114.8,609.4h0M127.7,593.9h0M113.4,608.9h0M127.0,592.3h0M127.7,606.4h0M121.9,608.5h0M116.6,603.1h0M126.1,600.1h0M127.2,608.3h0M128.3,609.7h0M124.6,601.5h0M125.8,583.0h0M113.3,607.2h0M125.2,603.3h0M115.3,612.6h0M127.7,603.2h0M126.0,600.0h0M114.1,612.0h0M126.6,610.5h0M127.6,595.2h0M122.4,608.1h0M118.1,606.4h0M117.3,603.4h0M114.0,607.0h0M126.5,582.4h0M121.2,609.2h0M112.2,610.4h0M126.1,584.9h0M117.9,609.6h0M125.7,584.4h0M118.6,610.5h0M119.1,604.2h0M114.7,598.4h0M114.5,596.1h0" stroke="#D3D3D3" stroke-width="2.6" stroke-linecap="round" fill="none"/>
<path d="M131.7,532.9h0M123.9,546.9h0M129.3,529.5h0M140.8,549.9h0M127.4,549.2h0M125.9,551.3h0M153.5,558.3h0M156.8,560.9h0M133.0,551.2h0M155.7,549.0h0M151.7,543.0h0M138.4,556.7h0M151.2,539.4h0M111.6,576.6h0M125.6,585.3h0M126.4,590.5h0M125.1,590.7h0M126.8,589.8h0M126.8,587.6h0M126.0,582.0h0" stroke="#9D77EC" stroke-width="2.6" stroke-linecap="round" fill="none"/>
<path d="M138.0,558.3h0M146.6,545.9h0M131.0,532.6h0M142.8,562.0h0M143.1,533.8h0M142.0,575.8h0M158.1,553.1h0M136.0,563.9h0M135.6,560.7h0M131.7,550.3h0M167.3,545.4h0M144.3,575.1h0M129.9,540.7h0M151.4,560.6h0M132.4,551.9h0M155.0,554.6h0M141.1,577.8h0M141.0,567.0h0M143.9,566.5h0M139.9,578.1h0M111.5,573.7h0M126.0,584.4h0" stroke="#8E65F0" stroke-width="2.6" stroke-linecap="round" fill="none"/>
<path d="M144.3,566.1h0M137.7,569.0h0M140.5,536.8h0M145.2,575.4h0M141.5,551.3h0M143.7,564.8h0M157.2,557.4h0M131.7,543.5h0M140.1,542.3h0M144.0,574.1h0M134.0,558.8h0M135.4,560.3h0M141.3,534.8h0M136.6,566.8h0M151.2,564.0h0M146.8,572.8h0M148.7,562.9h0M138.1,554.6h0M130.0,547.0h0M138.0,558.4h0M144.7,568.8h0M109.8,575.3h0M126.0,602.0h0" stroke="#7C51F4" stroke-width="2.6" stroke-linecap="round" fill="none"/>
<path d="M134.7,559.6h0M142.6,575.7h0M143.3,574.4h0M138.5,560.7h0M147.5,571.3h0M138.8,561.2h0M156.7,549.5h0M144.8,558.5h0M146.0,571.7h0M150.8,563.0h0M141.1,575.6h0M137.8,571.6h0M136.6,566.0h0M154.3,550.4h0M139.0,568.4h0M136.6,560.2h0M135.1,572.0h0M158.8,567.8h0M145.2,574.5h0M143.2,558.8h0M149.0,557.8h0M142.7,573.8h0M145.5,560.4h0M145.0,577.8h0M145.7,576.5h0M141.1,565.5h0M145.7,564.3h0M147.6,559.3h0M149.9,568.9h0M137.2,560.6h0M156.5,551.6h0M157.5,556.4h0M145.5,573.5h0" stroke="#673DF8" stroke-width="2.6" stroke-linecap="round" fill="none"/>
<path d="M151.3,568.4h0M155.2,567.1h0M153.4,563.4h0" stroke="#4926FB" stroke-width="2.6" stroke-linecap="round" fill="none"/>
<path d="M157.1,571.2h0M154.8,567.2h0" stroke="#0000FF" stroke-width="2.6" stroke-linecap="round" fill="none"/>
<path d="M129.9,539.6h0M147.2,544.6h0M142.6,550.3h0M158.8,564.1h0M143.1,548.1h0M161.3,550.1h0M150.8,535.8h0M133.9,553.1h0M139.0,548.7h0M149.7,540.8h0M131.2,545.7h0M163.0,555.2h0M127.5,543.3h0M127.5,540.9h0M132.3,549.5h0M157.9,557.2h0M122.5,537.3h0M141.2,547.2h0M139.4,539.6h0M139.8,535.9h0M151.2,569.8h0M133.8,532.5h0M157.2,560.0h0M134.9,542.3h0M128.6,538.3h0M127.2,533.3h0M123.4,549.3h0M134.4,534.6h0M134.4,545.9h0M123.5,542.9h0M140.8,542.5h0M138.1,553.1h0M134.5,551.7h0M161.8,560.8h0M137.3,532.6h0M165.5,557.1h0M158.8,545.9h0M134.7,537.8h0M123.8,551.5h0M155.8,560.2h0M153.0,558.5h0M142.0,563.9h0M151.2,571.5h0M139.2,537.1h0M160.0,550.0h0M162.4,547.4h0M137.0,554.6h0M134.9,547.4h0M128.1,549.7h0M130.5,552.0h0M119.7,544.2h0M132.5,552.1h0M126.8,529.0h0M155.4,566.3h0M152.3,535.4h0M144.1,536.2h0M121.3,538.3h0M143.8,534.6h0M165.2,550.4h0M134.8,532.8h0M153.9,545.9h0M162.2,559.1h0M164.8,543.9h0M132.9,549.8h0M137.1,549.8h0M167.9,551.1h0M154.5,545.5h0M143.4,557.5h0M158.3,558.2h0M158.5,548.5h0M161.2,545.4h0M126.8,539.0h0M138.5,534.4h0M128.2,538.7h0M134.1,541.7h0M164.7,552.4h0M159.8,552.2h0M122.9,546.0h0M151.1,535.3h0M151.6,532.8h0M139.3,531.9h0M136.1,540.8h0M146.8,557.5h0M158.4,568.8h0M153.7,570.8h0M148.9,540.2h0M154.3,560.2h0M136.1,535.0h0M125.3,536.0h0M157.7,567.3h0M141.7,537.3h0M158.9,560.0h0M153.0,568.8h0M152.2,546.2h0M131.4,537.6h0M155.8,572.0h0M143.9,545.3h0M130.1,548.6h0M151.9,553.3h0M163.9,552.9h0M143.0,540.8h0M139.0,557.8h0M132.3,546.0h0M133.6,549.0h0M144.4,535.4h0M147.2,545.8h0M136.1,547.5h0M128.4,551.1h0M142.0,549.1h0M150.9,538.7h0M151.6,543.7h0M156.1,564.6h0M168.8,546.1h0M150.2,559.7h0M128.8,534.2h0M155.8,548.1h0M139.6,559.5h0M132.5,535.4h0M124.9,547.5h0M129.1,538.2h0M146.8,577.6h0M126.1,545.0h0M125.3,537.5h0M124.4,545.7h0M148.1,539.8h0M140.4,555.5h0M158.7,559.2h0M151.2,541.9h0M141.8,545.6h0M127.7,545.3h0M142.0,546.0h0M154.1,560.7h0M134.2,533.3h0M136.4,545.2h0M157.2,553.4h0M164.1,554.3h0M133.1,536.1h0M160.2,561.0h0M121.1,546.1h0M144.5,550.0h0M134.8,529.9h0M151.6,548.5h0M130.0,547.1h0M121.3,537.1h0M133.8,538.6h0M149.1,533.1h0M130.4,541.5h0M137.7,557.6h0M151.8,534.8h0M135.7,554.3h0M161.6,546.2h0M135.4,533.5h0M119.6,545.4h0M157.8,551.4h0M167.1,548.8h0M150.0,537.5h0M137.7,543.0h0M144.7,549.7h0M157.5,549.3h0M121.2,538.6h0M156.0,547.2h0M110.2,570.1h0M111.6,572.0h0M111.3,565.4h0M110.7,571.3h0M109.3,576.5h0M108.7,572.6h0M110.2,574.3h0M111.8,576.6h0M112.1,573.3h0M125.6,590.2h0M122.2,600.7h0M127.6,593.4h0M118.3,603.4h0M128.6,607.0h0M126.1,600.3h0M128.8,582.9h0M126.4,588.0h0M125.3,605.6h0M127.3,588.9h0M128.0,600.7h0M113.4,606.8h0M127.7,606.0h0M128.3,587.1h0M114.7,609.1h0M117.8,605.2h0M127.4,593.1h0M127.6,581.1h0M116.8,609.5h0M123.3,606.5h0M119.9,609.8h0M124.6,605.5h0M115.7,606.3h0M130.7,606.4h0M125.8,589.0h0M118.8,610.2h0M122.4,609.0h0M117.7,602.5h0M127.4,605.9h0M120.3,610.0h0M120.2,602.5h0M127.0,601.3h0M124.0,602.5h0M126.1,606.1h0M128.0,610.0h0M127.0,605.9h0M114.7,607.9h0M126.6,598.7h0M123.0,605.6h0M126.4,586.3h0M126.6,606.1h0M114.6,595.9h0M114.1,595.1h0" stroke="#D3D3D3" stroke-width="2.6" stroke-linecap="round" fill="none"/>
<circle cx="140.4" cy="565.3" r="9.85" fill="none" stroke="#E8101A" stroke-width="1.5" stroke-dasharray="1.3 1.3"/>
</g>
<path d="M59.4,861.0V959.2H176.5" fill="none" stroke="#333" stroke-width="1.1"/>
<path d="M92.5,959.2v3.7M138.5,959.2v3.7M59.4,875.6h-3.7M59.4,900.4h-3.7M59.4,925.1h-3.7M59.4,949.9h-3.7" fill="none" stroke="#333" stroke-width="1.1"/>
<text x="0.0" y="0.0" font-size="13" text-anchor="end" fill="#2a2a2a" transform="translate(52.8 880.9) scale(0.95 1)">5</text>
<text x="0.0" y="0.0" font-size="13" text-anchor="end" fill="#2a2a2a" transform="translate(52.8 905.7) scale(0.95 1)">0</text>
<text x="0.0" y="0.0" font-size="13" text-anchor="end" fill="#2a2a2a" transform="translate(52.8 930.4) scale(0.95 1)">-5</text>
<text x="0.0" y="0.0" font-size="13" text-anchor="end" fill="#2a2a2a" transform="translate(52.8 955.2) scale(0.95 1)">-10</text>
<text x="0.0" y="0.0" font-size="13" text-anchor="middle" fill="#2a2a2a" transform="translate(92.5 976.4) scale(0.95 1)">-10</text>
<text x="0.0" y="0.0" font-size="13" text-anchor="middle" fill="#2a2a2a" transform="translate(138.5 976.4) scale(0.95 1)">0</text>
<text x="116.4" y="992.3" font-size="14.5" text-anchor="middle">umap_1</text>
<text x="30.3" y="910.5" font-size="14.5" text-anchor="middle" transform="rotate(-90 30.3 910.5)">umap_2</text>
<rect x="191.4" y="871.8" width="15.2" height="77.5" fill="url(#cb)"/>
<text x="213.6" y="954.3" font-size="12" fill="#1a1a1a">0</text>
<text x="213.6" y="930.1" font-size="12" fill="#1a1a1a">1</text>
<text x="213.6" y="905.9" font-size="12" fill="#1a1a1a">2</text>
<text x="213.6" y="881.7" font-size="12" fill="#1a1a1a">3</text>
<path d="M191.4,925.1h2.8M203.8,925.1h2.8M191.4,900.9h2.8M203.8,900.9h2.8M191.4,876.6h2.8M203.8,876.6h2.8" stroke="#fff" stroke-width="0.9"/>
<text x="0.0" y="0.0" font-size="15.8" text-anchor="middle" font-weight="bold" transform="translate(344.5 851.8) scale(1.025 1)">PDPN</text>
<g transform="translate(227,340)">
<g fill="#D3D3D3" stroke="#D3D3D3" stroke-width="1" stroke-linejoin="round"><polygon points="126.6,528.5 129.2,529.2 132.5,529.5 136.5,529.9 140.4,531.2 142.4,532.5 145.7,533.1 148.3,532.1 151.6,532.1 154.2,533.1 155.1,535.8 153.8,538.4 153.2,541.0 154.9,543.0 155.5,545.6 158.8,545.0 162.8,543.6 165.4,543.4 168.0,545.0 170.0,547.6 170.6,550.2 169.3,552.8 168.0,555.5 166.7,557.4 164.1,559.4 162.8,562.0 161.4,565.3 160.4,568.6 159.1,572.6 156.2,574.1 153.6,573.2 151.6,571.9 149.6,570.6 148.3,571.9 147.6,574.5 147.0,577.8 145.7,580.0 143.0,580.0 139.8,578.7 136.5,576.8 134.9,572.6 134.5,568.6 134.9,564.7 134.5,560.7 133.6,558.1 132.5,554.8 131.2,552.8 127.3,552.6 124.6,552.2 122.0,551.5 120.7,549.6 119.8,546.3 119.1,543.0 119.4,539.7 120.7,537.1 124.0,535.5 125.7,533.1 125.7,530.5"/><polygon points="107.6,568.6 109.5,565.3 112.2,565.3 114.8,568.0 115.5,569.9 113.5,571.2 112.2,571.9 112.2,575.2 112.8,577.8 110.9,579.1 108.9,578.5 108.6,575.2 108.2,572.6 107.3,570.6"/><polygon points="124.4,581.1 126.6,580.2 128.9,581.8 129.6,584.4 128.9,588.3 128.2,592.3 128.2,596.2 128.6,600.1 129.6,604.1 131.5,607.4 130.6,610.7 127.9,611.3 125.3,610.7 122.7,611.3 119.4,612.0 115.5,612.6 111.5,612.6 110.5,610.7 111.5,608.0 114.1,605.4 116.8,602.8 119.4,601.5 122.0,600.1 123.6,597.5 124.4,593.6 124.6,589.6 124.4,585.7 124.0,583.1"/><polygon points="112.2,595.5 114.1,594.9 115.7,597.1 114.8,599.1 112.8,598.8"/></g>
<g fill="#fff"><polygon points="143.0,552.8 146.3,549.6 150.3,547.6 152.9,549.6 152.2,552.8 148.3,556.8 144.4,556.8"/><polygon points="148.3,566.0 151.6,564.0 154.9,563.4 156.2,565.3 153.6,567.3 150.3,568.0"/><polygon points="127.3,543.4 130.6,543.0 131.5,545.0 128.6,545.6"/></g>
<circle cx="66" cy="590.7" r="1.9" fill="#8E65F0"/>
<path d="M164.9,556.6h0M161.6,554.0h0M167.1,549.2h0M161.7,557.3h0M165.2,553.9h0M162.5,553.8h0M169.0,549.5h0M164.2,554.5h0M123.0,543.8h0M162.4,552.6h0M165.0,550.1h0" stroke="#AA89E7" stroke-width="2.6" stroke-linecap="round" fill="none"/>
<path d="M143.3,541.2h0M133.4,538.9h0M162.8,555.3h0M165.3,554.6h0M137.8,536.0h0M123.8,544.1h0M134.7,557.4h0M151.2,558.9h0M152.9,542.0h0M156.7,548.5h0M156.0,551.2h0M160.0,551.4h0M169.6,549.3h0M166.8,552.2h0M154.4,560.6h0M148.6,539.6h0M141.1,543.3h0M142.4,540.6h0M128.2,543.3h0M134.9,556.5h0M162.6,554.0h0M112.0,569.5h0M108.8,577.0h0M125.9,590.8h0M124.8,581.6h0M114.3,597.9h0" stroke="#9D77EC" stroke-width="2.6" stroke-linecap="round" fill="none"/>
<path d="M146.9,563.5h0M147.7,560.5h0M138.1,576.8h0M141.2,558.3h0M158.3,558.1h0M145.5,558.8h0M138.2,555.8h0M141.0,560.6h0M132.1,546.9h0M122.3,542.0h0M142.5,573.4h0M138.2,568.9h0M145.1,574.9h0M137.2,564.3h0M136.3,568.2h0M119.3,541.9h0M144.5,539.3h0M122.9,542.9h0M146.2,567.1h0M153.4,561.6h0M144.7,576.9h0M132.5,553.8h0M136.9,574.3h0M138.1,563.1h0M143.8,560.2h0M164.2,556.0h0M164.3,544.8h0M159.6,557.0h0M169.9,551.2h0M162.2,546.3h0M147.2,559.7h0M135.5,572.6h0M133.7,530.0h0M143.8,569.7h0M142.7,561.4h0M151.8,559.5h0M142.6,562.3h0M109.1,578.2h0M110.0,578.1h0" stroke="#8E65F0" stroke-width="2.6" stroke-linecap="round" fill="none"/>
<path d="M137.2,572.0h0M150.6,558.9h0M154.9,550.8h0M149.8,561.8h0M158.2,555.1h0M157.4,554.5h0M135.6,572.7h0M131.9,547.5h0M144.2,573.4h0M137.2,567.2h0M151.6,557.0h0M140.6,540.9h0M142.5,561.8h0M151.2,557.8h0M142.1,577.6h0M141.9,573.8h0M136.6,564.5h0M155.9,564.0h0M137.3,564.2h0M144.7,567.9h0M140.3,565.5h0M143.1,578.0h0M140.6,539.2h0M141.8,537.4h0M144.2,546.4h0" stroke="#7C51F4" stroke-width="2.6" stroke-linecap="round" fill="none"/>
<path d="M141.8,562.0h0M149.7,558.1h0M139.8,578.7h0M146.6,578.5h0M139.4,568.6h0M143.9,564.9h0M153.2,550.2h0M150.2,559.0h0M156.5,550.7h0M142.7,577.8h0M136.5,563.1h0M136.9,559.1h0" stroke="#673DF8" stroke-width="2.6" stroke-linecap="round" fill="none"/>
<path d="M136.5,544.5h0M136.9,546.8h0M135.4,537.7h0M151.6,569.1h0M143.8,543.5h0M159.0,564.3h0M152.6,558.4h0M161.0,561.6h0M138.5,550.8h0M142.0,543.6h0M134.4,555.8h0M124.7,548.1h0M164.3,553.3h0M150.7,546.5h0M143.1,533.7h0M145.9,546.6h0M134.9,531.2h0M135.0,551.7h0M133.8,531.8h0M146.4,537.4h0M162.0,553.8h0M154.8,563.1h0M123.6,546.9h0M139.2,537.7h0M156.6,550.0h0M157.1,570.6h0M147.1,547.9h0M143.8,546.8h0M158.6,547.1h0M143.3,543.3h0M150.0,535.6h0M126.2,546.6h0M139.1,560.9h0M162.6,558.5h0M146.8,532.9h0M166.5,545.3h0M132.3,552.8h0M152.9,567.5h0M159.9,568.3h0M163.0,560.3h0M139.9,551.8h0M153.1,562.4h0M160.5,551.8h0M162.7,557.9h0M135.2,541.3h0M156.7,566.2h0M149.2,540.3h0M142.1,557.4h0M143.7,556.2h0M156.3,568.0h0M143.7,545.5h0M146.1,542.4h0M141.1,555.4h0M124.5,540.8h0M129.9,540.6h0M124.0,538.6h0M144.5,537.3h0M132.3,529.9h0M159.8,558.8h0M154.3,548.5h0M132.4,554.0h0M158.5,565.1h0M128.6,550.8h0M126.5,534.4h0M147.0,541.9h0M162.1,562.0h0M132.0,548.0h0M138.9,557.4h0M150.3,544.0h0M155.3,567.3h0M129.5,535.7h0M157.8,555.9h0M156.5,565.6h0M159.4,557.5h0M157.5,557.3h0M136.2,535.0h0M128.3,549.5h0M145.4,547.5h0M155.5,546.5h0M149.7,564.8h0M157.6,571.5h0M146.5,538.7h0M141.7,546.1h0M141.2,554.6h0M127.0,534.4h0M142.4,555.9h0M122.3,549.3h0M134.4,532.5h0M122.7,544.0h0M154.3,571.7h0M140.4,536.1h0M155.8,546.1h0M136.7,540.9h0M122.4,545.2h0M126.8,539.8h0M154.8,569.2h0M153.1,553.0h0M120.6,538.6h0M123.6,538.3h0M127.3,530.5h0M126.1,538.9h0M128.3,546.9h0M152.2,536.6h0M140.5,534.5h0M128.1,534.1h0M126.3,536.0h0M146.7,540.5h0M136.2,557.1h0M131.5,551.1h0M140.3,550.1h0M131.4,534.3h0M129.2,547.7h0M151.3,547.9h0M127.3,532.8h0M129.0,532.5h0M130.0,550.1h0M167.3,555.0h0M123.9,542.6h0M167.4,549.1h0M135.3,539.1h0M164.9,549.5h0M125.5,544.5h0M145.5,534.3h0M149.4,537.0h0M144.4,539.0h0M167.1,554.6h0M163.8,544.6h0M154.0,563.3h0M127.7,530.2h0M151.8,537.5h0M120.0,541.3h0M140.2,535.7h0M141.2,536.5h0M142.8,552.3h0M162.2,558.6h0M153.0,541.2h0M126.6,535.8h0M129.4,539.1h0M127.6,543.2h0M155.6,566.0h0M144.7,549.7h0M145.4,543.7h0M155.0,572.9h0M157.3,571.7h0M153.0,569.1h0M156.6,554.1h0M130.7,547.0h0M131.0,545.9h0M110.2,574.6h0M113.4,567.3h0M111.4,568.9h0M111.8,572.5h0M108.3,571.7h0M112.7,568.9h0M109.7,567.7h0M111.9,569.7h0M128.5,602.9h0M122.4,602.1h0M117.0,608.2h0M115.3,610.8h0M123.0,600.8h0M118.1,607.3h0M120.7,606.4h0M119.9,605.2h0M121.2,606.1h0M127.0,592.5h0M126.5,596.9h0M119.2,603.8h0M115.3,605.2h0M128.5,609.1h0M126.2,610.3h0M113.8,612.1h0M115.2,611.2h0M127.0,589.1h0M120.2,604.4h0M114.8,605.7h0M115.9,605.3h0M111.9,610.0h0M121.6,601.2h0M113.5,606.5h0M118.5,610.4h0M127.8,593.4h0M127.8,599.4h0M126.9,602.3h0M116.5,603.1h0M117.1,607.3h0M120.6,609.2h0M126.1,589.6h0M129.3,607.7h0M124.7,590.4h0M122.4,609.2h0M125.7,582.9h0M122.9,606.9h0M113.0,608.4h0M126.6,602.6h0M127.4,601.0h0M121.7,601.1h0M124.0,605.6h0M125.8,587.2h0M118.9,607.6h0M117.3,609.8h0M125.4,610.2h0M117.5,605.1h0" stroke="#D3D3D3" stroke-width="2.6" stroke-linecap="round" fill="none"/>
<path d="M167.4,553.1h0M165.4,553.8h0M125.1,544.6h0M122.1,540.3h0M127.8,542.4h0M166.1,557.2h0M128.5,551.5h0M161.9,552.9h0M157.1,547.8h0M159.4,546.4h0" stroke="#AA89E7" stroke-width="2.6" stroke-linecap="round" fill="none"/>
<path d="M123.2,536.2h0M169.2,548.1h0M157.3,548.9h0M131.8,531.7h0M142.7,551.1h0M126.8,550.4h0M168.4,553.6h0M140.9,548.1h0M136.8,536.4h0M157.6,570.5h0M125.2,541.3h0M134.0,556.3h0M168.2,552.1h0M144.8,538.9h0M125.3,543.8h0M151.4,559.4h0M167.2,551.2h0M125.1,544.0h0M158.5,559.0h0M139.2,547.8h0M113.3,568.0h0M113.6,570.0h0M109.7,565.9h0M113.1,598.3h0" stroke="#9D77EC" stroke-width="2.6" stroke-linecap="round" fill="none"/>
<path d="M147.1,558.1h0M161.3,553.3h0M159.4,571.1h0M148.8,566.8h0M127.1,536.7h0M144.6,557.7h0M152.6,537.5h0M145.1,562.6h0M137.6,543.9h0M147.3,558.9h0M156.8,551.0h0M121.1,537.3h0M143.5,563.8h0M158.1,547.5h0M138.5,568.8h0M131.7,544.3h0M144.8,577.8h0M132.9,549.5h0M147.3,546.3h0M145.3,570.3h0M142.7,564.5h0M146.4,557.1h0M161.4,551.5h0M145.7,569.9h0M169.4,547.1h0M141.0,560.3h0M145.6,562.5h0M157.6,557.1h0M143.3,564.6h0M154.1,562.6h0M165.4,555.7h0M143.1,551.1h0M139.3,557.2h0M121.7,550.3h0M131.4,535.3h0M157.4,566.8h0M158.9,565.2h0M134.1,533.9h0M150.3,569.6h0M151.9,553.8h0M137.4,567.9h0M113.9,569.7h0" stroke="#8E65F0" stroke-width="2.6" stroke-linecap="round" fill="none"/>
<path d="M146.2,568.5h0M143.0,570.6h0M141.2,558.2h0M145.8,535.4h0M135.8,569.6h0M141.9,570.6h0M155.7,551.5h0M149.0,567.7h0M135.5,572.3h0M138.4,563.8h0M138.8,543.5h0M138.9,561.3h0M136.5,559.0h0M140.8,571.7h0M142.6,568.1h0M139.2,572.7h0M141.7,560.1h0M143.2,576.9h0M146.5,562.9h0M146.1,563.2h0M149.1,559.4h0M147.5,559.4h0M132.9,539.1h0M143.7,538.9h0M135.2,566.5h0M134.4,533.2h0M143.2,565.3h0M139.2,546.5h0M142.4,573.8h0M160.3,559.1h0M145.3,559.8h0M135.3,530.0h0M137.2,572.5h0M146.6,558.7h0M137.5,574.2h0M135.8,541.4h0M137.9,564.7h0" stroke="#7C51F4" stroke-width="2.6" stroke-linecap="round" fill="none"/>
<path d="M146.8,569.7h0M142.4,562.4h0M136.6,560.0h0M150.3,562.3h0M154.1,550.5h0M140.4,570.8h0" stroke="#673DF8" stroke-width="2.6" stroke-linecap="round" fill="none"/>
<path d="M165.2,543.9h0M124.6,550.9h0M139.9,536.1h0M153.3,567.7h0M143.4,540.2h0M133.5,549.7h0M138.2,535.9h0M143.0,547.1h0M143.8,556.8h0M139.0,535.6h0M154.6,563.2h0M137.9,544.6h0M139.9,555.9h0M158.5,557.2h0M149.8,533.9h0M148.1,546.9h0M121.1,537.3h0M128.6,548.6h0M139.0,534.1h0M141.0,555.8h0M160.5,565.3h0M121.7,550.2h0M120.0,541.5h0M141.5,559.1h0M153.5,534.9h0M128.6,550.6h0M140.7,554.5h0M134.7,537.1h0M131.8,542.1h0M149.5,534.6h0M165.6,552.5h0M134.3,534.1h0M124.5,550.0h0M141.7,542.6h0M160.9,555.8h0M158.2,559.7h0M125.3,539.0h0M141.5,544.3h0M122.5,546.0h0M142.0,538.4h0M146.8,537.3h0M154.0,534.9h0M124.1,546.3h0M128.2,551.5h0M119.4,544.1h0M123.2,538.2h0M129.2,533.8h0M130.9,543.0h0M132.5,547.3h0M124.6,551.2h0M157.1,570.3h0M142.5,544.5h0M163.0,553.4h0M137.0,546.3h0M157.2,567.3h0M159.8,565.2h0M137.6,551.0h0M139.2,535.0h0M153.9,544.9h0M143.4,542.5h0M127.7,541.4h0M141.7,532.4h0M132.4,533.7h0M142.8,550.2h0M147.7,537.6h0M134.5,552.8h0M142.4,540.9h0M126.8,534.0h0M144.4,548.9h0M151.3,548.1h0M136.0,556.5h0M153.6,542.7h0M145.5,547.1h0M130.4,545.3h0M140.8,534.8h0M152.0,538.6h0M156.9,564.3h0M129.1,548.1h0M139.7,538.3h0M161.6,548.5h0M121.9,546.3h0M122.7,546.1h0M144.6,540.9h0M147.0,540.3h0M152.5,570.0h0M140.7,574.8h0M148.0,538.2h0M126.1,545.8h0M126.3,546.6h0M146.8,541.8h0M129.2,534.0h0M148.7,545.5h0M149.1,559.6h0M126.4,545.7h0M154.6,549.9h0M159.5,548.3h0M162.3,553.6h0M135.4,555.5h0M144.4,557.5h0M124.5,548.6h0M147.0,542.1h0M144.6,536.5h0M147.0,538.6h0M155.1,561.4h0M146.0,542.5h0M150.5,533.5h0M167.6,551.1h0M135.3,537.3h0M142.9,551.7h0M143.9,534.2h0M145.5,539.9h0M151.7,532.4h0M141.6,541.2h0M147.0,569.3h0M122.9,538.3h0M142.3,540.4h0M131.5,535.0h0M159.3,561.3h0M138.7,537.1h0M135.1,544.6h0M138.4,541.2h0M145.4,544.3h0M126.4,529.6h0M149.3,542.1h0M152.0,571.5h0M136.2,538.7h0M158.2,566.8h0M165.4,550.1h0M134.5,541.9h0M133.7,548.8h0M135.4,569.7h0M129.0,543.0h0M148.2,544.4h0M139.4,543.2h0M134.7,540.6h0M140.0,541.3h0M133.0,549.0h0M138.6,543.8h0M122.1,546.5h0M167.4,548.4h0M111.3,577.1h0M112.4,566.4h0M111.9,567.9h0M107.8,570.1h0M107.6,569.0h0M111.8,576.6h0M114.0,570.4h0M127.5,594.2h0M127.5,611.2h0M124.7,607.0h0M119.3,610.7h0M118.2,610.6h0M117.1,606.1h0M127.8,603.5h0M122.4,610.5h0M122.4,608.1h0M123.4,607.2h0M125.5,594.9h0M126.1,586.5h0M128.1,608.2h0M117.1,611.4h0M126.6,605.1h0M112.0,610.0h0M124.9,609.3h0M127.6,596.7h0M125.3,607.4h0M119.3,606.8h0M113.5,611.4h0M129.7,609.9h0M122.4,603.1h0M126.4,594.9h0M121.9,606.7h0M124.1,600.7h0M127.8,586.4h0M123.9,606.7h0M116.3,610.3h0M117.9,611.6h0M122.0,601.4h0M121.6,603.4h0M118.6,610.8h0M125.4,588.6h0M117.1,603.9h0M127.1,590.0h0M128.2,603.5h0M116.6,612.3h0M117.5,602.8h0M128.5,600.5h0M118.4,603.5h0M114.4,610.3h0M127.4,601.0h0M119.2,607.3h0M123.7,598.4h0M125.1,586.8h0M120.4,603.0h0M122.4,610.1h0M128.2,598.6h0M112.9,598.4h0" stroke="#D3D3D3" stroke-width="2.6" stroke-linecap="round" fill="none"/>
<path d="M160.5,553.1h0M162.1,545.3h0M129.1,550.0h0M158.3,546.0h0M125.6,536.9h0M162.0,558.4h0M123.4,543.3h0M167.4,550.6h0" stroke="#AA89E7" stroke-width="2.6" stroke-linecap="round" fill="none"/>
<path d="M150.7,533.4h0M157.5,559.0h0M155.6,561.1h0M161.3,544.7h0M161.1,550.1h0M165.7,544.1h0M132.5,547.0h0M157.0,547.7h0M127.5,545.6h0M165.2,551.3h0M165.0,558.3h0M136.4,537.1h0M157.4,571.9h0M132.8,541.5h0M129.1,552.6h0M162.2,558.7h0M143.7,537.0h0M148.5,559.1h0M152.0,539.6h0M134.0,548.9h0M164.7,554.3h0M141.4,539.9h0M156.9,553.0h0M165.2,548.9h0M168.8,547.4h0M111.7,569.6h0M126.7,590.9h0M127.0,585.8h0M114.4,595.4h0" stroke="#9D77EC" stroke-width="2.6" stroke-linecap="round" fill="none"/>
<path d="M149.8,557.6h0M160.2,545.2h0M144.7,578.1h0M138.3,568.5h0M150.6,569.4h0M142.2,566.5h0M164.3,551.1h0M154.5,551.6h0M152.7,548.4h0M136.0,541.4h0M153.0,557.5h0M134.7,559.8h0M144.8,567.4h0M137.9,576.7h0M135.0,562.8h0M139.3,575.5h0M157.2,547.7h0M163.7,546.3h0M145.7,569.6h0M158.3,561.6h0M142.4,572.1h0M158.1,550.3h0M162.8,556.3h0M158.1,557.1h0M138.2,562.8h0M154.4,548.0h0M145.2,574.3h0M157.6,551.5h0M165.6,552.1h0M149.7,556.6h0M141.0,575.0h0M148.2,563.0h0M153.0,546.0h0M108.9,571.1h0M114.1,598.5h0" stroke="#8E65F0" stroke-width="2.6" stroke-linecap="round" fill="none"/>
<path d="M135.4,553.3h0M134.3,551.9h0M144.8,546.0h0M137.8,564.8h0M135.5,537.9h0M138.4,548.4h0M143.4,577.2h0M154.6,557.0h0M140.4,573.6h0M140.2,545.5h0M152.0,553.7h0M158.6,556.5h0M156.3,550.6h0M149.0,561.7h0M148.8,534.4h0M137.6,563.9h0M159.8,558.2h0M140.1,560.8h0M147.3,543.2h0M148.1,564.0h0M134.9,542.1h0M143.1,537.2h0M139.6,567.1h0M146.6,570.4h0M144.0,578.5h0M136.2,562.7h0M143.6,573.2h0M148.3,547.4h0M138.4,574.2h0M151.7,546.1h0M158.3,552.6h0M137.2,567.1h0M152.6,553.1h0M142.4,573.5h0M150.3,556.3h0" stroke="#7C51F4" stroke-width="2.6" stroke-linecap="round" fill="none"/>
<path d="M137.8,559.1h0M144.8,564.4h0M153.8,555.4h0M144.5,568.9h0M146.8,572.7h0M142.8,568.0h0M136.3,565.9h0M143.3,566.9h0M136.8,560.9h0M145.6,559.9h0M140.7,576.7h0" stroke="#673DF8" stroke-width="2.6" stroke-linecap="round" fill="none"/>
<path d="M119.8,539.7h0M137.7,537.1h0M123.8,546.1h0M127.5,531.0h0M152.5,569.6h0M159.3,558.5h0M149.8,541.9h0M132.9,536.5h0M144.8,545.6h0M141.4,544.7h0M131.2,547.7h0M130.6,534.5h0M161.9,561.9h0M129.6,530.6h0M143.2,543.1h0M131.7,531.1h0M123.5,544.7h0M138.4,533.6h0M156.6,564.7h0M125.8,546.9h0M125.2,544.9h0M137.2,541.3h0M135.5,529.9h0M157.9,563.0h0M162.4,553.1h0M122.5,539.2h0M122.9,542.5h0M142.7,548.3h0M127.8,552.1h0M129.8,551.9h0M156.3,560.0h0M127.1,539.7h0M130.8,529.9h0M141.2,539.3h0M126.3,531.3h0M126.0,539.0h0M153.9,546.0h0M124.3,547.6h0M154.8,572.8h0M141.1,551.2h0M142.0,536.3h0M136.8,539.3h0M133.8,542.2h0M141.1,535.3h0M157.6,566.0h0M142.5,543.3h0M133.2,555.6h0M122.5,537.6h0M138.9,558.1h0M149.6,545.1h0M130.9,539.1h0M143.1,556.6h0M135.2,542.9h0M144.8,543.7h0M136.2,563.8h0M141.9,557.7h0M126.8,544.7h0M119.5,544.3h0M167.9,553.0h0M127.9,540.1h0M144.7,550.3h0M149.0,544.1h0M129.6,539.9h0M146.0,541.7h0M133.0,550.0h0M132.0,535.1h0M133.5,546.3h0M129.3,551.3h0M154.3,550.6h0M143.1,545.3h0M143.2,556.8h0M139.1,571.0h0M144.8,535.3h0M121.0,543.1h0M124.2,539.0h0M134.7,548.4h0M125.6,540.2h0M166.8,555.7h0M155.7,546.8h0M143.4,543.5h0M141.2,554.7h0M145.2,538.5h0M145.0,549.4h0M150.9,568.3h0M124.0,547.7h0M164.8,554.8h0M138.0,531.5h0M144.4,550.7h0M135.1,539.7h0M134.1,557.5h0M154.2,570.3h0M132.0,531.0h0M155.0,567.2h0M152.3,570.8h0M142.0,557.9h0M128.1,546.6h0M150.8,544.8h0M121.9,550.2h0M146.8,542.3h0M128.9,548.1h0M164.3,545.6h0M143.5,549.8h0M157.0,550.5h0M150.4,539.3h0M128.5,537.3h0M143.4,555.2h0M133.9,537.6h0M137.3,540.3h0M159.8,569.7h0M130.0,540.6h0M155.7,572.4h0M158.6,562.0h0M141.8,552.6h0M134.9,538.4h0M148.8,544.4h0M137.8,546.0h0M157.9,564.2h0M144.9,549.0h0M122.4,550.1h0M153.2,563.5h0M145.6,545.3h0M152.8,548.0h0M156.6,549.2h0M155.3,571.2h0M156.5,558.1h0M135.2,536.4h0M130.2,539.4h0M127.8,551.2h0M133.8,544.3h0M166.4,553.0h0M121.2,541.4h0M128.1,542.0h0M128.8,540.4h0M131.8,551.0h0M130.9,542.7h0M139.2,531.4h0M144.0,543.3h0M128.0,534.6h0M153.9,545.9h0M155.1,559.8h0M137.8,534.2h0M109.5,578.0h0M108.4,568.0h0M111.7,577.4h0M108.4,573.1h0M109.3,566.1h0M109.6,574.0h0M114.6,567.9h0M108.9,573.1h0M109.4,571.9h0M113.1,570.7h0M129.2,610.4h0M122.7,605.5h0M122.1,611.0h0M122.0,602.5h0M121.7,608.9h0M127.6,609.2h0M124.9,605.2h0M125.4,590.5h0M130.3,606.4h0M128.1,593.7h0M114.9,606.8h0M112.5,610.2h0M116.9,607.3h0M127.5,602.9h0M114.4,611.7h0M126.8,587.2h0M126.7,601.3h0M120.5,600.9h0M122.2,611.4h0M127.5,589.6h0M112.3,611.4h0M129.0,608.4h0M127.6,605.0h0M111.9,608.3h0M120.4,609.0h0M123.0,607.5h0M121.3,600.9h0M122.3,605.0h0M129.8,607.2h0M114.5,605.1h0M126.4,609.8h0M126.5,608.5h0M122.5,608.3h0M125.8,597.9h0M113.9,610.9h0M123.2,601.3h0M125.7,601.6h0M125.3,590.6h0M125.0,603.8h0M126.5,590.0h0M117.3,609.7h0M118.7,611.4h0M130.7,606.7h0M120.5,606.2h0M126.6,610.5h0M125.6,586.1h0M124.8,581.3h0" stroke="#D3D3D3" stroke-width="2.6" stroke-linecap="round" fill="none"/>
<path d="M169.4,551.9h0M163.9,550.4h0M123.9,546.2h0M159.8,551.7h0M127.2,536.5h0M120.5,545.6h0M128.7,586.2h0M114.5,596.1h0" stroke="#AA89E7" stroke-width="2.6" stroke-linecap="round" fill="none"/>
<path d="M129.1,530.4h0M167.5,547.8h0M160.6,550.9h0M164.9,553.3h0M139.6,531.6h0M138.8,535.2h0M138.4,552.2h0M121.1,548.4h0M167.5,552.5h0M133.7,545.7h0M152.3,540.3h0M126.9,528.9h0M161.5,554.4h0M121.5,540.1h0M164.1,544.9h0M154.2,552.9h0M152.0,557.6h0M155.5,549.0h0M149.0,542.7h0M159.8,555.4h0M150.8,561.6h0M166.1,556.2h0M134.0,537.2h0M151.7,546.3h0M159.5,545.6h0M127.8,532.9h0M167.8,550.5h0M159.5,556.9h0M113.7,567.4h0M108.3,572.5h0M125.9,590.1h0" stroke="#9D77EC" stroke-width="2.6" stroke-linecap="round" fill="none"/>
<path d="M136.6,576.1h0M153.4,550.2h0M152.3,559.6h0M159.8,558.2h0M156.8,554.6h0M149.9,567.6h0M142.7,542.9h0M156.2,553.8h0M153.4,558.6h0M143.4,559.5h0M138.1,560.3h0M163.7,553.4h0M152.7,560.9h0M160.7,556.0h0M154.1,555.5h0M141.6,569.7h0M164.4,547.7h0M143.3,578.1h0M160.2,548.7h0M146.6,578.3h0M163.2,558.9h0M154.5,561.8h0M139.7,571.9h0M148.9,565.1h0M155.8,553.0h0M167.9,550.2h0M142.2,579.0h0M157.2,573.2h0M137.7,560.0h0M151.1,569.1h0M141.3,534.6h0M165.2,556.3h0M141.7,578.1h0M140.8,563.7h0" stroke="#8E65F0" stroke-width="2.6" stroke-linecap="round" fill="none"/>
<path d="M140.0,540.8h0M137.0,561.7h0M151.3,546.8h0M144.0,574.0h0M156.0,547.8h0M148.1,559.6h0M151.5,561.5h0M152.7,556.3h0M152.9,553.8h0M136.8,534.0h0M138.2,558.6h0M144.3,577.1h0M145.9,558.7h0M146.5,564.6h0M137.1,567.5h0M138.8,567.0h0M139.0,566.0h0M142.0,561.5h0M153.5,548.8h0M138.9,570.5h0M140.5,568.4h0M136.7,559.2h0M149.5,567.4h0M135.4,550.0h0M140.1,572.6h0M143.4,550.5h0M139.7,569.0h0" stroke="#7C51F4" stroke-width="2.6" stroke-linecap="round" fill="none"/>
<path d="M144.0,575.5h0M145.6,575.8h0M154.2,552.3h0M141.7,573.8h0M135.0,568.6h0M148.3,569.8h0M142.2,558.8h0M144.7,577.8h0M147.0,575.3h0M137.9,566.9h0M137.7,559.3h0M149.1,563.3h0" stroke="#673DF8" stroke-width="2.6" stroke-linecap="round" fill="none"/>
<path d="M150.9,535.1h0M126.6,531.9h0M157.7,572.1h0M123.7,542.6h0M133.6,553.6h0M147.2,546.0h0M150.5,546.6h0M140.5,545.0h0M121.0,541.5h0M159.9,562.7h0M155.9,562.3h0M132.2,542.8h0M129.5,529.8h0M156.9,565.5h0M144.2,558.0h0M125.8,532.8h0M140.8,544.7h0M150.7,540.4h0M166.3,552.3h0M162.9,560.4h0M154.3,573.0h0M135.2,548.3h0M154.1,555.4h0M154.5,571.7h0M124.3,538.5h0M158.3,565.7h0M139.0,576.6h0M141.9,552.8h0M140.9,578.6h0M122.9,548.2h0M152.3,547.9h0M146.4,548.6h0M136.8,535.9h0M126.2,531.2h0M150.7,539.9h0M129.7,533.1h0M126.6,542.3h0M156.1,549.7h0M148.2,543.5h0M126.0,537.2h0M160.1,568.1h0M123.7,539.9h0M154.3,567.8h0M154.3,568.2h0M149.7,533.4h0M133.5,551.7h0M154.9,554.8h0M153.1,541.1h0M133.7,530.4h0M139.4,544.9h0M137.0,553.0h0M120.7,542.4h0M132.4,553.3h0M135.5,554.3h0M137.4,541.4h0M143.1,575.4h0M138.0,536.1h0M121.7,550.5h0M145.7,547.7h0M129.1,539.8h0M127.2,529.6h0M132.8,545.6h0M143.4,547.7h0M137.1,535.2h0M136.9,541.0h0M143.0,539.4h0M167.0,552.8h0M129.1,537.1h0M145.3,536.8h0M162.2,561.6h0M143.0,540.5h0M134.4,537.4h0M130.0,549.0h0M135.1,551.2h0M159.5,554.7h0M131.8,538.8h0M151.6,560.2h0M150.0,536.9h0M141.1,548.8h0M122.8,551.0h0M119.5,543.9h0M151.1,538.7h0M153.7,542.5h0M129.2,536.3h0M136.2,530.7h0M152.1,539.8h0M141.2,538.1h0M132.7,530.0h0M155.4,557.7h0M155.8,550.0h0M140.1,535.2h0M130.8,539.3h0M145.5,537.6h0M152.2,544.8h0M123.9,548.3h0M132.5,553.4h0M131.3,536.2h0M146.7,548.6h0M139.7,548.2h0M166.3,549.9h0M148.7,559.0h0M134.8,530.7h0M145.5,541.5h0M137.8,540.9h0M150.4,545.6h0M127.8,529.4h0M152.4,546.8h0M138.0,555.5h0M145.8,547.6h0M123.3,545.9h0M165.6,552.9h0M153.2,535.0h0M125.4,534.4h0M159.6,561.2h0M154.3,533.7h0M142.7,540.0h0M150.2,560.7h0M144.0,550.3h0M147.0,542.3h0M122.9,536.8h0M153.5,534.0h0M136.0,536.8h0M130.3,546.2h0M153.5,533.1h0M148.5,534.0h0M151.0,569.5h0M135.0,532.3h0M138.1,544.0h0M157.2,571.0h0M131.3,535.7h0M134.0,556.5h0M120.1,540.1h0M137.3,545.4h0M135.6,542.2h0M149.8,541.9h0M132.2,542.2h0M154.4,567.5h0M153.6,553.4h0M143.7,546.9h0M135.3,543.9h0M137.4,548.1h0M148.2,544.1h0M120.4,543.5h0M151.5,534.1h0M140.5,537.6h0M152.0,544.1h0M112.3,571.5h0M113.6,568.3h0M110.8,570.0h0M113.0,570.2h0M112.0,566.4h0M113.7,569.0h0M110.5,578.1h0M109.2,577.9h0M111.6,573.8h0M111.6,571.4h0M123.3,610.2h0M128.3,597.9h0M115.0,606.4h0M128.5,605.4h0M114.4,612.5h0M120.2,607.7h0M117.2,602.9h0M122.5,604.6h0M122.8,609.0h0M116.0,608.8h0M127.1,609.1h0M128.7,585.7h0M129.5,604.8h0M113.5,609.4h0M114.8,609.4h0M127.7,593.9h0M113.4,608.9h0M127.0,592.3h0M115.1,610.5h0M127.7,606.4h0M121.9,608.5h0M116.6,603.1h0M126.1,600.1h0M127.2,608.3h0M128.3,609.7h0M124.6,601.5h0M125.8,583.0h0M113.3,607.2h0M125.2,603.3h0M115.3,612.6h0M127.7,603.2h0M126.0,600.0h0M114.1,612.0h0M126.6,610.5h0M127.6,595.2h0M122.4,608.1h0M118.1,606.4h0M117.3,603.4h0M114.0,607.0h0M126.5,582.4h0M121.2,609.2h0M112.2,610.4h0M126.1,584.9h0M117.9,609.6h0M125.7,584.4h0M118.6,610.5h0M119.1,604.2h0M114.7,598.4h0" stroke="#D3D3D3" stroke-width="2.6" stroke-linecap="round" fill="none"/>
<path d="M165.5,557.1h0M162.2,559.1h0M158.5,548.5h0M167.1,548.8h0M111.6,576.6h0M114.6,595.9h0M114.1,595.1h0" stroke="#AA89E7" stroke-width="2.6" stroke-linecap="round" fill="none"/>
<path d="M161.3,550.1h0M146.6,545.9h0M131.7,532.9h0M123.9,546.9h0M129.3,529.5h0M140.8,549.9h0M155.8,560.2h0M127.4,549.2h0M131.7,550.3h0M167.9,551.1h0M159.8,552.2h0M125.9,551.3h0M153.5,558.3h0M156.8,560.9h0M133.0,551.2h0M155.7,549.0h0M151.7,543.0h0M138.4,556.7h0M151.2,539.4h0M157.5,549.3h0M111.5,573.7h0M125.6,585.3h0M126.4,590.5h0M125.1,590.7h0M126.8,589.8h0M126.8,587.6h0M126.0,582.0h0" stroke="#9D77EC" stroke-width="2.6" stroke-linecap="round" fill="none"/>
<path d="M138.0,558.3h0M144.3,566.1h0M145.2,575.4h0M163.0,555.2h0M131.0,532.6h0M143.7,564.8h0M142.8,562.0h0M143.1,533.8h0M142.0,575.8h0M153.0,558.5h0M160.0,550.0h0M162.4,547.4h0M158.1,553.1h0M136.0,563.9h0M135.6,560.7h0M167.3,545.4h0M164.7,552.4h0M144.3,575.1h0M129.9,540.7h0M151.9,553.3h0M163.9,552.9h0M144.0,574.1h0M151.4,560.6h0M132.4,551.9h0M155.0,554.6h0M146.8,572.8h0M141.1,577.8h0M154.1,560.7h0M141.0,567.0h0M153.4,563.4h0M143.9,566.5h0M139.9,578.1h0M138.0,558.4h0M109.8,575.3h0M126.0,584.4h0" stroke="#8E65F0" stroke-width="2.6" stroke-linecap="round" fill="none"/>
<path d="M137.7,569.0h0M142.6,575.7h0M140.5,536.8h0M138.5,560.7h0M141.5,551.3h0M147.5,571.3h0M157.2,557.4h0M138.8,561.2h0M131.7,543.5h0M144.8,558.5h0M150.8,563.0h0M158.3,558.2h0M140.1,542.3h0M134.0,558.8h0M136.6,560.2h0M135.1,572.0h0M145.2,574.5h0M135.4,560.3h0M141.3,534.8h0M136.6,566.8h0M142.7,573.8h0M151.2,564.0h0M148.7,562.9h0M145.0,577.8h0M138.1,554.6h0M130.0,547.0h0M145.7,576.5h0M141.1,565.5h0M157.2,553.4h0M149.9,568.9h0M137.2,560.6h0M144.7,568.8h0" stroke="#7C51F4" stroke-width="2.6" stroke-linecap="round" fill="none"/>
<path d="M143.3,574.4h0M156.7,549.5h0M146.0,571.7h0M141.1,575.6h0M137.8,571.6h0M136.6,566.0h0M154.3,550.4h0M139.0,568.4h0M143.2,558.8h0M149.0,557.8h0M145.5,560.4h0M145.7,564.3h0M147.6,559.3h0M156.5,551.6h0M157.5,556.4h0M145.5,573.5h0" stroke="#673DF8" stroke-width="2.6" stroke-linecap="round" fill="none"/>
<path d="M129.9,539.6h0M134.7,559.6h0M147.2,544.6h0M142.6,550.3h0M158.8,564.1h0M157.1,571.2h0M151.3,568.4h0M143.1,548.1h0M150.8,535.8h0M133.9,553.1h0M139.0,548.7h0M149.7,540.8h0M131.2,545.7h0M127.5,543.3h0M127.5,540.9h0M132.3,549.5h0M157.9,557.2h0M122.5,537.3h0M141.2,547.2h0M139.4,539.6h0M139.8,535.9h0M151.2,569.8h0M133.8,532.5h0M157.2,560.0h0M134.9,542.3h0M128.6,538.3h0M127.2,533.3h0M123.4,549.3h0M134.4,534.6h0M134.4,545.9h0M123.5,542.9h0M140.8,542.5h0M138.1,553.1h0M134.5,551.7h0M161.8,560.8h0M137.3,532.6h0M158.8,545.9h0M134.7,537.8h0M123.8,551.5h0M142.0,563.9h0M151.2,571.5h0M139.2,537.1h0M137.0,554.6h0M134.9,547.4h0M128.1,549.7h0M130.5,552.0h0M119.7,544.2h0M132.5,552.1h0M126.8,529.0h0M155.4,566.3h0M152.3,535.4h0M144.1,536.2h0M121.3,538.3h0M143.8,534.6h0M165.2,550.4h0M134.8,532.8h0M153.9,545.9h0M164.8,543.9h0M132.9,549.8h0M137.1,549.8h0M154.5,545.5h0M143.4,557.5h0M161.2,545.4h0M126.8,539.0h0M138.5,534.4h0M128.2,538.7h0M134.1,541.7h0M122.9,546.0h0M151.1,535.3h0M151.6,532.8h0M139.3,531.9h0M136.1,540.8h0M146.8,557.5h0M158.4,568.8h0M153.7,570.8h0M148.9,540.2h0M154.3,560.2h0M136.1,535.0h0M125.3,536.0h0M154.8,567.2h0M157.7,567.3h0M141.7,537.3h0M158.9,560.0h0M153.0,568.8h0M152.2,546.2h0M131.4,537.6h0M155.8,572.0h0M143.9,545.3h0M130.1,548.6h0M143.0,540.8h0M139.0,557.8h0M132.3,546.0h0M133.6,549.0h0M144.4,535.4h0M147.2,545.8h0M136.1,547.5h0M128.4,551.1h0M142.0,549.1h0M158.8,567.8h0M150.9,538.7h0M151.6,543.7h0M156.1,564.6h0M168.8,546.1h0M150.2,559.7h0M128.8,534.2h0M155.8,548.1h0M139.6,559.5h0M132.5,535.4h0M124.9,547.5h0M129.1,538.2h0M146.8,577.6h0M126.1,545.0h0M125.3,537.5h0M124.4,545.7h0M148.1,539.8h0M140.4,555.5h0M158.7,559.2h0M151.2,541.9h0M141.8,545.6h0M127.7,545.3h0M142.0,546.0h0M134.2,533.3h0M136.4,545.2h0M164.1,554.3h0M133.1,536.1h0M155.2,567.1h0M160.2,561.0h0M121.1,546.1h0M144.5,550.0h0M134.8,529.9h0M151.6,548.5h0M130.0,547.1h0M121.3,537.1h0M133.8,538.6h0M149.1,533.1h0M130.4,541.5h0M137.7,557.6h0M151.8,534.8h0M135.7,554.3h0M161.6,546.2h0M135.4,533.5h0M119.6,545.4h0M157.8,551.4h0M150.0,537.5h0M137.7,543.0h0M144.7,549.7h0M121.2,538.6h0M156.0,547.2h0M110.2,570.1h0M111.6,572.0h0M111.3,565.4h0M110.7,571.3h0M109.3,576.5h0M108.7,572.6h0M110.2,574.3h0M111.8,576.6h0M112.1,573.3h0M125.6,590.2h0M122.2,600.7h0M127.6,593.4h0M118.3,603.4h0M128.6,607.0h0M126.1,600.3h0M128.8,582.9h0M126.4,588.0h0M125.3,605.6h0M127.3,588.9h0M128.0,600.7h0M113.4,606.8h0M127.7,606.0h0M128.3,587.1h0M114.7,609.1h0M117.8,605.2h0M127.4,593.1h0M127.6,581.1h0M116.8,609.5h0M123.3,606.5h0M119.9,609.8h0M124.6,605.5h0M115.7,606.3h0M130.7,606.4h0M125.8,589.0h0M118.8,610.2h0M122.4,609.0h0M117.7,602.5h0M127.4,605.9h0M120.3,610.0h0M120.2,602.5h0M127.0,601.3h0M124.0,602.5h0M126.1,606.1h0M128.0,610.0h0M127.0,605.9h0M114.7,607.9h0M126.6,598.7h0M123.0,605.6h0M126.0,602.0h0M126.4,586.3h0M126.6,606.1h0" stroke="#D3D3D3" stroke-width="2.6" stroke-linecap="round" fill="none"/>
<circle cx="139.4" cy="566.2" r="9.85" fill="none" stroke="#E8101A" stroke-width="1.5" stroke-dasharray="1.3 1.3"/>
</g>
<path d="M286.4,861.0V959.2H403.5" fill="none" stroke="#333" stroke-width="1.1"/>
<path d="M319.5,959.2v3.7M365.5,959.2v3.7M286.4,875.6h-3.7M286.4,900.4h-3.7M286.4,925.1h-3.7M286.4,949.9h-3.7" fill="none" stroke="#333" stroke-width="1.1"/>
<text x="0.0" y="0.0" font-size="13" text-anchor="end" fill="#2a2a2a" transform="translate(279.8 880.9) scale(0.95 1)">5</text>
<text x="0.0" y="0.0" font-size="13" text-anchor="end" fill="#2a2a2a" transform="translate(279.8 905.7) scale(0.95 1)">0</text>
<text x="0.0" y="0.0" font-size="13" text-anchor="end" fill="#2a2a2a" transform="translate(279.8 930.4) scale(0.95 1)">-5</text>
<text x="0.0" y="0.0" font-size="13" text-anchor="end" fill="#2a2a2a" transform="translate(279.8 955.2) scale(0.95 1)">-10</text>
<text x="0.0" y="0.0" font-size="13" text-anchor="middle" fill="#2a2a2a" transform="translate(319.5 976.4) scale(0.95 1)">-10</text>
<text x="0.0" y="0.0" font-size="13" text-anchor="middle" fill="#2a2a2a" transform="translate(365.5 976.4) scale(0.95 1)">0</text>
<text x="343.4" y="992.3" font-size="14.5" text-anchor="middle">umap_1</text>
<text x="257.3" y="910.5" font-size="14.5" text-anchor="middle" transform="rotate(-90 257.3 910.5)">umap_2</text>
<rect x="418.4" y="871.8" width="15.2" height="77.5" fill="url(#cb)"/>
<text x="440.6" y="954.3" font-size="12" fill="#1a1a1a">0</text>
<text x="440.6" y="926.0" font-size="12" fill="#1a1a1a">1</text>
<text x="440.6" y="897.8" font-size="12" fill="#1a1a1a">2</text>
<path d="M418.4,921.0h2.8M430.8,921.0h2.8M418.4,892.7h2.8M430.8,892.7h2.8" stroke="#fff" stroke-width="0.9"/>
<text x="0.0" y="0.0" font-size="15.8" text-anchor="middle" font-weight="bold" transform="translate(571.5 851.8) scale(1.025 1)">VCAN</text>
<g transform="translate(454,340)">
<g fill="#D3D3D3" stroke="#D3D3D3" stroke-width="1" stroke-linejoin="round"><polygon points="126.6,528.5 129.2,529.2 132.5,529.5 136.5,529.9 140.4,531.2 142.4,532.5 145.7,533.1 148.3,532.1 151.6,532.1 154.2,533.1 155.1,535.8 153.8,538.4 153.2,541.0 154.9,543.0 155.5,545.6 158.8,545.0 162.8,543.6 165.4,543.4 168.0,545.0 170.0,547.6 170.6,550.2 169.3,552.8 168.0,555.5 166.7,557.4 164.1,559.4 162.8,562.0 161.4,565.3 160.4,568.6 159.1,572.6 156.2,574.1 153.6,573.2 151.6,571.9 149.6,570.6 148.3,571.9 147.6,574.5 147.0,577.8 145.7,580.0 143.0,580.0 139.8,578.7 136.5,576.8 134.9,572.6 134.5,568.6 134.9,564.7 134.5,560.7 133.6,558.1 132.5,554.8 131.2,552.8 127.3,552.6 124.6,552.2 122.0,551.5 120.7,549.6 119.8,546.3 119.1,543.0 119.4,539.7 120.7,537.1 124.0,535.5 125.7,533.1 125.7,530.5"/><polygon points="107.6,568.6 109.5,565.3 112.2,565.3 114.8,568.0 115.5,569.9 113.5,571.2 112.2,571.9 112.2,575.2 112.8,577.8 110.9,579.1 108.9,578.5 108.6,575.2 108.2,572.6 107.3,570.6"/><polygon points="124.4,581.1 126.6,580.2 128.9,581.8 129.6,584.4 128.9,588.3 128.2,592.3 128.2,596.2 128.6,600.1 129.6,604.1 131.5,607.4 130.6,610.7 127.9,611.3 125.3,610.7 122.7,611.3 119.4,612.0 115.5,612.6 111.5,612.6 110.5,610.7 111.5,608.0 114.1,605.4 116.8,602.8 119.4,601.5 122.0,600.1 123.6,597.5 124.4,593.6 124.6,589.6 124.4,585.7 124.0,583.1"/><polygon points="112.2,595.5 114.1,594.9 115.7,597.1 114.8,599.1 112.8,598.8"/></g>
<g fill="#fff"><polygon points="143.0,552.8 146.3,549.6 150.3,547.6 152.9,549.6 152.2,552.8 148.3,556.8 144.4,556.8"/><polygon points="148.3,566.0 151.6,564.0 154.9,563.4 156.2,565.3 153.6,567.3 150.3,568.0"/><polygon points="127.3,543.4 130.6,543.0 131.5,545.0 128.6,545.6"/></g>
<circle cx="66" cy="590.7" r="1.5" fill="#D3D3D3"/>
<path d="M143.3,541.2h0M136.9,546.8h0M138.5,550.8h0M142.0,543.6h0M164.9,556.6h0M150.7,546.5h0M133.8,531.8h0M133.4,538.9h0M123.6,546.9h0M147.1,547.9h0M143.8,546.8h0M143.3,543.3h0M138.2,555.8h0M126.2,546.6h0M161.6,554.0h0M132.1,546.9h0M137.8,536.0h0M167.1,549.2h0M149.2,540.3h0M134.7,557.4h0M152.9,542.0h0M128.6,550.8h0M147.0,541.9h0M161.7,557.3h0M132.5,553.8h0M165.2,553.9h0M150.3,544.0h0M129.5,535.7h0M162.5,553.8h0M128.3,549.5h0M141.2,554.6h0M169.0,549.5h0M122.4,545.2h0M164.2,554.5h0M123.6,538.3h0M123.0,543.8h0M127.3,530.5h0M126.1,538.9h0M148.6,539.6h0M128.3,546.9h0M152.2,536.6h0M140.5,534.5h0M151.3,547.9h0M127.3,532.8h0M129.0,532.5h0M130.0,550.1h0M167.3,555.0h0M123.9,542.6h0M141.1,543.3h0M142.4,540.6h0M128.2,543.3h0M144.4,539.0h0M127.7,530.2h0M120.0,541.3h0M141.2,536.5h0M142.8,552.3h0M129.4,539.1h0M134.9,556.5h0M162.4,552.6h0M165.0,550.1h0M131.0,545.9h0M108.8,577.0h0" stroke="#AA89E7" stroke-width="2.6" stroke-linecap="round" fill="none"/>
<path d="M146.9,563.5h0M136.5,544.5h0M135.4,537.7h0M134.4,555.8h0M147.7,560.5h0M138.1,576.8h0M145.9,546.6h0M134.9,531.2h0M135.0,551.7h0M141.2,558.3h0M158.3,558.1h0M146.4,537.4h0M162.0,553.8h0M145.5,558.8h0M139.2,537.7h0M162.8,555.3h0M150.0,535.6h0M165.3,554.6h0M132.3,552.8h0M122.3,542.0h0M139.9,551.8h0M123.8,544.1h0M138.2,568.9h0M131.9,547.5h0M137.2,564.3h0M136.3,568.2h0M119.3,541.9h0M141.1,555.4h0M124.5,540.8h0M144.5,539.3h0M122.9,542.9h0M151.2,558.9h0M132.3,529.9h0M146.2,567.1h0M153.4,561.6h0M132.4,554.0h0M156.7,548.5h0M144.7,576.9h0M156.0,551.2h0M136.9,574.3h0M138.1,563.1h0M140.6,540.9h0M143.8,560.2h0M164.3,544.8h0M140.4,536.1h0M160.0,551.4h0M159.6,557.0h0M126.8,539.8h0M169.6,549.3h0M166.8,552.2h0M120.6,538.6h0M154.4,560.6h0M128.1,534.1h0M136.2,557.1h0M140.3,550.1h0M131.4,534.3h0M147.2,559.7h0M135.3,539.1h0M135.5,572.6h0M133.7,530.0h0M145.5,534.3h0M149.4,537.0h0M126.6,535.8h0M127.6,543.2h0M140.6,539.2h0M151.8,559.5h0M142.6,562.3h0M130.7,547.0h0M141.8,537.4h0M162.6,554.0h0M144.2,546.4h0M110.2,574.6h0M109.1,578.2h0M112.0,569.5h0M109.7,567.7h0M110.0,578.1h0M125.9,590.8h0M118.1,607.3h0M114.8,605.7h0M126.1,589.6h0M124.7,590.4h0M124.8,581.6h0M125.7,582.9h0M114.3,597.9h0" stroke="#9D77EC" stroke-width="2.6" stroke-linecap="round" fill="none"/>
<path d="M137.2,572.0h0M150.6,558.9h0M154.9,550.8h0M149.7,558.1h0M158.2,555.1h0M141.0,560.6h0M153.2,550.2h0M152.9,567.5h0M157.4,554.5h0M142.5,573.4h0M150.2,559.0h0M145.1,574.9h0M144.2,573.4h0M156.3,568.0h0M137.2,567.2h0M151.6,557.0h0M156.5,550.7h0M142.5,561.8h0M164.2,556.0h0M151.2,557.8h0M142.1,577.6h0M141.9,573.8h0M136.6,564.5h0M169.9,551.2h0M162.2,546.3h0M137.3,564.2h0M144.7,567.9h0M140.3,565.5h0M143.8,569.7h0M143.1,578.0h0M142.7,561.4h0M121.6,601.2h0M125.4,610.2h0" stroke="#8E65F0" stroke-width="2.6" stroke-linecap="round" fill="none"/>
<path d="M141.8,562.0h0M139.8,578.7h0M146.6,578.5h0M149.8,561.8h0M139.4,568.6h0M143.9,564.9h0M135.6,572.7h0M142.7,577.8h0M155.9,564.0h0M136.5,563.1h0M136.9,559.1h0M120.2,604.4h0" stroke="#7C51F4" stroke-width="2.6" stroke-linecap="round" fill="none"/>
<path d="M115.3,610.8h0M122.4,609.2h0" stroke="#673DF8" stroke-width="2.6" stroke-linecap="round" fill="none"/>
<path d="M151.6,569.1h0M143.8,543.5h0M159.0,564.3h0M152.6,558.4h0M161.0,561.6h0M124.7,548.1h0M164.3,553.3h0M143.1,533.7h0M154.8,563.1h0M156.6,550.0h0M157.1,570.6h0M158.6,547.1h0M139.1,560.9h0M162.6,558.5h0M146.8,532.9h0M166.5,545.3h0M159.9,568.3h0M163.0,560.3h0M153.1,562.4h0M160.5,551.8h0M162.7,557.9h0M135.2,541.3h0M156.7,566.2h0M142.1,557.4h0M143.7,556.2h0M143.7,545.5h0M146.1,542.4h0M129.9,540.6h0M124.0,538.6h0M144.5,537.3h0M159.8,558.8h0M154.3,548.5h0M158.5,565.1h0M126.5,534.4h0M162.1,562.0h0M132.0,548.0h0M138.9,557.4h0M155.3,567.3h0M157.8,555.9h0M156.5,565.6h0M159.4,557.5h0M157.5,557.3h0M136.2,535.0h0M145.4,547.5h0M155.5,546.5h0M149.7,564.8h0M157.6,571.5h0M146.5,538.7h0M141.7,546.1h0M127.0,534.4h0M142.4,555.9h0M122.3,549.3h0M134.4,532.5h0M122.7,544.0h0M154.3,571.7h0M155.8,546.1h0M136.7,540.9h0M154.8,569.2h0M153.1,553.0h0M126.3,536.0h0M146.7,540.5h0M131.5,551.1h0M129.2,547.7h0M167.4,549.1h0M164.9,549.5h0M125.5,544.5h0M167.1,554.6h0M163.8,544.6h0M154.0,563.3h0M151.8,537.5h0M140.2,535.7h0M162.2,558.6h0M153.0,541.2h0M155.6,566.0h0M144.7,549.7h0M145.4,543.7h0M155.0,572.9h0M157.3,571.7h0M153.0,569.1h0M156.6,554.1h0M113.4,567.3h0M111.4,568.9h0M111.8,572.5h0M108.3,571.7h0M112.7,568.9h0M111.9,569.7h0M128.5,602.9h0M122.4,602.1h0M117.0,608.2h0M123.0,600.8h0M120.7,606.4h0M119.9,605.2h0M121.2,606.1h0M127.0,592.5h0M126.5,596.9h0M119.2,603.8h0M115.3,605.2h0M128.5,609.1h0M126.2,610.3h0M113.8,612.1h0M115.2,611.2h0M127.0,589.1h0M115.9,605.3h0M111.9,610.0h0M113.5,606.5h0M118.5,610.4h0M127.8,593.4h0M127.8,599.4h0M126.9,602.3h0M116.5,603.1h0M117.1,607.3h0M120.6,609.2h0M129.3,607.7h0M122.9,606.9h0M113.0,608.4h0M126.6,602.6h0M127.4,601.0h0M121.7,601.1h0M124.0,605.6h0M125.8,587.2h0M118.9,607.6h0M117.3,609.8h0M117.5,605.1h0" stroke="#D3D3D3" stroke-width="2.6" stroke-linecap="round" fill="none"/>
<path d="M139.9,536.1h0M167.4,553.1h0M133.5,549.7h0M138.2,535.9h0M139.0,535.6h0M165.4,553.8h0M139.9,555.9h0M125.1,544.6h0M131.8,531.7h0M121.7,550.2h0M153.5,534.9h0M134.7,537.1h0M131.8,542.1h0M149.5,534.6h0M124.5,550.0h0M142.7,551.1h0M126.8,550.4h0M146.8,537.3h0M124.1,546.3h0M122.1,540.3h0M127.8,542.4h0M166.1,557.2h0M119.4,544.1h0M123.2,538.2h0M130.9,543.0h0M132.5,547.3h0M124.6,551.2h0M128.5,551.5h0M137.0,546.3h0M137.6,551.0h0M153.9,544.9h0M140.9,548.1h0M144.4,548.9h0M131.7,544.3h0M136.8,536.4h0M132.9,549.5h0M147.3,546.3h0M152.0,538.6h0M161.9,552.9h0M139.7,538.3h0M134.0,556.3h0M147.0,540.3h0M126.3,546.6h0M146.8,541.8h0M129.2,534.0h0M148.7,545.5h0M144.8,538.9h0M157.1,547.8h0M124.5,548.6h0M159.4,546.4h0M125.1,544.0h0M143.9,534.2h0M142.3,540.4h0M135.1,544.6h0M139.3,557.2h0M131.4,535.3h0M149.3,542.1h0M136.2,538.7h0M134.5,541.9h0M139.2,547.8h0M134.1,533.9h0M122.1,546.5h0M113.3,568.0h0M107.8,570.1h0M111.8,576.6h0M126.1,586.5h0M125.1,586.8h0" stroke="#AA89E7" stroke-width="2.6" stroke-linecap="round" fill="none"/>
<path d="M147.1,558.1h0M123.2,536.2h0M169.2,548.1h0M143.0,547.1h0M148.8,566.8h0M145.8,535.4h0M157.3,548.9h0M127.1,536.7h0M121.1,537.3h0M128.6,548.6h0M139.0,534.1h0M141.0,555.8h0M138.8,543.5h0M140.7,554.5h0M144.6,557.7h0M152.6,537.5h0M134.3,534.1h0M158.2,559.7h0M154.0,534.9h0M168.4,553.6h0M129.2,533.8h0M142.5,544.5h0M163.0,553.4h0M137.6,543.9h0M147.3,558.9h0M156.8,551.0h0M121.1,537.3h0M139.2,535.0h0M143.4,542.5h0M143.5,563.8h0M141.7,532.4h0M132.4,533.7h0M134.5,552.8h0M151.3,548.1h0M138.5,568.8h0M145.5,547.1h0M157.6,570.5h0M144.8,577.8h0M132.9,539.1h0M140.8,534.8h0M125.2,541.3h0M145.3,570.3h0M146.4,557.1h0M144.6,540.9h0M143.7,538.9h0M168.2,552.1h0M126.1,545.8h0M126.4,545.7h0M134.4,533.2h0M125.3,543.8h0M151.4,559.4h0M147.0,542.1h0M167.2,551.2h0M157.6,557.1h0M143.3,564.6h0M135.3,537.3h0M154.1,562.6h0M139.2,546.5h0M141.6,541.2h0M131.5,535.0h0M158.5,559.0h0M138.7,537.1h0M138.4,541.2h0M143.1,551.1h0M121.7,550.3h0M135.3,530.0h0M165.4,550.1h0M129.0,543.0h0M150.3,569.6h0M151.9,553.8h0M139.4,543.2h0M137.4,567.9h0M140.0,541.3h0M133.0,549.0h0M135.8,541.4h0M113.6,570.0h0M109.7,565.9h0M113.9,569.7h0M125.4,588.6h0M127.1,590.0h0" stroke="#9D77EC" stroke-width="2.6" stroke-linecap="round" fill="none"/>
<path d="M161.3,553.3h0M146.2,568.5h0M143.0,570.6h0M159.4,571.1h0M141.2,558.2h0M135.8,569.6h0M141.9,570.6h0M155.7,551.5h0M149.0,567.7h0M135.5,572.3h0M138.4,563.8h0M138.9,561.3h0M140.8,571.7h0M139.2,572.7h0M141.7,560.1h0M145.1,562.6h0M143.2,576.9h0M146.5,562.9h0M146.1,563.2h0M149.1,559.4h0M154.1,550.5h0M158.1,547.5h0M147.5,559.4h0M142.7,564.5h0M135.2,566.5h0M161.4,551.5h0M154.6,549.9h0M145.7,569.9h0M169.4,547.1h0M141.0,560.3h0M145.6,562.5h0M143.2,565.3h0M142.4,573.8h0M160.3,559.1h0M165.4,555.7h0M145.3,559.8h0M137.2,572.5h0M146.6,558.7h0M157.4,566.8h0M137.5,574.2h0M158.9,565.2h0M137.9,564.7h0M119.3,606.8h0M119.2,607.3h0" stroke="#8E65F0" stroke-width="2.6" stroke-linecap="round" fill="none"/>
<path d="M146.8,569.7h0M136.5,559.0h0M142.6,568.1h0M142.4,562.4h0M136.6,560.0h0M150.3,562.3h0M140.4,570.8h0M122.4,608.1h0" stroke="#7C51F4" stroke-width="2.6" stroke-linecap="round" fill="none"/>
<path d="M126.4,594.9h0" stroke="#673DF8" stroke-width="2.6" stroke-linecap="round" fill="none"/>
<path d="M165.2,543.9h0M124.6,550.9h0M153.3,567.7h0M143.4,540.2h0M143.8,556.8h0M154.6,563.2h0M137.9,544.6h0M158.5,557.2h0M149.8,533.9h0M148.1,546.9h0M160.5,565.3h0M120.0,541.5h0M141.5,559.1h0M128.6,550.6h0M165.6,552.5h0M141.7,542.6h0M160.9,555.8h0M125.3,539.0h0M141.5,544.3h0M122.5,546.0h0M142.0,538.4h0M128.2,551.5h0M157.1,570.3h0M157.2,567.3h0M159.8,565.2h0M127.7,541.4h0M142.8,550.2h0M147.7,537.6h0M142.4,540.9h0M126.8,534.0h0M136.0,556.5h0M153.6,542.7h0M130.4,545.3h0M156.9,564.3h0M129.1,548.1h0M161.6,548.5h0M121.9,546.3h0M122.7,546.1h0M152.5,570.0h0M140.7,574.8h0M148.0,538.2h0M149.1,559.6h0M159.5,548.3h0M162.3,553.6h0M135.4,555.5h0M144.4,557.5h0M144.6,536.5h0M147.0,538.6h0M155.1,561.4h0M146.0,542.5h0M150.5,533.5h0M167.6,551.1h0M142.9,551.7h0M145.5,539.9h0M151.7,532.4h0M147.0,569.3h0M122.9,538.3h0M159.3,561.3h0M145.4,544.3h0M126.4,529.6h0M152.0,571.5h0M158.2,566.8h0M133.7,548.8h0M135.4,569.7h0M148.2,544.4h0M134.7,540.6h0M138.6,543.8h0M167.4,548.4h0M111.3,577.1h0M112.4,566.4h0M111.9,567.9h0M107.6,569.0h0M114.0,570.4h0M127.5,594.2h0M127.5,611.2h0M124.7,607.0h0M119.3,610.7h0M118.2,610.6h0M117.1,606.1h0M127.8,603.5h0M122.4,610.5h0M123.4,607.2h0M125.5,594.9h0M128.1,608.2h0M117.1,611.4h0M126.6,605.1h0M112.0,610.0h0M124.9,609.3h0M127.6,596.7h0M125.3,607.4h0M113.5,611.4h0M129.7,609.9h0M122.4,603.1h0M121.9,606.7h0M124.1,600.7h0M127.8,586.4h0M123.9,606.7h0M116.3,610.3h0M117.9,611.6h0M122.0,601.4h0M121.6,603.4h0M118.6,610.8h0M117.1,603.9h0M128.2,603.5h0M116.6,612.3h0M117.5,602.8h0M128.5,600.5h0M118.4,603.5h0M114.4,610.3h0M127.4,601.0h0M123.7,598.4h0M120.4,603.0h0M122.4,610.1h0M128.2,598.6h0M112.9,598.4h0M113.1,598.3h0" stroke="#D3D3D3" stroke-width="2.6" stroke-linecap="round" fill="none"/>
<path d="M127.5,531.0h0M150.7,533.4h0M132.9,536.5h0M131.2,547.7h0M130.6,534.5h0M123.5,544.7h0M165.7,544.1h0M122.9,542.5h0M132.5,547.0h0M126.0,539.0h0M157.0,547.7h0M160.5,553.1h0M136.0,541.4h0M162.1,545.3h0M136.8,539.3h0M141.1,535.3h0M138.9,558.1h0M149.6,545.1h0M130.9,539.1h0M144.8,543.7h0M129.1,550.0h0M129.6,539.9h0M136.4,537.1h0M146.0,541.7h0M132.0,535.1h0M133.5,546.3h0M143.1,545.3h0M158.3,546.0h0M121.0,543.1h0M125.6,540.2h0M166.8,555.7h0M132.8,541.5h0M164.8,554.8h0M135.1,539.7h0M125.6,536.9h0M162.0,558.4h0M146.8,542.3h0M143.7,537.0h0M152.0,539.6h0M143.5,549.8h0M134.0,548.9h0M143.4,555.2h0M133.9,537.6h0M123.4,543.3h0M167.4,550.6h0M122.4,550.1h0M141.4,539.9h0M145.6,545.3h0M130.2,539.4h0M121.2,541.4h0M128.1,542.0h0M128.8,540.4h0M131.8,551.0h0M139.2,531.4h0M111.7,577.4h0M108.4,573.1h0M111.7,569.6h0M108.9,573.1h0M109.4,571.9h0M125.6,586.1h0" stroke="#AA89E7" stroke-width="2.6" stroke-linecap="round" fill="none"/>
<path d="M119.8,539.7h0M135.4,553.3h0M134.3,551.9h0M144.8,546.0h0M152.5,569.6h0M135.5,537.9h0M149.8,557.6h0M149.8,541.9h0M157.5,559.0h0M155.6,561.1h0M144.8,545.6h0M141.4,544.7h0M138.4,548.4h0M161.3,544.7h0M138.4,533.6h0M125.8,546.9h0M161.1,550.1h0M137.2,541.3h0M144.7,578.1h0M142.7,548.3h0M138.3,568.5h0M150.6,569.4h0M154.5,551.6h0M140.2,545.5h0M130.8,529.9h0M153.9,546.0h0M152.7,548.4h0M133.8,542.2h0M127.5,545.6h0M122.5,537.6h0M135.2,542.9h0M165.2,551.3h0M153.0,557.5h0M167.9,553.0h0M165.0,558.3h0M144.7,550.3h0M148.8,534.4h0M149.0,544.1h0M144.8,567.4h0M137.9,576.7h0M133.0,550.0h0M135.0,562.8h0M139.3,575.5h0M157.2,547.7h0M147.3,543.2h0M143.4,543.5h0M141.2,554.7h0M145.2,538.5h0M145.7,569.6h0M157.4,571.9h0M134.9,542.1h0M143.1,537.2h0M138.0,531.5h0M144.4,550.7h0M158.3,561.6h0M129.1,552.6h0M128.1,546.6h0M128.9,548.1h0M162.2,558.7h0M148.5,559.1h0M150.4,539.3h0M137.3,540.3h0M130.0,540.6h0M148.3,547.4h0M141.8,552.6h0M134.9,538.4h0M164.7,554.3h0M137.8,546.0h0M158.1,557.1h0M138.2,562.8h0M156.9,553.0h0M154.4,548.0h0M157.6,551.5h0M135.2,536.4h0M151.7,546.1h0M165.2,548.9h0M127.8,551.2h0M133.8,544.3h0M149.7,556.6h0M168.8,547.4h0M130.9,542.7h0M153.0,546.0h0M153.9,545.9h0M137.8,534.2h0M108.9,571.1h0M109.3,566.1h0M125.4,590.5h0M126.7,590.9h0M127.0,585.8h0M124.8,581.3h0M114.4,595.4h0" stroke="#9D77EC" stroke-width="2.6" stroke-linecap="round" fill="none"/>
<path d="M137.8,564.8h0M143.4,577.2h0M160.2,545.2h0M154.6,557.0h0M140.4,573.6h0M142.2,566.5h0M164.3,551.1h0M152.0,553.7h0M136.2,563.8h0M158.6,556.5h0M153.8,555.4h0M156.3,550.6h0M134.7,559.8h0M149.0,561.7h0M137.6,563.9h0M159.8,558.2h0M140.1,560.8h0M148.1,564.0h0M163.7,546.3h0M139.6,567.1h0M142.4,572.1h0M146.6,570.4h0M158.1,550.3h0M144.0,578.5h0M136.2,562.7h0M162.8,556.3h0M143.6,573.2h0M138.4,574.2h0M145.2,574.3h0M158.3,552.6h0M137.2,567.1h0M165.6,552.1h0M141.0,575.0h0M152.6,553.1h0M148.2,563.0h0M142.4,573.5h0M150.3,556.3h0M127.6,605.0h0M125.3,590.6h0M126.5,590.0h0" stroke="#8E65F0" stroke-width="2.6" stroke-linecap="round" fill="none"/>
<path d="M137.8,559.1h0M144.8,564.4h0M144.5,568.9h0M146.8,572.7h0M142.8,568.0h0M136.3,565.9h0M143.3,566.9h0M136.8,560.9h0M145.6,559.9h0M140.7,576.7h0M117.3,609.7h0" stroke="#7C51F4" stroke-width="2.6" stroke-linecap="round" fill="none"/>
<path d="M121.3,600.9h0" stroke="#673DF8" stroke-width="2.6" stroke-linecap="round" fill="none"/>
<path d="M137.7,537.1h0M123.8,546.1h0M159.3,558.5h0M161.9,561.9h0M129.6,530.6h0M143.2,543.1h0M131.7,531.1h0M156.6,564.7h0M125.2,544.9h0M135.5,529.9h0M157.9,563.0h0M162.4,553.1h0M122.5,539.2h0M127.8,552.1h0M129.8,551.9h0M156.3,560.0h0M127.1,539.7h0M141.2,539.3h0M126.3,531.3h0M124.3,547.6h0M154.8,572.8h0M141.1,551.2h0M142.0,536.3h0M157.6,566.0h0M142.5,543.3h0M133.2,555.6h0M143.1,556.6h0M141.9,557.7h0M126.8,544.7h0M119.5,544.3h0M127.9,540.1h0M129.3,551.3h0M154.3,550.6h0M143.2,556.8h0M139.1,571.0h0M144.8,535.3h0M124.2,539.0h0M134.7,548.4h0M155.7,546.8h0M145.0,549.4h0M150.9,568.3h0M124.0,547.7h0M134.1,557.5h0M154.2,570.3h0M132.0,531.0h0M155.0,567.2h0M152.3,570.8h0M142.0,557.9h0M150.8,544.8h0M121.9,550.2h0M164.3,545.6h0M157.0,550.5h0M128.5,537.3h0M159.8,569.7h0M155.7,572.4h0M158.6,562.0h0M148.8,544.4h0M157.9,564.2h0M144.9,549.0h0M153.2,563.5h0M152.8,548.0h0M156.6,549.2h0M155.3,571.2h0M156.5,558.1h0M166.4,553.0h0M144.0,543.3h0M128.0,534.6h0M155.1,559.8h0M109.5,578.0h0M108.4,568.0h0M109.6,574.0h0M114.6,567.9h0M113.1,570.7h0M129.2,610.4h0M122.7,605.5h0M122.1,611.0h0M122.0,602.5h0M121.7,608.9h0M127.6,609.2h0M124.9,605.2h0M130.3,606.4h0M128.1,593.7h0M114.9,606.8h0M112.5,610.2h0M116.9,607.3h0M127.5,602.9h0M114.4,611.7h0M126.8,587.2h0M126.7,601.3h0M120.5,600.9h0M122.2,611.4h0M127.5,589.6h0M112.3,611.4h0M129.0,608.4h0M111.9,608.3h0M120.4,609.0h0M123.0,607.5h0M122.3,605.0h0M129.8,607.2h0M114.5,605.1h0M126.4,609.8h0M126.5,608.5h0M122.5,608.3h0M125.8,597.9h0M113.9,610.9h0M123.2,601.3h0M125.7,601.6h0M125.0,603.8h0M118.7,611.4h0M130.7,606.7h0M120.5,606.2h0M126.6,610.5h0M114.1,598.5h0" stroke="#D3D3D3" stroke-width="2.6" stroke-linecap="round" fill="none"/>
<path d="M169.4,551.9h0M123.7,542.6h0M133.6,553.6h0M129.1,530.4h0M140.5,545.0h0M164.9,553.3h0M132.2,542.8h0M139.6,531.6h0M138.8,535.2h0M135.2,548.3h0M138.4,552.2h0M121.1,548.4h0M146.4,548.6h0M136.8,535.9h0M133.7,545.7h0M152.3,540.3h0M126.9,528.9h0M153.1,541.1h0M139.4,544.9h0M132.4,553.3h0M121.7,550.5h0M129.1,539.8h0M143.4,547.7h0M143.0,539.4h0M129.1,537.1h0M163.9,550.4h0M131.8,538.8h0M151.1,538.7h0M149.0,542.7h0M152.1,539.8h0M130.8,539.3h0M152.2,544.8h0M132.5,553.4h0M139.7,548.2h0M137.8,540.9h0M127.8,529.4h0M138.0,555.5h0M145.8,547.6h0M123.3,545.9h0M134.0,537.2h0M142.7,540.0h0M151.7,546.3h0M153.5,534.0h0M130.3,546.2h0M123.9,546.2h0M148.5,534.0h0M141.3,534.6h0M135.0,532.3h0M159.8,551.7h0M127.2,536.5h0M131.3,535.7h0M135.6,542.2h0M127.8,532.9h0M132.2,542.2h0M143.7,546.9h0M137.4,548.1h0M120.5,545.6h0M140.5,537.6h0M152.0,544.1h0M113.7,567.4h0M128.7,586.2h0" stroke="#AA89E7" stroke-width="2.6" stroke-linecap="round" fill="none"/>
<path d="M150.9,535.1h0M136.6,576.1h0M140.0,540.8h0M153.4,550.2h0M147.2,546.0h0M152.3,559.6h0M167.5,547.8h0M151.3,546.8h0M160.6,550.9h0M129.5,529.8h0M140.8,544.7h0M154.1,555.4h0M159.8,558.2h0M141.9,552.8h0M122.9,548.2h0M150.7,539.9h0M126.6,542.3h0M148.2,543.5h0M167.5,552.5h0M156.8,554.6h0M123.7,539.9h0M161.5,554.4h0M142.7,542.9h0M121.5,540.1h0M156.2,553.8h0M133.7,530.4h0M153.4,558.6h0M137.0,553.0h0M143.4,559.5h0M138.1,560.3h0M137.4,541.4h0M164.1,544.9h0M145.7,547.7h0M154.2,552.9h0M132.8,545.6h0M137.1,535.2h0M152.7,560.9h0M152.0,557.6h0M136.8,534.0h0M154.1,555.5h0M155.5,549.0h0M143.3,578.1h0M146.6,578.3h0M130.0,549.0h0M163.2,558.9h0M150.0,536.9h0M122.8,551.0h0M119.5,543.9h0M129.2,536.3h0M154.5,561.8h0M132.7,530.0h0M139.7,571.9h0M145.5,537.6h0M148.9,565.1h0M123.9,548.3h0M159.8,555.4h0M146.7,548.6h0M150.8,561.6h0M145.5,541.5h0M166.1,556.2h0M153.2,535.0h0M155.8,553.0h0M154.3,533.7h0M142.2,579.0h0M122.9,536.8h0M136.0,536.8h0M137.7,560.0h0M135.4,550.0h0M165.2,556.3h0M159.5,545.6h0M141.7,578.1h0M143.4,550.5h0M120.1,540.1h0M137.3,545.4h0M135.3,543.9h0M148.2,544.1h0M167.8,550.5h0M120.4,543.5h0M159.5,556.9h0M112.3,571.5h0M113.0,570.2h0M113.7,569.0h0M108.3,572.5h0M128.7,585.7h0M125.9,590.1h0" stroke="#9D77EC" stroke-width="2.6" stroke-linecap="round" fill="none"/>
<path d="M137.0,561.7h0M156.0,547.8h0M148.1,559.6h0M151.5,561.5h0M156.1,549.7h0M149.9,567.6h0M154.2,552.3h0M152.7,556.3h0M163.7,553.4h0M152.9,553.8h0M160.7,556.0h0M138.2,558.6h0M144.3,577.1h0M141.6,569.7h0M164.4,547.7h0M160.2,548.7h0M145.9,558.7h0M146.5,564.6h0M137.1,567.5h0M139.0,566.0h0M142.0,561.5h0M153.5,548.8h0M138.9,570.5h0M159.6,561.2h0M167.9,550.2h0M157.2,573.2h0M136.7,559.2h0M151.1,569.1h0M149.5,567.4h0M140.1,572.6h0M140.8,563.7h0M139.7,569.0h0M115.1,610.5h0M116.6,603.1h0M126.6,610.5h0" stroke="#8E65F0" stroke-width="2.6" stroke-linecap="round" fill="none"/>
<path d="M144.0,575.5h0M144.0,574.0h0M140.9,578.6h0M145.6,575.8h0M141.7,573.8h0M135.0,568.6h0M148.3,569.8h0M142.2,558.8h0M138.8,567.0h0M140.5,568.4h0M144.7,577.8h0M147.0,575.3h0M137.9,566.9h0M137.7,559.3h0M149.1,563.3h0M115.0,606.4h0M120.2,607.7h0M113.5,609.4h0" stroke="#7C51F4" stroke-width="2.6" stroke-linecap="round" fill="none"/>
<path d="M126.6,531.9h0M157.7,572.1h0M150.5,546.6h0M121.0,541.5h0M159.9,562.7h0M155.9,562.3h0M156.9,565.5h0M144.2,558.0h0M125.8,532.8h0M150.7,540.4h0M166.3,552.3h0M162.9,560.4h0M154.3,573.0h0M154.5,571.7h0M124.3,538.5h0M158.3,565.7h0M139.0,576.6h0M152.3,547.9h0M126.2,531.2h0M129.7,533.1h0M126.0,537.2h0M160.1,568.1h0M154.3,567.8h0M154.3,568.2h0M149.7,533.4h0M133.5,551.7h0M154.9,554.8h0M120.7,542.4h0M135.5,554.3h0M143.1,575.4h0M138.0,536.1h0M127.2,529.6h0M136.9,541.0h0M167.0,552.8h0M145.3,536.8h0M162.2,561.6h0M143.0,540.5h0M134.4,537.4h0M135.1,551.2h0M159.5,554.7h0M151.6,560.2h0M141.1,548.8h0M153.7,542.5h0M136.2,530.7h0M141.2,538.1h0M155.4,557.7h0M155.8,550.0h0M140.1,535.2h0M131.3,536.2h0M166.3,549.9h0M148.7,559.0h0M134.8,530.7h0M150.4,545.6h0M152.4,546.8h0M165.6,552.9h0M125.4,534.4h0M150.2,560.7h0M144.0,550.3h0M147.0,542.3h0M153.5,533.1h0M151.0,569.5h0M138.1,544.0h0M157.2,571.0h0M134.0,556.5h0M149.8,541.9h0M154.4,567.5h0M153.6,553.4h0M151.5,534.1h0M113.6,568.3h0M110.8,570.0h0M112.0,566.4h0M110.5,578.1h0M109.2,577.9h0M111.6,573.8h0M111.6,571.4h0M123.3,610.2h0M128.3,597.9h0M128.5,605.4h0M114.4,612.5h0M117.2,602.9h0M122.5,604.6h0M122.8,609.0h0M116.0,608.8h0M127.1,609.1h0M129.5,604.8h0M114.8,609.4h0M127.7,593.9h0M113.4,608.9h0M127.0,592.3h0M127.7,606.4h0M121.9,608.5h0M126.1,600.1h0M127.2,608.3h0M128.3,609.7h0M124.6,601.5h0M125.8,583.0h0M113.3,607.2h0M125.2,603.3h0M115.3,612.6h0M127.7,603.2h0M126.0,600.0h0M114.1,612.0h0M127.6,595.2h0M122.4,608.1h0M118.1,606.4h0M117.3,603.4h0M114.0,607.0h0M126.5,582.4h0M121.2,609.2h0M112.2,610.4h0M126.1,584.9h0M117.9,609.6h0M125.7,584.4h0M118.6,610.5h0M119.1,604.2h0M114.7,598.4h0M114.5,596.1h0" stroke="#D3D3D3" stroke-width="2.6" stroke-linecap="round" fill="none"/>
<path d="M147.2,544.6h0M146.6,545.9h0M149.7,540.8h0M131.2,545.7h0M131.7,532.9h0M139.8,535.9h0M133.8,532.5h0M123.4,549.3h0M134.4,545.9h0M123.9,546.9h0M129.3,529.5h0M165.5,557.1h0M134.7,537.8h0M123.8,551.5h0M140.8,549.9h0M139.2,537.1h0M134.9,547.4h0M128.1,549.7h0M119.7,544.2h0M144.1,536.2h0M121.3,538.3h0M131.7,550.3h0M162.2,559.1h0M132.9,549.8h0M137.1,549.8h0M167.9,551.1h0M158.5,548.5h0M159.8,552.2h0M139.3,531.9h0M148.9,540.2h0M125.3,536.0h0M130.1,548.6h0M129.9,540.7h0M144.4,535.4h0M136.1,547.5h0M151.6,543.7h0M132.4,551.9h0M128.8,534.2h0M132.5,535.4h0M124.9,547.5h0M140.4,555.5h0M133.0,551.2h0M151.2,541.9h0M127.7,545.3h0M134.2,533.3h0M144.5,550.0h0M151.6,548.5h0M149.1,533.1h0M151.7,543.0h0M138.4,556.7h0M135.7,554.3h0M135.4,533.5h0M151.2,539.4h0M167.1,548.8h0M137.7,543.0h0M121.2,538.6h0M110.2,570.1h0M111.6,576.6h0M110.2,574.3h0M126.4,586.3h0" stroke="#AA89E7" stroke-width="2.6" stroke-linecap="round" fill="none"/>
<path d="M129.9,539.6h0M138.0,558.3h0M143.1,548.1h0M161.3,550.1h0M150.8,535.8h0M139.0,548.7h0M140.5,536.8h0M131.0,532.6h0M132.3,549.5h0M122.5,537.3h0M141.2,547.2h0M141.5,551.3h0M134.9,542.3h0M128.6,538.3h0M127.2,533.3h0M134.4,534.6h0M140.8,542.5h0M134.5,551.7h0M142.8,562.0h0M143.1,533.8h0M142.0,575.8h0M155.8,560.2h0M153.0,558.5h0M160.0,550.0h0M158.1,553.1h0M131.7,543.5h0M136.0,563.9h0M137.0,554.6h0M135.6,560.7h0M130.5,552.0h0M127.4,549.2h0M153.9,545.9h0M140.1,542.3h0M126.8,539.0h0M138.5,534.4h0M134.1,541.7h0M136.1,540.8h0M125.9,551.3h0M136.1,535.0h0M144.3,575.1h0M131.4,537.6h0M143.9,545.3h0M151.9,553.3h0M151.4,560.6h0M128.4,551.1h0M153.5,558.3h0M150.9,538.7h0M156.8,560.9h0M155.0,554.6h0M141.3,534.8h0M155.8,548.1h0M126.1,545.0h0M125.3,537.5h0M124.4,545.7h0M148.1,539.8h0M141.1,577.8h0M138.1,554.6h0M130.0,547.0h0M141.8,545.6h0M154.1,560.7h0M136.4,545.2h0M141.0,567.0h0M133.1,536.1h0M130.0,547.1h0M121.3,537.1h0M155.7,549.0h0M133.8,538.6h0M143.9,566.5h0M137.7,557.6h0M151.8,534.8h0M139.9,578.1h0M119.6,545.4h0M150.0,537.5h0M144.7,549.7h0M157.5,549.3h0M111.5,573.7h0M109.8,575.3h0M125.6,590.2h0M125.6,585.3h0M126.4,588.0h0M126.4,590.5h0M127.6,581.1h0M125.1,590.7h0M126.8,589.8h0M126.8,587.6h0M126.0,582.0h0" stroke="#9D77EC" stroke-width="2.6" stroke-linecap="round" fill="none"/>
<path d="M144.3,566.1h0M137.7,569.0h0M151.3,568.4h0M142.6,575.7h0M145.2,575.4h0M163.0,555.2h0M138.5,560.7h0M143.7,564.8h0M147.5,571.3h0M157.2,557.4h0M138.8,561.2h0M162.4,547.4h0M156.7,549.5h0M144.8,558.5h0M150.8,563.0h0M158.3,558.2h0M167.3,545.4h0M164.7,552.4h0M154.3,550.4h0M163.9,552.9h0M144.0,574.1h0M134.0,558.8h0M135.1,572.0h0M145.2,574.5h0M135.4,560.3h0M149.0,557.8h0M136.6,566.8h0M142.7,573.8h0M151.2,564.0h0M146.8,572.8h0M148.7,562.9h0M145.0,577.8h0M145.7,576.5h0M141.1,565.5h0M157.2,553.4h0M164.1,554.3h0M153.4,563.4h0M149.9,568.9h0M156.5,551.6h0M138.0,558.4h0M144.7,568.8h0M157.5,556.4h0M157.8,551.4h0M125.8,589.0h0M122.4,609.0h0M126.0,584.4h0M123.0,605.6h0" stroke="#8E65F0" stroke-width="2.6" stroke-linecap="round" fill="none"/>
<path d="M134.7,559.6h0M143.3,574.4h0M146.0,571.7h0M141.1,575.6h0M137.8,571.6h0M136.6,566.0h0M139.0,568.4h0M136.6,560.2h0M143.2,558.8h0M145.5,560.4h0M145.7,564.3h0M147.6,559.3h0M137.2,560.6h0M145.5,573.5h0M115.7,606.3h0M126.6,606.1h0" stroke="#7C51F4" stroke-width="2.6" stroke-linecap="round" fill="none"/>
<path d="M126.0,602.0h0" stroke="#673DF8" stroke-width="2.6" stroke-linecap="round" fill="none"/>
<path d="M142.6,550.3h0M158.8,564.1h0M157.1,571.2h0M133.9,553.1h0M127.5,543.3h0M127.5,540.9h0M157.9,557.2h0M139.4,539.6h0M151.2,569.8h0M157.2,560.0h0M123.5,542.9h0M138.1,553.1h0M161.8,560.8h0M137.3,532.6h0M158.8,545.9h0M142.0,563.9h0M151.2,571.5h0M132.5,552.1h0M126.8,529.0h0M155.4,566.3h0M152.3,535.4h0M143.8,534.6h0M165.2,550.4h0M134.8,532.8h0M164.8,543.9h0M154.5,545.5h0M143.4,557.5h0M161.2,545.4h0M128.2,538.7h0M122.9,546.0h0M151.1,535.3h0M151.6,532.8h0M146.8,557.5h0M158.4,568.8h0M153.7,570.8h0M154.3,560.2h0M154.8,567.2h0M157.7,567.3h0M141.7,537.3h0M158.9,560.0h0M153.0,568.8h0M152.2,546.2h0M155.8,572.0h0M143.0,540.8h0M139.0,557.8h0M132.3,546.0h0M133.6,549.0h0M147.2,545.8h0M142.0,549.1h0M158.8,567.8h0M156.1,564.6h0M168.8,546.1h0M150.2,559.7h0M139.6,559.5h0M129.1,538.2h0M146.8,577.6h0M158.7,559.2h0M142.0,546.0h0M155.2,567.1h0M160.2,561.0h0M121.1,546.1h0M134.8,529.9h0M130.4,541.5h0M161.6,546.2h0M156.0,547.2h0M111.6,572.0h0M111.3,565.4h0M110.7,571.3h0M109.3,576.5h0M108.7,572.6h0M111.8,576.6h0M112.1,573.3h0M122.2,600.7h0M127.6,593.4h0M118.3,603.4h0M128.6,607.0h0M126.1,600.3h0M128.8,582.9h0M125.3,605.6h0M127.3,588.9h0M128.0,600.7h0M113.4,606.8h0M127.7,606.0h0M128.3,587.1h0M114.7,609.1h0M117.8,605.2h0M127.4,593.1h0M116.8,609.5h0M123.3,606.5h0M119.9,609.8h0M124.6,605.5h0M130.7,606.4h0M118.8,610.2h0M117.7,602.5h0M127.4,605.9h0M120.3,610.0h0M120.2,602.5h0M127.0,601.3h0M124.0,602.5h0M126.1,606.1h0M128.0,610.0h0M127.0,605.9h0M114.7,607.9h0M126.6,598.7h0M114.6,595.9h0M114.1,595.1h0" stroke="#D3D3D3" stroke-width="2.6" stroke-linecap="round" fill="none"/>
<circle cx="139.1" cy="566.0" r="9.85" fill="none" stroke="#E8101A" stroke-width="1.5" stroke-dasharray="1.3 1.3"/>
</g>
<path d="M513.4,861.0V959.2H630.5" fill="none" stroke="#333" stroke-width="1.1"/>
<path d="M546.5,959.2v3.7M592.5,959.2v3.7M513.4,875.6h-3.7M513.4,900.4h-3.7M513.4,925.1h-3.7M513.4,949.9h-3.7" fill="none" stroke="#333" stroke-width="1.1"/>
<text x="0.0" y="0.0" font-size="13" text-anchor="end" fill="#2a2a2a" transform="translate(506.8 880.9) scale(0.95 1)">5</text>
<text x="0.0" y="0.0" font-size="13" text-anchor="end" fill="#2a2a2a" transform="translate(506.8 905.7) scale(0.95 1)">0</text>
<text x="0.0" y="0.0" font-size="13" text-anchor="end" fill="#2a2a2a" transform="translate(506.8 930.4) scale(0.95 1)">-5</text>
<text x="0.0" y="0.0" font-size="13" text-anchor="end" fill="#2a2a2a" transform="translate(506.8 955.2) scale(0.95 1)">-10</text>
<text x="0.0" y="0.0" font-size="13" text-anchor="middle" fill="#2a2a2a" transform="translate(546.5 976.4) scale(0.95 1)">-10</text>
<text x="0.0" y="0.0" font-size="13" text-anchor="middle" fill="#2a2a2a" transform="translate(592.5 976.4) scale(0.95 1)">0</text>
<text x="570.4" y="992.3" font-size="14.5" text-anchor="middle">umap_1</text>
<text x="484.3" y="910.5" font-size="14.5" text-anchor="middle" transform="rotate(-90 484.3 910.5)">umap_2</text>
<rect x="645.4" y="871.8" width="15.2" height="77.5" fill="url(#cb)"/>
<text x="667.6" y="954.3" font-size="12" fill="#1a1a1a">0</text>
<text x="667.6" y="931.6" font-size="12" fill="#1a1a1a">1</text>
<text x="667.6" y="908.9" font-size="12" fill="#1a1a1a">2</text>
<text x="667.6" y="886.1" font-size="12" fill="#1a1a1a">3</text>
<path d="M645.4,926.6h2.8M657.8,926.6h2.8M645.4,903.8h2.8M657.8,903.8h2.8M645.4,881.1h2.8M657.8,881.1h2.8" stroke="#fff" stroke-width="0.9"/>
</svg></body></html>
